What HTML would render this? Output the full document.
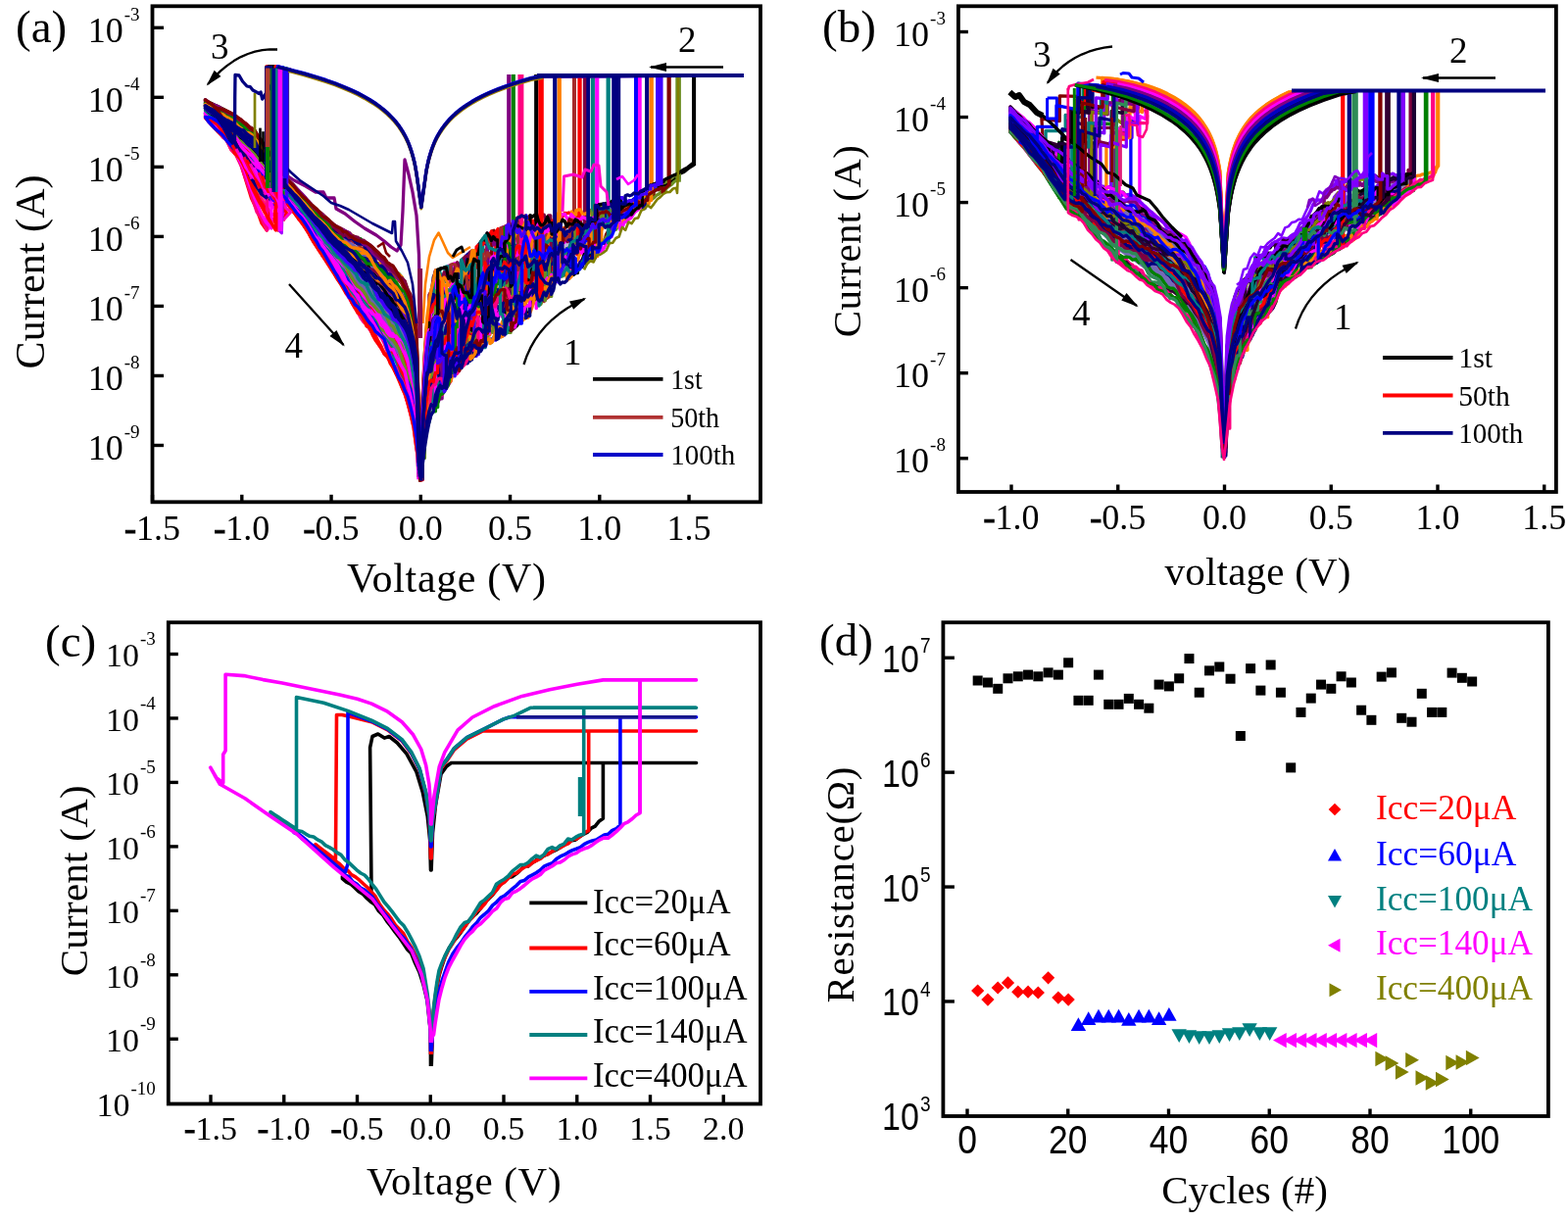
<!DOCTYPE html>
<html><head><meta charset="utf-8"><title>Figure</title>
<style>html,body{margin:0;padding:0;background:#fff}svg{display:block}</style>
</head><body>
<svg width="1600" height="1246" viewBox="0 0 1600 1246">
<defs><filter id="soft" x="0" y="0" width="1600" height="1246" filterUnits="userSpaceOnUse"><feGaussianBlur stdDeviation="0.6"/></filter></defs>
<rect width="1600" height="1246" fill="#fff"/>
<g filter="url(#soft)">
<g id="pa">
<rect x="155.5" y="6.3" width="620.5" height="506" fill="none" stroke="#000" stroke-width="3.8"/>
<line x1="155.55" y1="504.8" x2="155.55" y2="512.3" stroke="#000" stroke-width="3.4"/>
<text x="155.55" y="551" font-size="36" text-anchor="middle" font-family='"Liberation Serif", serif' fill="#000" ><tspan stroke="#000" stroke-width="1.1">-</tspan>1.5</text>
<line x1="246.8" y1="504.8" x2="246.8" y2="512.3" stroke="#000" stroke-width="3.4"/>
<text x="246.8" y="551" font-size="36" text-anchor="middle" font-family='"Liberation Serif", serif' fill="#000" ><tspan stroke="#000" stroke-width="1.1">-</tspan>1.0</text>
<line x1="338.05" y1="504.8" x2="338.05" y2="512.3" stroke="#000" stroke-width="3.4"/>
<text x="338.05" y="551" font-size="36" text-anchor="middle" font-family='"Liberation Serif", serif' fill="#000" ><tspan stroke="#000" stroke-width="1.1">-</tspan>0.5</text>
<line x1="429.3" y1="504.8" x2="429.3" y2="512.3" stroke="#000" stroke-width="3.4"/>
<text x="429.3" y="551" font-size="36" text-anchor="middle" font-family='"Liberation Serif", serif' fill="#000" >0.0</text>
<line x1="520.55" y1="504.8" x2="520.55" y2="512.3" stroke="#000" stroke-width="3.4"/>
<text x="520.55" y="551" font-size="36" text-anchor="middle" font-family='"Liberation Serif", serif' fill="#000" >0.5</text>
<line x1="611.8" y1="504.8" x2="611.8" y2="512.3" stroke="#000" stroke-width="3.4"/>
<text x="611.8" y="551" font-size="36" text-anchor="middle" font-family='"Liberation Serif", serif' fill="#000" >1.0</text>
<line x1="703.05" y1="504.8" x2="703.05" y2="512.3" stroke="#000" stroke-width="3.4"/>
<text x="703.05" y="551" font-size="36" text-anchor="middle" font-family='"Liberation Serif", serif' fill="#000" >1.5</text>
<line x1="155.5" y1="454.48" x2="167" y2="454.48" stroke="#000" stroke-width="3.4"/>
<text x="125.67" y="468.68" font-size="36" text-anchor="end" font-family='"Liberation Serif", serif' fill="#000" >10</text>
<text x="126.67" y="446.68" font-size="19" text-anchor="start" font-family='"Liberation Serif", serif' fill="#000" >-9</text>
<line x1="155.5" y1="383.45" x2="167" y2="383.45" stroke="#000" stroke-width="3.4"/>
<text x="125.67" y="397.65" font-size="36" text-anchor="end" font-family='"Liberation Serif", serif' fill="#000" >10</text>
<text x="126.67" y="375.65" font-size="19" text-anchor="start" font-family='"Liberation Serif", serif' fill="#000" >-8</text>
<line x1="155.5" y1="312.42" x2="167" y2="312.42" stroke="#000" stroke-width="3.4"/>
<text x="125.67" y="326.62" font-size="36" text-anchor="end" font-family='"Liberation Serif", serif' fill="#000" >10</text>
<text x="126.67" y="304.62" font-size="19" text-anchor="start" font-family='"Liberation Serif", serif' fill="#000" >-7</text>
<line x1="155.5" y1="241.39" x2="167" y2="241.39" stroke="#000" stroke-width="3.4"/>
<text x="125.67" y="255.59" font-size="36" text-anchor="end" font-family='"Liberation Serif", serif' fill="#000" >10</text>
<text x="126.67" y="233.59" font-size="19" text-anchor="start" font-family='"Liberation Serif", serif' fill="#000" >-6</text>
<line x1="155.5" y1="170.36" x2="167" y2="170.36" stroke="#000" stroke-width="3.4"/>
<text x="125.67" y="184.56" font-size="36" text-anchor="end" font-family='"Liberation Serif", serif' fill="#000" >10</text>
<text x="126.67" y="162.56" font-size="19" text-anchor="start" font-family='"Liberation Serif", serif' fill="#000" >-5</text>
<line x1="155.5" y1="99.33" x2="167" y2="99.33" stroke="#000" stroke-width="3.4"/>
<text x="125.67" y="113.53" font-size="36" text-anchor="end" font-family='"Liberation Serif", serif' fill="#000" >10</text>
<text x="126.67" y="91.53" font-size="19" text-anchor="start" font-family='"Liberation Serif", serif' fill="#000" >-4</text>
<line x1="155.5" y1="28.3" x2="167" y2="28.3" stroke="#000" stroke-width="3.4"/>
<text x="125.67" y="42.5" font-size="36" text-anchor="end" font-family='"Liberation Serif", serif' fill="#000" >10</text>
<text x="126.67" y="20.5" font-size="19" text-anchor="start" font-family='"Liberation Serif", serif' fill="#000" >-3</text>
<text x="16" y="43" font-size="47" text-anchor="start" font-family='"Liberation Serif", serif' fill="#000" >(a)</text>
<text x="455.5" y="604" font-size="42" text-anchor="middle" font-family='"Liberation Serif", serif' fill="#000" textLength="203" lengthAdjust="spacing">Voltage (V)</text>
<text transform="translate(45 277.4) rotate(-90)" font-size="42" text-anchor="middle" font-family='"Liberation Serif", serif' fill="#000" textLength="198" lengthAdjust="spacing">Current (A)</text>
</g>
<g id="pa-curves" fill="none" stroke-linejoin="miter" stroke-linecap="butt">
<polygon points="210,104.9 214,107.2 218,109.4 222.1,111.7 226.1,114 230.1,116.2 234.1,118.5 238.1,120.8 242.1,123.8 246.2,127 250.2,130.1 254.2,133.3 258.2,136.5 262.2,141.2 266.3,147 270.3,152.9 274.3,158.7 278.3,164.6 282.3,170.4 286.4,176.2 290.4,182.1 294.4,186.6 298.4,190.9 302.4,195.2 306.4,199.5 310.5,203.8 314.5,208.3 318.5,212.8 322.5,217 326.5,221 330.6,225 334.6,229.1 338.6,233.1 342.6,236.8 346.6,239.4 350.6,242 354.7,244.6 358.7,247.2 362.7,249.8 366.7,252.4 370.7,255 374.8,258 378.8,261.9 382.8,265.7 386.8,269.6 390.8,273.4 394.9,277.3 398.9,281.2 402.9,285.7 406.9,291.3 410.9,296.8 414.9,303.8 419,315.4 423,336.2 427,400.2 427,470 423,428.7 419,408.1 414.9,393.4 410.9,383.3 406.9,374.7 402.9,366 398.9,359.7 394.9,353.6 390.8,347.5 386.8,341.5 382.8,335.7 378.8,330 374.8,324.3 370.7,318.7 366.7,312.6 362.7,306.5 358.7,300.4 354.7,294.3 350.6,288.1 346.6,282 342.6,275.9 338.6,269.8 334.6,263.9 330.6,258 326.5,252.1 322.5,246.2 318.5,240.1 314.5,233.7 310.5,227.4 306.4,222 302.4,216.8 298.4,211.6 294.4,206.4 290.4,201.3 286.4,197.1 282.3,192.8 278.3,188.5 274.3,184.3 270.3,180 266.3,175.7 262.2,171.5 258.2,167.2 254.2,163.2 250.2,159.1 246.2,155.1 242.1,151 238.1,147 234.1,143.1 230.1,139.1 226.1,135.1 222.1,131.1 218,127.1 214,123.1 210,119.1" fill="#3c2a9a" fill-opacity="0.75" stroke="none"/>
<polygon points="438,324.8 442.1,312.3 446.1,304.6 450.1,301.8 454.2,299.3 458.2,296.7 462.3,294.4 466.4,292.1 470.4,289.3 474.4,285.5 478.5,281.9 482.6,278.5 486.6,275 490.6,270.5 494.7,265.1 498.8,261.6 502.8,259.8 506.9,258.1 510.9,256.4 515,254.7 519,252.6 523,249.5 527.1,246.3 531.1,243.3 535.2,242.5 539.2,241.6 543.3,240.7 547.4,239.8 551.4,238.9 555.5,237.9 559.5,237 563.5,235.9 567.6,234.8 571.6,233.7 575.7,232.7 579.8,231.6 583.8,229.9 587.9,228.2 591.9,226.5 596,224.8 600,223.1 600,253.7 596,256.7 591.9,259.7 587.9,262.6 583.8,265.6 579.8,268.6 575.7,271.4 571.6,274.2 567.6,277 563.5,279.9 559.5,282.9 555.5,285.8 551.4,288.7 547.4,291.6 543.3,294.5 539.2,297.3 535.2,300 531.1,302.7 527.1,306 523,309.4 519,312.6 515,314.8 510.9,317 506.9,319.2 502.8,321.4 498.8,323.8 494.7,327.1 490.6,331 486.6,334.6 482.6,337.9 478.5,341.2 474.4,345 470.4,349.5 466.4,353.8 462.3,357.8 458.2,362.3 454.2,367.7 450.1,373 446.1,379 442.1,386.9 438,400.7" fill="#4a2c9c" fill-opacity="0.35" stroke="none"/>
<polyline points="429,476.7 431.2,419.4 433.4,380.2 435.6,380.2 435.6,350.1 437.8,350.1 437.8,325.2 440,321.9 442.2,317.3 444.4,317.1 446.6,320.7 448.8,323.8 451,321.9 453.2,320.9 455.4,312.7 457.6,319.8 459.8,309.2 462,309.2 462,325.6 464.2,320.3 466.4,312.9 468.6,306.4 470.8,303.2 473,299.1 475.2,299.1 475.2,293.8 477.4,301.9 479.6,294.3 481.8,293.5 484,282.7 486.2,288.6 488.4,296.1 490.6,290.3 492.8,290.6 495,288.3 497.2,283.9 499.4,280.1 501.6,279.1 503.8,275.2 506,274.2 508.2,268.2 510.4,268.8 512.6,270.1 514.8,271.7 517,271.7 519.2,260.5 521.4,258.7 523.6,263.5" fill="none" stroke="#008000" stroke-width="3.3" stroke-linejoin="round" />
<line x1="523.63" y1="75.9" x2="523.63" y2="264.51" stroke="#008000" stroke-width="3.8"/>
<polyline points="294.2,71.3 288.2,69.9 288.2,192.7 281.6,192.5 275.1,190.5 268.5,183.3 261.9,177.3 255.4,167.8 248.8,159.1 242.3,151 235.7,137.5 229.2,124.3 222.6,114 216.1,106.5 209.5,102 212.5,104.2 215.5,105.4 218.5,106.9 221.5,108.5 224.5,109.8 227.5,111.3 230.5,112.8 233.4,114.6 236.4,116.2 239.4,117.9 242.4,121.6 245.4,124.1 248.4,125.2 251.4,127.8 254.4,129.5 257.4,131.1 260.4,134.2 263.4,140.2 266.4,142.7 269.4,147.5 272.4,152.8 275.3,156.4 278.3,161.7 281.3,165.3 284.3,169.9 287.3,174.5 290.3,179.1 293.3,182.4 296.3,185.9 299.3,188.6 302.3,192.2 305.3,196.7 308.3,200.5 311.3,204.2 314.3,206.8 317.3,209.2 320.2,212.6 323.2,214.1 326.2,217.4 329.2,219.7 332.2,222.9 335.2,226.8 338.2,228.4 341.2,229.7 344.2,232.3 347.2,234.1 350.2,236.7 353.2,238.2 356.2,240.9 359.2,242.2 362.2,241.7 365.1,244.1 368.1,243.7 371.1,247.8 374.1,250.3 377.1,253.4 380.1,256.3 383.1,259.7 386.1,263.2 389.1,264.7 392.1,269 395.1,271 398.1,274.3 401.1,275.9 404.1,278.9 407,279.2 410,282.7 413,288.9 416,295.7 419,304.7 422,320 425,343 427.6,450 427.6,478.3" fill="none" stroke="#008000" stroke-width="3.3" stroke-linejoin="round" />
<polyline points="428.8,488.1 429,476.8 431.2,419.6 433.4,381.2 435.6,354.5 437.8,354.5 437.8,314.2 440,309.3 442.2,318 444.4,318 444.4,276.1 446.6,283.7 448.8,294 451,290.3 453.2,288.2 455.4,285.9 457.6,285.9 457.6,271.2 459.8,276.3 462,269.6 464.2,280.1 466.4,273.3 468.5,275.2 470.7,266.7 472.9,265.8 475.1,269.9 477.3,272.2 479.5,274.2 481.7,270.5 483.9,261.2 486.1,262 488.3,264.5 490.5,270.3 492.7,263.4 494.9,265.4 497.1,262.7 499.3,266.2 501.5,259.1 503.7,255.8 505.9,268.8 508.1,269.4 510.3,270.2 512.5,260.3 514.7,249.1 516.9,243.5 519.1,240.4 521.3,239.8 523.5,241 525.7,241.3 527.9,247.2 530.1,236.7 532.3,237.9 534.5,236 536.7,240.9 538.9,244.1 541.1,247 543.2,247 543.2,269.8 545.4,262.3 547.6,253.4 549.8,248.2 552,246.8 554.2,244 556.4,242.1 558.6,246 560.8,241.6 563,236.3 565.2,234.5 567.4,233 569.6,234.3 571.8,234.3 571.8,264.7 574,258.1 576.2,256.2 578.4,257.2 580.6,258.6 582.8,258.6 582.8,280.1 585,274.3 587.2,274.3 589.4,273 591.6,267.4 593.8,265.1 596,265.1 596,246.9 598.2,245 600.4,245 600.4,233.6 602.6,234 604.8,239.7 607,235.5 609.2,233.5" fill="none" stroke="#ff00ff" stroke-width="3.3" stroke-linejoin="round" />
<line x1="609.16" y1="75.9" x2="609.16" y2="234.51" stroke="#ff00ff" stroke-width="3.8"/>
<polyline points="279.9,68 273.9,68 273.9,233.5 268.6,222.5 263.2,213.2 257.8,199.7 252.5,187.4 247.1,170.4 241.7,159 236.3,153.2 231,141.5 225.6,131.5 220.2,123.9 214.9,118.7 209.5,115.8 212.5,120.2 215.5,123.4 218.5,126 221.5,128.3 224.5,132.4 227.5,135 230.5,138.1 233.4,141.3 236.4,143.9 239.4,147.7 242.4,151.6 245.4,154.2 248.4,156.6 251.4,159.1 254.4,161.4 257.4,164.1 260.4,166.2 263.4,169.4 266.4,172.4 269.4,176.5 272.4,180.2 275.3,182.8 278.3,186.2 281.3,189.6 284.3,193.7 287.3,196.8 290.3,200.8 293.3,203.6 296.3,206.9 299.3,210.9 302.3,214.9 305.3,218 308.3,221.8 311.3,225.4 314.3,229.2 317.3,234.3 320.2,238.3 323.2,242.8 326.2,244.7 329.2,247.9 332.2,251.9 335.2,257.4 338.2,261.2 341.2,264.4 344.2,266.2 347.2,271 350.2,275.5 353.2,278.3 356.2,281.1 359.2,284.9 362.2,288.9 365.1,294 368.1,296.5 371.1,300.6 374.1,303.4 377.1,312.2 380.1,319.6 383.1,326.3 386.1,329.1 389.1,334.7 392.1,341.6 395.1,347.9 398.1,354.8 401.1,358.6 404.1,361.3 407,367.9 410,378 413,382.5 416,390.9 419,399.1 422,414.3 425,435.2 428,478.8 428.5,478.8" fill="none" stroke="#ff00ff" stroke-width="3.3" stroke-linejoin="round" />
<polyline points="429.1,480.5 431.2,463.4 433.4,443.7 435.6,427.7 437.8,418.5 440,412.4 442.2,412.1 444.4,412.1 444.4,415.5 446.6,410.7 448.9,406.8 451.1,406.8 451.1,403.3 453.3,398 455.5,396 457.7,380.7 459.9,375.4 462.1,363.3 464.3,356.5 466.5,359.5 468.7,358.9 470.9,361.3 473.1,362.9 475.3,352.4 477.5,345.9 479.7,351.6 481.9,350.5 484.1,352.4 486.3,342.5 488.6,340.2 490.8,334.4 493,334.4 493,337.9 495.2,329.6 497.4,319.6 499.6,310.1 501.8,302.9 504,302.9 504,332.1 506.2,334.9 508.4,336.4 510.6,337.6 512.8,329.1 515,323.4 517.2,319 519.4,316" fill="none" stroke="#800080" stroke-width="3.3" stroke-linejoin="round" />
<line x1="519.43" y1="75.9" x2="519.43" y2="317" stroke="#800080" stroke-width="3.8"/>
<polyline points="296.6,71.5 290.6,70.1 290.6,201.4 283.9,200.3 277.1,197.4 270.4,188.2 263.6,181.6 256.8,169.1 250.1,158.4 243.3,152.6 236.5,138.3 229.8,124.7 223,114.2 216.3,106.6 209.5,102 212.5,103.9 215.5,106.5 218.5,107.5 221.5,108.3 224.5,109.8 227.5,111.9 230.5,113.5 233.4,114.9 236.4,116.7 239.4,117.9 242.4,120.1 245.4,121.9 248.4,124.2 251.4,126.5 254.4,129.4 257.4,131.6 260.4,135.1 263.4,140.7 266.4,145.5 269.4,148.9 272.4,152.7 275.3,157.8 278.3,162.5 281.3,167.1 284.3,172.4 287.3,177.2 290.3,180.9 293.3,183.1 296.3,187 299.3,190.9 302.3,193.7 305.3,196.4 308.3,199.9 311.3,203.7 314.3,206.9 317.3,211.3 320.2,214.3 323.2,217.2 326.2,219.8 329.2,223.5 332.2,226.2 335.2,228.9 338.2,232.8 341.2,237 344.2,238 347.2,238.3 350.2,241.8 353.2,241.3 356.2,244.9 359.2,245.7 362.2,247.6 365.1,246.2 368.1,246.2 371.1,247.7 374.1,249.8 377.1,249.8 380.1,252.3 383.1,255.2 386.1,259.6 389.1,264.4 392.1,270.2 395.1,273.8 398.1,276.2 401.1,279.9 404.1,283.5 407,284.6 410,284.8 413,291.5 416,297.4 419,306 422,319.4 425,338.4 426.9,448 426.9,479.2" fill="none" stroke="#800080" stroke-width="3.3" stroke-linejoin="round" />
<polyline points="429.3,472.6 431.2,420.5 433.4,378.8 435.6,342.4 437.8,321.4 440,304.6 442.1,302.6 444.3,299.2 446.5,295.6 448.7,302.1 450.9,307.9 453.1,304.8 455.3,304.8 455.3,313.2 457.5,312.8 459.7,303 461.9,303.7 464.1,304.4 466.3,307.6 468.4,301.2 470.6,300.7 472.8,298 475,298.2 477.2,298.2 477.2,314.6 479.4,304.5 481.6,304.5 481.6,285.4 483.8,283.3 486,284.7 488.2,285.9 490.4,283.6 492.5,280.8 494.7,282.2 496.9,277.4 499.1,277.4 499.1,277.7 501.3,276.6 503.5,276.6 505.7,281.9 507.9,280.7 510.1,275 512.3,278.7 514.5,273.3 516.7,273.3 516.7,230.4 518.8,236.2 521,242.8 523.2,236.8 525.4,224.1 527.6,224.1 527.6,222.4 529.8,224 532,220 534.2,221.6 536.4,219.9 538.6,223.5 540.8,220.3 543,228.9 545.1,227.2 547.3,220.5 549.5,219.4 551.7,222.8" fill="none" stroke="#ff0000" stroke-width="3.3" stroke-linejoin="round" />
<line x1="551.72" y1="75.9" x2="551.72" y2="223.8" stroke="#ff0000" stroke-width="3.8"/>
<polyline points="278.2,67.7 272.2,67.7 272.2,235 267,227.9 261.7,212.9 256.5,202.3 251.3,185.6 246.1,168.2 240.8,158.1 235.6,152.1 230.4,141 225.2,131.2 219.9,123.7 214.7,118.6 209.5,115.7 212.5,118.5 215.5,120.9 218.5,123.4 221.5,126.4 224.5,129.5 227.5,131.8 230.5,134.7 233.4,137.3 236.4,139.8 239.4,142.4 242.4,144.9 245.4,147.4 248.4,150.1 251.4,151.9 254.4,156.1 257.4,159.8 260.4,162.2 263.4,166.4 266.4,170.4 269.4,173.1 272.4,176.1 275.3,178.9 278.3,182.3 281.3,185.4 284.3,188.6 287.3,191.8 290.3,195 293.3,199.4 296.3,203.1 299.3,206.3 302.3,210.4 305.3,213.7 308.3,218.1 311.3,222.5 314.3,227.4 317.3,231.9 320.2,235.3 323.2,239.6 326.2,242.5 329.2,245.9 332.2,249.7 335.2,255.8 338.2,259.1 341.2,264.2 344.2,269.6 347.2,274.1 350.2,275.9 353.2,279.2 356.2,282.5 359.2,289 362.2,290.1 365.1,296.9 368.1,300.4 371.1,305.2 374.1,306.6 377.1,312.1 380.1,313.9 383.1,317.5 386.1,323.1 389.1,327.9 392.1,332.4 395.1,336 398.1,340.8 401.1,342.1 404.1,345.3 407,353.1 410,360.1 413,367.8 416,372.7 419,381.6 422,395.9 425,417.3 427.6,474.4" fill="none" stroke="#ff0000" stroke-width="3.3" stroke-linejoin="round" />
<polyline points="429.2,477.9 431.2,467.1 433.4,448 435.7,429.8 437.9,420.7 440.1,396.9 442.3,396.2 444.6,398.5 446.8,386 449,391.3 451.2,403 453.5,395 455.7,395.8 457.9,392.2 460.1,388.8 462.4,373.7 464.6,360.4 466.8,362.2 469,371.4 471.2,368.1 473.5,363.1 475.7,354.2 477.9,345 480.1,344.8 482.4,338.3 484.6,331.9 486.8,331.5 489,339.5 491.3,325.3 493.5,320.8 495.7,325 497.9,328.5 500.2,330.2 502.4,327.5 504.6,324 506.8,319.5 509.1,316.4 511.3,315.6 513.5,310.3 515.7,313.6 517.9,313.6 517.9,261.9 520.2,268.4 522.4,261.5 524.6,253.4 526.8,257.5 529.1,268.6 531.3,266.3" fill="none" stroke="#ff0080" stroke-width="3.3" stroke-linejoin="round" />
<line x1="531.29" y1="75.9" x2="531.29" y2="267.3" stroke="#ff0080" stroke-width="3.8"/>
<polyline points="289.5,69.9 283.5,68.5 283.5,222.3 277.3,218.2 271.1,210.5 265,199.9 258.8,187.6 252.6,172.4 246.5,162.6 240.3,157.3 234.2,145 228,134.7 221.8,127 215.7,122.2 209.5,120 212.5,123.9 215.5,127.2 218.5,129.9 221.5,133 224.5,135.9 227.5,138.4 230.5,142.2 233.4,146.2 236.4,149.4 239.4,152.2 242.4,155.6 245.4,157.7 248.4,159.8 251.4,163 254.4,166.6 257.4,168.9 260.4,171.7 263.4,175.7 266.4,177.7 269.4,181.6 272.4,185.8 275.3,189.3 278.3,192.3 281.3,194.7 284.3,198.3 287.3,201.3 290.3,204.3 293.3,208.1 296.3,212 299.3,216 302.3,219.4 305.3,224 308.3,228 311.3,231.9 314.3,236.8 317.3,241 320.2,246.6 323.2,250.4 326.2,253.8 329.2,258 332.2,260.8 335.2,267.2 338.2,272.3 341.2,278.7 344.2,281.7 347.2,286.3 350.2,293.4 353.2,299.6 356.2,304 359.2,309.5 362.2,314.3 365.1,318.7 368.1,324.5 371.1,328.7 374.1,331.3 377.1,336.1 380.1,340.6 383.1,344.8 386.1,350.9 389.1,355.6 392.1,361.2 395.1,363.7 398.1,369.1 401.1,374.8 404.1,381.3 407,385.6 410,395 413,401.8 416,411.6 419,422.9 422,435 425,458 427.3,472.9" fill="none" stroke="#ff0080" stroke-width="3.3" stroke-linejoin="round" />
<polyline points="429.2,478.9 431.2,478.9 431.2,452.7 433.4,425 435.6,404.4 437.8,404.4 437.8,402.7 439.9,388.8 442.1,385.6 444.3,390.5 446.5,372.6 448.7,369.1 450.9,372.1 453.1,368.8 455.3,375.9 457.4,369.9 459.6,374 461.8,365.4 464,354.1 466.2,358.1 468.4,358.1 468.4,292.3 470.6,292.3 470.6,344.9 472.8,344.9 472.8,330.5 475,334.8 477.1,334.8 477.1,281.4 479.3,286.3 481.5,282.2 483.7,284.9 485.9,287.5 488.1,285.4 490.3,291.8 492.5,297.3 494.7,298.5 496.8,303.6 499,303.7 501.2,307.8 503.4,306.8 505.6,306.8 505.6,315.6 507.8,312.7 510,316.1 512.2,305.6 514.3,303.9 516.5,302.3 518.7,295.2 520.9,293.9 523.1,290.4 525.3,299.6 527.5,294.4 529.7,299.1 531.9,297.9 534,297.2 536.2,290.8 538.4,286.3 540.6,286.3 540.6,248.1 542.8,246.6 545,240.3 547.2,250.9" fill="none" stroke="#000000" stroke-width="3.3" stroke-linejoin="round" />
<line x1="547.17" y1="75.9" x2="547.17" y2="251.92" stroke="#000000" stroke-width="3.8"/>
<polyline points="289.5,70.1 283.5,68.7 283.5,203.3 277.3,202.6 271.2,194.1 265,186 258.8,178.9 252.7,165.6 246.5,155.2 240.3,150 234.2,137 228,125.4 221.8,116.5 215.7,110.3 209.5,106.8 212.5,109.4 215.5,111.5 218.5,113.5 221.5,116.4 224.5,117.9 227.5,120 230.5,122.1 233.4,123.8 236.4,124 239.4,126.3 242.4,128.4 245.4,130.7 248.4,132.3 251.4,135.7 254.4,138 257.4,140.4 260.4,142.9 263.4,147.1 266.4,151.3 269.4,155.9 272.4,158.7 275.3,162.9 278.3,167.8 281.3,172.3 284.3,177.1 287.3,181.3 290.3,186.2 293.3,189 296.3,192 299.3,195.5 302.3,198.4 305.3,201.9 308.3,205.1 311.3,209.6 314.3,213 317.3,216.4 320.2,220.3 323.2,224.2 326.2,228.1 329.2,233.1 332.2,234.6 335.2,238 338.2,241.3 341.2,243.9 344.2,245.5 347.2,248.5 350.2,250.4 353.2,251.6 356.2,254.7 359.2,255.6 362.2,257.7 365.1,261 368.1,263.3 371.1,264.6 374.1,268.4 377.1,274.3 380.1,278.3 383.1,281.7 386.1,285.4 389.1,287.1 392.1,288.9 395.1,292.6 398.1,295.2 401.1,295.3 404.1,300.5 407,303.9 410,311.3 413,318.5 416,325.2 419,335.7 422,351.5 425,373 427.9,459 427.9,469.1" fill="none" stroke="#000000" stroke-width="3.3" stroke-linejoin="round" />
<polyline points="283.5,68.7 297.2,72 310.2,75.4 321.8,78.8 332.4,82.2 341.9,85.6 350.5,88.9 358.2,92.2 365.2,95.6 371.5,98.9 377.2,102.2 382.3,105.4 387,108.7 391.1,112 394.9,115.2 398.3,118.5 401.4,121.7 404.2,125 406.7,128.2 408.9,131.4 411,134.7 412.8,137.9 414.5,141.1 416,144.3 417.3,147.5 418.5,150.7 419.6,153.9 420.6,157.1 421.5,160.3 422.3,163.5 423.1,166.7 423.7,169.9 424.3,173.1 424.8,176.3 425.3,179.5 429.8,211.6 434.3,179.7 434.7,176.6 435.2,173.6 435.8,170.6 436.4,167.6 437.1,164.6 437.8,161.6 438.7,158.5 439.6,155.5 440.6,152.5 441.7,149.5 442.9,146.5 444.2,143.5 445.7,140.5 447.4,137.4 449.2,134.4 451.2,131.4 453.4,128.4 455.8,125.4 458.4,122.4 461.4,119.3 464.6,116.3 468.2,113.3 472.1,110.3 476.5,107.3 481.3,104.3 486.6,101.3 492.4,98.2 498.8,95.2 505.9,92.2 513.7,89.2 522.4,86.2 531.9,83.2 542.3,80.1 553.9,78.1 758.8,76.9" fill="none" stroke="#000000" stroke-width="3.0" stroke-linejoin="round" />
<polyline points="429.1,487.3 429.1,481.5 431.2,481.5 431.2,432.9 433.4,395.2 435.6,358.3 437.8,337.8 440,318.1 442.1,304.2 444.3,295.2 446.5,289.1 448.7,290.6 450.9,289.7 453.1,295.1 455.3,298.9 457.5,298.9 457.5,336.3 459.7,336.3 459.7,272.7 461.9,269.6 464.1,268.8 466.3,275.7 468.4,269.2 470.6,272.2 472.8,268.5 475,270.3 477.2,271.5 479.4,279.2 481.6,264.9 483.8,266.3 486,268.8 488.2,273.6 490.4,273.6 490.4,306.4 492.6,297.4 494.7,297.4 494.7,330.8 496.9,338 499.1,332.9 501.3,325.5 503.5,320.8 505.7,321.6 507.9,321.5 510.1,313.5 512.3,304.1 514.5,300.5 516.7,297.6 518.9,300.2 521,301.8 523.2,295.2 525.4,296.4 527.6,303.3 529.8,307.5 532,307.5 532,327.6 534.2,314.5 536.4,314.5 536.4,287.9 538.6,287 540.8,292.3 543,292.3 543,309.5 545.2,309.7 547.3,309.7 547.3,314.7 549.5,301.6 551.7,292 553.9,292 553.9,277.6 556.1,282 558.3,280.4 560.5,280.4 560.5,251.9 562.7,254.4 564.9,253.6 567.1,251.6 569.3,251.1 571.5,254.4 573.6,246.5 575.8,247.5 578,244.8 580.2,245.6 582.4,245.6 582.4,239.3 584.6,239 586.8,240.2 589,233.5 591.2,236.8 593.4,236.9 595.6,237.8 597.8,239.6 599.9,236.8 602.1,235.4 604.3,237 606.5,236.5 608.7,237.1 610.9,234.8 613.1,234.8 613.1,256.8 615.3,255 617.5,250.5 619.7,246.5 621.9,241.7 624.1,241.7 624.1,228 626.2,225.4 628.4,223.8 630.6,223.1 632.8,219 635,216.3 637.2,215 639.4,214.5 641.6,214.2 643.8,213.1 646,211.5 648.2,211 650.4,209.5 652.5,205.9" fill="none" stroke="#ff00ff" stroke-width="3.3" stroke-linejoin="round" />
<line x1="652.55" y1="75.9" x2="652.55" y2="206.93" stroke="#ff00ff" stroke-width="3.8"/>
<polyline points="296.9,71.8 290.9,70.4 290.9,219.2 284.1,214.5 277.4,208.4 270.6,200.4 263.8,192.1 257,177.8 250.2,167.8 243.4,158.8 236.6,146.1 229.9,133.4 223.1,123.7 216.3,117 209.5,113.3 212.5,116.8 215.5,119.1 218.5,121.3 221.5,123.3 224.5,126.4 227.5,128.5 230.5,130.6 233.4,133.5 236.4,135.7 239.4,138.2 242.4,141 245.4,143 248.4,146.8 251.4,150 254.4,152.3 257.4,155.4 260.4,159.1 263.4,162.4 266.4,166.5 269.4,170 272.4,174 275.3,177.6 278.3,181.4 281.3,185.2 284.3,187.3 287.3,190.7 290.3,195.5 293.3,199.4 296.3,203.5 299.3,206.4 302.3,209.9 305.3,213.4 308.3,217.4 311.3,221.8 314.3,226.1 317.3,230.1 320.2,235.3 323.2,238.9 326.2,242.6 329.2,246.5 332.2,250.5 335.2,254.7 338.2,259.4 341.2,263.7 344.2,268.9 347.2,272.2 350.2,276.3 353.2,281 356.2,285.4 359.2,289.7 362.2,293.9 365.1,294.8 368.1,297.2 371.1,302.7 374.1,305.6 377.1,309.8 380.1,312 383.1,316 386.1,320.6 389.1,326.7 392.1,329.9 395.1,333.7 398.1,339.6 401.1,340.7 404.1,344.3 407,349 410,355.5 413,361.1 416,369.1 419,382.1 422,398.3 425,420.1 428,476.2 428.1,488.1" fill="none" stroke="#ff00ff" stroke-width="3.3" stroke-linejoin="round" />
<polyline points="428.9,472.1 429,472.1 431.2,472.1 431.2,436.1 433.4,436.1 433.4,403.9 435.6,372.5 437.8,358.8 440,352.7 442.2,345.8 444.4,345.8 444.4,415.6 446.6,397.7 448.8,390.1 451,390.1 451,343.6 453.2,342.9 455.5,342.9 455.5,379.5 457.7,364.1 459.9,356.5 462.1,354.7 464.3,343.9 466.5,347.9 468.7,340 470.9,334.3 473.1,338.9 475.3,342.7 477.5,345.6 479.7,336.1 481.9,329.2 484.1,329.2 484.1,266.1 486.3,266.1 486.3,256.1 488.5,259.5 490.7,258.2 492.9,255.3 495.1,255.4 497.3,259.5 499.5,259 501.7,259 501.7,236 504,235.2 506.2,246 508.4,258 510.6,257.9 512.8,258.4 515,257.1 517.2,251.8 519.4,250.4 521.6,263.3 523.8,255.6 526,255.6 526,298.3 528.2,285.5 530.4,287.2 532.6,284.8 534.8,290.7 537,297.4 539.2,289.1 541.4,291.1 543.6,291.1 543.6,309.3 545.8,304.7 548,300.1 550.2,300.1 550.2,244.2 552.5,243.5 554.7,247.7 556.9,251.8 559.1,252.5 561.3,257.2 563.5,257.1 565.7,253.3 567.9,253.3 567.9,234.4 570.1,237.5 572.3,246.1 574.5,244.8 576.7,242.7 578.9,245.1 581.1,242.3 583.3,242.3 583.3,223.6 585.5,221.9 587.7,224.5 589.9,225.5 592.1,225.5 592.1,236.2 594.3,237.1 596.5,239.1 598.7,239.7 601,239.7 601,259.9 603.2,261.5 605.4,261.5 605.4,263.1 607.6,263.1 607.6,245.3 609.8,245 612,244.6 614.2,246.7 616.4,248.2 618.6,239.1 620.8,235.6 623,232.2 625.2,232.5 627.4,229.2 629.6,224.7 631.8,222.1 634,222.1 634,213.2 636.2,211.3 638.4,210.4 640.6,208.3 642.8,207.3 645,205.6 647.2,203.8 649.5,203.9 651.7,202.6 653.9,201 656.1,201 658.3,201.2 660.5,199.6 662.7,199.6 662.7,202.1 664.9,199.6 667.1,199.6 667.1,192.7 669.3,192.1 671.5,190.8 673.7,189.7 675.9,189.3 678.1,188.4 680.3,187.8 682.5,185.9" fill="none" stroke="#800000" stroke-width="3.3" stroke-linejoin="round" />
<line x1="682.52" y1="75.9" x2="682.52" y2="186.87" stroke="#800000" stroke-width="3.8"/>
<polyline points="286.6,70 280.6,69.2 280.6,193.9 274.7,193.7 268.8,188.2 262.8,181.5 256.9,174 251,164 245.1,155.2 239.1,148.7 233.2,135.3 227.3,123.1 221.4,113.4 215.4,106.4 209.5,102 212.5,103.9 215.5,105.6 218.5,106.9 221.5,108.3 224.5,109.8 227.5,111.3 230.5,112.8 233.4,114.4 236.4,116.1 239.4,117.4 242.4,119.8 245.4,121.9 248.4,124.6 251.4,126.5 254.4,129.8 257.4,131 260.4,133.6 263.4,138.8 266.4,143 269.4,148.9 272.4,153.5 275.3,157.9 278.3,162 281.3,166.1 284.3,169.9 287.3,174.7 290.3,179.5 293.3,183.5 296.3,186.4 299.3,189.4 302.3,192.8 305.3,196 308.3,200 311.3,203.3 314.3,205.5 317.3,208.2 320.2,211.1 323.2,214.4 326.2,216.4 329.2,218.6 332.2,221.4 335.2,224.2 338.2,226.9 341.2,229.7 344.2,231.4 347.2,232.9 350.2,234.4 353.2,236.6 356.2,237.5 359.2,240.4 362.2,241.5 365.1,244.5 368.1,246.2 371.1,246.6 374.1,249.5 377.1,254.5 380.1,257.8 383.1,258.8 386.1,258.6 389.1,266 392.1,272.1 395.1,274.7 398.1,276.1 401.1,277.8 404.1,278.6 407,280.2 410,284.6 413,286.8 416,295.3 419,300.9 422,316.6 425,335.2 428,447.9 428.5,474.3" fill="none" stroke="#800000" stroke-width="3.3" stroke-linejoin="round" />
<polyline points="429.4,491 429.4,490.6 431.2,467.4 433.4,467.4 433.4,429.1 435.6,392.3 437.8,371.3 440,351.6 442.2,335.3 444.3,335.3 444.3,297 446.5,303.2 448.7,312.7 450.9,320.4 453.1,326.5 455.3,319 457.5,316.4 459.7,317.9 461.9,318.6 464.1,316.5 466.3,319.8 468.5,323.3 470.7,324.8 472.8,327.3 475,321.7 477.2,330.1 479.4,342.2 481.6,337.3 483.8,345.5 486,338.6 488.2,339.4 490.4,344.2 492.6,338.5 494.8,331.2 497,331.9 499.2,331.9 501.4,332.1 503.5,337.1 505.7,334.2 507.9,333.6 510.1,335.5 512.3,341 514.5,341 514.5,316.5 516.7,320.9 518.9,320.9 518.9,339.4 521.1,339.4 521.1,298.6 523.3,298.6 523.3,312.6 525.5,308.3 527.7,308.3 527.7,255.5 529.9,257.6 532,265.5 534.2,274.8 536.4,282.8 538.6,277.9 540.8,284.5 543,284.1 545.2,284.1 545.2,289 547.4,289 547.4,298.6 549.6,303.7 551.8,303.7 551.8,310.6 554,305.4 556.2,306.5 558.4,299.6 560.5,302.4 562.7,302.4 562.7,264.9 564.9,265.1 567.1,264.9 569.3,266.2 571.5,264.6 573.7,264.6 573.7,282.1 575.9,280.9 578.1,279.6 580.3,277.8 582.5,279.6 584.7,279.6 584.7,280.8 586.9,278.9 589.1,277 591.2,271.7 593.4,267.4 595.6,266.8 597.8,264 600,258.4 602.2,253 604.4,250.2 606.6,247.1 608.8,247 611,250.8 613.2,246.3 615.4,245.7 617.6,243.6 619.7,241.1 621.9,238.6 624.1,235.5 626.3,233.6 628.5,233.6 628.5,234.3 630.7,231 632.9,229.2 635.1,227 637.3,221.5 639.5,221.5 641.7,219.7 643.9,218.2 646.1,215.5 648.2,212.9 650.4,210.1 652.6,208.3 654.8,206.9 657,206.1 659.2,203.6 661.4,204.4 663.6,202.8 665.8,202.9 668,201.1 670.2,199.1 672.4,198 674.6,195.9 676.7,195 678.9,195 678.9,186.7 681.1,184.4 683.3,183.2 685.5,183.5 687.7,182.5 689.9,180.7 692.1,179.9" fill="none" stroke="#6b8e23" stroke-width="3.3" stroke-linejoin="round" />
<line x1="692.1" y1="75.9" x2="692.1" y2="180.93" stroke="#6b8e23" stroke-width="3.8"/>
<polyline points="296.8,71.4 290.8,70 290.8,196.2 284,197.6 277.3,193.1 270.5,186.4 263.7,178.4 256.9,168.7 250.2,160 243.4,153 236.6,140.6 229.8,129.9 223.1,122.3 216.3,117.6 209.5,115.9 212.5,119.9 215.5,123 218.5,125.5 221.5,128.9 224.5,130.4 227.5,134.4 230.5,138.2 233.4,140.8 236.4,144.6 239.4,146.6 242.4,149.3 245.4,151.5 248.4,154.1 251.4,157.3 254.4,161.1 257.4,164.9 260.4,167.5 263.4,170.3 266.4,173.1 269.4,175.4 272.4,178.4 275.3,182.4 278.3,185.3 281.3,188.9 284.3,192.7 287.3,195.3 290.3,198.3 293.3,201.6 296.3,205.7 299.3,209.7 302.3,213.6 305.3,218.1 308.3,222.9 311.3,228 314.3,231.4 317.3,235 320.2,239.4 323.2,243.2 326.2,246.8 329.2,250.5 332.2,255.1 335.2,260 338.2,264.9 341.2,269.8 344.2,272.3 347.2,277 350.2,281.8 353.2,289 356.2,291.4 359.2,296.4 362.2,300.3 365.1,305.3 368.1,309 371.1,313.5 374.1,317.8 377.1,323.8 380.1,325.7 383.1,327.3 386.1,333.5 389.1,336.2 392.1,337.7 395.1,341.5 398.1,345 401.1,347.4 404.1,351.6 407,356.3 410,364.8 413,374.6 416,384.8 419,394.9 422,411.4 425,428.7 426.8,475.9" fill="none" stroke="#6b8e23" stroke-width="3.3" stroke-linejoin="round" />
<polyline points="429,487.9 429,484.8 431.2,446.9 433.4,421.2 435.6,398.7 437.8,389.4 440,378.2 442.2,378.2 442.2,346.2 444.4,346.2 444.4,404 446.6,404 446.6,411.2 448.8,393.3 451,380.9 453.2,380.4 455.4,367 457.6,358.5 459.8,356.6 462,358.1 464.2,335.3 466.4,330.6 468.6,338.3 470.8,338.3 470.8,342.7 473,344 475.2,339.1 477.4,335.3 479.6,335.7 481.8,337.2 484,328.3 486.2,329.3 488.4,321.1 490.6,319.2 492.8,319.2 492.8,342.6 495,329.9 497.2,319.1 499.4,321.3 501.6,320.3 503.8,312.2 506,309.7 508.1,308.3 510.3,305.1 512.5,299.6 514.7,299.6 514.7,341.8 516.9,334.1 519.1,336.2 521.3,336.2 521.3,337.6 523.5,335.7 525.7,333.9 527.9,332 530.1,322.1 532.3,316 534.5,310.3 536.7,310.3 536.7,324.4 538.9,322.4 541.1,314.6 543.3,306.5 545.5,306 547.7,299.8 549.9,288.3 552.1,274.7 554.3,264.4 556.5,265 558.7,261.6 560.9,264.9 563.1,260.9 565.3,251.1 567.5,251.1 567.5,222.1 569.7,226.5 571.9,226.5 571.9,268.1 574.1,261.6 576.3,259.4 578.5,259.4 578.5,284.1 580.7,284.3 582.9,280.6 585.1,280.4 587.3,278.5 589.5,278.5 589.5,276.6 591.7,270.5 593.9,266 596.1,259.4 598.3,263.1 600.5,260.7 602.7,256.4 604.9,250.9 607.1,246 609.3,246 609.3,238.2 611.5,238.2 611.5,209.6 613.7,212.1 615.9,210.1 618.1,207.5 620.3,209.6 622.5,208.4 624.7,206.4 626.9,209.8 629.1,210.7 631.3,210.9 633.5,210 635.7,210.8 637.9,209.6 640.1,207.7 642.3,207.1 644.5,207.1 646.7,207.1 646.7,203 648.9,202.2 651.1,202.3 653.3,201.4 655.5,201.3 657.7,199.1 659.9,199.4 662.1,198.1 664.3,196.3 666.4,194.5 668.6,194.5 668.6,192.2 670.8,191.8 673,191.3 675.2,190.6 677.4,190 679.6,189.4 681.8,188.3 684,186.4 686.2,185.3 688.4,183.4 690.6,181.9 692.8,181.9 692.8,177.5 695,176.7 697.2,175.8 699.4,174.3 701.6,172.5 703.8,170.9 706,169.6 708.2,168.2" fill="none" stroke="#000000" stroke-width="3.3" stroke-linejoin="round" />
<line x1="708.22" y1="75.9" x2="708.22" y2="169.18" stroke="#000000" stroke-width="3.8"/>
<polyline points="282.8,69 276.8,69 276.8,204.5 271.2,198.8 265.6,195.6 260,184.1 254.4,176.1 248.8,161.9 243.1,152.1 237.5,146.7 231.9,135.2 226.3,124.7 220.7,116.6 215.1,111.1 209.5,108 212.5,110.5 215.5,112.2 218.5,114.2 221.5,116.2 224.5,118.5 227.5,120.6 230.5,123.5 233.4,124.3 236.4,126 239.4,128.4 242.4,131.3 245.4,133.9 248.4,136.4 251.4,137.5 254.4,140.3 257.4,142.1 260.4,145 263.4,148.8 266.4,153.9 269.4,158.3 272.4,162.1 275.3,165.3 278.3,169.4 281.3,173.9 284.3,178.3 287.3,182.2 290.3,185.3 293.3,188.2 296.3,191.8 299.3,196.4 302.3,199.2 305.3,203.1 308.3,205.6 311.3,209.9 314.3,212.6 317.3,216.5 320.2,220.2 323.2,223.7 326.2,227.3 329.2,230 332.2,232.9 335.2,235 338.2,240.4 341.2,241.8 344.2,245 347.2,248.6 350.2,252.8 353.2,257.6 356.2,261.5 359.2,264.1 362.2,264.9 365.1,267.7 368.1,273.1 371.1,276.3 374.1,277.7 377.1,281.8 380.1,284.4 383.1,292.2 386.1,296.9 389.1,297.8 392.1,299.5 395.1,302.1 398.1,304 401.1,306.4 404.1,309 407,311.9 410,316.2 413,320.4 416,328.5 419,341.4 422,354.1 425,372.5 428,459.8 428,483.9" fill="none" stroke="#000000" stroke-width="3.3" stroke-linejoin="round" />
<polyline points="428.9,491.2 429,476.9 431.2,419.9 433.4,377.1 435.6,343.8 437.8,321.8 440,305.7 442.2,288 444.4,276.6 446.6,275.2 448.8,279.4 451,280.2 453.2,287.4 455.4,287.4 455.4,272 457.6,271.8 459.8,279.6 462,287.1 464.2,288.1 466.4,284.2 468.6,278.2 470.8,283.8 473,283.8 473,272.9 475.2,282.6 477.4,282.2 479.6,275.5 481.8,268 484,275.1 486.2,272.7 488.4,272.7 488.4,250 490.6,246.8 492.8,246.8 492.8,284 495,284.9 497.2,274 499.4,276.6 501.6,281.3 503.8,282.1 506,289.5 508.2,288.9 510.4,287.7 512.6,294.3 514.8,291.6 517,275.9 519.2,271.2 521.4,272.7 523.6,258.9 525.8,263.5 528,259.5 530.2,248.8 532.4,248.7 534.6,240.6 536.8,240.6 536.8,264 539,265.4 541.2,270 543.4,269.5 545.6,263.4 547.8,257.4 550,257.4 550,312.2 552.2,306.4 554.4,306.4 554.4,306.1 556.6,299.9 558.8,292.8 561,293 563.2,285.3 565.4,280.2 567.6,278.7 569.8,267.7 572,267.7 574.2,267.7 574.2,260.7 576.4,260.8 578.6,258 580.8,253.2 583,252.6 585.2,251.1 587.4,251.1 587.4,255.6 589.6,255 591.8,253.4 594,250.8 596.2,250.8 596.2,230.7 598.4,230.6 600.6,228.6 602.8,225.4 605,220.5" fill="none" stroke="#008080" stroke-width="3.3" stroke-linejoin="round" />
<line x1="604.98" y1="75.9" x2="604.98" y2="221.51" stroke="#008080" stroke-width="3.8"/>
<polyline points="286.6,69.4 280.6,68.5 280.6,187.7 274.7,186.5 268.8,182.8 262.8,178.6 256.9,172.2 251,161.8 245.1,153.4 239.1,147.8 233.2,136.7 227.3,126.2 221.4,118.3 215.4,113 209.5,110.3 212.5,113.8 215.5,115.6 218.5,118 221.5,120.7 224.5,123.2 227.5,125.2 230.5,126.8 233.4,130.1 236.4,131.6 239.4,133.2 242.4,136.8 245.4,138.8 248.4,141.2 251.4,143.1 254.4,146.7 257.4,149.8 260.4,152.7 263.4,155.8 266.4,160.6 269.4,165 272.4,168.7 275.3,173.5 278.3,176.6 281.3,181.3 284.3,185.1 287.3,189 290.3,192.6 293.3,196.3 296.3,200 299.3,203.3 302.3,206.7 305.3,210.4 308.3,213.8 311.3,217.8 314.3,222.3 317.3,226 320.2,230.1 323.2,234.6 326.2,237.3 329.2,240.3 332.2,244.5 335.2,248.3 338.2,250.3 341.2,255.4 344.2,259 347.2,262.3 350.2,265.1 353.2,268 356.2,270.5 359.2,275.4 362.2,278.7 365.1,278.9 368.1,279.8 371.1,284.1 374.1,288.4 377.1,290.1 380.1,292.1 383.1,300.9 386.1,302.9 389.1,306.3 392.1,304.1 395.1,309.3 398.1,311.3 401.1,313.9 404.1,315.8 407,321.8 410,326.5 413,334 416,339.5 419,351.6 422,365.5 425,387.6 426.9,465 426.9,473.9" fill="none" stroke="#008080" stroke-width="3.3" stroke-linejoin="round" />
<polyline points="430.2,472.9 431.2,408.7 433.4,363.1 435.6,334.8 437.8,334.8 437.8,340.5 440,335.8 442.3,344 444.5,334.1 446.7,333 448.9,333 448.9,384.2 451.1,372.4 453.3,367 455.5,361.1 457.7,364.1 459.9,364.1 459.9,326.8 462.1,328.1 464.4,318.2 466.6,313.1 468.8,313.1 468.8,329.8 471,324.7 473.2,324.7 473.2,265.5 475.4,265.5 475.4,261.3 477.6,259.4 479.8,257.5 482,255.5 484.2,264.2 486.5,269.5 488.7,273.5 490.9,270.6 493.1,259.4 495.3,259.2 497.5,249 499.7,245.5 501.9,245.3 504.1,246.9 506.3,250.6 508.6,250.2 510.8,246 513,248.1 515.2,254.2 517.4,254.8 519.6,260.2 521.8,245.2 524,240.9 526.2,237.8 528.4,246.4 530.7,234.4 532.9,231.6 535.1,240.1 537.3,229.3 539.5,236.8 541.7,238.1 543.9,234.8 546.1,234.8 546.1,259.4 548.3,247.3 550.5,247.3 550.5,275.6 552.8,278.9 555,278.9 555,307.6 557.2,305 559.4,303.5 561.6,298 563.8,297.4 566,288.6 568.2,284.8 570.4,275.4 572.6,269.3 574.9,264.7 577.1,262 579.3,262 579.3,257.1 581.5,251 583.7,252.2 585.9,245" fill="none" stroke="#a52a2a" stroke-width="3.3" stroke-linejoin="round" />
<line x1="585.9" y1="75.9" x2="585.9" y2="245.97" stroke="#a52a2a" stroke-width="3.8"/>
<polyline points="289.9,69.7 283.9,68.3 283.9,194.5 277.7,191.6 271.5,187.7 265.3,184.4 259.1,174.1 252.9,165.7 246.7,157.2 240.5,149.2 234.3,136.4 228.1,123.9 221.9,114 215.7,107 209.5,102.7 212.5,104.6 215.5,106.6 218.5,107.5 221.5,108.9 224.5,110.7 227.5,112 230.5,112.8 233.4,114.3 236.4,115.8 239.4,118 242.4,120.8 245.4,122.4 248.4,124.2 251.4,126.5 254.4,129.5 257.4,131.9 260.4,135.2 263.4,140.1 266.4,144.4 269.4,148.7 272.4,152.5 275.3,156.9 278.3,161.7 281.3,166.4 284.3,170.5 287.3,175.8 290.3,179.2 293.3,182.6 296.3,185.5 299.3,188.6 302.3,192.7 305.3,197.4 308.3,201.6 311.3,205 314.3,208.9 317.3,213.3 320.2,216.2 323.2,219.4 326.2,221.3 329.2,224 332.2,225.5 335.2,227.9 338.2,230.8 341.2,232.9 344.2,235.8 347.2,236.9 350.2,238.6 353.2,240 356.2,240.4 359.2,245.4 362.2,247.2 365.1,248.8 368.1,252.5 371.1,254.1 374.1,256.4 377.1,258.6 380.1,261 383.1,263.9 386.1,263.9 389.1,266.2 392.1,267.3 395.1,272.8 398.1,273.6 401.1,278.5 404.1,281.8 407,286.4 410,289.4 413,297.7 416,305.1 419,309.9 422,328 425,341.7 428,448.5 428.6,471.5" fill="none" stroke="#a52a2a" stroke-width="3.3" stroke-linejoin="round" />
<polyline points="429.6,491.4 429.6,489.7 431.2,489.7 431.2,459.2 433.4,423 435.6,387.7 437.8,360.5 440,336.9 442.2,333 444.4,332.4 446.6,339.7 448.8,348.1 451,344 453.1,347.2 455.3,347.2 455.3,333.8 457.5,324.9 459.7,319.6 461.9,320.5 464.1,321.9 466.3,328.7 468.5,328.7 468.5,374.2 470.7,367.2 472.9,359.1 475.1,357.3 477.3,344 479.5,341.5 481.7,341.2 483.9,340.1 486.1,334.6 488.3,338.6 490.5,343.2 492.7,337.4 494.9,337.4 494.9,326.2 497,312.8 499.2,300.1 501.4,297.5 503.6,298 505.8,298 505.8,250.7 508,250.7 508,238.7 510.2,249.6 512.4,237.4 514.6,249.3 516.8,249.3 516.8,230.3 519,231.1 521.2,231.1 523.4,228.8 525.6,232.1 527.8,239.1 530,242.9 532.2,249 534.4,251.3 536.6,243.3 538.8,250.4 541,262 543.1,261.9 545.3,258.4 547.5,261.6 549.7,265.5 551.9,265.4 554.1,264.1 556.3,271.6 558.5,276.6 560.7,276.6 560.7,277.8 562.9,274.8 565.1,271.4 567.3,267.1 569.5,270.6 571.7,270.6 571.7,261.7 573.9,262.5 576.1,263.2 578.3,262.2 580.5,260.3 582.7,260.4 584.9,257 587,257.8 589.2,259.9 591.4,260" fill="none" stroke="#ff0000" stroke-width="3.3" stroke-linejoin="round" />
<line x1="591.44" y1="75.9" x2="591.44" y2="261" stroke="#ff0000" stroke-width="3.8"/>
<polyline points="286.7,68.8 280.7,67.8 280.7,226.7 274.8,219.8 268.9,210.1 262.9,201.5 257,187.8 251.1,173.8 245.1,162.3 239.2,154.8 233.2,144.2 227.3,134.2 221.4,126.8 215.4,122.1 209.5,120 212.5,123.5 215.5,126.4 218.5,129.8 221.5,133.5 224.5,136.6 227.5,139.9 230.5,142 233.4,145.5 236.4,149.4 239.4,152.5 242.4,155.6 245.4,158.6 248.4,161.3 251.4,163.7 254.4,165.6 257.4,168.9 260.4,173.2 263.4,176.4 266.4,179.9 269.4,183.4 272.4,186.4 275.3,189.3 278.3,191.4 281.3,195.3 284.3,198.3 287.3,201.3 290.3,204.3 293.3,208.1 296.3,212 299.3,215.8 302.3,219.8 305.3,224 308.3,227.7 311.3,232 314.3,236.6 317.3,242.4 320.2,247.3 323.2,251.9 326.2,256.6 329.2,260.5 332.2,264.9 335.2,270.4 338.2,275 341.2,279.7 344.2,284.7 347.2,289.3 350.2,294.5 353.2,299.4 356.2,301.8 359.2,309.2 362.2,314.3 365.1,319.5 368.1,320.9 371.1,324 374.1,332.9 377.1,334.2 380.1,337.8 383.1,342.1 386.1,348.4 389.1,353.6 392.1,361.2 395.1,364.2 398.1,368.2 401.1,372.8 404.1,381.3 407,384.7 410,390.7 413,395.9 416,402 419,411.2 422,427.6 425,446.3 426.8,482.5" fill="none" stroke="#ff0000" stroke-width="3.3" stroke-linejoin="round" />
<polyline points="428.9,487.1 429,479.6 431.2,428.9 433.4,428.9 433.4,377.7 435.6,377.7 435.6,338.1 437.8,320 440,301.2 442.2,301.2 442.2,282.5 444.4,278.7 446.6,278.7 446.6,286.2 448.8,286.2 448.8,274.4 451,273.6 453.2,273.6 453.2,272.8 455.4,278.2 457.6,273.9 459.8,273.9 459.8,270.3 462,285.6 464.2,277.1 466.4,270.8 468.6,271.9 470.8,265.3 473,263.4 475.2,270.9 477.4,285.3 479.6,286.2 481.8,286.5 484,286.5 484,311.1 486.2,320.4 488.4,320.4 488.4,302.8 490.7,290.2 492.9,280.3 495.1,276.4 497.3,274.5 499.5,274.5 499.5,297.2 501.7,298.5 503.9,308.7 506.1,303.3 508.3,302.9 510.5,298.2 512.7,295.1 514.9,294.6 517.1,290.5 519.3,282.6 521.5,279.4 523.7,274.7 525.9,266.7 528.1,266.2 530.3,267.7 532.5,271.4 534.7,263 536.9,262.5 539.1,273.9 541.3,279.9 543.5,268.9 545.7,256.2 547.9,256.2 547.9,244.7 550.1,246.1 552.3,246.7 554.5,245.3 556.7,245 558.9,248.6 561.1,252.2 563.3,245.5 565.5,243.2 567.7,243.2 567.7,271.7 569.9,265 572.1,260.9 574.3,260.8 576.5,258.8 578.7,255.4 580.9,256.6 583.1,255.1 585.3,251.6 587.5,247.6 589.7,243.9 591.9,240.1 594.1,239.3 596.3,236.8 598.5,237.1 600.7,237 602.9,237 602.9,235.6 605.1,233.6 607.3,234.9 609.5,233.3 611.8,231.6 614,229.7 616.2,227.4 618.4,227.4 618.4,212.2 620.6,214.5" fill="none" stroke="#008080" stroke-width="3.3" stroke-linejoin="round" />
<line x1="620.56" y1="75.9" x2="620.56" y2="215.46" stroke="#008080" stroke-width="3.8"/>
<polyline points="299.5,72.6 293.5,71.1 293.5,202.9 286.5,203.8 279.5,198 272.5,191.2 265.5,181.4 258.5,171.9 251.5,160 244.5,154.1 237.5,141.5 230.5,130.6 223.5,122.7 216.5,118 209.5,116.4 212.5,120.9 215.5,123.1 218.5,126.5 221.5,129.4 224.5,132.5 227.5,135.9 230.5,138.6 233.4,142.3 236.4,144.5 239.4,148.2 242.4,150.7 245.4,152 248.4,155.1 251.4,157.9 254.4,161 257.4,163.4 260.4,166.8 263.4,171.9 266.4,174 269.4,176.5 272.4,179.8 275.3,182.9 278.3,185.6 281.3,188.4 284.3,191.1 287.3,195.5 290.3,199.7 293.3,203.4 296.3,207.1 299.3,210.3 302.3,215.1 305.3,218.8 308.3,223.5 311.3,228.3 314.3,232.7 317.3,237.1 320.2,241.4 323.2,244.4 326.2,248.3 329.2,249.6 332.2,253.1 335.2,256.1 338.2,260.5 341.2,265.5 344.2,269.2 347.2,272.6 350.2,275.4 353.2,281.2 356.2,287.3 359.2,292.7 362.2,298.1 365.1,301.2 368.1,304 371.1,308.4 374.1,311.7 377.1,316 380.1,323.5 383.1,328.8 386.1,336 389.1,341.6 392.1,344.5 395.1,348.2 398.1,352.8 401.1,356.8 404.1,362.6 407,373.9 410,380.9 413,387.8 416,395.4 419,405.3 422,420.1 425,440.5 427.7,484.3 427.7,484.4" fill="none" stroke="#008080" stroke-width="3.3" stroke-linejoin="round" />
<polyline points="429.3,487.1 429.3,486.7 431.2,452.6 433.4,421.3 435.6,392.1 437.8,373.8 440.1,354.5 442.3,347.2 444.5,343 446.7,343 448.9,343.5 451.1,348.5 453.3,353.2 455.5,356.1 457.7,353 459.9,356.3 462.2,357.3 464.4,358 466.6,359.1 468.8,355 471,363.1 473.2,359.1 475.4,356.8 477.6,356.8 477.6,368.4 479.8,364.1 482,354.5 484.3,354.5 484.3,316.8 486.5,316.8 486.5,284.5 488.7,289.6 490.9,292.7 493.1,294.7 495.3,294.7 495.3,344.7 497.5,340.6 499.7,341.9 501.9,335.6 504.1,339.9 506.4,339.1 508.6,338.1 510.8,333.1 513,327.7 515.2,325 517.4,322.6 519.6,325.6 521.8,319.1 524,319.1 524,297.6 526.2,299.4 528.5,290.8 530.7,291.6 532.9,291.1 535.1,287.4 537.3,284.7 539.5,284.7 539.5,267.1 541.7,271.2 543.9,264.6 546.1,279.9 548.3,285.1 550.6,288.3 552.8,283.5 555,276.7 557.2,267.9 559.4,265.9 561.6,263.4 563.8,263.4 563.8,249.2 566,249.2 566,248.7 568.2,242.1 570.4,243.5" fill="none" stroke="#ff8000" stroke-width="3.3" stroke-linejoin="round" />
<line x1="570.44" y1="75.9" x2="570.44" y2="244.47" stroke="#ff8000" stroke-width="3.8"/>
<polyline points="277.6,68 271.6,68 271.6,204.7 266.4,197.7 261.3,192.3 256.1,184.5 250.9,172.9 245.7,158.6 240.6,149.8 235.4,143.5 230.2,133.1 225,122.6 219.9,114.4 214.7,108.4 209.5,104.8 212.5,107 215.5,108.9 218.5,111.4 221.5,112.2 224.5,114.2 227.5,115.6 230.5,116.7 233.4,118.3 236.4,119.9 239.4,120.9 242.4,122.2 245.4,124.2 248.4,126.9 251.4,129.2 254.4,130.9 257.4,134.4 260.4,138.8 263.4,144.8 266.4,148.9 269.4,154.4 272.4,159.6 275.3,163.6 278.3,166.9 281.3,171.8 284.3,177.2 287.3,181.7 290.3,185.7 293.3,188.8 296.3,192.6 299.3,196.8 302.3,200.6 305.3,203.7 308.3,206.7 311.3,210.2 314.3,214.5 317.3,217.9 320.2,219.7 323.2,223.4 326.2,226 329.2,229.6 332.2,233 335.2,236.5 338.2,239.5 341.2,244.4 344.2,247.6 347.2,249.4 350.2,253.5 353.2,256.8 356.2,258.8 359.2,261 362.2,261 365.1,259.4 368.1,258.4 371.1,258.1 374.1,258.4 377.1,264.1 380.1,266.1 383.1,268.5 386.1,268.6 389.1,269.4 392.1,270.4 395.1,271.4 398.1,272.6 401.1,273.9 404.1,278.2 407,280 410,282.7 413,290.7 416,300.3 419,314.2 422,324.7 425,339.8 426.9,449.6 426.9,486.9" fill="none" stroke="#ff8000" stroke-width="3.3" stroke-linejoin="round" />
<polyline points="428.9,488.4 429,484.4 431.2,445.8 433.4,416.2 435.6,392.4 437.8,376 440,357.3 442.2,341.9 444.5,326.1 446.7,337.4 448.9,330.4 451.1,332.7 453.3,326.5 455.5,323.7 457.7,314.1 459.9,309.6 462.1,311.9 464.3,313.7 466.5,313.7 466.5,323.2 468.7,323.9 470.9,323.1 473.2,328.6 475.4,320.6 477.6,320.6 477.6,342.6 479.8,342.2 482,343.9 484.2,341.4 486.4,337.9 488.6,341.7 490.8,337.7 493,339.9 495.2,340.4 497.4,329.6 499.6,328.9 501.8,326.3 504.1,323.5 506.3,318.5 508.5,319.7 510.7,317.1 512.9,314.7 515.1,312.1 517.3,306.5 519.5,305.6 521.7,301.2 523.9,301.2 523.9,251 526.1,253.9 528.3,260.3 530.5,266.7 532.8,265 535,263.6 537.2,271.3 539.4,268 541.6,269.2 543.8,273.4 546,273.7 548.2,272 550.4,267.9 552.6,267.3 554.8,265.9 557,261.6 559.2,261.3 561.5,261.3 561.5,245 563.7,244.6 565.9,235.5 568.1,234 570.3,234.7 572.5,236.4 574.7,238 576.9,244.4 579.1,246.6 581.3,243.9 583.5,244 585.7,247.2 587.9,243.3 590.2,235.2 592.4,231.2 594.6,232.5 596.8,234.3" fill="none" stroke="#800040" stroke-width="3.3" stroke-linejoin="round" />
<line x1="596.77" y1="75.9" x2="596.77" y2="235.33" stroke="#800040" stroke-width="3.8"/>
<polyline points="294.1,71 288.1,69.6 288.1,195.6 281.6,194.8 275,193 268.5,185.6 261.9,178.1 255.4,166.8 248.8,158.5 242.3,152.1 235.7,138.5 229.2,126.4 222.6,117.2 216.1,111 209.5,107.6 212.5,109.5 215.5,112.2 218.5,114.3 221.5,116.4 224.5,118.8 227.5,120.6 230.5,122.2 233.4,124 236.4,126.2 239.4,127.8 242.4,129.7 245.4,133.1 248.4,135.6 251.4,136.9 254.4,138.2 257.4,141.3 260.4,143.5 263.4,147.7 266.4,152.1 269.4,155.5 272.4,159.4 275.3,163.8 278.3,169.2 281.3,173.5 284.3,178.1 287.3,182.7 290.3,187 293.3,191.3 296.3,194.6 299.3,198.3 302.3,201.4 305.3,204.7 308.3,208.5 311.3,212.5 314.3,215.8 317.3,219.7 320.2,224 323.2,227 326.2,232.7 329.2,234.4 332.2,237.1 335.2,241.3 338.2,245.3 341.2,247.1 344.2,249.5 347.2,251.1 350.2,254.2 353.2,258 356.2,260.6 359.2,260.8 362.2,263.1 365.1,263.7 368.1,267 371.1,270.7 374.1,273.1 377.1,274.8 380.1,275.1 383.1,277 386.1,279.6 389.1,286.6 392.1,285.1 395.1,287 398.1,290.7 401.1,299.3 404.1,302.8 407,310.6 410,317.3 413,323.1 416,328.8 419,337.3 422,352.3 425,378 427.1,462.3 427.1,472.1" fill="none" stroke="#800040" stroke-width="3.3" stroke-linejoin="round" />
<polyline points="429.7,472.1 431.2,461.3 433.4,439.5 435.6,416.8 437.8,407.7 440,400.9 442.2,400.7 444.4,399.9 446.6,402.6 448.8,397.5 451,388.6 453.2,384 455.4,373.8 457.6,373.8 457.6,377.8 459.8,377.8 459.8,389.2 462,381.8 464.2,381.6 466.4,380 468.6,365 470.8,365 470.8,375.9 473,359.3 475.2,355.6 477.4,354.1 479.6,348.8 481.8,345 484,346.4 486.2,343.4 488.4,345.1 490.6,337 492.8,335.8 495,334.8 497.2,341.8 499.4,341.8 499.4,290 501.6,284.3 503.8,289.6 506,291.1 508.2,299.5 510.4,298.2 512.6,293.4 514.8,305.2 517,299 519.2,297.5 521.4,297.5 521.4,309.6 523.6,306.9 525.8,302.4 528,305.6 530.2,299 532.4,299 532.4,328.1 534.6,325.5 536.8,324.3 539,324.3 539,322.4 541.2,318.5 543.4,312.1 545.6,303.8 547.8,302.1 550,300.1 552.2,295.1 554.4,296.3 556.6,305.1 558.8,298.4 561,289.9 563.2,289.4 565.4,281.8 567.6,283.5 569.8,283.5 569.8,263.3 572,263.2 574.2,269.5 576.4,269.5 576.4,264 578.6,264 578.6,286.1 580.8,284.2 583,282.3 585.2,270.5 587.4,267 589.6,265.1 591.8,258.8 594,254.6 596.2,251.3 598.4,251 600.6,248.4 602.8,248.9 605,249.3 607.2,249.3 607.2,261.6 609.4,261.6 609.4,242.8 611.6,244.6 613.8,244.6 613.8,225.6 616,223.7 618.2,224.6 620.4,228.5 622.6,227.7 624.8,228.1 627,228.1 627,226.9 629.2,226.9 629.2,231.4 631.4,227.5 633.6,226.9 635.8,225.9 638,223.3 640.2,220.1 642.4,219.4 644.6,216.5 646.8,214.8 649,212.3 651.2,209.7 653.4,209.1 655.6,208.1 657.8,207.3 660,207.9 662.2,207.9 662.2,204.7 664.4,204.7 664.4,203.9" fill="none" stroke="#ff8000" stroke-width="3.3" stroke-linejoin="round" />
<line x1="664.41" y1="75.9" x2="664.41" y2="204.92" stroke="#ff8000" stroke-width="3.8"/>
<polyline points="298.9,72.2 292.9,70.7 292.9,189.5 286,190.9 279,191.1 272.1,184.1 265.1,179.3 258.2,168.8 251.2,160.9 244.3,154.5 237.3,140 230.4,127.5 223.4,118.1 216.5,111.8 209.5,108.5 212.5,112.2 215.5,114.6 218.5,116.7 221.5,118.9 224.5,120.5 227.5,122.6 230.5,125.2 233.4,128.7 236.4,130.4 239.4,132.6 242.4,133.9 245.4,137 248.4,139.1 251.4,141.7 254.4,144.8 257.4,147.7 260.4,149.2 263.4,151.7 266.4,156.2 269.4,161.8 272.4,167.7 275.3,172.8 278.3,176 281.3,179.8 284.3,184 287.3,187.4 290.3,191.5 293.3,195 296.3,198.2 299.3,201.7 302.3,204.1 305.3,207.5 308.3,211 311.3,214.7 314.3,217.6 317.3,222.3 320.2,226.5 323.2,229.4 326.2,232.7 329.2,235.6 332.2,239 335.2,243 338.2,247.3 341.2,250.9 344.2,253.9 347.2,257.5 350.2,260.9 353.2,263 356.2,267.3 359.2,270.2 362.2,273.3 365.1,274.3 368.1,277.8 371.1,282.2 374.1,283.4 377.1,286 380.1,289.3 383.1,293.3 386.1,295.7 389.1,297.9 392.1,303.1 395.1,310.2 398.1,311.8 401.1,314.7 404.1,319 407,319.7 410,325 413,326.2 416,331.4 419,337.7 422,352.5 425,375.8 428,460.8 428.4,486.8" fill="none" stroke="#ff8000" stroke-width="3.3" stroke-linejoin="round" />
<polyline points="429.4,472.4 431.2,441.6 433.4,441.6 433.4,409.7 435.6,388.2 437.8,379.2 440,361.3 442.2,361.3 442.2,417.6 444.4,402.7 446.6,402.3 448.8,398.3 451,388.4 453.2,378.1 455.4,370.8 457.6,361.9 459.8,349.5 462,344.1 464.2,342.7 466.4,335.6 468.6,339.9 470.8,340.9 473,332.9 475.2,338.4 477.4,331.4 479.6,328 481.8,321.4 484,321.4 484,363.3 486.2,363.3 486.2,361.5 488.4,361.5 488.4,359.8 490.6,351.2 492.8,353.5 495,353.5 495,354.6 497.2,348.7 499.4,346.3 501.6,346 503.8,346.8 506,347 508.2,330.5 510.4,333.3 512.6,333.3 512.6,343.1 514.8,341.8 517,338.6 519.2,331.3 521.4,326.9 523.6,331.5 525.8,332.2 528,326.8 530.2,319.2 532.4,312.5 534.6,311 536.8,306 539,304.2 541.2,302.8 543.4,299.9 545.6,296.6 547.8,288.6 550,288.6 550,243.9 552.2,254.6 554.4,262.2 556.6,257.6 558.8,262 561,261.2 563.2,264.7 565.4,263.1 567.6,259.7 569.8,260.2 572,252.2 574.2,254.6 576.4,259.2 578.6,254.8 580.8,254.9 583,250.8 585.2,248.3 587.4,245.2 589.6,243 591.8,244.5 594,242.1 596.2,244.2 598.4,245 600.6,245 600.6,230.6 602.8,229.5 605,229.5 605,210 607.2,211.7 609.4,211.8 611.6,213.5 613.8,214.1 616,213.1 618.2,214.2 620.4,216.5 622.6,214.5 624.8,214.5 624.8,234.1 627,231.7 629.2,225.1 631.4,223.5 633.6,221.6 635.8,218.2 638,217.9 640.2,215.4 642.4,213.7 644.6,211.2 646.8,210.4 649,208.1 651.2,206 653.4,204.3 655.6,201.3 657.8,200.3 660,198.6 662.2,197.3 664.4,196.7 666.6,194.2 668.8,194.2 668.8,188 671,188 673.2,187.9" fill="none" stroke="#4000ff" stroke-width="3.3" stroke-linejoin="round" />
<line x1="673.18" y1="75.9" x2="673.18" y2="188.86" stroke="#4000ff" stroke-width="3.8"/>
<polyline points="291.9,70.9 285.9,69.4 285.9,211.7 279.6,210.1 273.2,205.5 266.8,195.4 260.5,185.9 254.1,173.7 247.7,164.1 241.4,156.8 235,143.8 228.6,130.8 222.2,120.6 215.9,113.2 209.5,108.6 212.5,111.1 215.5,112.6 218.5,114.6 221.5,116.8 224.5,118.9 227.5,121.7 230.5,123.7 233.4,125.3 236.4,127.8 239.4,129.6 242.4,132.8 245.4,135.6 248.4,138.9 251.4,140.6 254.4,143.7 257.4,145.9 260.4,150.2 263.4,153.7 266.4,157.9 269.4,160.9 272.4,165.3 275.3,168.7 278.3,172.3 281.3,176.2 284.3,180.2 287.3,184.5 290.3,188.4 293.3,191.6 296.3,195.4 299.3,199.1 302.3,202 305.3,204.8 308.3,209.6 311.3,213.3 314.3,217.3 317.3,221.2 320.2,224.6 323.2,228.7 326.2,232.2 329.2,236 332.2,240.4 335.2,242.1 338.2,244.3 341.2,249.1 344.2,254.7 347.2,256 350.2,257.6 353.2,259.4 356.2,260.6 359.2,265.6 362.2,270 365.1,268.6 368.1,269.5 371.1,273.1 374.1,274.5 377.1,275.6 380.1,279.7 383.1,285.7 386.1,287.1 389.1,290.9 392.1,297 395.1,299.5 398.1,300.2 401.1,299.4 404.1,303.5 407,309.2 410,313.6 413,320.7 416,327.1 419,337 422,352.6 425,372.6 427.4,460.3 427.4,484.2" fill="none" stroke="#4000ff" stroke-width="3.3" stroke-linejoin="round" />
<polyline points="285.9,69.4 297.2,72.1 310.2,75.6 321.8,79 332.4,82.4 341.9,85.7 350.5,89.1 358.2,92.4 365.2,95.7 371.5,99 377.2,102.3 382.3,105.6 387,108.9 391.1,112.2 394.9,115.4 398.3,118.7 401.4,121.9 404.2,125.2 406.7,128.4 408.9,131.6 411,134.8 412.8,138.1 414.5,141.3 416,144.5 417.3,147.7 418.5,150.9 419.6,154.1 420.6,157.3 421.5,160.5 422.3,163.7 423.1,166.9 423.7,170.1 424.3,173.3 424.8,176.4 425.3,179.6 429.8,211.8 434.3,179.8 434.7,176.8 435.2,173.8 435.8,170.8 436.4,167.8 437.1,164.7 437.8,161.7 438.7,158.7 439.6,155.7 440.6,152.7 441.7,149.7 442.9,146.7 444.2,143.6 445.7,140.6 447.4,137.6 449.2,134.6 451.2,131.6 453.4,128.6 455.8,125.5 458.4,122.5 461.4,119.5 464.6,116.5 468.2,113.5 472.1,110.5 476.5,107.5 481.3,104.4 486.6,101.4 492.4,98.4 498.8,95.4 505.9,92.4 513.7,89.4 522.4,86.4 531.9,83.3 542.3,80.3 553.9,78.2 758.8,76.9" fill="none" stroke="#4000ff" stroke-width="3.0" stroke-linejoin="round" />
<polyline points="429.6,472.6 431.2,415 433.4,415 433.4,377 435.6,350 437.8,350 437.8,353.1 440,342.8 442.2,344.5 444.4,344.5 444.4,371.1 446.6,369.8 448.8,366.2 451,366 453.2,372.6 455.4,369.2 457.6,353.9 459.8,346.5 462,340.1 464.2,330.2 466.4,323.1 468.6,317.7 470.8,317.7 470.8,297.5 473,305.8 475.2,305.8 475.2,261.5 477.4,259.6 479.6,257.6 481.8,261.6 484,260.9 486.2,263.1 488.5,268 490.7,274.4 492.9,274.4 492.9,324.7 495.1,323.4 497.3,323.4 497.3,308.2 499.5,299.3 501.7,298.6 503.9,292 506.1,281.5 508.3,284.5 510.5,282.8 512.7,286.2 514.9,278.5 517.1,269.8 519.3,266.8 521.5,263.4 523.7,255.1 525.9,250.2 528.1,253.3 530.3,247.9 532.5,247.7 534.7,250.8 536.9,250.8 536.9,219.8 539.1,229 541.3,227.1 543.5,227.5 545.7,227.5 545.7,242.9 547.9,245.5 550.1,245.4 552.3,245.4 552.3,271.4 554.5,266.6 556.7,264.6 558.9,257.2 561.1,246.5 563.3,245.1 565.5,245.8 567.7,240 569.9,240.4 572.1,240.4 572.1,271.7 574.3,263 576.5,259.6 578.7,259.4 580.9,261.4 583.1,255.3 585.3,257.8 587.5,257.7 589.7,255 591.9,252.8 594.1,248.5 596.3,247.6 598.5,244.7 600.7,239.8 603,239.4 605.2,235 607.4,235 607.4,231.3 609.6,231.4 611.8,225.9 614,223.4 616.2,226.3 618.4,227.3 620.6,226.6 622.8,225.4 625,222.7 627.2,217.6 629.4,214.2 631.6,212.6 633.8,211.6 636,206.3 638.2,205.2 640.4,206.9 642.6,204.8 644.8,204.4 647,203.3 649.2,201.3" fill="none" stroke="#0000ff" stroke-width="3.3" stroke-linejoin="round" />
<line x1="649.19" y1="75.9" x2="649.19" y2="202.32" stroke="#0000ff" stroke-width="3.8"/>
<polyline points="285.4,68.8 279.4,68.2 279.4,204.6 273.6,199.9 267.8,195.2 262,186.4 256.1,175.7 250.3,164.4 244.5,152.8 238.6,147.7 232.8,137.2 227,128 221.2,121.3 215.3,117.2 209.5,115.7 212.5,117.8 215.5,120.8 218.5,123.7 221.5,125.9 224.5,128.1 227.5,130.7 230.5,133.9 233.4,136.8 236.4,140.1 239.4,143.9 242.4,147.1 245.4,151.3 248.4,154 251.4,157.2 254.4,160.4 257.4,164.3 260.4,168.3 263.4,171.6 266.4,173.5 269.4,176.7 272.4,178.9 275.3,182 278.3,185.3 281.3,189.4 284.3,192 287.3,194.6 290.3,198.7 293.3,202.2 296.3,206.1 299.3,209.7 302.3,213.4 305.3,216.3 308.3,219.4 311.3,224.1 314.3,228.5 317.3,232.9 320.2,237.1 323.2,242.4 326.2,246.5 329.2,250.8 332.2,254.7 335.2,259 338.2,263.9 341.2,268.7 344.2,275.2 347.2,277.9 350.2,280.9 353.2,283.6 356.2,288.8 359.2,294.7 362.2,297.5 365.1,301.8 368.1,307.3 371.1,313.8 374.1,319.3 377.1,321 380.1,326.7 383.1,330.3 386.1,336.7 389.1,341.3 392.1,349.3 395.1,353.5 398.1,356.1 401.1,357.5 404.1,366.1 407,372.9 410,380.7 413,383.5 416,390.2 419,397.8 422,410.8 425,432.1 428,481 428.4,484" fill="none" stroke="#0000ff" stroke-width="3.3" stroke-linejoin="round" />
<polyline points="429.8,484.3 429.8,480.4 431.2,431.4 433.4,389.5 435.6,354.8 437.8,344.7 440,344.9 442.2,353.3 444.3,348.5 446.5,339.3 448.7,340 450.9,345.7 453.1,345.8 455.3,333.2 457.5,328.8 459.7,323.3 461.9,310.7 464.1,312.4 466.3,310.2 468.5,313 470.7,313 470.7,350.3 472.8,350.3 472.8,352.3 475,352.3 475,370.8 477.2,370.8 477.2,368.7 479.4,368.7 479.4,366.9 481.6,361.8 483.8,356.5 486,356.2 488.2,349.8 490.4,341.1 492.6,334.7 494.8,331.6 497,320.9 499.2,309.6 501.4,305.7 503.5,305.7 503.5,339.2 505.7,326.3 507.9,326.9 510.1,316.7 512.3,313.3 514.5,303 516.7,298.1 518.9,285.7 521.1,292.9 523.3,279.4 525.5,279.4 525.5,284.2 527.7,277.9 529.9,283.6 532,286.2 534.2,286.2 534.2,307.3 536.4,301 538.6,300.4 540.8,297.2 543,300.6 545.2,297.7 547.4,289.6 549.6,284.8 551.8,284.8 551.8,283.8 554,279.7 556.2,281 558.4,274.3 560.5,273.2 562.7,267.5 564.9,267.5 564.9,233 567.1,234.5 569.3,238.9 571.5,244 573.7,241.3 575.9,239.1 578.1,239.5 580.3,244.5 582.5,238.9 584.7,240.1 586.9,238.9 589,235.6 591.2,233.5 593.4,231.2 595.6,231.2 595.6,231.7 597.8,230.9 600,227.4 602.2,227.8 604.4,225.3 606.6,223.5 608.8,223 611,223.3 613.2,224.4 615.4,221.1 617.6,220.5 619.7,218.3 621.9,218.3 621.9,220.9 624.1,220.4 626.3,219.9 628.5,218.4" fill="none" stroke="#000080" stroke-width="3.3" stroke-linejoin="round" />
<line x1="628.51" y1="75.9" x2="628.51" y2="219.37" stroke="#000080" stroke-width="3.8"/>
<polyline points="294.4,70.8 288.4,69.4 288.4,202.2 281.8,198.5 275.3,196.9 268.7,189.3 262.1,181.4 255.5,167.2 249,157.5 242.4,152.1 235.8,138.2 229.2,125.7 222.7,116.2 216.1,109.5 209.5,105.7 212.5,108.3 215.5,110 218.5,111.7 221.5,113.7 224.5,114.9 227.5,116.2 230.5,118 233.4,120.2 236.4,121.5 239.4,122.6 242.4,125.1 245.4,127.5 248.4,129.5 251.4,132 254.4,134 257.4,135.2 260.4,138.4 263.4,142.9 266.4,147.8 269.4,152.6 272.4,157.2 275.3,162.1 278.3,166.1 281.3,170 284.3,173.9 287.3,178.2 290.3,182.4 293.3,185.3 296.3,189 299.3,192.4 302.3,195.4 305.3,198.6 308.3,201.9 311.3,205.9 314.3,209.3 317.3,212.9 320.2,217.2 323.2,219.6 326.2,221.8 329.2,225 332.2,227.4 335.2,229.5 338.2,231.3 341.2,234.6 344.2,236.3 347.2,237.8 350.2,240 353.2,242.3 356.2,243.9 359.2,243.3 362.2,246.4 365.1,248.9 368.1,249 371.1,249.8 374.1,255.8 377.1,256.3 380.1,259.1 383.1,266.1 386.1,270.9 389.1,274 392.1,276.3 395.1,278.6 398.1,281.7 401.1,287.8 404.1,293.4 407,300.5 410,302.4 413,311.4 416,320.9 419,333.6 422,352.8 425,376.3 428,460.5 428.6,479.7" fill="none" stroke="#000080" stroke-width="3.3" stroke-linejoin="round" />
<polyline points="429,488.9 431.2,488.9 431.2,466.1 433.4,443.3 435.6,420.6 437.8,411.5 440,403 442.2,409.5 444.4,393.5 446.6,393.5 446.6,352.4 448.8,352.4 448.8,295.7 451,293.7 453.2,302.6 455.4,303.9 457.6,303.9 457.6,333.7 459.8,333.7 459.8,313.7 462,303.5 464.2,303.5 464.2,273.5 466.4,269.2 468.6,283.5 470.9,280.1 473.1,281.6 475.3,278.9 477.5,285.6 479.7,297.6 481.9,298.2 484.1,300.2 486.3,296.4 488.5,297 490.7,307.9 492.9,309.7 495.1,308.5 497.3,315.4 499.5,312.8 501.7,303.7 503.9,306.1 506.1,298.9 508.3,298.9 508.3,295.6 510.5,294.7 512.7,287.1 514.9,284.8 517.1,285 519.3,284 521.5,286.4 523.7,284.5 525.9,284.5 525.9,261.1 528.1,263.9 530.3,272.4 532.5,272.4 532.5,239.9 534.7,239 536.9,244 539.1,245.5 541.3,254.4 543.5,261.7 545.7,266.4 547.9,267.3 550.1,273.7 552.4,266.6 554.6,267.7 556.8,269.2 559,277.4 561.2,277.4 561.2,268 563.4,269.2 565.6,265 567.8,262.1 570,263.4 572.2,261.4 574.4,261.4 574.4,258.3 576.6,256.4 578.8,257.4 581,258.8 583.2,261.8 585.4,261.8 585.4,273.3 587.6,277.1 589.8,272.4 592,267.3 594.2,267.3 594.2,272.5 596.4,265.9 598.6,265.7 600.8,256 603,249.6 605.2,249.6 605.2,224.7 607.4,222.8 609.6,227.5 611.8,230.4 614,228 616.2,228.2 618.4,228 620.6,222.7 622.8,220.8 625,219.9 627.2,220.3 629.4,221.1 631.6,218.6 633.9,219.3 636.1,219.9 638.3,222 640.5,221.2 642.7,218.6 644.9,217.2 647.1,215 649.3,214.5 651.5,209.7 653.7,207.5 655.9,207.5 655.9,212.5 658.1,212.5 658.1,203.8 660.3,203.7" fill="none" stroke="#000080" stroke-width="3.3" stroke-linejoin="round" />
<line x1="660.28" y1="75.9" x2="660.28" y2="204.75" stroke="#000080" stroke-width="3.8"/>
<polyline points="286.8,69.4 280.8,68.4 280.8,202.4 274.9,198.5 268.9,195.3 263,184.8 257,177.7 251.1,162.7 245.2,154.2 239.2,148.9 233.3,135.9 227.3,124.2 221.4,115.2 215.4,108.8 209.5,105 212.5,107.1 215.5,108.9 218.5,110.4 221.5,112 224.5,114.3 227.5,116.4 230.5,118.1 233.4,120.5 236.4,123.4 239.4,125.3 242.4,127.9 245.4,130.5 248.4,131.8 251.4,135.6 254.4,138 257.4,141 260.4,142.5 263.4,148.4 266.4,151.1 269.4,156.7 272.4,161.6 275.3,165.2 278.3,168.6 281.3,172.6 284.3,177.2 287.3,181.4 290.3,186 293.3,189.7 296.3,193.3 299.3,196 302.3,198.6 305.3,202 308.3,205.1 311.3,208.6 314.3,210.8 317.3,214.2 320.2,216.9 323.2,220 326.2,223.8 329.2,226.2 332.2,229.2 335.2,232.2 338.2,234.8 341.2,239.6 344.2,242.1 347.2,246.3 350.2,249 353.2,250.8 356.2,252.9 359.2,255.4 362.2,258.3 365.1,259.2 368.1,262.9 371.1,263.3 374.1,264.1 377.1,267.8 380.1,267.4 383.1,267.5 386.1,271.8 389.1,271 392.1,273.4 395.1,279.9 398.1,279.7 401.1,284.4 404.1,292.3 407,294.9 410,301.3 413,306.7 416,314.5 419,329.6 422,343.7 425,365.1 427.2,457.1 427.2,486.5" fill="none" stroke="#000080" stroke-width="3.3" stroke-linejoin="round" />
<polyline points="429.4,476.2 431.2,456.1 433.4,456.1 433.4,440.3 435.6,423.9 437.8,408.1 440,408.1 440,393.6 442.1,386.6 444.3,372 446.5,374.4 448.7,382.2 450.9,385.7 453.1,381.8 455.3,373.3 457.5,374.7 459.7,367.5 461.9,359.4 464.1,359.4 464.1,361.9 466.2,361.9 466.2,376.3 468.4,369.7 470.6,369.7 470.6,344.1 472.8,350.3 475,350.3 475,349.2 477.2,354.6 479.4,354.6 479.4,367 481.6,367 481.6,365.2 483.8,363.5 486,361.7 488.2,358.5 490.3,358.5 490.3,330.4 492.5,333.2 494.7,335.7 496.9,326.5 499.1,323.7 501.3,319.5 503.5,326.2 505.7,314.4 507.9,313.2 510.1,315.9 512.3,320.6 514.4,316 516.6,314.3 518.8,307.9 521,311.2 523.2,315.2 525.4,310.8 527.6,306.7 529.8,307.4 532,305.5 534.2,298.1 536.4,298.1 536.4,324.7 538.5,322.3 540.7,322.3 540.7,296.1 542.9,298.8 545.1,298.7 547.3,295.9 549.5,289.4 551.7,284.2 553.9,284.2 553.9,306 556.1,293.4 558.3,298.8 560.5,294.9 562.6,294.9 562.6,300.4 564.8,295.9 567,284 569.2,276.5 571.4,278.6 573.6,272.8 575.8,270.5 578,267.7 580.2,272.8 582.4,272.8 582.4,232.4 584.6,240.4 586.7,241.7 588.9,246.8 591.1,242.8 593.3,239.4 595.5,237.7 597.7,236.7 599.9,234.5" fill="none" stroke="#000080" stroke-width="3.3" stroke-linejoin="round" />
<line x1="599.89" y1="75.9" x2="599.89" y2="235.47" stroke="#000080" stroke-width="3.8"/>
<polyline points="287.4,69.6 281.4,68.5 281.4,196.7 275.4,195 269.4,188.5 263.4,184.4 257.4,174.1 251.5,164.4 245.5,154 239.5,148.2 233.5,136.6 227.5,125.6 221.5,117.2 215.5,111.4 209.5,108.3 212.5,110.6 215.5,113 218.5,114.5 221.5,116.5 224.5,118.5 227.5,121.3 230.5,123.7 233.4,125.7 236.4,128.2 239.4,129 242.4,132.7 245.4,134.7 248.4,136.7 251.4,139.2 254.4,141.5 257.4,144.8 260.4,147.9 263.4,152.3 266.4,156.1 269.4,159.4 272.4,163 275.3,167.4 278.3,171 281.3,175.7 284.3,178 287.3,183.2 290.3,187.4 293.3,191.3 296.3,195.1 299.3,198.7 302.3,203 305.3,207 308.3,212.1 311.3,215.9 314.3,218.7 317.3,222.4 320.2,224.4 323.2,228.7 326.2,232.5 329.2,236.1 332.2,240.3 335.2,243 338.2,247.6 341.2,251.2 344.2,253.1 347.2,256.3 350.2,260.1 353.2,264.7 356.2,268.1 359.2,271.1 362.2,273.5 365.1,276.7 368.1,278.8 371.1,278.8 374.1,282.2 377.1,286.4 380.1,289.7 383.1,293.4 386.1,300.7 389.1,304.1 392.1,307 395.1,312.8 398.1,314.6 401.1,320.5 404.1,323.8 407,325.2 410,327 413,332.3 416,337.8 419,347.6 422,362.8 425,379.9 428,463.7 428.4,488.7" fill="none" stroke="#000080" stroke-width="3.3" stroke-linejoin="round" />
<polyline points="429.9,484.7 429.9,475.8 431.2,414.7 433.4,367.2 435.6,335.1 437.9,320.1 440.1,311.8 442.3,300.3 444.5,302.5 446.7,313.7 448.9,302.5 451.1,311.5 453.4,304.1 455.6,304.1 455.6,315.9 457.8,315.2 460,314.6 462.2,317.6 464.4,315.9 466.7,314.4 468.9,314.1 471.1,314.4 473.3,314.6 475.5,309.5 477.7,309.5 477.7,259.3 479.9,262.5 482.2,255.8 484.4,259.5 486.6,253.7 488.8,249.4 491,248.5 493.2,245.3 495.4,249 497.7,249 497.7,292 499.9,281.9 502.1,290.1 504.3,282.5 506.5,271.6 508.7,271.9 510.9,267 513.2,266.2 515.4,271.2 517.6,271.2 517.6,254.3 519.8,251.6 522,251.6 522,299.3 524.2,293.8 526.4,277.7 528.7,273.8 530.9,268.6 533.1,260.8 535.3,263.1 537.5,259.8 539.7,260.6 542,256.7 544.2,256.7 544.2,277.3 546.4,275.8 548.6,277.2 550.8,265.5 553,265.3 555.2,259.9 557.5,251.5 559.7,254.2 561.9,246.2 564.1,246.2 564.1,235.4 566.3,235.6" fill="none" stroke="#000080" stroke-width="3.3" stroke-linejoin="round" />
<line x1="566.31" y1="75.9" x2="566.31" y2="236.63" stroke="#000080" stroke-width="3.8"/>
<polyline points="298.9,72 292.9,70.5 292.9,188.7 285.9,188 279,190.7 272,185.9 265.1,178 258.1,169 251.2,161.3 244.2,153.3 237.3,140.3 230.3,128.2 223.4,119.2 216.4,113.3 209.5,110.4 212.5,113.3 215.5,115.5 218.5,117.7 221.5,120.3 224.5,123.2 227.5,124.3 230.5,126.8 233.4,128.4 236.4,130.8 239.4,132.8 242.4,136.1 245.4,139.1 248.4,141.1 251.4,143.4 254.4,147.6 257.4,150.1 260.4,151.7 263.4,154.9 266.4,158.4 269.4,162.9 272.4,166.3 275.3,170.1 278.3,174.3 281.3,178.9 284.3,182.6 287.3,186.2 290.3,190.3 293.3,193.8 296.3,197.2 299.3,200.4 302.3,203.5 305.3,207.3 308.3,211.1 311.3,214.7 314.3,218.5 317.3,222.5 320.2,227.9 323.2,232.3 326.2,234.9 329.2,238 332.2,240.4 335.2,246.1 338.2,248.8 341.2,251.8 344.2,254.9 347.2,258.2 350.2,260.2 353.2,264.9 356.2,267.2 359.2,270.4 362.2,271.6 365.1,274.7 368.1,276.7 371.1,279.6 374.1,282.1 377.1,287 380.1,286.9 383.1,291.8 386.1,295.4 389.1,299.4 392.1,300.3 395.1,304.3 398.1,309.3 401.1,314 404.1,319.7 407,322.6 410,330.1 413,333.3 416,338.1 419,348.4 422,363 425,383.9 428,464.7 428.6,470.5" fill="none" stroke="#000080" stroke-width="3.3" stroke-linejoin="round" />
<polyline points="429.1,468.4 431.2,430.9 433.4,391.7 435.6,360.2 437.8,349.8 440,338 442.2,338 442.2,366.7 444.4,345.8 446.6,336.4 448.8,340.4 451,340.4 451,386.9 453.2,386.7 455.4,384.3 457.6,380.3 459.8,370.4 462,371.6 464.2,371.6 464.2,380.7 466.4,369.5 468.6,358.8 470.8,347.9 473,341.9 475.2,329.6 477.4,330.2 479.6,322.3 481.8,323 484,315 486.2,307.7 488.4,307.3 490.6,310.3 492.8,300.6 495,300.6 495,284.2 497.2,284.2 497.2,237.8 499.4,241.5 501.6,245.8 503.8,245.8 503.8,250 506,248.6 508.2,248.6 508.2,262.5 510.4,260.2 512.6,260.2 512.6,231.9 514.8,231.9 514.8,255.7 517,261.3 519.2,266.6" fill="none" stroke="#800080" stroke-width="3.3" stroke-linejoin="round" />
<line x1="519.2" y1="75.9" x2="519.2" y2="267.56" stroke="#800080" stroke-width="3.8"/>
<polyline points="294.2,71 288.2,69.5 288.2,194 281.7,192.9 275.1,191 268.6,186.1 262,178.2 255.4,167.6 248.9,157.5 242.3,150.9 235.7,137.6 229.2,124.3 222.6,114 216.1,106.5 209.5,102 212.5,104.5 215.5,105.8 218.5,106.9 221.5,108.3 224.5,109.8 227.5,111.6 230.5,114.4 233.4,116.2 236.4,117.6 239.4,119.1 242.4,120.8 245.4,122.8 248.4,125.6 251.4,128 254.4,130.4 257.4,132.8 260.4,135.2 263.4,141.2 266.4,145.2 269.4,149.2 272.4,153.4 275.3,158.3 278.3,162.7 281.3,167.9 284.3,172.7 287.3,176.5 290.3,180.3 293.3,183.4 296.3,186 299.3,188.6 302.3,191.7 305.3,194.8 308.3,197.9 311.3,201.1 314.3,204.7 317.3,207.9 320.2,211.9 323.2,214.1 326.2,217 329.2,219.2 332.2,222.9 335.2,225.5 338.2,226.9 341.2,229.7 344.2,231.4 347.2,232.9 350.2,234.5 353.2,236 356.2,237.5 359.2,241.4 362.2,243.5 365.1,244.5 368.1,245.4 371.1,249.4 374.1,250.4 377.1,254 380.1,258 383.1,260.9 386.1,262.9 389.1,266.4 392.1,269.4 395.1,272.7 398.1,276.9 401.1,277 404.1,279.3 407,284.3 410,286.5 413,293.2 416,299.6 419,309.1 422,324.7 425,348.4 428,451.1 428.3,481.5" fill="none" stroke="#800080" stroke-width="3.3" stroke-linejoin="round" />
<polyline points="429.2,475.7 431.2,465.2 433.4,445.6 435.6,427.3 437.8,419.7 440,416 442.2,397.9 444.4,383.2 446.6,388.6 448.8,401.2 451,397.8 453.2,397.8 453.2,399.9 455.4,389.1 457.6,376 459.7,362.3 461.9,365.3 464.1,364.1 466.3,364.5 468.5,363.5 470.7,371.1 472.9,362.7 475.1,359.9 477.3,353.8 479.5,349 481.7,353.8 483.9,347.2 486.1,344.1 488.3,338.9 490.5,336.9 492.7,329.5 494.9,329.5 494.9,354.7 497.1,345.3 499.3,347.3 501.5,349.6 503.7,344 505.9,340.3 508.1,340.3 508.1,345.7 510.3,341.6 512.5,337.2 514.7,337.3 516.9,340.2 519,332.3 521.2,332.3 523.4,330.2 525.6,319.3 527.8,315.4 530,304.2 532.2,305.5 534.4,296.6 536.6,299.2 538.8,300.8 541,300.8 541,268.9 543.2,264.1 545.4,254.7 547.6,267.5 549.8,273.4 552,277.6 554.2,277.6 554.2,284.2 556.4,277.1 558.6,280.4 560.8,279.6 563,284 565.2,277.9 567.4,280.8 569.6,283.8 571.8,282.5 574,280.9 576.1,276.9 578.3,273 580.5,276.8 582.7,278.1 584.9,276.8 587.1,276.6 589.3,276 591.5,274.8 593.7,268.9 595.9,263.9 598.1,259.2 600.3,257.4 602.5,257 604.7,258.4" fill="none" stroke="#008080" stroke-width="3.3" stroke-linejoin="round" />
<line x1="604.7" y1="75.9" x2="604.7" y2="259.42" stroke="#008080" stroke-width="3.8"/>
<polyline points="285.1,68.2 279.1,67.6 279.1,202.9 273.3,201.5 267.5,192 261.7,186.4 255.9,175.5 250.1,163.9 244.3,153.7 238.5,148.6 232.7,137.5 226.9,128.7 221.1,122.4 215.3,118.8 209.5,117.7 212.5,121 215.5,123.4 218.5,126.2 221.5,129.9 224.5,133.4 227.5,135.9 230.5,138.9 233.4,141.8 236.4,143.5 239.4,146.1 242.4,148.7 245.4,151.7 248.4,155.4 251.4,159 254.4,162 257.4,164.7 260.4,167.3 263.4,170.1 266.4,173 269.4,175.9 272.4,178.5 275.3,182.3 278.3,185.6 281.3,188.9 284.3,192.6 287.3,196.8 290.3,200.4 293.3,204.5 296.3,208.8 299.3,212.7 302.3,217 305.3,222.2 308.3,226.3 311.3,230.3 314.3,234.8 317.3,239.3 320.2,244.4 323.2,247.2 326.2,252.3 329.2,257.8 332.2,262.9 335.2,267 338.2,270.3 341.2,271.6 344.2,276.2 347.2,281.2 350.2,285.3 353.2,289.7 356.2,292.8 359.2,299.1 362.2,301.6 365.1,309.7 368.1,311.7 371.1,316.1 374.1,320.3 377.1,324 380.1,331 383.1,334 386.1,337.7 389.1,342 392.1,347.3 395.1,354 398.1,360.6 401.1,364.7 404.1,368.5 407,375.3 410,384.8 413,391.8 416,402.6 419,412.4 422,425.3 425,443.3 427.4,477.5" fill="none" stroke="#008080" stroke-width="3.3" stroke-linejoin="round" />
<polyline points="430.4,489.6 430.4,472.8 431.2,405.8 433.4,360.1 435.6,331.7 437.9,331.7 437.9,300.8 440.1,297.1 442.3,283.7 444.5,276 446.7,276 446.7,283.6 448.9,286.5 451.1,286 453.3,277.8 455.6,285.1 457.8,282.8 460,276.6 462.2,282.9 464.4,273.1 466.6,267.8 468.8,274.6 471.1,282.2 473.3,282.2 473.3,263.2 475.5,261.3 477.7,262.2 479.9,257.4 482.1,261.1 484.3,259.7 486.5,267.2 488.8,267.2 488.8,307.2 491,306.8 493.2,297.8 495.4,292.6 497.6,285.4 499.8,275.3 502,275.3 504.2,271.2 506.5,268.6 508.7,268.6 508.7,265.5 510.9,261.3 513.1,263 515.3,250 517.5,250 517.5,301.1 519.7,297.2 522,291.4 524.2,291.4 524.2,335.2 526.4,325 528.6,320.3 530.8,320.3 530.8,329.5 533,317.6 535.2,317.6 535.2,252.9 537.4,252.9 537.4,226.2 539.7,226.2 539.7,229.4 541.9,231.2 544.1,233.7 546.3,231.8 548.5,227.8 550.7,220.7 552.9,219.2 555.2,219.2 557.4,227.9 559.6,219.9 561.8,219.9 561.8,266.6 564,260.8 566.2,262.2 568.4,257.1 570.6,255.3 572.9,255.3 572.9,233.1 575.1,235.2 577.3,237 579.5,237.5 581.7,236.3 583.9,234 586.1,232 588.3,225.5 590.6,220.5 592.8,221.9 595,222.6 597.2,225.8" fill="none" stroke="#800040" stroke-width="3.3" stroke-linejoin="round" />
<line x1="597.2" y1="75.9" x2="597.2" y2="226.8" stroke="#800040" stroke-width="3.8"/>
<polyline points="298.6,71.8 292.6,70.3 292.6,198.1 285.7,199.9 278.8,194.8 271.8,188.2 264.9,181.5 258,169.1 251.1,160.6 244.1,153.7 237.2,139.1 230.3,125.6 223.4,115.1 216.4,107.7 209.5,103.4 212.5,105.1 215.5,106.9 218.5,108.6 221.5,110.9 224.5,112.9 227.5,114.2 230.5,115.6 233.4,117.3 236.4,118 239.4,119.8 242.4,121.6 245.4,123 248.4,126.3 251.4,128.9 254.4,130.8 257.4,133.5 260.4,138 263.4,142.9 266.4,147.7 269.4,153.1 272.4,157.9 275.3,161.4 278.3,165.1 281.3,169 284.3,174.5 287.3,178.2 290.3,182.4 293.3,185.7 296.3,189.4 299.3,192.9 302.3,195.9 305.3,198.4 308.3,202.4 311.3,205 314.3,208.3 317.3,211.4 320.2,212.6 323.2,214.8 326.2,218 329.2,221.1 332.2,225.4 335.2,229.4 338.2,230.9 341.2,232.2 344.2,234.9 347.2,237.8 350.2,240.7 353.2,239.5 356.2,242.7 359.2,241.6 362.2,241.8 365.1,242.1 368.1,245.3 371.1,245.2 374.1,247.5 377.1,249.7 380.1,252.3 383.1,257.9 386.1,260.8 389.1,263.5 392.1,265.4 395.1,270.5 398.1,272.8 401.1,276.8 404.1,279.4 407,282.6 410,283.5 413,286.9 416,297.3 419,303.5 422,321.1 425,345.1 427.4,450.3 427.4,470.2" fill="none" stroke="#800040" stroke-width="3.3" stroke-linejoin="round" />
<polyline points="429.4,482.6 431.2,452 433.4,424.1 435.6,403.9 437.8,388.7 440,383.6 442.2,377.1 444.3,370.7 446.5,366.1 448.7,353.9 450.9,348.5 453.1,343.4 455.3,343.4 455.3,360.6 457.5,357.4 459.7,355.4 461.9,361.1 464.1,358.5 466.3,361.5 468.5,358.1 470.7,354 472.9,349.2 475,349.8 477.2,345.1 479.4,345.9 481.6,347.6 483.8,347.6 483.8,346.6 486,341.7 488.2,341.7 488.2,345.7 490.4,347 492.6,347.2 494.8,348 497,346.1 499.2,337 501.4,338.9 503.5,338.9 503.5,295.5 505.7,302.9 507.9,305.6 510.1,300.9 512.3,294.7 514.5,298 516.7,291.9 518.9,291.2 521.1,285.5 523.3,285.5 523.3,328.7 525.5,323.9 527.7,323.9 527.7,303.8 529.9,302.8 532,298.3 534.2,291.8 536.4,288.1 538.6,284.6 540.8,284 543,282.1 545.2,283.1 547.4,282.5 549.6,284.7 551.8,277.7 554,277 556.2,277 556.2,306.5 558.4,292.1 560.5,292.1 560.5,259.9 562.7,257.7 564.9,259.1 567.1,257.1 569.3,254.1 571.5,256.7 573.7,261.7 575.9,263.3 578.1,253.6 580.3,255 582.5,256 584.7,255.9 586.9,255.9 586.9,235.1 589.1,239.1 591.2,237.3 593.4,233.5 595.6,232.6 597.8,235.5 600,235.5 600,216.6 602.2,214.6 604.4,219.5 606.6,219.5 606.6,209.7 608.8,209.2 611,208.8 613.2,208.8 613.2,221.9 615.4,221.9 615.4,211.5 617.6,214.2 619.7,213.1 621.9,214 624.1,215.4 626.3,216 628.5,215.3 630.7,214.3 632.9,209.2 635.1,210.4 637.3,210.4 637.3,208.5 639.5,209.2 641.7,208.1 643.9,209.4 646.1,207.1 648.2,206.5 650.4,206 652.6,204.8 654.8,204.1 657,200.9 659.2,199.5 661.4,198 663.6,197.8 665.8,196.9 668,194.6 670.2,193.3 672.4,193.5 674.6,192.9 676.8,192.2 678.9,192.2 678.9,193.4 681.1,191.3 683.3,189.6 685.5,188.2 687.7,185.7 689.9,184.4 692.1,184.4 692.1,184.7" fill="none" stroke="#6b8e23" stroke-width="3.3" stroke-linejoin="round" />
<line x1="692.1" y1="75.9" x2="692.1" y2="185.68" stroke="#6b8e23" stroke-width="5.6"/>
<polyline points="280.4,68.9 274.4,68.9 274.4,196.8 269,195.4 263.6,188.2 258.2,179.7 252.8,170.5 247.4,159.8 242,150.3 236.6,145.3 231.1,135 225.7,125.5 220.3,118.3 214.9,113.6 209.5,111.2 212.5,114.6 215.5,116.6 218.5,119.4 221.5,121.9 224.5,123.7 227.5,125.5 230.5,128.8 233.4,131.7 236.4,133.2 239.4,135.4 242.4,137.8 245.4,141.6 248.4,145.2 251.4,147.4 254.4,150 257.4,153.5 260.4,156.7 263.4,160.7 266.4,164.7 269.4,168 272.4,171.9 275.3,176.5 278.3,179.5 281.3,182.9 284.3,185.6 287.3,189.2 290.3,192.4 293.3,195.9 296.3,199.6 299.3,202.4 302.3,205.7 305.3,209.1 308.3,212.4 311.3,217 314.3,222 317.3,226.3 320.2,230.8 323.2,234.4 326.2,237.7 329.2,241.3 332.2,245.6 335.2,250 338.2,254.1 341.2,258.7 344.2,262.4 347.2,264.6 350.2,268 353.2,271.6 356.2,278.5 359.2,283.6 362.2,288.6 365.1,292.4 368.1,294.2 371.1,297.6 374.1,302.4 377.1,308.7 380.1,310.6 383.1,314.3 386.1,317.8 389.1,318.6 392.1,318.6 395.1,324.6 398.1,331.3 401.1,333.1 404.1,339.4 407,344.2 410,348.2 413,355.3 416,358.6 419,366.6 422,382.1 425,404.8 428,470.5 428.2,472.2" fill="none" stroke="#6b8e23" stroke-width="3.3" stroke-linejoin="round" />
<polyline points="429.7,479.6 429.7,475.2 431.2,413.4 433.4,369.4 435.6,335.9 437.8,320.1 440,318.1 442.2,310.7 444.4,309.2 446.6,300.3 448.8,285.6 451,300.7 453.2,305.1 455.4,304.8 457.6,304.8 457.6,339.1 459.8,324.2 462,329.8 464.2,318.6 466.4,309.8 468.6,302.6 470.7,302.1 472.9,302.1 472.9,284.2 475.1,281.9 477.3,281.6 479.5,283.9 481.7,275.6 483.9,272.7 486.1,272.7 486.1,252 488.3,250.1 490.5,249.3 492.7,249.7 494.9,244.5 497.1,248.1 499.3,239.9 501.5,236.1 503.7,241.2 505.9,237 508.1,233.6 510.3,242.2 512.5,234.6 514.7,240.5 516.9,240.5 516.9,230.3 519.1,234.9 521.3,237.1 523.5,230.1 525.7,228.9 527.9,227.4 530.1,225 532.3,230.8 534.5,231.6 536.7,224.7 538.9,228.7 541.1,230 543.3,225.3 545.5,232 547.7,238.8 549.9,238.8 549.9,229.4 552,228.9 554.2,233.6 556.4,233.6 558.6,230.2 560.8,227.6 563,226.7 565.2,223.9 567.4,224.1 569.6,219.1 571.8,221.8 574,221.2 576.2,217.4 578.4,217.6 580.6,217 582.8,218.9 585,218.6 587.2,217.9 589.4,217.9 589.4,249.5 591.6,246.7" fill="none" stroke="#ff0000" stroke-width="3.3" stroke-linejoin="round" />
<line x1="591.6" y1="75.9" x2="591.6" y2="247.68" stroke="#ff0000" stroke-width="3.8"/>
<polyline points="289.6,70.8 283.6,69.3 283.6,235 277.4,229.4 271.2,216.5 265.1,206.1 258.9,191.1 252.7,175 246.5,162 240.4,157.5 234.2,144.7 228,134 221.8,126 215.7,120.8 209.5,118.2 212.5,121.4 215.5,124.2 218.5,127.6 221.5,130.8 224.5,133.3 227.5,135.8 230.5,139.8 233.4,143.7 236.4,146.5 239.4,149.2 242.4,152.7 245.4,155.5 248.4,158.2 251.4,160.7 254.4,163.5 257.4,166 260.4,169.3 263.4,171.4 266.4,174.7 269.4,178.1 272.4,180.9 275.3,184.1 278.3,187.4 281.3,190.9 284.3,194.8 287.3,198.2 290.3,201.6 293.3,204.9 296.3,208.3 299.3,211.5 302.3,215.3 305.3,220.4 308.3,224.1 311.3,228.3 314.3,235.5 317.3,240.7 320.2,245.4 323.2,249 326.2,255.3 329.2,261.2 332.2,265 335.2,267.3 338.2,269.4 341.2,273.7 344.2,278.1 347.2,283.1 350.2,287.8 353.2,293 356.2,300.5 359.2,308.9 362.2,312.9 365.1,316.6 368.1,319.4 371.1,323.1 374.1,328.8 377.1,332.8 380.1,333 383.1,334.1 386.1,338.7 389.1,342.9 392.1,347.8 395.1,352.8 398.1,355.3 401.1,359.8 404.1,362.4 407,371.5 410,380 413,385.6 416,397.4 419,406.1 422,416.8 425,438.3 428,480.7 428.2,480.7" fill="none" stroke="#ff0000" stroke-width="3.3" stroke-linejoin="round" />
<polyline points="429.4,479.4 429.4,476.1 431.2,416.7 433.4,373.3 435.6,343.5 437.8,329.3 440,333.1 442.2,333.7 444.3,322.5 446.5,322.5 448.7,316.7 450.9,316.9 453.1,319.8 455.3,320.8 457.5,320.5 459.7,305.4 461.9,298.3 464.1,304.1 466.3,303.4 468.5,298.9 470.7,292.7 472.9,289.5 475,280.5 477.2,264.8 479.4,268.1 481.6,264.6 483.8,262.6 486,259.1 488.2,259.3 490.4,247.1 492.6,243.9 494.8,245 497,237.9 499.2,240.6 501.4,245.5 503.5,241.6 505.7,244.8 507.9,244.8 507.9,269.1 510.1,270.6 512.3,262 514.5,259.8 516.7,249.9 518.9,254.1 521.1,254.1 521.1,292.3 523.3,289.9 525.5,281.2 527.7,280.6 529.9,272.1 532.1,272.1 532.1,317.9 534.2,307 536.4,296.5 538.6,291.3 540.8,277.5 543,274.7 545.2,274.7 547.4,270.4" fill="none" stroke="#000000" stroke-width="3.3" stroke-linejoin="round" />
<line x1="547.4" y1="75.9" x2="547.4" y2="271.36" stroke="#000000" stroke-width="3.8"/>
<polyline points="282.3,67.7 276.3,67.7 276.3,192 270.8,189.1 265.2,187.8 259.6,179 254.1,170.5 248.5,160.4 242.9,152.3 237.3,146 231.8,135 226.2,124.5 220.6,116.4 215.1,110.8 209.5,107.6 212.5,110.7 215.5,112.5 218.5,114.8 221.5,117.5 224.5,118.7 227.5,119.5 230.5,121.2 233.4,124 236.4,126.1 239.4,127.8 242.4,129 245.4,132 248.4,134.4 251.4,136.2 254.4,140.1 257.4,142.7 260.4,143.6 263.4,148.5 266.4,151.7 269.4,155.2 272.4,159.4 275.3,164.8 278.3,168.3 281.3,173.2 284.3,177.8 287.3,182.7 290.3,186.2 293.3,189.9 296.3,193.9 299.3,197.6 302.3,200 305.3,203.8 308.3,207.2 311.3,210.2 314.3,214.5 317.3,219 320.2,222.6 323.2,224.5 326.2,228.1 329.2,232.7 332.2,236.4 335.2,239.7 338.2,242.7 341.2,245.7 344.2,248.2 347.2,250.6 350.2,252.4 353.2,254.7 356.2,260.1 359.2,262.9 362.2,268 365.1,272.5 368.1,274 371.1,276.8 374.1,277.5 377.1,282.7 380.1,284.3 383.1,290.4 386.1,288 389.1,292.3 392.1,295.8 395.1,301.3 398.1,304 401.1,308.3 404.1,314.9 407,317.7 410,322.8 413,327.3 416,332.3 419,345.1 422,364 425,381.8 427.2,462.2 427.2,486.6" fill="none" stroke="#000000" stroke-width="3.3" stroke-linejoin="round" />
<polyline points="429.5,478.2 431.2,465.7 433.4,446.7 435.6,427.6 437.8,418.1 440,415.8 442.2,413 444.3,413 444.3,373.1 446.5,370.4 448.7,362.1 450.9,364.3 453.1,357.2 455.3,345.6 457.5,342.7 459.7,342.7 459.7,355.7 461.9,355.7 461.9,335 464.1,343.9 466.3,339.3 468.5,323.2 470.7,317.6 472.8,324.2 475,322.9 477.2,329.7 479.4,320.1 481.6,320.1 481.6,316.3 483.8,314.5 486,323.8 488.2,328.2 490.4,328.2 490.4,350.3 492.6,349.3 494.8,340.9 497,340.6 499.1,340.6 499.1,318.1 501.3,315.7 503.5,308.9 505.7,308.9 505.7,323.5 507.9,322.1 510.1,318.4 512.3,323.1 514.5,321.6 516.7,327.9 518.9,330.2 521.1,331.8 523.3,324.8 525.5,333.8 527.6,324.5 529.8,324.5 529.8,312.8 532,316.3 534.2,318.3 536.4,312 538.6,312 540.8,312 540.8,294.7 543,288.6 545.2,280.5 547.4,276 549.6,282.3 551.8,283.4 554,287.6 556.1,287.8 558.3,284.2 560.5,284.9 562.7,280.4 564.9,281.9 567.1,278 569.3,265 571.5,258.3 573.7,264.2 575.9,260.8 578.1,264.3 580.3,263 582.5,259.7 584.6,258.5 586.8,251.3 589,253.4 591.2,252.2 593.4,258.1 595.6,253.5 597.8,254.3 600,251.9 602.2,252.9 604.4,247 606.6,249.5 608.8,249.5 608.8,224.6 610.9,229.6 613.1,233.8 615.3,231.5 617.5,230.2 619.7,226.4 621.9,228.7 624.1,226.3 626.3,224.5 628.5,225.5 630.7,222.1 632.9,222.1 632.9,234.6 635.1,231.6 637.3,226.5 639.4,226.1 641.6,223.8 643.8,222.6 646,219.1 648.2,216.1 650.4,214.4 652.6,212.5" fill="none" stroke="#ff00ff" stroke-width="3.3" stroke-linejoin="round" />
<line x1="652.6" y1="75.9" x2="652.6" y2="213.45" stroke="#ff00ff" stroke-width="3.8"/>
<polyline points="297.1,71.7 291.1,70.3 291.1,220.9 284.3,215.2 277.5,210.9 270.7,202.9 263.9,192 257.1,178.1 250.3,167.9 243.5,159.9 236.7,146.4 229.9,134 223.1,124.6 216.3,118.2 209.5,114.8 212.5,117.7 215.5,120.3 218.5,123.5 221.5,127.1 224.5,130.3 227.5,132.4 230.5,134.6 233.4,136.7 236.4,139.4 239.4,143 242.4,145.2 245.4,148.4 248.4,152.1 251.4,155.2 254.4,157.5 257.4,159.4 260.4,163.2 263.4,167.7 266.4,172.8 269.4,176.2 272.4,178.3 275.3,181.8 278.3,186.3 281.3,189.6 284.3,193 287.3,196.2 290.3,199.5 293.3,202.5 296.3,206.5 299.3,209.9 302.3,214.2 305.3,218.2 308.3,221 311.3,224.8 314.3,229.4 317.3,234.3 320.2,239.7 323.2,243 326.2,247 329.2,250.5 332.2,254.9 335.2,258.8 338.2,262.3 341.2,266.3 344.2,269.7 347.2,275.5 350.2,280.2 353.2,287.2 356.2,290.2 359.2,293.3 362.2,299.3 365.1,301.4 368.1,308.2 371.1,312.3 374.1,315.7 377.1,317 380.1,320.6 383.1,321.4 386.1,325.8 389.1,328.4 392.1,332.9 395.1,339.2 398.1,342.7 401.1,343.3 404.1,342.9 407,346.8 410,346.3 413,351.5 416,361 419,376.9 422,391.5 425,414.6 427.2,471.9" fill="none" stroke="#ff00ff" stroke-width="3.3" stroke-linejoin="round" />
<polyline points="291.1,70.3 297.2,71.8 310.2,75.2 321.8,78.6 332.4,82 341.9,85.4 350.5,88.7 358.2,92 365.2,95.4 371.5,98.7 377.2,102 382.3,105.2 387,108.5 391.1,111.8 394.9,115 398.3,118.3 401.4,121.5 404.2,124.8 406.7,128 408.9,131.2 411,134.5 412.8,137.7 414.5,140.9 416,144.1 417.3,147.3 418.5,150.5 419.6,153.7 420.6,156.9 421.5,160.1 422.3,163.3 423.1,166.5 423.7,169.7 424.3,172.9 424.8,176.1 425.3,179.3 429.8,211.4 434.3,179.5 434.7,176.4 435.2,173.4 435.8,170.4 436.4,167.4 437.1,164.4 437.8,161.4 438.7,158.3 439.6,155.3 440.6,152.3 441.7,149.3 442.9,146.3 444.2,143.3 445.7,140.3 447.4,137.2 449.2,134.2 451.2,131.2 453.4,128.2 455.8,125.2 458.4,122.2 461.4,119.1 464.6,116.1 468.2,113.1 472.1,110.1 476.5,107.1 481.3,104.1 486.6,101.1 492.4,98 498.8,95 505.9,92 513.7,89 522.4,86 531.9,83 542.3,79.9 553.9,77.9 758.8,76.9" fill="none" stroke="#ff00ff" stroke-width="3.0" stroke-linejoin="round" />
<polyline points="429.4,488.1 431.2,467.5 433.4,449.9 435.5,429.6 437.7,419.4 439.9,396.8 442.1,393.3 444.3,392.1 446.4,387.5 448.6,386.1 450.8,386.7 453,392.1 455.1,395.2 457.3,390.5 459.5,375.9 461.7,375.9 461.7,337.4 463.9,337.6 466,337.6 466,381.6 468.2,379 470.4,373.6 472.6,373.6 472.6,373.8 474.8,371.1 476.9,367.1 479.1,361.7 481.3,357.1 483.5,356.8 485.6,358.5 487.8,358.5 487.8,299.1 490,296.3 492.2,296.8 494.4,294 496.5,294.8 498.7,302.3 500.9,302.4 503.1,308.3 505.3,313.1 507.4,304.3 509.6,304.3 509.6,308.7 511.8,306.4 514,302.6 516.1,294 518.3,297.6 520.5,304.5 522.7,305.5 524.9,302 527,302 527,277.1 529.2,280.5 531.4,296" fill="none" stroke="#ff0080" stroke-width="3.3" stroke-linejoin="round" />
<line x1="531.4" y1="75.9" x2="531.4" y2="297" stroke="#ff0080" stroke-width="6.0"/>
<polyline points="278.4,67.8 272.4,67.8 272.4,235 267.2,223.4 262,216.2 256.7,199.6 251.5,184.6 246.2,169.7 241,157.8 235.7,151.8 230.5,141.5 225.2,132.3 220,125.3 214.7,120.7 209.5,118.5 212.5,122.3 215.5,125.6 218.5,128.9 221.5,132.5 224.5,136.1 227.5,139.9 230.5,142.6 233.4,146.2 236.4,149.2 239.4,152.1 242.4,155.6 245.4,158.8 248.4,161.9 251.4,163.6 254.4,165.7 257.4,168.8 260.4,173 263.4,176.4 266.4,178.7 269.4,181.7 272.4,185.1 275.3,188.5 278.3,191.2 281.3,193.6 284.3,196.7 287.3,199.9 290.3,203.3 293.3,206.6 296.3,210 299.3,213.4 302.3,217.6 305.3,221 308.3,224.1 311.3,229.2 314.3,232.7 317.3,239.1 320.2,243.8 323.2,248.5 326.2,252.6 329.2,257.1 332.2,260.5 335.2,263.8 338.2,269.3 341.2,273.6 344.2,278.4 347.2,283.3 350.2,289.4 353.2,295.4 356.2,299.3 359.2,303.1 362.2,306.6 365.1,312.9 368.1,318.1 371.1,318.2 374.1,321.7 377.1,325.6 380.1,329.2 383.1,336.5 386.1,341 389.1,344.6 392.1,350.3 395.1,358.8 398.1,362.2 401.1,372.7 404.1,374.8 407,383.2 410,388.4 413,394.5 416,405.2 419,411.6 422,422.3 425,443.8 427.8,475.2" fill="none" stroke="#ff0080" stroke-width="3.3" stroke-linejoin="round" />
<polyline points="429.9,489.8 429.9,478.5 431.2,426.2 433.4,389.1 435.6,363.9 437.8,352.8 440,349.4 442.3,350.5 444.5,337.5 446.7,327.7 448.9,323.3 451.1,320.6 453.3,318.2 455.5,323.7 457.7,323.5 459.9,323.5 459.9,270.3 462.1,269.5 464.4,270 466.6,275 468.8,274 471,274 471,271.2 473.2,271.6 475.4,279 477.6,294.9 479.8,287.6 482,282.8 484.2,270.5 486.5,265.4 488.7,274 490.9,271.6 493.1,268.2 495.3,264.5 497.5,257.7 499.7,261.5 501.9,264.7 504.1,268 506.3,266.2 508.6,261.4 510.8,261.4 510.8,232.6 513,232.8 515.2,231 517.4,236.7 519.6,232 521.8,228.6 524,227.9 526.2,225.7 528.4,225.7 528.4,275.4 530.7,270.8 532.9,269.8 535.1,270.7 537.3,270.3 539.5,266 541.7,266.9 543.9,270 546.1,263.7 548.3,263.7 548.3,260.1 550.5,261.8 552.8,264 555,265 557.2,265 557.2,227.6 559.4,230.4 561.6,236 563.8,241 566,235.9 568.2,237.4 570.4,238.2 572.6,240 574.9,244.5 577.1,243.6 579.3,241.6 581.5,241.6 581.5,225.3 583.7,227.7 585.9,220.1" fill="none" stroke="#a52a2a" stroke-width="3.3" stroke-linejoin="round" />
<line x1="585.9" y1="75.9" x2="585.9" y2="221.13" stroke="#a52a2a" stroke-width="3.8"/>
<polyline points="286.9,68.7 280.9,67.7 280.9,195 274.9,191.2 269,189.9 263,183.9 257.1,173.7 251.1,163 245.2,153.7 239.2,149.3 233.3,136.2 227.3,125 221.4,116.4 215.4,110.4 209.5,107 212.5,108.4 215.5,110.6 218.5,112.2 221.5,114.5 224.5,116.4 227.5,118.8 230.5,120.2 233.4,122.1 236.4,123.8 239.4,125.8 242.4,127.7 245.4,130.9 248.4,133.2 251.4,136.6 254.4,139.5 257.4,142.7 260.4,146.8 263.4,151 266.4,154.7 269.4,160.4 272.4,164.5 275.3,169.6 278.3,174.1 281.3,177.6 284.3,182 287.3,185.8 290.3,189.5 293.3,192.6 296.3,194.9 299.3,197.6 302.3,201.3 305.3,205.8 308.3,209.6 311.3,212.9 314.3,217.2 317.3,220.8 320.2,223.6 323.2,227.2 326.2,230.9 329.2,232.6 332.2,236.5 335.2,240.2 338.2,243.8 341.2,247 344.2,249.9 347.2,253.1 350.2,255.5 353.2,258 356.2,261.6 359.2,263.7 362.2,266.4 365.1,269.7 368.1,270 371.1,271.1 374.1,276.2 377.1,275.9 380.1,280.1 383.1,283.8 386.1,287.1 389.1,288.9 392.1,291.3 395.1,294.7 398.1,297.8 401.1,300.7 404.1,307.5 407,310.3 410,312.4 413,315.4 416,324.7 419,336.2 422,348.8 425,372.1 427.4,460.1 427.4,485.6" fill="none" stroke="#a52a2a" stroke-width="3.3" stroke-linejoin="round" />
<polyline points="429.6,487.2 429.6,473.5 431.2,473.5 431.2,406 433.4,360.3 435.6,325.4 437.8,308.1 440,295.6 442.2,287.1 444.4,276 446.6,276 446.6,275.2 448.8,282.8 451,285.3 453.2,283.1 455.4,285.5 457.6,291.4 459.9,291.5 462.1,287.2 464.3,280.3 466.5,274.3 468.7,276.6 470.9,276.6 470.9,289.1 473.1,278 475.3,279.1 477.5,273.4 479.7,268.2 481.9,255.7 484.1,255.7 484.1,304 486.3,299 488.5,299 488.5,320.5 490.7,310.8 492.9,300.8 495.1,293.7 497.3,294.1 499.5,284.8 501.7,281.4 503.9,279.3 506.1,263.3 508.3,255 510.5,258.7 512.7,258.3 514.9,256 517.1,259.3 519.4,248.1 521.6,238.9 523.8,244.4 526,239 528.2,236.8 530.4,235.3 532.6,233.4 534.8,229.4 537,225.6 539.2,225.6 539.2,266.7 541.4,256.4 543.6,241.5 545.8,240.7 548,234.1 550.2,231.1 552.4,231.1 552.4,264.2 554.6,266 556.8,266.4 559,266.4 559,242.3 561.2,238.1 563.4,240.2 565.6,239.1 567.8,239.1 567.8,218.2 570,218.2 570,234.3 572.2,233.9 574.4,232.9 576.7,232.1 578.9,230.6 581.1,222.8 583.3,222.8 583.3,216 585.5,219.1 587.7,219.1 587.7,214.7 589.9,214 592.1,213.8 594.3,218 596.5,218.4 598.7,217.5 600.9,217.5 600.9,231.9 603.1,231.9 603.1,256.3 605.3,256.4 607.5,256.4 607.5,261.4 609.7,261.4 609.7,241 611.9,234.1 614.1,234.2 616.3,230.2 618.5,229.4 620.7,226.3 622.9,225.3 625.1,221.3 627.3,220.1 629.5,216 631.7,214 633.9,214 633.9,216.6 636.2,214.6 638.4,213.4 640.6,211.4 642.8,209 645,206.6 647.2,205.2 649.4,206.7 651.6,204.7 653.8,202.6 656,201.1 658.2,198.5 660.4,198 662.6,197 664.8,195.5" fill="none" stroke="#ff8000" stroke-width="3.3" stroke-linejoin="round" />
<line x1="664.8" y1="75.9" x2="664.8" y2="196.54" stroke="#ff8000" stroke-width="4.0"/>
<polyline points="289.6,69.9 283.6,68.5 283.6,197.1 277.4,193.8 271.2,193 265.1,184.5 258.9,177.4 252.7,166.5 246.5,155.4 240.4,149.9 234.2,137 228,125.5 221.8,116.6 215.7,110.5 209.5,107.1 212.5,109.6 215.5,111.4 218.5,113.1 221.5,115 224.5,116.8 227.5,118.7 230.5,120.2 233.4,121.3 236.4,123.5 239.4,126.7 242.4,129 245.4,130.5 248.4,132.4 251.4,134.3 254.4,136.6 257.4,139.2 260.4,141.7 263.4,147.1 266.4,151 269.4,155.3 272.4,158.9 275.3,162.8 278.3,167.2 281.3,171.7 284.3,175.8 287.3,180.7 290.3,184.7 293.3,189.3 296.3,192.2 299.3,195.3 302.3,199 305.3,203 308.3,206.7 311.3,210 314.3,213.6 317.3,217.5 320.2,221.7 323.2,224.7 326.2,228.8 329.2,232.2 332.2,234.3 335.2,237 338.2,240.1 341.2,242.7 344.2,247.7 347.2,250.5 350.2,251.7 353.2,254.9 356.2,257.7 359.2,260 362.2,262.8 365.1,265.3 368.1,267.8 371.1,275.5 374.1,274.4 377.1,278.5 380.1,281.2 383.1,284.2 386.1,286.1 389.1,286 392.1,286.3 395.1,290.6 398.1,292.3 401.1,294.5 404.1,299.9 407,309.8 410,315.1 413,318.8 416,320 419,330.9 422,345.1 425,366.7 428,457.5 428,487.8" fill="none" stroke="#ff8000" stroke-width="3.3" stroke-linejoin="round" />
<polyline points="430.2,471.8 431.2,412.7 433.4,369 435.6,344.1 437.8,336.6 440,336.6 440,336 442.2,338.4 444.4,342.4 446.6,340.2 448.8,333.1 451,333.1 451,319.9 453.2,310.6 455.4,301.7 457.6,299.2 459.8,294.8 462,289.1 464.2,290.1 466.4,296.2 468.6,287.8 470.8,287.8 470.8,324.6 473,318 475.2,319 477.4,316.4 479.6,311.7 481.8,304.8 484,304.9 486.2,302.1 488.4,290.2 490.6,275.7 492.8,274.6 495,271 497.2,273.5 499.4,277.3 501.6,277.3 501.6,263.1 503.8,262.1 506,261.6 508.2,262.3 510.4,265.7 512.6,255.8 514.8,246 517,246 517,246.6 519.2,252.5 521.4,252.8 523.6,259.1 525.8,261 528,259.9 530.2,250.4 532.4,250.3 534.6,252.6 536.8,246.9 539,249.8 541.2,242.8 543.4,237.6 545.6,235 547.8,232 550,227.2 552.2,229.5 554.4,238.7 556.6,236 558.8,236 561,231.8 563.2,234.6 565.4,232.1 567.6,239.2 569.8,235.2 572,235.2 572,217.9 574.2,218.8 576.4,218.4 578.6,222.7 580.8,224.9 583,218.7 585.2,221.3 587.4,223.9 589.6,223.5 591.8,224.9 594,221.7 596.2,222.2 598.4,223.3 600.6,223.3 602.8,225.8 605,222.6 607.2,221 609.4,222.5" fill="none" stroke="#ff00ff" stroke-width="3.3" stroke-linejoin="round" />
<line x1="609.4" y1="75.9" x2="609.4" y2="223.5" stroke="#ff00ff" stroke-width="3.8"/>
<polyline points="283,68.4 277,68.4 277,233 271.4,226.6 265.7,216.5 260.1,202.6 254.5,187.8 248.9,172 243.2,160.7 237.6,152.8 232,142.4 226.4,132.1 220.7,124.3 215.1,118.9 209.5,116 212.5,120.6 215.5,122.7 218.5,126.6 221.5,129.2 224.5,132 227.5,135.1 230.5,138.1 233.4,141.7 236.4,144.7 239.4,147.8 242.4,150.1 245.4,152.6 248.4,156.9 251.4,159.5 254.4,162.5 257.4,166 260.4,167.6 263.4,172.5 266.4,174.6 269.4,177.8 272.4,181.5 275.3,183.8 278.3,186.2 281.3,189.6 284.3,193.6 287.3,196.1 290.3,199.2 293.3,203.3 296.3,207.1 299.3,210.2 302.3,214.3 305.3,217.9 308.3,220.8 311.3,226 314.3,230.4 317.3,235.2 320.2,239.9 323.2,244.3 326.2,246.7 329.2,251.5 332.2,255.2 335.2,259.6 338.2,263.2 341.2,269.2 344.2,276 347.2,279.5 350.2,284.3 353.2,288.2 356.2,291.1 359.2,295.6 362.2,298.9 365.1,303.9 368.1,307.9 371.1,317 374.1,318.7 377.1,322.8 380.1,327.7 383.1,333 386.1,338.5 389.1,344 392.1,346.7 395.1,352.2 398.1,356.8 401.1,356.5 404.1,363.7 407,368.9 410,374.1 413,379.4 416,392.7 419,404.4 422,420.4 425,440.4 426.9,483.9 426.9,489.2" fill="none" stroke="#ff00ff" stroke-width="3.3" stroke-linejoin="round" />
<polyline points="429.4,474.5 431.2,470.6 433.4,452.1 435.6,436.8 437.8,431.2 440,422.4 442.2,419.8 444.4,419.8 444.4,415.5 446.7,415.5 446.7,411 448.9,403.1 451.1,402.3 453.3,399.7 455.5,396.1 457.7,392.6 459.9,377.9 462.1,380.3 464.3,380.3 464.3,333.8 466.5,333.8 466.5,288 468.7,291.3 470.9,291 473.1,297.7 475.3,300.2 477.6,304.4 479.8,308.7 482,305.7 484.2,303.5 486.4,311.5 488.6,312.9 490.8,311.7 493,310.7 495.2,321.1 497.4,310.4 499.6,307.5 501.8,300.6 504,300.3 506.2,289.8 508.5,289.7 510.7,282.6 512.9,272.7 515.1,272.7 515.1,232.1 517.3,247.3 519.5,248.7 521.7,260.2 523.9,267.3" fill="none" stroke="#008000" stroke-width="3.3" stroke-linejoin="round" />
<line x1="523.9" y1="75.9" x2="523.9" y2="268.34" stroke="#008000" stroke-width="3.8"/>
<polyline points="295,70.5 289,69.1 289,204 282.3,200.9 275.7,197.4 269.1,189.9 262.5,179.9 255.9,168.7 249.2,158.4 242.6,152.1 236,138.3 229.4,125.7 222.7,116 216.1,109.2 209.5,105.3 212.5,107.8 215.5,109.8 218.5,111.3 221.5,113.3 224.5,114.6 227.5,116.3 230.5,118 233.4,119.4 236.4,120.1 239.4,122.7 242.4,125.2 245.4,126.7 248.4,128.7 251.4,131.8 254.4,135.3 257.4,136.2 260.4,138.4 263.4,143.1 266.4,148.7 269.4,152.7 272.4,157.8 275.3,161.5 278.3,166.6 281.3,170.4 284.3,175.3 287.3,180 290.3,184.8 293.3,188.1 296.3,190.4 299.3,193.2 302.3,197 305.3,200 308.3,203 311.3,206.8 314.3,210.4 317.3,214.5 320.2,216.6 323.2,219.3 326.2,222.6 329.2,225.3 332.2,227.4 335.2,229.7 338.2,235.3 341.2,239 344.2,240.6 347.2,241.8 350.2,246.7 353.2,250.5 356.2,254.5 359.2,256.6 362.2,256.2 365.1,258.6 368.1,262.3 371.1,264.2 374.1,269 377.1,269.1 380.1,270.1 383.1,269.9 386.1,274 389.1,275.3 392.1,278.7 395.1,283.3 398.1,282.9 401.1,284.9 404.1,287.9 407,292.6 410,296.5 413,297.4 416,305.8 419,317.8 422,331.7 425,352.9 427.8,452.4 427.8,473.5" fill="none" stroke="#008000" stroke-width="3.3" stroke-linejoin="round" />
<polyline points="428.9,486.1 429,480.3 431.2,431.5 433.4,396.2 435.6,369.7 437.8,351.3 440,350.1 442.2,352.2 444.4,349.8 446.6,349.8 446.6,350.5 448.8,339.2 451,339.2 451,303.6 453.2,302.8 455.4,301 457.6,295.7 459.8,296.7 462.1,292.8 464.3,291.1 466.5,286 468.7,288.6 470.9,288.6 470.9,265.3 473.1,272.1 475.3,276.1 477.5,274.6 479.7,270.4 481.9,269.2 484.1,269.2 484.1,301.1 486.3,296 488.5,284.7 490.7,284.7 490.7,246.6 492.9,243.4 495.1,240.2 497.3,248.4 499.5,253.3 501.7,253.7 503.9,254.9 506.1,255.6 508.3,254.6 510.5,254.6 510.5,320.4 512.7,320.8 514.9,332.3 517.1,331.9 519.3,324.2 521.5,318.1 523.7,316.3 526,308.5 528.2,291.5 530.4,283.4 532.6,274.4 534.8,271.5 537,269.5 539.2,269.5 539.2,282.2 541.4,283.3 543.6,279.5 545.8,267 548,262.8 550.2,262.8 550.2,240.4 552.4,236.6 554.6,242.1 556.8,250.3 559,246.7 561.2,244.9 563.4,245.4 565.6,245.4 565.6,281.2 567.8,274.7 570,270.7 572.2,263.9 574.4,260 576.6,258 578.8,255.1 581,252.5 583.2,247.6 585.4,246.1 587.6,245.3 589.9,241.7 592.1,244.5 594.3,242.5 596.5,240.7 598.7,236.1 600.9,233.5 603.1,234.5 605.3,229.3 607.5,230.6 609.7,226.7 611.9,226.5 614.1,228.2 616.3,230.8 618.5,229.3 620.7,229.3 620.7,247.9" fill="none" stroke="#008080" stroke-width="3.3" stroke-linejoin="round" />
<line x1="620.7" y1="75.9" x2="620.7" y2="248.93" stroke="#008080" stroke-width="3.8"/>
<polyline points="292.5,70.1 286.5,68.7 286.5,204.6 280.1,202 273.6,195.7 267.2,191.1 260.8,181.3 254.4,167.7 248,157.1 241.6,151.3 235.2,138.8 228.7,128 222.3,120.1 215.9,115 209.5,112.7 212.5,115.6 215.5,117.8 218.5,119.4 221.5,121.7 224.5,122.9 227.5,125.1 230.5,127.1 233.4,129.3 236.4,131.1 239.4,132.5 242.4,134.5 245.4,138 248.4,141.6 251.4,143.6 254.4,146.4 257.4,149.3 260.4,151.8 263.4,156.5 266.4,161.5 269.4,164.6 272.4,169 275.3,172.8 278.3,177 281.3,182 284.3,186.5 287.3,190.5 290.3,193.4 293.3,195.9 296.3,199.5 299.3,203.5 302.3,207 305.3,210.1 308.3,214.8 311.3,218.6 314.3,222.2 317.3,226.7 320.2,231.6 323.2,235.6 326.2,239.6 329.2,242.7 332.2,247.3 335.2,250 338.2,253.4 341.2,258.6 344.2,262.4 347.2,262.8 350.2,267 353.2,270 356.2,273.2 359.2,275.4 362.2,277.6 365.1,283.7 368.1,287.6 371.1,288.7 374.1,291.5 377.1,298.2 380.1,303.2 383.1,306.4 386.1,310.4 389.1,314 392.1,320.4 395.1,322.5 398.1,324.5 401.1,326.4 404.1,329.7 407,337.8 410,343.7 413,349.2 416,357.6 419,366.3 422,384 425,402.5 428,470.6 428.2,483.7" fill="none" stroke="#008080" stroke-width="3.3" stroke-linejoin="round" />
<polyline points="430.2,470.7 431.2,457 433.4,434.9 435.7,434.9 435.7,401.1 437.9,381.1 440.1,361.3 442.3,353.9 444.5,350.7 446.7,350.7 446.7,320.5 449,326.4 451.2,326.4 451.2,284.5 453.4,291.2 455.6,291.2 455.6,296.9 457.8,306.1 460,314 462.3,321.1 464.5,327.8 466.7,319.1 468.9,320.8 471.1,331.7 473.3,334.2 475.6,334.3 477.8,343.5 480,343.5 480,366.5 482.2,364.7 484.4,361.4 486.6,355.3 488.9,351.2 491.1,351.8 493.3,346.8 495.5,348 497.7,345.9 499.9,345.9 499.9,350.6 502.2,349.2 504.4,342.8 506.6,335.1 508.8,333.9 511,333.9 511,344 513.3,342.7 515.5,333.6 517.7,325.8 519.9,314.5 522.1,312.1 524.3,316.4 526.6,315.7 528.8,315.7 528.8,306.6 531,307.5 533.2,308.6 535.4,310.7 537.6,307.6 539.9,303.6 542.1,305.2 544.3,304.7 546.5,301.1 548.7,304.8 550.9,298.7 553.2,296.1 555.4,293.7 557.6,294.7 559.8,285.3 562,282.9 564.2,282.9 566.5,279.1 568.7,276.6 570.9,271.9" fill="none" stroke="#ff8000" stroke-width="3.3" stroke-linejoin="round" />
<line x1="570.9" y1="75.9" x2="570.9" y2="272.93" stroke="#ff8000" stroke-width="3.8"/>
<polyline points="282.3,68.4 276.3,68.4 276.3,186 270.8,187.1 265.2,180.7 259.6,178.7 254.1,169.6 248.5,159.7 242.9,151.5 237.3,146.6 231.8,134.8 226.2,124 220.6,115.7 215.1,109.9 209.5,106.5 212.5,109.6 215.5,111.7 218.5,113.2 221.5,114.4 224.5,115.9 227.5,116.9 230.5,119.3 233.4,120.6 236.4,122.4 239.4,124.8 242.4,128 245.4,130.9 248.4,133.7 251.4,135 254.4,135.8 257.4,137.9 260.4,141.6 263.4,145.5 266.4,150.8 269.4,154.7 272.4,159.1 275.3,162.7 278.3,167.8 281.3,172.6 284.3,176.6 287.3,180.6 290.3,184.4 293.3,187.2 296.3,191.4 299.3,194.1 302.3,196.9 305.3,201.7 308.3,205.2 311.3,208.2 314.3,211.9 317.3,215 320.2,219 323.2,222.7 326.2,224.6 329.2,227.2 332.2,230.4 335.2,233.8 338.2,237.3 341.2,240.1 344.2,243 347.2,245.7 350.2,246.7 353.2,247.6 356.2,250.4 359.2,253 362.2,252.9 365.1,253.7 368.1,254.6 371.1,255.9 374.1,257.7 377.1,262.3 380.1,267.5 383.1,273.3 386.1,277.1 389.1,281.3 392.1,283.7 395.1,288.7 398.1,286.2 401.1,290.4 404.1,293.1 407,296.9 410,301.6 413,307.9 416,317.6 419,328.2 422,341.7 425,361.3 427,456.7 427,472.5" fill="none" stroke="#ff8000" stroke-width="3.3" stroke-linejoin="round" />
<polyline points="429,483.8 431.2,451.8 433.4,427.7 435.6,404.6 437.8,390.3 440,387.9 442.2,389.8 444.4,380.5 446.6,380.5 446.6,357 448.8,361 451,351.1 453.2,350.7 455.4,343.8 457.6,343.8 457.6,372.2 459.8,361.1 462,359.9 464.2,363.9 466.4,364.4 468.6,355.4 470.8,358.7 473,352.5 475.2,346.4 477.4,340 479.6,327.6 481.8,332.3 484,324.6 486.2,319 488.4,318.4 490.6,318.9 492.7,319.6 494.9,319.6 494.9,267.8 497.1,276.1 499.3,271.6 501.5,278.6 503.7,271.9 505.9,277.5 508.1,273.6 510.3,275.3 512.5,276.4 514.7,267.3 516.9,271.3 519.1,271.3 519.1,277.3 521.3,269.4 523.5,264.3 525.7,256.2 527.9,250.8 530.1,250.8 530.1,258.1 532.3,258.1 534.5,258.1 534.5,246.7 536.7,246.7 536.7,288.7 538.9,289.3 541.1,288.4 543.3,286.4 545.5,281 547.7,279.9 549.9,279.9 549.9,305.9 552.1,297.4" fill="none" stroke="#ff0000" stroke-width="3.3" stroke-linejoin="round" />
<line x1="552.1" y1="75.9" x2="552.1" y2="298.42" stroke="#ff0000" stroke-width="5.4"/>
<polyline points="287.3,68.9 281.3,67.8 281.3,235 275.4,225.2 269.4,215.6 263.4,204.1 257.4,191.8 251.4,174.6 245.4,162.3 239.4,156.3 233.4,144.4 227.5,134.3 221.5,126.9 215.5,122.1 209.5,120 212.5,123.5 215.5,126.9 218.5,130.4 221.5,133.2 224.5,135.9 227.5,138.6 230.5,142 233.4,145.9 236.4,148.6 239.4,151.7 242.4,154.7 245.4,158.6 248.4,161.9 251.4,165 254.4,167.3 257.4,170.5 260.4,173.3 263.4,177.4 266.4,180.3 269.4,183.4 272.4,186.4 275.3,188.8 278.3,191.4 281.3,194.8 284.3,197.6 287.3,201.2 290.3,204.2 293.3,208.1 296.3,212 299.3,216 302.3,220 305.3,224 308.3,227.7 311.3,232.4 314.3,237 317.3,242.4 320.2,247.1 323.2,251.9 326.2,256.6 329.2,261.2 332.2,265.8 335.2,270.2 338.2,275 341.2,279.7 344.2,284.7 347.2,288.6 350.2,292.7 353.2,298.1 356.2,300.6 359.2,306.4 362.2,309.1 365.1,313.3 368.1,319.5 371.1,326 374.1,332.3 377.1,333.9 380.1,341.7 383.1,347.2 386.1,351.2 389.1,355.5 392.1,360 395.1,362.1 398.1,370.7 401.1,375.5 404.1,381.3 407,388.1 410,395 413,401.8 416,411.6 419,422.9 422,436.1 425,457.9 428,474.9 428.5,474.9" fill="none" stroke="#ff0000" stroke-width="3.3" stroke-linejoin="round" />
<polyline points="429.4,475.1 431.2,427.7 433.4,387.9 435.6,360.5 437.8,341.5 440,335.1 442.2,324.9 444.4,329.4 446.6,318.9 448.9,317.5 451.1,317.5 453.3,325 455.5,319.9 457.7,319.9 457.7,382.5 459.9,374.6 462.1,366.4 464.3,360.6 466.5,354.9 468.7,354.9 468.7,378.4 470.9,368.8 473.1,366 475.3,364.3 477.5,356.9 479.7,350 481.9,355.6 484.2,350.5 486.4,347.3 488.6,356.2 490.8,347.6 493,348.6 495.2,340.3 497.4,340.3 497.4,301.2 499.6,309.4 501.8,309.3 504,306.4 506.2,301.1 508.4,300.1 510.6,296.2 512.8,295.7 515,295.7 515,306.5 517.2,306.5 517.2,315.5 519.4,317 521.7,317 521.7,337.3 523.9,330 526.1,328.8 528.3,318 530.5,314 532.7,301.8 534.9,299.8 537.1,294.2 539.3,292.6 541.5,290.1 543.7,278 545.9,280.6 548.1,273.2 550.3,267.7 552.5,264.8 554.7,259 557,250 559.2,252 561.4,260.3 563.6,256.1 565.8,253.4 568,257.2 570.2,257.2 570.2,251.5 572.4,247.6 574.6,247.6 574.6,235.2 576.8,232.5 579,230 581.2,223.8 583.4,224.9 585.6,226.4 587.8,225.5 590,226.6 592.3,226.6 592.3,254.1 594.5,247.8 596.7,241.8 598.9,243.5 601.1,243.5 601.1,254.2 603.3,251.6 605.5,247.2 607.7,247.2 607.7,221.6 609.9,219.8 612.1,217.4 614.3,216.7 616.5,216.8 618.7,215.4 620.9,217.3 623.1,221.3 625.3,219.5 627.5,218.1 629.8,218.1 629.8,221 632,217.4 634.2,216.2 636.4,214.6 638.6,213.8 640.8,212.7 643,210.7 645.2,209.2 647.4,208.6 649.6,205.9 651.8,205.9 651.8,212.5 654,209.8 656.2,207.4 658.4,204.4 660.6,204.4 660.6,199.1 662.8,198 665.1,196.4 667.3,195.3 669.5,193.6 671.7,193.7 673.9,191.9 676.1,191.9 676.1,196.3 678.3,192.8 680.5,190.6 682.7,188.8" fill="none" stroke="#800000" stroke-width="3.3" stroke-linejoin="round" />
<line x1="682.7" y1="75.9" x2="682.7" y2="189.83" stroke="#800000" stroke-width="3.8"/>
<polyline points="297,71.6 291,70.2 291,191 284.2,192.4 277.4,188.8 270.6,183.8 263.8,177.1 257,169.4 250.2,159 243.4,151.9 236.7,138.4 229.9,124.8 223.1,114.2 216.3,106.6 209.5,102 212.5,104.6 215.5,105.8 218.5,108.5 221.5,110.5 224.5,110.9 227.5,111.8 230.5,113.1 233.4,114.3 236.4,115.8 239.4,117.6 242.4,119.9 245.4,121.9 248.4,124.9 251.4,127.2 254.4,130.4 257.4,132.1 260.4,134.5 263.4,140.1 266.4,143.8 269.4,147.5 272.4,151.7 275.3,156.5 278.3,161.2 281.3,166.3 284.3,170.1 287.3,174.6 290.3,179.2 293.3,183.2 296.3,186.5 299.3,189.2 302.3,193.3 305.3,196.7 308.3,199.9 311.3,202.4 314.3,205.2 317.3,208.6 320.2,210.7 323.2,213.2 326.2,216.9 329.2,221 332.2,222.1 335.2,224.2 338.2,227.4 341.2,229.8 344.2,231.6 347.2,232.9 350.2,236.4 353.2,236.7 356.2,239.7 359.2,242 362.2,244.1 365.1,245.5 368.1,246.4 371.1,247.5 374.1,248 377.1,249.9 380.1,252.3 383.1,254.9 386.1,257.6 389.1,260.8 392.1,262.8 395.1,267.5 398.1,269.7 401.1,271.3 404.1,276 407,280.8 410,286.9 413,293.2 416,299 419,306.2 422,321.9 425,341.4 428,447.8 428.6,491.8" fill="none" stroke="#800000" stroke-width="3.3" stroke-linejoin="round" />
<polyline points="429.8,474.8 431.2,474.8 431.2,417.1 433.4,382.6 435.6,356.9 437.8,348.8 440,336.8 442.2,326.7 444.4,327.5 446.6,327.5 446.6,275.2 448.8,275.2 448.8,274.4 451,273.6 453.2,273.6 453.2,272.8 455.4,273 457.6,284.3 459.8,282.1 462,287 464.1,279.7 466.3,279.7 466.3,297.5 468.5,290.3 470.7,292.5 472.9,298.4 475.1,298.4 475.1,298.6 477.3,298.9 479.5,303.5 481.7,303.5 481.7,272.7 483.9,264.3 486.1,266.4 488.3,266.4 488.3,308.6 490.5,302 492.7,302 492.7,328.4 494.9,330.1 497.1,324 499.3,324 499.3,277.3 501.5,276.4 503.7,271.9 505.9,272.9 508.1,266.5 510.3,261.9 512.5,261.4 514.7,261.4 514.7,248 516.9,245.4 519.1,242.9 521.3,234.8 523.5,227.9 525.7,230.5 527.9,230 530.1,231.6 532.3,232.6 534.4,233.3 536.6,234.3 538.8,230.5 541,230.5 541,219.6 543.2,221.3 545.4,219.5 547.6,219.5 547.6,219.4 549.8,226.4 552,229.9 554.2,229.8 556.4,226.8 558.6,221.2 560.8,227.3 563,227.3 563,239 565.2,238.8 567.4,237 569.6,234 571.8,229.4 574,224.1 576.2,225.6 578.4,231.4 580.6,228.2 582.8,228.9 585,228.9 585,229.2 587.2,223.9 589.4,225.1 591.6,228.4 593.8,228.8 596,231.5 598.2,232.3 600.4,229.8 602.6,226.3 604.7,225.3 606.9,225.3 606.9,223.8 609.1,223.8 609.1,209.7 611.3,209.7 611.3,208.7 613.5,208.3 615.7,207.9 617.9,209.4 620.1,209 622.3,209 622.3,208.3 624.5,205.2 626.7,204.3 628.9,204.9 631.1,203.1 633.3,203.1 633.3,213.7 635.5,211.1 637.7,209.9 639.9,209 642.1,207.6 644.3,207.6 644.3,219.2 646.5,215.8 648.7,213.4 650.9,212.2 653.1,209.7 655.3,209.7 655.3,195.9 657.5,194.3 659.7,191.9 661.9,189.9 664.1,188.8 666.3,188.8 666.3,188.1 668.5,187.4 670.7,186.5 672.9,186.5 672.9,185.8 675,185.3 677.2,185.3 677.2,183.9 679.4,182.8 681.6,181.7 683.8,180.7 686,179.5 688.2,178.6 690.4,177.7 692.6,176.5 694.8,174.8 697,173.5 699.2,172.3 701.4,171.1 703.6,169.2 705.8,167.5 708,166.2" fill="none" stroke="#000000" stroke-width="3.3" stroke-linejoin="round" />
<line x1="708" y1="75.9" x2="708" y2="167.2" stroke="#000000" stroke-width="3.8"/>
<polyline points="279.6,68 273.6,68 273.6,191 268.3,188 262.9,185.9 257.6,178.1 252.2,170.5 246.9,160.4 241.6,150.4 236.2,146.1 230.9,134.7 225.5,125.2 220.2,118 214.8,113.2 209.5,110.8 212.5,113.4 215.5,115.9 218.5,118 221.5,119.9 224.5,121.8 227.5,124.1 230.5,126.2 233.4,128.3 236.4,130.9 239.4,133 242.4,135.7 245.4,140.2 248.4,142.1 251.4,144.6 254.4,147.9 257.4,150.6 260.4,153.6 263.4,157 266.4,161.3 269.4,165.1 272.4,168.7 275.3,173.1 278.3,176 281.3,179.9 284.3,183.6 287.3,186.5 290.3,189.8 293.3,193.4 296.3,196.3 299.3,199.7 302.3,203.5 305.3,206.1 308.3,210.3 311.3,214.5 314.3,218.5 317.3,221.7 320.2,226.7 323.2,230.7 326.2,234.6 329.2,237.6 332.2,238.9 335.2,241.8 338.2,244.8 341.2,250.3 344.2,252.1 347.2,253.6 350.2,256 353.2,259.6 356.2,262.5 359.2,264.4 362.2,266.6 365.1,271.5 368.1,275.7 371.1,277.6 374.1,280.4 377.1,285.6 380.1,289.5 383.1,291.7 386.1,298.1 389.1,302.1 392.1,304.2 395.1,306.5 398.1,312.2 401.1,316.3 404.1,319.5 407,322.8 410,324.8 413,327.8 416,334.3 419,344 422,362.2 425,383.9 428,465 428.2,478.7" fill="none" stroke="#000000" stroke-width="3.3" stroke-linejoin="round" />
<polyline points="429.3,488.6 429.3,478.2 431.2,424.2 433.4,386.2 435.6,357.9 437.8,339.3 440,341.4 442.2,326.8 444.4,323.1 446.6,323.1 446.6,370.7 448.8,369.4 451,364.2 453.2,364.2 453.2,399.9 455.4,396.3 457.6,382.9 459.7,365.9 461.9,364.8 464.1,364.8 464.1,383.9 466.3,370.6 468.5,370.6 468.5,342.2 470.7,334.5 472.9,321.9 475.1,322.1 477.3,319.2 479.5,319.5 481.7,321.1 483.9,321.1 483.9,312.8 486.1,304.7 488.3,299.6 490.5,298.5 492.7,297.6 494.9,297.6 494.9,311.8 497.1,310.6 499.3,303.6 501.5,300 503.7,287.8 505.9,287.8 505.9,273.7 508.1,258.3 510.3,255.1 512.5,241.6 514.7,243.1 516.9,243.1 516.9,230.3 519.1,229 521.2,238.5 523.4,238.5 523.4,225.6 525.6,232.4 527.8,237.6 530,233.9 532.2,241.2 534.4,239.1 536.6,231.3 538.8,226.6 541,232.5 543.2,238.5 545.4,243.1 547.6,242.9 549.8,242.4 552,240.6 554.2,240.6 554.2,267.9 556.4,263.2 558.6,260.4 560.8,261.1 563,258.6 565.2,257.6 567.4,252.8 569.6,252.8 569.6,288.1 571.8,277.9 574,273.9 576.2,268.6 578.4,268.6 578.4,267.2 580.6,261.4 582.7,253.8 584.9,257.6 587.1,253.9 589.3,251.2 591.5,245.9 593.7,248.7 595.9,244 598.1,240.9 600.3,238.3 602.5,234.9 604.7,228.6 606.9,232.8 609.1,231.2 611.3,226.1 613.5,224.4 615.7,223.5 617.9,225.8 620.1,225.3 622.3,223.7 624.5,220.4 626.7,220.4 626.7,218.7 628.9,216.9 631.1,216.9 631.1,202.6 633.3,201.7 635.5,201.7 635.5,202.8 637.7,203.7 639.9,205.9 642.1,204.6 644.2,205.6 646.4,204.4 648.6,203.7 650.8,202.2 653,202.2 653,199.7 655.2,198.6 657.4,197.9 659.6,197.9 659.6,192.6 661.8,193.2 664,193.2 664,189.2 666.2,189.2 668.4,188.3 670.6,188.7 672.8,187.9" fill="none" stroke="#4000ff" stroke-width="3.3" stroke-linejoin="round" />
<line x1="672.8" y1="75.9" x2="672.8" y2="188.92" stroke="#4000ff" stroke-width="7.5"/>
<polyline points="298.7,72.3 292.7,70.8 292.7,205.9 285.8,207.5 278.8,204.3 271.9,197 265,188 258,177.9 251.1,166.9 244.2,159.5 237.2,146.1 230.3,132.5 223.4,122 216.4,114.6 209.5,110.2 212.5,113 215.5,115.3 218.5,116.6 221.5,117.9 224.5,119.9 227.5,122.8 230.5,125.3 233.4,127.1 236.4,130.2 239.4,133.3 242.4,135.8 245.4,138.8 248.4,141.1 251.4,142.3 254.4,144.1 257.4,146.8 260.4,149.2 263.4,154 266.4,157.1 269.4,159.9 272.4,163 275.3,166 278.3,170 281.3,174.8 284.3,179.5 287.3,183.9 290.3,188.2 293.3,192.5 296.3,196 299.3,200.2 302.3,203.2 305.3,206.9 308.3,210.1 311.3,214.2 314.3,218.8 317.3,222.9 320.2,227 323.2,231 326.2,235.2 329.2,238.5 332.2,242.4 335.2,246.8 338.2,249 341.2,254 344.2,257.7 347.2,260.6 350.2,263.4 353.2,266.9 356.2,269.4 359.2,272.3 362.2,275.9 365.1,275.9 368.1,281 371.1,284.4 374.1,285.3 377.1,287 380.1,291.8 383.1,297.5 386.1,305.2 389.1,306.9 392.1,311.9 395.1,315.9 398.1,318.8 401.1,325.7 404.1,327.1 407,329.6 410,333.3 413,339.6 416,346.9 419,355.6 422,369.8 425,389.5 426.9,464.2 426.9,476.3" fill="none" stroke="#4000ff" stroke-width="3.3" stroke-linejoin="round" />
<polyline points="429.1,486.5 429.1,482.2 431.2,438.1 433.4,406.1 435.6,382.8 437.8,371.5 440,355 442.2,353.9 444.4,331.2 446.6,325 448.8,325 448.8,363.4 451,360.3 453.2,359.6 455.4,357.4 457.6,350.1 459.8,356 462,356 462,296.4 464.2,292.3 466.4,301.8 468.6,301.8 468.6,311.5 470.8,308.7 473,308.1 475.2,308.1 475.2,317.9 477.4,319 479.6,317 481.8,314.9 484,303.3 486.2,302.1 488.4,296 490.6,284.5 492.8,278.7 495,288 497.2,289 499.4,289.2 501.6,293.7 503.8,288.3 506,280.5 508.2,273.9 510.4,283.5 512.6,280.7 514.8,284.9 517,283.4 519.2,277.5 521.4,274.1 523.6,271.9 525.8,271.9 525.8,307.8 528,306.2 530.2,306.2 530.2,330.1 532.4,330.1 532.4,260 534.6,246.7 536.8,241.2 539,249 541.1,261.7 543.3,260.9 545.5,255.8 547.7,262.6 549.9,257.4 552.1,259.4 554.3,263.6 556.5,258.8 558.7,258 560.9,252.7 563.1,257.8 565.3,255.9 567.5,253.4 569.7,253.3 571.9,253.8 574.1,254.3 576.3,256.5 578.5,254.1 580.7,256.7 582.9,256.7 582.9,271.4 585.1,271.4 585.1,263.7 587.3,263.7 587.3,278.5 589.5,274.8 591.7,274.6 593.9,268.9 596.1,268.9 596.1,262.4 598.3,260.1 600.5,256.7 602.7,253.3 604.9,251.8 607.1,254 609.3,254 609.3,259.9 611.5,254.9 613.7,249 615.9,248 618.1,245.2 620.3,243.2 622.5,242.4 624.7,239.5 626.9,234.2 629.1,227.5 631.3,223.1 633.5,222.1 635.7,221.8 637.9,219.7 640.1,217.8 642.3,214.9 644.5,211.9 646.7,210.2 648.9,209.5" fill="none" stroke="#0000ff" stroke-width="3.3" stroke-linejoin="round" />
<line x1="648.9" y1="75.9" x2="648.9" y2="210.53" stroke="#0000ff" stroke-width="3.8"/>
<polyline points="289.3,69.2 283.3,67.8 283.3,187.8 277.1,188.3 271,185.4 264.8,181.6 258.7,172.9 252.5,164.4 246.4,156.5 240.2,150 234.1,139 227.9,130 221.8,123.7 215.6,120.1 209.5,119.3 212.5,123.8 215.5,127 218.5,130.2 221.5,133.1 224.5,135.6 227.5,138.2 230.5,142.5 233.4,145.9 236.4,149.3 239.4,152.5 242.4,155.6 245.4,158.8 248.4,161.9 251.4,165 254.4,168.1 257.4,169.7 260.4,173.6 263.4,174.5 266.4,178.2 269.4,181.9 272.4,185.4 275.3,188 278.3,190.8 281.3,194 284.3,196.1 287.3,198.7 290.3,201.2 293.3,204.8 296.3,208.8 299.3,212.6 302.3,216.7 305.3,220.2 308.3,223.4 311.3,227.7 314.3,232.4 317.3,237.3 320.2,242.4 323.2,246.8 326.2,252.6 329.2,256 332.2,261.2 335.2,266.7 338.2,271.7 341.2,276.8 344.2,281.7 347.2,287.5 350.2,291.6 353.2,297.1 356.2,303.5 359.2,305.5 362.2,310.9 365.1,313 368.1,317 371.1,320.7 374.1,325.5 377.1,329.5 380.1,332.7 383.1,338.2 386.1,340.6 389.1,343.4 392.1,346.1 395.1,356 398.1,363.6 401.1,370.2 404.1,378.5 407,385.5 410,390 413,398.2 416,404.4 419,415.3 422,428.3 425,446.7 428,479.7 428.2,479.7" fill="none" stroke="#0000ff" stroke-width="3.3" stroke-linejoin="round" />
<polyline points="283.3,67.8 297.2,71.1 310.2,74.5 321.8,78 332.4,81.3 341.9,84.7 350.5,88.1 358.2,91.4 365.2,94.7 371.5,98 377.2,101.3 382.3,104.6 387,107.9 391.1,111.1 394.9,114.4 398.3,117.7 401.4,120.9 404.2,124.1 406.7,127.4 408.9,130.6 411,133.8 412.8,137 414.5,140.3 416,143.5 417.3,146.7 418.5,149.9 419.6,153.1 420.6,156.3 421.5,159.5 422.3,162.7 423.1,165.9 423.7,169 424.3,172.2 424.8,175.4 425.3,178.6 429.8,210.8 434.3,178.8 434.7,175.8 435.2,172.8 435.8,169.8 436.4,166.7 437.1,163.7 437.8,160.7 438.7,157.7 439.6,154.7 440.6,151.7 441.7,148.7 442.9,145.6 444.2,142.6 445.7,139.6 447.4,136.6 449.2,133.6 451.2,130.6 453.4,127.5 455.8,124.5 458.4,121.5 461.4,118.5 464.6,115.5 468.2,112.5 472.1,109.5 476.5,106.4 481.3,103.4 486.6,100.4 492.4,97.4 498.8,94.4 505.9,91.4 513.7,88.3 522.4,85.3 531.9,82.3 542.3,79.3 553.9,77.2 758.8,76.9" fill="none" stroke="#0000ff" stroke-width="3.0" stroke-linejoin="round" />
<polyline points="429.9,473.8 431.2,440 433.4,405.2 435.6,380.5 437.8,379.6 440,378.7 442.2,363.4 444.4,354.5 446.6,352.7 448.8,341.7 450.9,330.2 453.1,327.7 455.3,318.2 457.5,314.8 459.7,301.5 461.9,307.2 464.1,313.6 466.3,325.1 468.5,315.5 470.7,326.8 472.9,323 475.1,318.5 477.3,322.1 479.5,318.6 481.7,317.9 483.9,314.4 486.1,309.8 488.3,310.2 490.5,309.5 492.7,320.3 494.8,320.3 494.8,326.9 497,331.2 499.2,329 501.4,329 501.4,267.1 503.6,263.6 505.8,269.7 508,269.7 508,257.4 510.2,253.6 512.4,254.9 514.6,260.8 516.8,259.6 519,264.1 521.2,266 523.4,265.5 525.6,265.6 527.8,267.3 530,270.4 532.2,265.9 534.4,265.2 536.5,261.1 538.7,272.3 540.9,271.1 543.1,268.7 545.3,265.3 547.5,269.4 549.7,269.4 551.9,267.9 554.1,266.4 556.3,275.3 558.5,269.8 560.7,260.9 562.9,258.6 565.1,261.5 567.3,257.6 569.5,259.2 571.7,248.1 573.9,248.1 573.9,268 576.1,265.1 578.3,269.4 580.4,265.7 582.6,259.6 584.8,259.2 587,257.9 589.2,257.9 589.2,245.2 591.4,244.5 593.6,237.9 595.8,233.1 598,229.4 600.2,231.5" fill="none" stroke="#000080" stroke-width="3.3" stroke-linejoin="round" />
<line x1="600.2" y1="75.9" x2="600.2" y2="232.47" stroke="#000080" stroke-width="3.8"/>
<polyline points="278,68.7 272,68.7 272,201.8 266.8,198.2 261.6,190.1 256.4,181.8 251.2,171 245.9,159.9 240.7,149.6 235.5,143.5 230.3,133.7 225.1,123.8 219.9,116.1 214.7,110.8 209.5,107.7 212.5,109.7 215.5,111.2 218.5,113.2 221.5,116.2 224.5,118.3 227.5,120.5 230.5,122.6 233.4,123.3 236.4,126.4 239.4,129.2 242.4,132.6 245.4,134.1 248.4,137.3 251.4,140.2 254.4,140.7 257.4,143.3 260.4,147.3 263.4,150.7 266.4,154.3 269.4,158.2 272.4,162.6 275.3,167.1 278.3,171.5 281.3,175.8 284.3,179.9 287.3,183.7 290.3,187.6 293.3,191.1 296.3,193.8 299.3,197.4 302.3,200 305.3,203.4 308.3,207.1 311.3,211 314.3,214.4 317.3,217.2 320.2,220.7 323.2,223.4 326.2,226.2 329.2,229.2 332.2,232 335.2,235.9 338.2,240 341.2,242.9 344.2,246.1 347.2,247.7 350.2,251.5 353.2,252.9 356.2,254.8 359.2,256.1 362.2,259.3 365.1,263.7 368.1,268.1 371.1,273.1 374.1,273.3 377.1,276.1 380.1,279.7 383.1,283.8 386.1,283.8 389.1,286.3 392.1,290.4 395.1,293.9 398.1,296.8 401.1,299.3 404.1,305.8 407,306.8 410,310.2 413,313.4 416,320.6 419,333.8 422,346.9 425,365.8 428,456.4 428.2,486.4" fill="none" stroke="#000080" stroke-width="3.3" stroke-linejoin="round" />
<polyline points="430.2,487.9 431.2,472.4 433.4,449.8 435.6,430.2 437.9,419.3 440.1,412.8 442.3,414.2 444.5,413.6 446.7,401.9 448.9,393.2 451.1,396.5 453.3,393.2 455.6,380.6 457.8,380.6 457.8,378.3 460,370.9 462.2,373.6 464.4,379.9 466.6,374.3 468.8,372 471,375.6 473.3,366.8 475.5,364.5 477.7,361.1 479.9,360 482.1,352 484.3,352.6 486.5,355.5 488.7,355.5 488.7,359.5 491,357.7 493.2,353 495.4,353 495.4,303.1 497.6,309.7 499.8,303.6 502,315.1 504.2,324.8 506.5,324.8 506.5,346.7 508.7,345.4 510.9,335.9 513.1,341 515.3,341 515.3,326.7 517.5,324.5 519.7,320.7 521.9,323 524.2,318.5 526.4,316 528.6,302.2 530.8,302.8 533,305.8 535.2,305.2 537.4,297.3 539.6,292.1 541.9,293.1 544.1,289.7 546.3,293.6 548.5,305.2 550.7,307.2 552.9,304.5 555.1,298.3 557.3,301.9 559.6,295.9 561.8,292.2 564,291.4 566.2,287.7" fill="none" stroke="#000080" stroke-width="3.3" stroke-linejoin="round" />
<line x1="566.2" y1="75.9" x2="566.2" y2="288.72" stroke="#000080" stroke-width="3.8"/>
<polyline points="292.4,71 286.4,69.6 286.4,191.4 280,192 273.6,188.9 267.2,184.5 260.8,175.4 254.4,166.5 248,157.4 241.6,150.4 235.1,138.3 228.7,126.9 222.3,118.4 215.9,112.7 209.5,109.8 212.5,112.2 215.5,113.9 218.5,116.3 221.5,118.6 224.5,120.6 227.5,123.2 230.5,125.5 233.4,127.1 236.4,129.8 239.4,132.1 242.4,135.1 245.4,137.6 248.4,140.2 251.4,143 254.4,144.4 257.4,146.2 260.4,150.2 263.4,152.7 266.4,157.6 269.4,160.4 272.4,163.9 275.3,167.2 278.3,171.8 281.3,176 284.3,180.6 287.3,184.7 290.3,188.1 293.3,191 296.3,195.2 299.3,198.9 302.3,203.2 305.3,206.5 308.3,209.9 311.3,214.5 314.3,218.2 317.3,221.8 320.2,225 323.2,228.6 326.2,231.7 329.2,235.9 332.2,239.7 335.2,244.1 338.2,247.1 341.2,250.5 344.2,253 347.2,255.4 350.2,258.5 353.2,260.4 356.2,265.3 359.2,267.4 362.2,270.3 365.1,275.3 368.1,278.5 371.1,283.6 374.1,286.3 377.1,284.8 380.1,288.3 383.1,292.1 386.1,294.8 389.1,301.1 392.1,301.9 395.1,308.1 398.1,309.5 401.1,312.8 404.1,314.8 407,324.3 410,328.4 413,333.8 416,340.3 419,350.5 422,365 425,384.4 428,463.8 428.4,483.3" fill="none" stroke="#000080" stroke-width="3.3" stroke-linejoin="round" />
<polyline points="429.8,490.4 429.8,482 431.2,436.9 433.4,406.3 435.6,383.9 437.8,376.1 440,362.5 442.2,358 444.4,348.5 446.6,345.9 448.8,338.9 451,338.9 451,360.4 453.2,362.4 455.4,362.4 455.4,396 457.6,384.6 459.8,384.6 459.8,368.5 462,368.5 462,365.6 464.2,359.8 466.4,360.6 468.6,359.7 470.8,359.7 470.8,326.4 473,326.4 473,351.8 475.2,337.2 477.4,329.8 479.6,320.2 481.8,318.1 484,314.8 486.2,308.2 488.4,303.7 490.6,296.8 492.8,296.2 495,286.5 497.2,276.4 499.4,273.1 501.6,275 503.8,270.5 506,268.7 508.2,274.1 510.4,273.8 512.6,274.7 514.8,272 517,273.6 519.2,275.3 521.4,288.6 523.6,288.6 523.6,235.4 525.8,229.6 528,222.1 530.2,221.6 532.4,219.9 534.6,221.1 536.8,221.1 536.8,234 539,232.5 541.2,233.7 543.4,230.6 545.7,235 547.9,232.2 550.1,233.8 552.3,237.1 554.5,233.2 556.7,232.2 558.9,230.7 561.1,229.4 563.3,235.9 565.5,232.5 567.7,233.9 569.9,228.7 572.1,228.7 572.1,234.1 574.3,234.3 576.5,240.6 578.7,236 580.9,236.2 583.1,233.1 585.3,234.1 587.5,229.5 589.7,229.5 589.7,229.7 591.9,232.2 594.1,235.7 596.3,232.8 598.5,232.5 600.7,228.2 602.9,222.5 605.1,224.6 607.3,224.6 607.3,209.5 609.5,209.8 611.7,213.2 613.9,213 616.1,213 616.1,207.8 618.3,212 620.5,212 620.5,206.8 622.7,208.2 624.9,211.9 627.1,212 629.3,209.8 631.5,208.1 633.7,207.7 635.9,208.1 638.1,208.1 638.1,199.8 640.3,198.9 642.5,199.8 644.7,199 646.9,197 649.1,197.5 651.3,198 653.5,195.3 655.7,194.2 657.9,192.9 660.1,193" fill="none" stroke="#000080" stroke-width="3.3" stroke-linejoin="round" />
<line x1="660.1" y1="75.9" x2="660.1" y2="194.01" stroke="#000080" stroke-width="3.8"/>
<polyline points="296.8,72.5 290.8,71.1 290.8,189.3 284,191.8 277.3,186.8 270.5,184.6 263.7,177.6 256.9,169.2 250.2,160.2 243.4,151.6 236.6,139.4 229.8,127.2 223.1,118 216.3,111.8 209.5,108.6 212.5,110.7 215.5,113 218.5,114.8 221.5,116.6 224.5,118.9 227.5,120.3 230.5,122.1 233.4,123.7 236.4,125 239.4,128.2 242.4,130.2 245.4,132 248.4,132.9 251.4,135.9 254.4,138.5 257.4,140.1 260.4,144.3 263.4,150.9 266.4,155.4 269.4,158.3 272.4,162.2 275.3,166.2 278.3,169.7 281.3,174.9 284.3,179 287.3,182.9 290.3,187.3 293.3,191.7 296.3,195.2 299.3,197.8 302.3,201.4 305.3,205.5 308.3,208.3 311.3,211.7 314.3,215.2 317.3,219.4 320.2,223.8 323.2,225.7 326.2,228.5 329.2,231 332.2,234.7 335.2,237.6 338.2,242.8 341.2,246.4 344.2,249 347.2,250.4 350.2,254.2 353.2,257.2 356.2,260.6 359.2,264.7 362.2,267.8 365.1,268.4 368.1,270.2 371.1,270.6 374.1,276.2 377.1,281.8 380.1,286.8 383.1,292.2 386.1,295.6 389.1,300 392.1,302.5 395.1,308.6 398.1,312.7 401.1,314.1 404.1,322.2 407,324.8 410,330.2 413,334.4 416,337.7 419,346.4 422,360.4 425,382.1 427,463.3 427,472.2" fill="none" stroke="#000080" stroke-width="3.3" stroke-linejoin="round" />
<polyline points="429.8,477.8 431.2,474.2 433.4,456.3 435.6,442.9 437.8,431.5 440,423.2 442.2,420 444.4,403.3 446.6,397.1 448.8,394.3 450.9,394.7 453.1,394.8 455.3,395.9 457.5,379.5 459.7,371.9 461.9,372.5 464.1,368.2 466.3,365.6 468.5,369.1 470.7,362.6 472.9,367.2 475.1,355.7 477.3,356.2 479.5,350.3 481.7,348.2 483.9,340.5 486.1,336.5 488.3,335.2 490.4,336 492.6,338.9 494.8,336.4 497,337.9 499.2,337.9 499.2,326 501.4,325.3 503.6,330.8 505.8,330.4 508,343.5 510.2,335.5 512.4,336.9 514.6,338.7 516.8,329 519,326.3 521.2,326.3 521.2,306.6 523.4,307.4 525.6,302.6 527.8,302.5 529.9,305.8 532.1,307.5 534.3,304.6 536.5,299.6 538.7,303.1 540.9,299.8 543.1,296.7 545.3,296.7 547.5,296.7 547.5,267 549.7,277.7 551.9,283.1 554.1,285.5 556.3,288.5 558.5,289.4 560.7,290.2 562.9,284.1 565.1,285.5 567.3,286.3 569.4,283.7 571.6,290 573.8,287.8 576,288.4 578.2,286.5 580.4,282.3 582.6,279.4 584.8,279.4 584.8,249.6 587,255.4 589.2,252.1 591.4,249.1 593.6,250 595.8,251.3 598,251.3 598,269.2 600.2,264.5 602.4,264 604.6,264 604.6,251.5 606.8,253.1 608.9,252.9 611.1,252.9 611.1,229 613.3,228.6 615.5,229.1 617.7,232.2 619.9,230.5 622.1,231.4 624.3,228.5 626.5,226.7 628.7,225" fill="none" stroke="#000080" stroke-width="3.3" stroke-linejoin="round" />
<line x1="628.7" y1="75.9" x2="628.7" y2="226.03" stroke="#000080" stroke-width="9.0"/>
<polyline points="277.6,68.6 271.6,68.6 271.6,196.4 266.5,194.5 261.3,186.9 256.1,179.5 250.9,169.2 245.8,157.7 240.6,148.9 235.4,143.7 230.2,133.8 225,124.2 219.9,116.8 214.7,111.8 209.5,109 212.5,111.8 215.5,114.5 218.5,116.9 221.5,119.8 224.5,122.2 227.5,124.5 230.5,127.1 233.4,129.5 236.4,133 239.4,134.6 242.4,136 245.4,138.2 248.4,141.9 251.4,145.5 254.4,148.6 257.4,150.1 260.4,152.5 263.4,156.2 266.4,159.6 269.4,163.4 272.4,167.6 275.3,171.2 278.3,174.7 281.3,177.6 284.3,181.1 287.3,185.3 290.3,189.3 293.3,192.2 296.3,195.5 299.3,199 302.3,201.2 305.3,204 308.3,208 311.3,210.7 314.3,214.9 317.3,219.4 320.2,224.2 323.2,227.5 326.2,230.5 329.2,232.9 332.2,236.6 335.2,240.3 338.2,244.8 341.2,248.6 344.2,250.7 347.2,252.5 350.2,256 353.2,259 356.2,261.9 359.2,265.6 362.2,268.1 365.1,271.5 368.1,274.3 371.1,278.9 374.1,281.5 377.1,286.3 380.1,292.2 383.1,295 386.1,297.4 389.1,302.2 392.1,304.8 395.1,304.2 398.1,310.1 401.1,311.9 404.1,316.9 407,326.1 410,327.9 413,327.3 416,333.9 419,343.7 422,357.2 425,382.9 427.4,462.9 427.4,480" fill="none" stroke="#000080" stroke-width="3.3" stroke-linejoin="round" />
<polyline points="596,275.3 599.2,269.2 602.5,266 605.7,267.5 609,260 612.2,260 615.4,258 618.7,255.4 621.9,248.3 625.2,247.8 628.4,243 631.7,241.5 634.9,231.9 638.1,234.9 641.4,226.5 644.6,228.1 647.9,223 651.1,222.4 654.3,214.9 657.6,213.4 660.8,209.5 664.1,212.1 667.3,208.1 670.6,203.5 673.8,201.1 677,197.8 680.3,196.1 683.5,196 686.8,192.5 690,191.8 691,197 692.1,172 692.1,76.9" fill="none" stroke="#808000" stroke-width="2.6" stroke-linejoin="round" />
<polyline points="574,216 575.5,180 585,178 594,181 597,173 603,175 606,168 611,169 613,190 619,196 621,210" fill="none" stroke="#ff00c8" stroke-width="3.0" stroke-linejoin="round" />
<polyline points="629,183 635,180 641,188 647,184 651,178" fill="none" stroke="#ff00ff" stroke-width="2.6" stroke-linejoin="round" />
<polyline points="431.5,330 434,290 438,262 443,245 447.6,237.5 452,247 457,258 462,263 470,258 480,252" fill="none" stroke="#ff8000" stroke-width="2.6" stroke-linejoin="round" />
<polyline points="462,262 466,255 471,252 473,258" fill="none" stroke="#000000" stroke-width="3.0" stroke-linejoin="round" />
<polyline points="291,178 300,184 312,190 322,196 330,196 333,202 341,202 343,213 352,218 362,226 372,233 384,240 392,246 399,252 405,256 409,250 411,215 413,163 417,178 421,196 425,220 427.5,260 428.5,330" fill="none" stroke="#800080" stroke-width="3.3" stroke-linejoin="round" />
<line x1="428.6" y1="274" x2="428.6" y2="345" stroke="#8b0a50" stroke-width="5.0"/>
<polyline points="293,172 297,176 306,184 318,192 330,200 338,207 347,210 356,214 368,221 380,228 392,234 400,238 401,226 403,226 404,246 410,256 416,268 421,290 425,330" fill="none" stroke="#000080" stroke-width="2.6" stroke-linejoin="round" />
<polyline points="385,252 391,248 394,258 398,262" fill="none" stroke="#800000" stroke-width="2.6" stroke-linejoin="round" />
<polyline points="283,69 279,84 275.6,89 271,96 267.7,101 266,94 264.4,95.5 258,92 255.4,88.7 252,88 247.5,83 244,77 240,76.4 239.7,100 239.5,148" fill="none" stroke="#000080" stroke-width="3.3" stroke-linejoin="round" />
<polyline points="260,95 260,151" fill="none" stroke="#808000" stroke-width="2.7" stroke-linejoin="round" />
<polyline points="265.5,130.6 265.5,165" fill="none" stroke="#000000" stroke-width="2.6" stroke-linejoin="round" />
<polyline points="268.5,134.2 268.5,165" fill="none" stroke="#000000" stroke-width="2.6" stroke-linejoin="round" />
<polyline points="272,138.4 272,165" fill="none" stroke="#000000" stroke-width="2.6" stroke-linejoin="round" />
<polyline points="237,148 243,158.7 248,167.2 253,178.1" fill="none" stroke="#ff0000" stroke-width="3.2" stroke-linejoin="round" />
<polyline points="240.9,152 246.9,162.7 251.9,169.9 256.9,182.6" fill="none" stroke="#ff00c0" stroke-width="3.2" stroke-linejoin="round" />
<polyline points="244.5,155.8 250.5,170.2 255.5,177.1 260.5,182.6" fill="none" stroke="#ff00ff" stroke-width="3.2" stroke-linejoin="round" />
<polyline points="248.9,160.3 254.9,173 259.9,179.6 264.9,192.3" fill="none" stroke="#ff0040" stroke-width="3.2" stroke-linejoin="round" />
<polyline points="251.6,163.2 257.6,173.3 262.6,186.7 267.6,191.6" fill="none" stroke="#ff0000" stroke-width="3.2" stroke-linejoin="round" />
<polyline points="255.4,167.1 261.4,179.1 266.4,186.1 271.4,198.9" fill="none" stroke="#ff00c0" stroke-width="3.2" stroke-linejoin="round" />
<polyline points="259,170.9 265,182.2 270,191.6 275,200.2" fill="none" stroke="#ff00ff" stroke-width="3.2" stroke-linejoin="round" />
<polyline points="264.1,176.1 270.1,191.1 275.1,195 280.1,203.3" fill="none" stroke="#ff0040" stroke-width="3.2" stroke-linejoin="round" />
<polyline points="267.5,179.5 273.5,195.4 278.5,195.7 283.5,209.9" fill="none" stroke="#ff0000" stroke-width="3.2" stroke-linejoin="round" />
<polyline points="271.1,183.1 277.1,197 282.1,200.9 287.1,213.9" fill="none" stroke="#ff00c0" stroke-width="3.2" stroke-linejoin="round" />
<polyline points="274.5,186.5 280.5,197.6 285.5,207.6 289,213.8" fill="none" stroke="#ff00ff" stroke-width="3.2" stroke-linejoin="round" />
<polyline points="276.7,188.7 282.7,200.7 287.7,207.4 289,217.1" fill="none" stroke="#ff0040" stroke-width="3.2" stroke-linejoin="round" />
<polyline points="281.5,193.5 287.5,208.5 292.5,217.2 289,225.4" fill="none" stroke="#ff0000" stroke-width="3.2" stroke-linejoin="round" />
<polyline points="285.8,197.8 291.8,212.5 296.8,216.2 289,224.8" fill="none" stroke="#ff00c0" stroke-width="3.2" stroke-linejoin="round" />
<polyline points="285.5,190 285.5,236 287.5,238 288.5,205" fill="none" stroke="#a000ff" stroke-width="2.8" stroke-linejoin="round" />
<polyline points="282.9,70 297.2,73.5 310.2,76.9 321.8,80.3 332.4,83.7 341.9,87 350.5,90.4 358.2,93.7 365.2,97 371.5,100.4 377.2,103.7 382.3,106.9 387,110.2 391.1,113.5 394.9,116.7 398.3,120 401.4,123.2 404.2,126.5 406.7,129.7 408.9,132.9 411,136.2 412.8,139.4 414.5,142.6 416,145.8 417.3,149 418.5,152.2 419.6,155.4 420.6,158.6 421.5,161.8 422.3,165 423.1,168.2 423.7,171.4 424.3,174.6 424.8,177.8 425.3,180.9 429.8,213.1 434.3,181.1 434.7,178.1 435.2,175.1 435.8,172.1 436.4,169.1 437.1,166.1 437.8,163.1 438.7,160 439.6,157 440.6,154 441.7,151 442.9,148 444.2,145 445.7,141.9 447.4,138.9 449.2,135.9 451.2,132.9 453.4,129.9 455.8,126.9 458.4,123.9 461.4,120.8 464.6,117.8 468.2,114.8 472.1,111.8 476.5,108.8 481.3,105.8 486.6,102.7 492.4,99.7 498.8,96.7 505.9,93.7 513.7,90.7 522.4,87.7 531.9,84.7 542.3,81.6 553.9,79.5" fill="none" stroke="#a08000" stroke-width="2.8" stroke-linejoin="round" />
<line x1="273" y1="69.5" x2="273" y2="150" stroke="#b03a2e" stroke-width="4.6"/>
<line x1="273" y1="150" x2="273" y2="192" stroke="#008000" stroke-width="4.0"/>
<line x1="276.8" y1="69.5" x2="276.8" y2="192" stroke="#0a6030" stroke-width="2.6"/>
<line x1="279.3" y1="69.5" x2="279.3" y2="196" stroke="#000090" stroke-width="3.6"/>
<line x1="282.4" y1="69.5" x2="282.4" y2="196" stroke="#008080" stroke-width="2.8"/>
<line x1="286" y1="69.5" x2="286" y2="236" stroke="#ff00ff" stroke-width="5.0"/>
<line x1="291.3" y1="69.5" x2="291.3" y2="182" stroke="#2000ff" stroke-width="5.6"/>
<polyline points="282.9,68.4 297.2,71.9 310.2,75.3 321.8,78.7 332.4,82.1 341.9,85.4 350.5,88.8 358.2,92.1 365.2,95.4 371.5,98.8 377.2,102.1 382.3,105.3 387,108.6 391.1,111.9 394.9,115.1 398.3,118.4 401.4,121.6 404.2,124.9 406.7,128.1 408.9,131.3 411,134.6 412.8,137.8 414.5,141 416,144.2 417.3,147.4 418.5,150.6 419.6,153.8 420.6,157 421.5,160.2 422.3,163.4 423.1,166.6 423.7,169.8 424.3,173 424.8,176.2 425.3,179.3 429.8,211.5 434.3,179.5 434.7,176.5 435.2,173.5 435.8,170.5 436.4,167.5 437.1,164.5 437.8,161.5 438.7,158.4 439.6,155.4 440.6,152.4 441.7,149.4 442.9,146.4 444.2,143.4 445.7,140.3 447.4,137.3 449.2,134.3 451.2,131.3 453.4,128.3 455.8,125.3 458.4,122.3 461.4,119.2 464.6,116.2 468.2,113.2 472.1,110.2 476.5,107.2 481.3,104.2 486.6,101.1 492.4,98.1 498.8,95.1 505.9,92.1 513.7,89.1 522.4,86.1 531.9,83.1 542.3,80 553.9,77.9 758.8,76.9" fill="none" stroke="#000080" stroke-width="3.5" stroke-linejoin="round" />
<line x1="548" y1="76.9" x2="758.8" y2="76.9" stroke="#000080" stroke-width="4.0"/>
</g>
<g id="pb">
<rect x="977.9" y="6.3" width="610" height="495.7" fill="none" stroke="#000" stroke-width="3.8"/>
<line x1="1032" y1="494.5" x2="1032" y2="502" stroke="#000" stroke-width="3.4"/>
<text x="1032" y="540" font-size="36" text-anchor="middle" font-family='"Liberation Serif", serif' fill="#000" ><tspan stroke="#000" stroke-width="1.1">-</tspan>1.0</text>
<line x1="1140.75" y1="494.5" x2="1140.75" y2="502" stroke="#000" stroke-width="3.4"/>
<text x="1140.75" y="540" font-size="36" text-anchor="middle" font-family='"Liberation Serif", serif' fill="#000" ><tspan stroke="#000" stroke-width="1.1">-</tspan>0.5</text>
<line x1="1249.5" y1="494.5" x2="1249.5" y2="502" stroke="#000" stroke-width="3.4"/>
<text x="1249.5" y="540" font-size="36" text-anchor="middle" font-family='"Liberation Serif", serif' fill="#000" >0.0</text>
<line x1="1358.25" y1="494.5" x2="1358.25" y2="502" stroke="#000" stroke-width="3.4"/>
<text x="1358.25" y="540" font-size="36" text-anchor="middle" font-family='"Liberation Serif", serif' fill="#000" >0.5</text>
<line x1="1467" y1="494.5" x2="1467" y2="502" stroke="#000" stroke-width="3.4"/>
<text x="1467" y="540" font-size="36" text-anchor="middle" font-family='"Liberation Serif", serif' fill="#000" >1.0</text>
<line x1="1575.75" y1="494.5" x2="1575.75" y2="502" stroke="#000" stroke-width="3.4"/>
<text x="1575.75" y="540" font-size="36" text-anchor="middle" font-family='"Liberation Serif", serif' fill="#000" >1.5</text>
<line x1="977.9" y1="467.75" x2="987.9" y2="467.75" stroke="#000" stroke-width="3.4"/>
<text x="948.07" y="481.95" font-size="36" text-anchor="end" font-family='"Liberation Serif", serif' fill="#000" >10</text>
<text x="949.07" y="459.95" font-size="19" text-anchor="start" font-family='"Liberation Serif", serif' fill="#000" >-8</text>
<line x1="977.9" y1="380.7" x2="987.9" y2="380.7" stroke="#000" stroke-width="3.4"/>
<text x="948.07" y="394.9" font-size="36" text-anchor="end" font-family='"Liberation Serif", serif' fill="#000" >10</text>
<text x="949.07" y="372.9" font-size="19" text-anchor="start" font-family='"Liberation Serif", serif' fill="#000" >-7</text>
<line x1="977.9" y1="293.65" x2="987.9" y2="293.65" stroke="#000" stroke-width="3.4"/>
<text x="948.07" y="307.85" font-size="36" text-anchor="end" font-family='"Liberation Serif", serif' fill="#000" >10</text>
<text x="949.07" y="285.85" font-size="19" text-anchor="start" font-family='"Liberation Serif", serif' fill="#000" >-6</text>
<line x1="977.9" y1="206.6" x2="987.9" y2="206.6" stroke="#000" stroke-width="3.4"/>
<text x="948.07" y="220.8" font-size="36" text-anchor="end" font-family='"Liberation Serif", serif' fill="#000" >10</text>
<text x="949.07" y="198.8" font-size="19" text-anchor="start" font-family='"Liberation Serif", serif' fill="#000" >-5</text>
<line x1="977.9" y1="119.55" x2="987.9" y2="119.55" stroke="#000" stroke-width="3.4"/>
<text x="948.07" y="133.75" font-size="36" text-anchor="end" font-family='"Liberation Serif", serif' fill="#000" >10</text>
<text x="949.07" y="111.75" font-size="19" text-anchor="start" font-family='"Liberation Serif", serif' fill="#000" >-4</text>
<line x1="977.9" y1="32.5" x2="987.9" y2="32.5" stroke="#000" stroke-width="3.4"/>
<text x="948.07" y="46.7" font-size="36" text-anchor="end" font-family='"Liberation Serif", serif' fill="#000" >10</text>
<text x="949.07" y="24.7" font-size="19" text-anchor="start" font-family='"Liberation Serif", serif' fill="#000" >-3</text>
<text x="839" y="43" font-size="47" text-anchor="start" font-family='"Liberation Serif", serif' fill="#000" >(b)</text>
<text x="1283.5" y="597" font-size="41" text-anchor="middle" font-family='"Liberation Serif", serif' fill="#000" textLength="190" lengthAdjust="spacing">voltage (V)</text>
<text transform="translate(878 246.2) rotate(-90)" font-size="41" text-anchor="middle" font-family='"Liberation Serif", serif' fill="#000" textLength="196" lengthAdjust="spacing">Current (A)</text>
</g>
<g id="pb-curves" fill="none" stroke-linejoin="miter" stroke-linecap="butt">
<polygon points="1031,112.9 1035,116.4 1039,120 1043.1,123.5 1047.1,127.1 1051.1,130.7 1055.1,134.8 1059.1,139 1063.2,143.3 1067.2,147.6 1071.2,152 1075.2,156.4 1079.2,160 1083.2,163.7 1087.3,167.3 1091.3,170.5 1095.3,173.6 1099.3,176.7 1103.3,179.9 1107.4,183.4 1111.4,186.8 1115.4,190.2 1119.4,193.6 1123.4,196.9 1127.5,199 1131.5,200.9 1135.5,202.8 1139.5,204.6 1143.5,206.3 1147.5,207.9 1151.6,209.6 1155.6,211.2 1159.6,214.2 1163.6,217.7 1167.6,221.2 1171.7,224.6 1175.7,228.1 1179.7,231.6 1183.7,235.1 1187.7,238.6 1191.8,241.8 1195.8,244.3 1199.8,246.8 1203.8,249.7 1207.8,252.6 1211.8,256.6 1215.9,262.2 1219.9,267.9 1223.9,273.9 1227.9,280 1231.9,287.5 1236,298.1 1240,309.3 1244,331 1244,400.6 1240,376.6 1236,362.2 1231.9,351.4 1227.9,343 1223.9,334.8 1219.9,327 1215.9,321 1211.8,315 1207.8,309.3 1203.8,303.8 1199.8,298.7 1195.8,295.8 1191.8,292.9 1187.7,289.8 1183.7,286.7 1179.7,283.6 1175.7,280.5 1171.7,277.5 1167.6,274.5 1163.6,271.5 1159.6,268.5 1155.6,265.6 1151.6,262.9 1147.5,260.2 1143.5,257.5 1139.5,254.6 1135.5,250.6 1131.5,246.5 1127.5,242.5 1123.4,238.4 1119.4,234 1115.4,229.7 1111.4,225.4 1107.4,221 1103.3,216.1 1099.3,212.2 1095.3,209.6 1091.3,207.1 1087.3,203.7 1083.2,197.9 1079.2,192.1 1075.2,186.2 1071.2,180.3 1067.2,174.3 1063.2,168.8 1059.1,163.8 1055.1,158.8 1051.1,153.9 1047.1,149 1043.1,144.4 1039,139.9 1035,135.4 1031,130.8" fill="#3c2a9a" fill-opacity="0.7" stroke="none"/>
<polygon points="1256,336 1260,320.7 1264,310.3 1268,301.6 1272,294.4 1276,287.6 1280,280.7 1284,276.7 1288,273.2 1292,269.7 1296,266.2 1300,262.7 1304,257.9 1308,254.6 1312,251.7 1316,248.8 1320,245.9 1324,242.2 1328,238.2 1332,234.3 1336,229.2 1340,221.7 1344,219.2 1348,216.6 1352,214.1 1356,210.4 1360,205.5 1364,202.5 1368,201.3 1372,200.1 1376,198.8 1380,197.6 1384,196 1388,194.5 1392,192.9 1396,191.3 1400,189.7 1404,188.7 1408,187.7 1412,186.6 1416,185.6 1420,184.6 1424,183.2 1428,181.8 1432,180.5 1436,179.2 1440,178 1440,190.1 1436,192.2 1432,195.1 1428,198.2 1424,201.2 1420,204.2 1416,207.2 1412,210.2 1408,213.1 1404,216.1 1400,218.8 1396,221.6 1392,224.4 1388,227.2 1384,229.8 1380,232.3 1376,234.7 1372,237.1 1368,239.3 1364,241.3 1360,243.9 1356,246.9 1352,249.6 1348,252 1344,254.5 1340,256.9 1336,260.5 1332,263.6 1328,266.9 1324,270.4 1320,273.9 1316,277.2 1312,280.4 1308,283.7 1304,288.5 1300,299 1296,303.5 1292,307.9 1288,312.4 1284,316.9 1280,321.8 1276,329.5 1272,337.3 1268,346.3 1264,356.3 1260,367.8 1256,386.7" fill="#4a2c9c" fill-opacity="0.6" stroke="none"/>
<polyline points="1250.4,455.2 1250.4,447.8 1252.2,404.9 1254.8,381.9 1257.5,368.6 1260.1,357.5 1262.7,348.3 1265.3,343.8 1267.9,343.8 1267.9,317.9 1270.6,311.8 1273.2,306.6 1275.8,301 1278.4,294.1 1281,285.8 1283.7,282.8 1286.3,280.9 1288.9,278 1291.5,278.4 1294.1,280.8 1296.8,276.2 1299.4,272.2 1302,267.8 1304.6,261.9 1307.3,262.9 1309.9,260.9 1312.5,262.7 1315.1,259 1317.7,256.5 1320.4,257.7 1323,256.2 1325.6,258.7 1328.2,256.2 1330.8,256.2 1330.8,270.8 1333.5,270.8 1336.1,266.2 1338.7,263.6 1341.3,261.1 1343.9,258 1346.6,258.4 1349.2,255.9 1351.8,256 1354.4,255.3 1357,255.1 1359.7,255.2 1362.3,255 1364.9,253.5 1367.5,253.5 1367.5,240 1370.1,236.9" fill="none" stroke="#ff0000" stroke-width="3.3" stroke-linejoin="round" />
<line x1="1370.14" y1="91.6" x2="1370.14" y2="237.94" stroke="#ff0000" stroke-width="3.8"/>
<polyline points="1383.8,93.3 1365.9,93.3 1350.3,93.3 1336.8,93.3 1325.1,96.7 1314.9,101.3 1306.1,105.9 1298.5,110.5 1291.9,115 1286.2,119.6 1281.2,124.2 1276.9,128.8 1273.2,133.4 1270,138 1267.2,142.5 1264.8,147.1 1262.7,151.7 1260.8,156.3 1259.3,160.9 1257.9,165.5 1256.7,170 1255.7,174.6 1254.8,179.2 1254,183.8 1253.3,188.4 1249.3,266.3 1248.7,265.2 1244.7,183.9 1244.1,180 1243.4,176 1242.7,172.1 1241.8,168.2 1240.9,164.2 1239.8,160.3 1238.6,156.3 1237.2,152.4 1235.6,148.4 1233.8,144.5 1231.8,140.5 1229.5,136.6 1226.9,132.6 1224,128.7 1220.7,124.7 1216.9,120.8 1212.6,116.9 1207.8,112.9 1202.3,109 1196.1,105.2 1189,101.3 1181,97.6 1172,93.9 1161.7,90.5 1161.7,114.3 1148.5,113.1 1148.5,142.1 1135.3,141.9 1135.3,235.5 1135.3,244.9 1131.3,243.4 1127.3,236.3 1123.3,235.7 1119.3,232.6 1115.3,225.7 1111.3,222.4 1107.2,218.9 1103.2,212.9 1099.2,209.2 1095.2,203.8 1091.2,202 1087.2,200 1083.2,194.9 1079.2,191.1 1075.1,184.3 1071.1,180.4 1067.1,174.5 1063.1,170.7 1059.1,164.7 1055.1,159.9 1051.1,153.7 1047.1,148.6 1043,144 1039,139.3 1035,135.5 1031,130.9 1031,122.9 1034.2,126.7 1037.4,130.3 1040.6,133.8 1043.8,136.5 1047,138.2 1050.2,140.9 1053.4,145.9 1056.6,151.3 1059.8,154.5 1063,156 1066.2,161.1 1069.4,163.5 1072.6,167.3 1075.8,174 1079,179.7 1082.2,183.8 1085.3,187.4 1088.5,188.6 1091.7,189.2 1094.9,190.6 1098.1,193.9 1101.3,196.9 1104.5,200.6 1107.7,202.7 1110.9,206.6 1114.1,210.5 1117.3,214.7 1120.5,218.3 1123.7,220.4 1126.9,224.5 1130.1,228 1133.3,230.9 1136.5,233.6 1139.7,240.6 1142.9,244.9 1146.1,245.8 1149.3,249.1 1152.5,248.5 1155.7,249.1 1158.9,249.1 1162.1,251.5 1165.3,251.9 1168.5,250.2 1171.7,256.4 1174.9,259.9 1178.1,260.7 1181.3,262.6 1184.5,267.5 1187.7,269.8 1190.9,271.7 1194.1,275.3 1197.2,277.3 1200.4,279.4 1203.6,280.5 1206.8,283 1210,285.1 1213.2,288.1 1216.4,293.6 1219.6,302.1 1222.8,307.2 1226,312.3 1229.2,317.5 1232.4,327.8 1235.6,337.6 1238.8,347.4 1242,360 1245.2,382 1246.9,447.2 1246.9,455.6" fill="none" stroke="#ff0000" stroke-width="3.3" stroke-linejoin="round" />
<polyline points="1250.1,462.5 1250.1,437 1252.2,385.9 1254.8,385.9 1254.8,355.7 1257.4,341.2 1260,330.9 1262.6,328.5 1265.2,325.6 1267.8,323 1270.5,316 1273.1,311.9 1275.7,303.1 1278.3,296.9 1280.9,293.4 1283.5,290.6 1286.1,282.5 1288.7,281.6 1291.3,280.3 1293.9,280.3 1293.9,297.5 1296.5,295.3 1299.1,285.9 1301.7,279.9 1304.3,272.4 1306.9,268.9 1309.6,266.8 1312.2,263.6 1314.8,262.4 1317.4,260.8 1320,259.4 1322.6,256.9 1325.2,253.6 1327.8,250.8 1330.4,247.9 1333,246.6 1335.6,239.8 1338.2,238.3 1340.8,234.9 1343.4,235 1346,230.8 1348.7,227.6 1351.3,227.7 1353.9,223 1356.5,219.3 1359.1,221.3 1361.7,221.2 1364.3,220 1366.9,219.5 1369.5,217.7 1372.1,211 1374.7,208.1 1377.3,204.3 1379.9,204.8 1382.5,201.4 1385.1,199.6 1387.8,196.4 1390.4,197 1393,199.2 1395.6,199.2 1398.2,195.7 1400.8,196.2 1403.4,194.3 1406,190.8 1408.6,193 1411.2,192 1413.8,190.9 1416.4,192.4" fill="none" stroke="#808000" stroke-width="3.3" stroke-linejoin="round" />
<line x1="1416.43" y1="91.6" x2="1416.43" y2="193.44" stroke="#808000" stroke-width="3.8"/>
<polyline points="1383.8,93.3 1365.9,93.3 1350.3,93.3 1336.8,93.3 1325.1,97.4 1314.9,102 1306.1,106.7 1298.5,111.3 1291.9,115.9 1286.2,120.5 1281.2,125.1 1276.9,129.7 1273.2,134.3 1270,138.9 1267.2,143.5 1264.8,148.2 1262.7,152.8 1260.8,157.4 1259.3,162 1257.9,166.6 1256.7,171.2 1255.7,175.8 1254.8,180.4 1254,185 1253.3,189.7 1249.3,266.7 1248.7,265.7 1244.7,185.2 1244.1,181.2 1243.4,177.2 1242.6,173.1 1241.8,169.1 1240.8,165.1 1239.7,161.1 1238.5,157 1237,153 1235.4,149 1233.6,145 1231.5,141 1229.1,136.9 1226.5,132.9 1223.4,128.9 1220,124.9 1216,120.9 1211.6,116.9 1206.6,112.9 1200.8,108.9 1194.3,105 1187,101.1 1178.6,97.3 1169.1,93.6 1158.3,90.2 1158.3,100.1 1145.3,97.6 1145.3,126.1 1139,121.6 1139,231.3 1139,239.5 1135,235.6 1131,231.2 1127,228.1 1123,224.3 1119,220.8 1115,215.4 1111,212.6 1107,205.9 1103,201.1 1099,196.5 1095,194 1091,193.6 1087,189.3 1083,182.8 1079,181.2 1075,176.2 1071,171.5 1067,165 1063,161.7 1059,158.8 1055,155.2 1051,151.8 1047,144.4 1043,139.5 1039,135.5 1035,130.7 1031,126.4 1031,119.5 1034.2,122.6 1037.4,126.6 1040.6,130.2 1043.8,133.8 1047,136.9 1050.2,139.3 1053.4,143.3 1056.6,145.7 1059.8,150.5 1063,153.4 1066.2,157.8 1069.4,161.7 1072.6,165.7 1075.8,168.4 1079,172 1082.2,175.6 1085.3,179.6 1088.5,181.5 1091.7,183.3 1094.9,185.7 1098.1,188.6 1101.3,190 1104.5,193.1 1107.7,196.9 1110.9,201.1 1114.1,202.9 1117.3,208.6 1120.5,209.6 1123.7,213 1126.9,214.6 1130.1,216.6 1133.3,220.3 1136.5,223.8 1139.7,226.7 1142.9,226.4 1146.1,227.1 1149.3,228.8 1152.5,231.4 1155.7,234.1 1158.9,238.1 1162.1,239 1165.3,239.6 1168.5,239.9 1171.7,242.8 1174.9,243.9 1178.1,249.8 1181.3,255.2 1184.5,259.4 1187.7,262.8 1190.9,264.2 1194.1,267.2 1197.2,269.7 1200.4,269.4 1203.6,272.1 1206.8,279.2 1210,285.8 1213.2,291.7 1216.4,293.8 1219.6,296.7 1222.8,301.9 1226,303.2 1229.2,312.3 1232.4,323.1 1235.6,330 1238.8,338.2 1242,350.3 1245.2,367.1 1247.8,440.7" fill="none" stroke="#808000" stroke-width="3.3" stroke-linejoin="round" />
<polyline points="1250,453.9 1250,449.2 1252.2,408.9 1254.8,383.6 1257.4,368.1 1260,355 1262.6,346.4 1265.2,346.4 1265.2,370.8 1267.8,361.2 1270.4,349.1 1273,342 1275.6,333.2 1278.2,327.3 1280.8,320.7 1283.4,319.5 1286,318.1 1288.6,311.1 1291.2,311.1 1293.8,301.2 1296.4,299 1299,293.6 1301.6,289.3 1304.2,279.6 1306.8,276.7 1309.4,276.2 1312,273.3 1314.6,277.3 1317.2,269.8 1319.8,269.8 1319.8,277.6 1322.4,277.6 1322.4,261.9 1325,259.9 1327.6,257.8 1330.2,252.1 1332.8,249.8 1335.4,247.1 1338,244.3 1340.6,245.5 1343.2,246.9 1345.8,247.5 1348.4,242.3 1351,238.6 1353.6,237.9 1356.2,230.8 1358.8,228.8 1361.4,224.6 1364,222 1366.6,221.7 1369.2,220.9 1371.8,221.4 1374.4,224.4 1377,225 1379.6,225.8 1382.2,224.6 1384.8,225.5 1387.4,220.5 1390,220.1 1392.6,222.1 1395.2,220 1397.8,220 1397.8,226.9 1400.4,222.1 1403,221.1 1405.6,219.4 1408.2,218.5" fill="none" stroke="#800000" stroke-width="3.3" stroke-linejoin="round" />
<line x1="1408.24" y1="91.6" x2="1408.24" y2="219.49" stroke="#800000" stroke-width="3.8"/>
<polyline points="1383.8,93.3 1365.9,93.3 1350.3,94.5 1336.8,99.4 1325.1,104.3 1314.9,109.2 1306.1,114.1 1298.5,119 1291.9,123.9 1286.2,128.8 1281.2,133.7 1276.9,138.5 1273.2,143.4 1270,148.3 1267.2,153.2 1264.8,158.1 1262.7,163 1260.8,167.9 1259.3,172.8 1257.9,177.7 1256.7,182.6 1255.7,187.5 1254.8,192.4 1254,197.3 1253.3,202.2 1249.3,271.4 1248.7,270.2 1244.7,197.4 1244,192.5 1243.2,187.5 1242.2,182.6 1241.2,177.6 1239.9,172.7 1238.5,167.7 1236.8,162.8 1234.9,157.8 1232.6,152.8 1230.1,147.9 1227,142.9 1223.6,138 1219.5,133 1214.9,128.1 1209.5,123.2 1203.2,118.2 1195.9,113.3 1187.5,108.5 1177.8,103.7 1166.5,99 1153.4,94.6 1138.2,90.7 1120.7,87.4 1100.3,85.4 1100.3,98.4 1081.3,97.9 1081.3,123.5 1062.9,121 1066,173.1 1066,176.3 1062.1,170.9 1058.2,166.6 1054.3,160.9 1050.4,155.2 1046.6,150.9 1042.7,147 1038.8,143.3 1034.9,137.5 1031,132.6 1031,128.6 1034.2,130.6 1037.4,133.3 1040.6,135.5 1043.8,138.9 1047,144.1 1050.2,146.1 1053.4,150.8 1056.6,154.4 1059.8,158.4 1063,163.9 1066.2,167.9 1069.4,172.6 1072.6,177.7 1075.8,179.7 1079,184.1 1082.2,189.5 1085.3,194.8 1088.5,199.2 1091.7,203.3 1094.9,205.1 1098.1,209.6 1101.3,208.8 1104.5,213.7 1107.7,215.8 1110.9,216.3 1114.1,221.4 1117.3,223.1 1120.5,225.3 1123.7,227.5 1126.9,231.6 1130.1,234.9 1133.3,239.1 1136.5,242.7 1139.7,247 1142.9,245.9 1146.1,247.8 1149.3,252.1 1152.5,252.3 1155.7,251.7 1158.9,253.1 1162.1,254.6 1165.3,252.8 1168.5,256.8 1171.7,261.5 1174.9,265.9 1178.1,267.2 1181.3,269.4 1184.5,274.4 1187.7,275.6 1190.9,279.2 1194.1,281.7 1197.2,283.4 1200.4,284.3 1203.6,286.9 1206.8,293.1 1210,296.4 1213.2,302 1216.4,305.6 1219.6,312 1222.8,317.2 1226,319.6 1229.2,324.8 1232.4,331.5 1235.6,339 1238.8,350.8 1242,362.1 1245.2,386.9 1247,449.6" fill="none" stroke="#800000" stroke-width="3.3" stroke-linejoin="round" />
<polyline points="1250.6,462.1 1252.2,437.2 1254.8,437.2 1254.8,402 1257.4,386.8 1260,372 1262.6,367.9 1265.1,365.8 1267.7,362.4 1270.3,355.7 1272.9,351.9 1275.5,345 1278.1,340.7 1280.7,336.2 1283.3,331 1285.9,330 1288.5,325.9 1291.1,323.7 1293.7,320.2 1296.2,317.5 1298.8,314.4 1301.4,309.5 1304,300.1 1306.6,296 1309.2,293.8 1311.8,290.4 1314.4,288.4 1317,286.1 1319.6,283.3 1322.2,282.8 1324.7,280.6 1327.3,278 1329.9,275.4 1332.5,272.3 1335.1,269 1337.7,269.1 1340.3,268.6 1342.9,265.3 1345.5,260.4 1348.1,259.2 1350.7,259.2 1350.7,227.2 1353.3,227.6 1355.8,226.3 1358.4,226.4 1361,227.4 1363.6,223.5 1366.2,220.6 1368.8,224.7 1371.4,222.5 1374,222.3 1376.6,221.8 1379.2,217.6 1381.8,219.3 1384.3,219.2 1386.9,221.3 1389.5,223.2 1392.1,222.5 1394.7,221.7 1397.3,221.8 1399.9,220.8 1402.5,217.2 1405.1,213.8 1407.7,212.2 1410.3,210.2 1412.8,210.2 1412.8,194.4 1415.4,197.8 1418,198.5 1420.6,198.6 1423.2,197.4 1425.8,197.3 1428.4,197.3 1428.4,204.1 1431,201.4 1433.6,197.6 1436.2,196.5 1438.8,194.1 1441.4,192.4 1443.9,190.5 1446.5,189.4 1449.1,188.1 1451.7,187 1454.3,183.8 1456.9,182.1 1459.5,181.3 1462.1,180.1" fill="none" stroke="#ff0080" stroke-width="3.3" stroke-linejoin="round" />
<line x1="1462.08" y1="91.6" x2="1462.08" y2="181.12" stroke="#ff0080" stroke-width="3.8"/>
<polyline points="1383.8,93.3 1365.9,93.3 1350.3,93.3 1336.8,93.3 1325.1,93.5 1314.9,98 1306.1,102.5 1298.5,106.9 1291.9,111.4 1286.2,115.9 1281.2,120.4 1276.9,124.8 1273.2,129.3 1270,133.8 1267.2,138.2 1264.8,142.7 1262.7,147.2 1260.8,151.6 1259.3,156.1 1257.9,160.6 1256.7,165 1255.7,169.5 1254.8,174 1254,178.4 1253.3,182.9 1249.3,264.3 1248.7,263.4 1244.7,178.6 1244,174.3 1243.3,170 1242.4,165.7 1241.4,161.5 1240.3,157.2 1239,152.9 1237.5,148.6 1235.8,144.4 1233.8,140.1 1231.6,135.8 1229,131.5 1226,127.3 1222.6,123 1218.6,118.7 1214.1,114.5 1208.9,110.2 1203,106 1196.1,101.8 1188.3,97.7 1179.2,93.6 1168.8,89.8 1156.9,86.3 1143.2,83.3 1127.4,81.2 1127.4,115.5 1114.4,115 1114.4,137.4 1101,134 1101,224 1101,218.6 1096.9,216.9 1092.8,213.6 1088.6,210.3 1084.5,205.1 1080.4,200.8 1076.3,192.1 1072.2,187.5 1068.1,180.1 1063.9,174.1 1059.8,170 1055.7,164.8 1051.6,159.5 1047.5,153.4 1043.4,148.3 1039.2,143.5 1035.1,138.5 1031,133.6 1031,134.4 1034.2,137.6 1037.4,141.4 1040.6,145.2 1043.8,149.4 1047,153.6 1050.2,157.7 1053.4,161.8 1056.6,165.9 1059.8,169.9 1063,172.2 1066.2,176.5 1069.4,182.1 1072.6,187.2 1075.8,191.8 1079,194.9 1082.2,198.7 1085.3,205.5 1088.5,210.7 1091.7,212.3 1094.9,214 1098.1,217.3 1101.3,219.5 1104.5,223.1 1107.7,225.8 1110.9,231.3 1114.1,235.1 1117.3,240.2 1120.5,244 1123.7,247.6 1126.9,249.6 1130.1,252.9 1133.3,257.5 1136.5,261.9 1139.7,263.3 1142.9,262.7 1146.1,265 1149.3,265.2 1152.5,268.6 1155.7,270.4 1158.9,276.3 1162.1,276.4 1165.3,282.5 1168.5,285.7 1171.7,286.9 1174.9,289.8 1178.1,291.4 1181.3,292.3 1184.5,292.2 1187.7,296.4 1190.9,298.1 1194.1,299.9 1197.2,304 1200.4,305.2 1203.6,308.1 1206.8,314.5 1210,321.8 1213.2,329.6 1216.4,332.6 1219.6,334.1 1222.8,335.4 1226,343.9 1229.2,353.7 1232.4,360.8 1235.6,371.1 1238.8,378.3 1242,394 1245.2,424.3 1247.4,445.7" fill="none" stroke="#ff0080" stroke-width="3.3" stroke-linejoin="round" />
<polyline points="1249.6,462.5 1249.6,437.3 1252.2,385.1 1254.8,363.2 1257.4,351.8 1260,342.2 1262.6,336.5 1265.2,328.6 1267.8,321.8 1270.3,316 1272.9,315.2 1275.5,315.2 1275.5,317.4 1278.1,305.9 1280.7,303.2 1283.3,300.2 1285.9,297.5 1288.5,289.1 1291.1,285.2 1293.7,285.2 1296.3,288.1 1298.9,288.5 1301.5,282.6 1304.1,275.9 1306.6,273 1309.2,270.4 1311.8,265.8 1314.4,265.8 1317,263.6 1319.6,263.1 1322.2,261.6 1324.8,259.7 1327.4,257.3 1330,250.7 1332.6,250.2 1335.2,248.9 1337.8,240.4 1340.4,236.6 1342.9,232.3 1345.5,231 1348.1,229.2 1350.7,225.5 1353.3,224 1355.9,227.2 1358.5,225.1 1361.1,225.4 1363.7,225.5 1366.3,225.5 1368.9,219.8 1371.5,219.2 1374.1,212.9 1376.7,213.3 1379.2,212 1381.8,211.1 1384.4,210.4 1387,207.9 1389.6,206.7 1392.2,206.3 1394.8,204.5 1397.4,203.9 1400,203.9 1400,203.5 1402.6,203.5 1402.6,194 1405.2,194.1 1407.8,194 1410.4,193.1 1413,194.8 1415.5,190.7" fill="none" stroke="#ff00ff" stroke-width="3.3" stroke-linejoin="round" />
<line x1="1415.55" y1="91.6" x2="1415.55" y2="191.68" stroke="#ff00ff" stroke-width="3.8"/>
<polyline points="1383.8,93.3 1365.9,93.3 1350.3,93.3 1336.8,93.3 1325.1,96.7 1314.9,101.3 1306.1,105.9 1298.5,110.5 1291.9,115.1 1286.2,119.6 1281.2,124.2 1276.9,128.8 1273.2,133.4 1270,138 1267.2,142.6 1264.8,147.2 1262.7,151.7 1260.8,156.3 1259.3,160.9 1257.9,165.5 1256.7,170.1 1255.7,174.7 1254.8,179.2 1254,183.8 1253.3,188.4 1249.3,266.3 1248.7,265.2 1244.7,184 1244.1,180.1 1243.5,176.3 1242.7,172.5 1241.9,168.6 1241,164.8 1240,161 1238.8,157.1 1237.5,153.3 1236,149.5 1234.4,145.6 1232.5,141.8 1230.4,138 1228,134.2 1225.2,130.3 1222.2,126.5 1218.7,122.7 1214.8,118.9 1210.4,115 1205.4,111.2 1199.8,107.5 1193.5,103.7 1186.3,100 1178.2,96.4 1169.1,92.9 1169.1,121.4 1162.9,118.6 1162.9,214.9 1162.9,228.7 1158.9,224.4 1154.9,223.9 1150.9,222.6 1146.9,221.6 1142.9,220.9 1138.9,220.6 1134.9,216.7 1130.9,215.9 1126.9,213.2 1122.9,207.9 1118.9,203.7 1114.9,198.6 1110.9,196.7 1106.9,194.2 1102.9,191.1 1098.9,189.8 1094.9,186.7 1090.9,183.4 1086.9,180.6 1082.9,174.2 1078.9,169.1 1075,164.8 1071,161 1067,155.7 1063,151.4 1059,144.8 1055,140.3 1051,136.2 1047,131.4 1043,128.5 1039,124.4 1035,121.7 1031,116.1 1031,111.7 1034.2,116.2 1037.4,117.2 1040.6,120.7 1043.8,122.8 1047,125.1 1050.2,126.2 1053.4,128.9 1056.6,131.9 1059.8,136.7 1063,140.8 1066.2,145.1 1069.4,149.9 1072.6,152.7 1075.8,154.3 1079,158.9 1082.2,162.2 1085.3,165.3 1088.5,170 1091.7,172.2 1094.9,176.9 1098.1,177.9 1101.3,182.8 1104.5,186.8 1107.7,189 1110.9,189.8 1114.1,192.1 1117.3,194.3 1120.5,195.7 1123.7,198.1 1126.9,197.2 1130.1,198.9 1133.3,202.2 1136.5,202.1 1139.7,201.9 1142.9,204.1 1146.1,205.5 1149.3,205.3 1152.5,204.2 1155.7,203.3 1158.9,207 1162.1,209.4 1165.3,209.5 1168.5,213.1 1171.7,215.1 1174.9,219.1 1178.1,222.6 1181.3,223.1 1184.5,224.7 1187.7,227.6 1190.9,232.6 1194.1,238.2 1197.2,241.3 1200.4,243 1203.6,245.6 1206.8,248.8 1210,251.6 1213.2,259.6 1216.4,261 1219.6,267.6 1222.8,271.9 1226,277.6 1229.2,281.5 1232.4,290.3 1235.6,298.2 1238.8,303.5 1242,317.2 1245.2,338.9 1247.8,424.9 1247.8,455.2" fill="none" stroke="#ff00ff" stroke-width="3.3" stroke-linejoin="round" />
<polyline points="1249.7,466.8 1249.7,429.5 1252.2,370.3 1254.8,349.3 1257.4,337.6 1260,323.7 1262.6,316.8 1265.2,311.6 1267.8,308.9 1270.4,302.2 1273,301.4 1275.6,293.9 1278.2,294 1280.8,292.2 1283.4,286.7 1286,277.1 1288.6,275.5 1291.2,276.2 1293.8,274.2 1296.4,273.2 1299,269.9 1301.6,271.2 1304.2,266 1306.8,262.4 1309.4,260.4 1312.1,259.7 1314.7,258 1317.3,254.4 1319.9,254.4 1319.9,263.7 1322.5,259.8 1325.1,254 1327.7,251.2 1330.3,248 1332.9,245.3 1335.5,244.5 1338.1,238 1340.7,233.5 1343.3,230 1345.9,225.3 1348.5,220.2 1351.1,218.2 1353.7,219.2 1356.3,219 1358.9,215.2 1361.5,215.2 1361.5,226.2 1364.1,220.1 1366.7,222.8 1369.3,218.5 1371.9,221.1 1374.5,217.6 1377.1,215.8 1379.7,211.1 1382.3,209.1 1384.9,209.6 1387.5,206.7 1390.1,204.7 1392.7,204.7 1392.7,186.3 1395.3,188.1 1397.9,187.5 1400.5,185 1403.1,184.4 1405.7,185.1 1408.3,185.8 1410.9,189.3 1413.5,188.1 1416.1,185.5 1418.7,185.3 1421.3,185.1 1423.9,183.5 1426.5,181.6 1429.1,179.6 1431.7,180.6 1434.3,179.5 1437,179.5 1437,173.5 1439.6,173.8" fill="none" stroke="#800040" stroke-width="3.3" stroke-linejoin="round" />
<line x1="1439.55" y1="91.6" x2="1439.55" y2="174.83" stroke="#800040" stroke-width="3.8"/>
<polyline points="1383.8,93.3 1365.9,93.3 1350.3,93.3 1336.8,94.3 1325.1,99 1314.9,103.6 1306.1,108.3 1298.5,113 1291.9,117.6 1286.2,122.3 1281.2,127 1276.9,131.7 1273.2,136.3 1270,141 1267.2,145.7 1264.8,150.3 1262.7,155 1260.8,159.7 1259.3,164.3 1257.9,169 1256.7,173.7 1255.7,178.4 1254.8,183 1254,187.7 1253.3,192.4 1249.3,267.7 1248.7,266.6 1244.7,187.8 1244.1,183.8 1243.4,179.7 1242.6,175.6 1241.8,171.5 1240.8,167.5 1239.7,163.4 1238.4,159.3 1237,155.2 1235.4,151.2 1233.6,147.1 1231.5,143 1229.1,138.9 1226.4,134.9 1223.4,130.8 1219.9,126.7 1216,122.6 1211.5,118.6 1206.4,114.5 1200.7,110.5 1194.2,106.5 1186.8,102.5 1178.4,98.7 1168.8,94.9 1158,91.4 1158,104 1137.6,101.9 1137.6,130.7 1121.7,130.1 1121.7,146.3 1107.3,145.1 1107.3,217.3 1107.3,218 1103.3,211.8 1099.3,207.2 1095.3,204.6 1091.2,202.2 1087.2,201.7 1083.2,195.4 1079.2,191.6 1075.2,185.6 1071.2,180.8 1067.1,174.8 1063.1,170.7 1059.1,167.3 1055.1,162 1051.1,155.2 1047.1,150.7 1043,147.6 1039,144.2 1035,138.2 1031,134.2 1031,124.8 1034.2,128.9 1037.4,131.1 1040.6,134.4 1043.8,137.6 1047,141.6 1050.2,144.4 1053.4,148.2 1056.6,152.4 1059.8,156.6 1063,159.1 1066.2,162.1 1069.4,166.3 1072.6,171.1 1075.8,174.5 1079,178.6 1082.2,184 1085.3,189 1088.5,193.3 1091.7,194.5 1094.9,196.8 1098.1,197.7 1101.3,201.6 1104.5,205.5 1107.7,209.7 1110.9,214.4 1114.1,216 1117.3,220.5 1120.5,221.6 1123.7,224.2 1126.9,227.9 1130.1,231.6 1133.3,233.1 1136.5,236.1 1139.7,239.6 1142.9,243.9 1146.1,247.8 1149.3,250.6 1152.5,250.8 1155.7,253.2 1158.9,255.1 1162.1,256.6 1165.3,260.1 1168.5,261.5 1171.7,264.2 1174.9,261.5 1178.1,263.1 1181.3,266.5 1184.5,268.6 1187.7,270.8 1190.9,272.6 1194.1,271.6 1197.2,271.5 1200.4,271.9 1203.6,275.2 1206.8,281.9 1210,287.6 1213.2,291.6 1216.4,294.9 1219.6,299.4 1222.8,306.1 1226,313.8 1229.2,318.6 1232.4,327.7 1235.6,333.3 1238.8,343.2 1242,354.8 1245.2,377.1 1246.9,446.2 1246.9,447.2" fill="none" stroke="#800040" stroke-width="3.3" stroke-linejoin="round" />
<polyline points="1250.3,442.1 1250.3,427.3 1252.2,367.3 1254.8,345.6 1257.4,334.2 1260,326 1262.6,320 1265.2,311.5 1267.8,305.2 1270.4,301.3 1273,299.5 1275.6,293.6 1278.2,283.6 1280.8,282.4 1283.4,276.1 1286.1,276.7 1288.7,277.8 1291.3,279.2 1293.9,281.4 1296.5,279.2 1299.1,273.3 1301.7,271.1 1304.3,264.2 1306.9,260 1309.5,256.5 1312.1,256.4 1314.7,253.9 1317.3,253.5 1319.9,253.1 1322.5,249.4 1325.1,246 1327.7,240.1 1330.3,236.5 1332.9,233.6 1335.5,227.2 1338.1,222.6 1340.7,218.9 1343.3,217.1 1345.9,213.6 1348.5,211.6 1351.1,211.6 1351.1,199.9 1353.8,199.9 1353.8,198.2 1356.4,195.1 1359,195.1 1359,191 1361.6,188.4 1364.2,188.9 1366.8,190.2 1369.4,194.1 1372,191.6 1374.6,191.5 1377.2,188.5 1379.8,187.7 1382.4,189.4 1385,189.1 1387.6,189 1390.2,188.2 1392.8,186.8 1395.4,185.9 1398,187 1400.6,183.6 1403.2,184 1405.8,184 1408.4,184.8 1411,184.3 1413.6,184.1 1416.2,184 1418.8,185.6 1421.5,184.8 1424.1,183.8 1426.7,182 1429.3,181.8 1431.9,180.2" fill="none" stroke="#800080" stroke-width="3.3" stroke-linejoin="round" />
<line x1="1431.87" y1="91.6" x2="1431.87" y2="181.22" stroke="#800080" stroke-width="3.8"/>
<polyline points="1383.8,93.3 1365.9,93.3 1350.3,93.3 1336.8,93.3 1325.1,97 1314.9,101.6 1306.1,106.2 1298.5,110.8 1291.9,115.3 1286.2,119.9 1281.2,124.5 1276.9,129.1 1273.2,133.7 1270,138.3 1267.2,142.9 1264.8,147.5 1262.7,152.1 1260.8,156.7 1259.3,161.3 1257.9,165.9 1256.7,170.5 1255.7,175.1 1254.8,179.7 1254,184.3 1253.3,188.8 1249.3,266.4 1248.7,265.4 1244.7,184.4 1244.1,180.4 1243.4,176.4 1242.7,172.4 1241.8,168.4 1240.8,164.4 1239.7,160.4 1238.5,156.5 1237.1,152.5 1235.5,148.5 1233.7,144.5 1231.6,140.5 1229.3,136.5 1226.6,132.5 1223.6,128.5 1220.2,124.5 1216.3,120.6 1211.9,116.6 1206.9,112.6 1201.3,108.7 1194.9,104.8 1187.6,100.9 1179.3,97.1 1170,93.5 1159.3,90 1159.3,107.4 1145.6,105 1145.6,137.1 1137.8,135.1 1137.8,216.6 1137.8,227.9 1133.8,227.2 1129.9,225.8 1125.9,220.6 1122,216.3 1118,213.2 1114.1,210.3 1110.1,206.2 1106.1,202.4 1102.2,198.8 1098.2,192.1 1094.3,188.8 1090.3,182.9 1086.4,178.1 1082.4,172.4 1078.5,169.4 1074.5,163.4 1070.6,155.9 1066.6,151.4 1062.6,148.9 1058.7,145.3 1054.7,141.5 1050.8,135.5 1046.8,132.7 1042.9,129.7 1038.9,127.3 1035,124.4 1031,119.8 1031,116.2 1034.2,118.8 1037.4,122.7 1040.6,126.2 1043.8,129.5 1047,131.8 1050.2,134.9 1053.4,138.7 1056.6,142.6 1059.8,147 1063,150 1066.2,155.3 1069.4,158.9 1072.6,161.1 1075.8,165.4 1079,169.2 1082.2,172.4 1085.3,174.2 1088.5,177.3 1091.7,181.3 1094.9,183.8 1098.1,184.7 1101.3,187.3 1104.5,189.6 1107.7,194.6 1110.9,197.1 1114.1,197.6 1117.3,202.3 1120.5,205.2 1123.7,210.8 1126.9,211.7 1130.1,210.1 1133.3,210.7 1136.5,212.7 1139.7,217.7 1142.9,220.6 1146.1,221.5 1149.3,225.1 1152.5,225.3 1155.7,228.1 1158.9,230.1 1162.1,231 1165.3,233.6 1168.5,233.9 1171.7,238.4 1174.9,245.7 1178.1,246.6 1181.3,248.1 1184.5,249.3 1187.7,253 1190.9,254.2 1194.1,257.7 1197.2,263.2 1200.4,264.3 1203.6,264.5 1206.8,268.7 1210,268.7 1213.2,274.2 1216.4,278.1 1219.6,284.1 1222.8,288.1 1226,295.3 1229.2,302.6 1232.4,312.8 1235.6,321.8 1238.8,333 1242,343.4 1245.2,369.3 1248.3,444.8 1248.3,450.2" fill="none" stroke="#800080" stroke-width="3.3" stroke-linejoin="round" />
<polyline points="1250.4,447.6 1252.2,420.9 1254.8,396.1 1257.4,382.5 1260,367 1262.6,358 1265.1,347.6 1267.7,339.3 1270.3,336.8 1272.9,328.6 1275.5,331.1 1278.1,325.8 1280.7,318.8 1283.3,318 1285.9,315.1 1288.5,317.2 1291.1,317.2 1291.1,323.7 1293.7,323.7 1293.7,320.6 1296.2,313.6 1298.8,311.9 1301.4,308.7 1304,299.6 1306.6,296 1309.2,292.6 1311.8,288.3 1314.4,282.7 1317,283.2 1319.6,281.2 1322.2,279.5 1324.7,276.1 1327.3,276.1 1329.9,272.8 1332.5,271.5 1335.1,269.3 1337.7,267.7 1340.3,263.7 1342.9,266.2 1345.5,263.4 1348.1,259.6 1350.7,255.2 1353.2,253.3 1355.8,252 1358.4,248.1 1361,250.1 1363.6,246.5 1366.2,247.7 1368.8,247.7 1368.8,228.3 1371.4,228.9 1374,223.2 1376.6,226.4 1379.2,226.8 1381.8,224.1 1384.3,224.4 1386.9,221.3 1389.5,218.7 1392.1,221.3 1394.7,220 1397.3,220.5 1399.9,220.8 1402.5,221.4 1405.1,221.4 1405.1,209.2 1407.7,205.8 1410.3,204.5 1412.8,205.1 1415.4,204.5 1418,203.2 1420.6,202.9 1423.2,202.3 1425.8,197.9 1428.4,195 1431,195 1431,194.3 1433.6,192.4 1436.2,190.2 1438.8,188.6 1441.4,187.4 1443.9,187.4 1443.9,180.6 1446.5,179.1 1449.1,179.1 1451.7,177.8 1454.3,177.6 1456.9,177.2 1459.5,176 1462.1,175.8 1464.7,175.8 1464.7,171.5 1467.3,168.5" fill="none" stroke="#ff8000" stroke-width="3.3" stroke-linejoin="round" />
<line x1="1467.26" y1="91.6" x2="1467.26" y2="169.46" stroke="#ff8000" stroke-width="3.8"/>
<polyline points="1383.8,93.3 1365.9,93.3 1350.3,93.3 1336.8,93.3 1325.1,93.3 1314.9,95.6 1306.1,100 1298.5,104.4 1291.9,108.7 1286.2,113.1 1281.2,117.5 1276.9,121.9 1273.2,126.3 1270,130.7 1267.2,135.1 1264.8,139.5 1262.7,143.9 1260.8,148.2 1259.3,152.6 1257.9,157 1256.7,161.4 1255.7,165.8 1254.8,170.2 1254,174.6 1253.3,179 1249.3,263 1248.7,262.1 1244.7,174.7 1244,170.5 1243.2,166.2 1242.4,162 1241.4,157.8 1240.3,153.5 1238.9,149.3 1237.4,145.1 1235.7,140.8 1233.7,136.6 1231.4,132.4 1228.8,128.2 1225.7,123.9 1222.3,119.7 1218.3,115.5 1213.6,111.3 1208.3,107.1 1202.2,102.9 1195.2,98.8 1187.2,94.7 1177.9,90.8 1167.2,87.1 1155,83.8 1140.9,81 1124.7,79.3 1124.7,113.8 1118.7,108.4 1118.7,201.3 1118.7,211.6 1114.7,206.5 1110.7,205.5 1106.7,200.9 1102.7,195.6 1098.7,195 1094.8,190.5 1090.8,187.2 1086.8,182.5 1082.8,177.7 1078.8,171.2 1074.8,168.1 1070.8,164.7 1066.9,159.7 1062.9,153.6 1058.9,149.5 1054.9,145 1050.9,141.4 1046.9,136.4 1043,131.2 1039,127.2 1035,122.6 1031,118.7 1031,116.9 1034.2,121 1037.4,123.1 1040.6,127.7 1043.8,131.3 1047,133.6 1050.2,138 1053.4,142.9 1056.6,147.5 1059.8,149.5 1063,152.9 1066.2,156.4 1069.4,159.5 1072.6,161.9 1075.8,165.8 1079,170 1082.2,172.3 1085.3,174.9 1088.5,177.8 1091.7,179.5 1094.9,180.1 1098.1,184.2 1101.3,186.8 1104.5,189.3 1107.7,191 1110.9,195.3 1114.1,197.1 1117.3,200.2 1120.5,202.1 1123.7,203.8 1126.9,201.2 1130.1,203.2 1133.3,206.9 1136.5,207.9 1139.7,209.4 1142.9,211.6 1146.1,214.7 1149.3,212.9 1152.5,213.7 1155.7,218.4 1158.9,223 1162.1,227.6 1165.3,228.3 1168.5,230 1171.7,230.4 1174.9,233.6 1178.1,236.6 1181.3,239.6 1184.5,243.6 1187.7,245.4 1190.9,249.6 1194.1,249.1 1197.2,253.6 1200.4,257.9 1203.6,260.4 1206.8,261.4 1210,262.7 1213.2,268.4 1216.4,274.9 1219.6,279.3 1222.8,281.3 1226,289.5 1229.2,291.3 1232.4,298.5 1235.6,307.1 1238.8,315.7 1242,331.1 1245.2,347.1 1247.8,431.5 1247.8,444.3" fill="none" stroke="#ff8000" stroke-width="3.3" stroke-linejoin="round" />
<polyline points="1250.1,442.4 1250.1,423.3 1252.2,359.7 1254.8,337.7 1257.4,337.7 1257.4,314 1260.1,302.4 1262.7,296.4 1265.3,292.4 1267.9,286.5 1270.5,284.7 1273.1,282.1 1275.7,282.5 1278.3,284 1281,275.9 1283.6,277.7 1286.2,275.8 1288.8,271.1 1291.4,262.9 1294,258.1 1296.6,258.5 1299.2,260.6 1301.9,258 1304.5,257.2 1307.1,252.9 1309.7,248.8 1312.3,245.7 1314.9,243.4 1317.5,243.3 1320.1,241.3 1322.8,242.2 1325.4,236.5 1328,236 1330.6,236.1 1333.2,234.7 1335.8,234.7 1335.8,235.5 1338.4,233.3 1341,226.6 1343.7,225.2 1346.3,221.7 1348.9,220.8 1351.5,219.3 1354.1,216.9 1356.7,212.3 1359.3,212.3 1359.3,239.7 1361.9,234.6 1364.6,230.2 1367.2,230.2 1369.8,220.3 1372.4,217.2 1375,213.3 1377.6,206.2 1380.2,204.8 1382.8,203.7 1385.5,201.1 1388.1,198.4 1390.7,197.4 1393.3,196 1395.9,196.3 1398.5,196.3 1398.5,182.7 1401.1,180.5 1403.8,179.4 1406.4,182.4 1409,181.8 1411.6,182.2 1414.2,183.3 1416.8,182.8 1419.4,182.4 1422,180.6 1424.7,180.8 1427.3,179.8 1429.9,179.1 1432.5,178.8 1435.1,178.5 1437.7,178.2 1440.3,177 1442.9,176.1" fill="none" stroke="#1a0030" stroke-width="3.3" stroke-linejoin="round" />
<line x1="1442.94" y1="91.6" x2="1442.94" y2="177.14" stroke="#1a0030" stroke-width="3.8"/>
<polyline points="1383.8,93.3 1365.9,94 1350.3,99.1 1336.8,104.3 1325.1,109.4 1314.9,114.5 1306.1,119.7 1298.5,124.8 1291.9,129.9 1286.2,135.1 1281.2,140.2 1276.9,145.3 1273.2,150.5 1270,155.6 1267.2,160.7 1264.8,165.9 1262.7,171 1260.8,176.1 1259.3,181.3 1257.9,186.4 1256.7,191.5 1255.7,196.7 1254.8,201.8 1254,206.9 1253.3,212 1249.3,275.4 1248.7,274 1244.7,207.1 1244,202.5 1243.3,197.8 1242.5,193.1 1241.6,188.5 1240.6,183.8 1239.4,179.1 1238,174.5 1236.5,169.8 1234.7,165.2 1232.7,160.5 1230.4,155.8 1227.8,151.2 1224.8,146.5 1221.3,141.9 1217.4,137.2 1213,132.5 1207.9,127.9 1202.1,123.3 1195.4,118.6 1187.9,114 1179.2,109.4 1169.4,104.9 1158.1,100.5 1145.3,96.3 1145.3,115.4 1134.2,113.5 1134.2,148.7 1115.4,146.1 1115.4,207.2 1115.4,214.5 1111.4,209.2 1107.4,205.9 1103.4,203.6 1099.3,201.2 1095.3,197.7 1091.3,192.6 1087.3,189.7 1083.3,182.4 1079.2,176.9 1075.2,171.9 1071.2,166.2 1067.2,160.4 1063.2,156.6 1059.1,152.9 1055.1,146.6 1051.1,142 1047.1,137.3 1043.1,132.6 1039,128.3 1035,125.5 1031,121.3 1031,118.9 1034.2,122.6 1037.4,126 1040.6,128.7 1043.8,132.9 1047,135.8 1050.2,139.5 1053.4,144.1 1056.6,148.1 1059.8,151.2 1063,154.4 1066.2,158 1069.4,161.6 1072.6,164 1075.8,168 1079,169.9 1082.2,172.9 1085.3,174.7 1088.5,178.2 1091.7,181.4 1094.9,183.4 1098.1,188.4 1101.3,189.2 1104.5,192.8 1107.7,195.6 1110.9,199.3 1114.1,203 1117.3,209.5 1120.5,209.5 1123.7,210.9 1126.9,213 1130.1,215.4 1133.3,216.5 1136.5,220 1139.7,225 1142.9,225.5 1146.1,229.4 1149.3,228.9 1152.5,228 1155.7,228.7 1158.9,234.1 1162.1,236 1165.3,240 1168.5,238.1 1171.7,239.7 1174.9,245 1178.1,247.4 1181.3,251.5 1184.5,258.9 1187.7,261.3 1190.9,265.1 1194.1,266.8 1197.2,270 1200.4,273.5 1203.6,275 1206.8,278 1210,281.8 1213.2,289.4 1216.4,296.8 1219.6,299.7 1222.8,304.7 1226,312.3 1229.2,313.2 1232.4,316.5 1235.6,323.4 1238.8,330.9 1242,343 1245.2,363.4 1247.7,440.4 1247.7,445.6" fill="none" stroke="#1a0030" stroke-width="3.3" stroke-linejoin="round" />
<polyline points="1249.5,468 1249.6,455.4 1252.2,419.6 1254.8,394.7 1257.4,381.7 1260,373.2 1262.6,364.1 1265.2,357.3 1267.8,349.8 1270.4,345.7 1273,337.2 1275.6,328.4 1278.2,323.7 1280.8,318.3 1283.4,315.1 1286,316.3 1288.6,311.5 1291.2,308.6 1293.9,306.7 1296.5,302.2 1299.1,297.4 1301.7,293.5 1304.3,293.5 1304.3,288.9 1306.9,286.4 1309.5,287 1312.1,282.5 1314.7,278.5 1317.3,273.6 1319.9,273.6 1319.9,257.1 1322.5,254.1 1325.1,252.5 1327.7,251.3 1330.3,250.9 1332.9,248.9 1335.5,250.8 1338.1,246.7 1340.7,247.4 1343.3,244.7 1345.9,244.7 1345.9,259.8 1348.5,261.9 1351.1,261.6 1353.7,259 1356.3,256 1358.9,256 1358.9,259.2 1361.5,257.7 1364.1,253.9 1366.7,251.5 1369.3,249.1 1371.9,249.2 1374.5,246.4 1377.2,245.6 1379.8,241.8 1382.4,239.8 1385,238.7 1387.6,233.7 1390.2,232.4 1392.8,228.1 1395.4,228.2 1398,223.4 1400.6,220.5 1403.2,218.1 1405.8,213.6 1408.4,209.6 1411,206.8 1413.6,206.5 1416.2,204.7" fill="none" stroke="#300030" stroke-width="3.3" stroke-linejoin="round" />
<line x1="1416.2" y1="91.6" x2="1416.2" y2="205.73" stroke="#300030" stroke-width="3.8"/>
<polyline points="1383.8,93.3 1365.9,93.3 1350.3,97.2 1336.8,102.3 1325.1,107.3 1314.9,112.3 1306.1,117.4 1298.5,122.4 1291.9,127.4 1286.2,132.5 1281.2,137.5 1276.9,142.5 1273.2,147.5 1270,152.6 1267.2,157.6 1264.8,162.6 1262.7,167.7 1260.8,172.7 1259.3,177.7 1257.9,182.8 1256.7,187.8 1255.7,192.8 1254.8,197.9 1254,202.9 1253.3,207.9 1249.3,273.7 1248.7,272.4 1244.7,203.1 1244,198.3 1243.3,193.4 1242.4,188.6 1241.4,183.8 1240.3,179 1239,174.2 1237.5,169.4 1235.8,164.5 1233.8,159.7 1231.5,154.9 1228.9,150.1 1225.9,145.3 1222.4,140.5 1218.5,135.7 1213.9,130.9 1208.7,126.1 1202.6,121.3 1195.7,116.5 1187.8,111.7 1178.6,107.1 1168.1,102.5 1156,98 1142.1,93.8 1126.2,90.1 1126.2,111 1112.9,108.8 1112.9,226.5 1112.9,231.3 1108.8,228.8 1104.8,224.4 1100.7,217.1 1096.6,211 1092.5,206.5 1088.4,202.1 1084.3,195.9 1080.2,189.6 1076.1,183.5 1072,178.6 1067.9,171.9 1063.8,166 1059.7,161 1055.6,156.8 1051.5,151.4 1047.4,146.4 1043.3,143.9 1039.2,139.1 1035.1,133.2 1031,129 1031,129.9 1034.2,133.3 1037.4,135.7 1040.6,139.7 1043.8,144.2 1047,149.7 1050.2,153.9 1053.4,157.6 1056.6,159.7 1059.8,163.3 1063,167.2 1066.2,171.5 1069.4,175.1 1072.6,179.6 1075.8,184.1 1079,187.2 1082.2,190.7 1085.3,196.9 1088.5,202.9 1091.7,207.5 1094.9,209.9 1098.1,211.4 1101.3,213.9 1104.5,218.9 1107.7,221.4 1110.9,227.7 1114.1,234.1 1117.3,237 1120.5,240.5 1123.7,245.5 1126.9,248.3 1130.1,250.5 1133.3,254.7 1136.5,261.1 1139.7,261.7 1142.9,264.4 1146.1,267.1 1149.3,267.3 1152.5,270.8 1155.7,274 1158.9,276.1 1162.1,278.6 1165.3,283.7 1168.5,286.5 1171.7,288 1174.9,288.9 1178.1,291.1 1181.3,293 1184.5,291.7 1187.7,294.2 1190.9,295.6 1194.1,296.8 1197.2,297.4 1200.4,299.9 1203.6,303.4 1206.8,305.3 1210,309.6 1213.2,309.4 1216.4,313.8 1219.6,319.4 1222.8,323.9 1226,328.5 1229.2,331.4 1232.4,340.4 1235.6,351.9 1238.8,364.3 1242,378.4 1245.2,405.2 1247.5,447.8" fill="none" stroke="#300030" stroke-width="3.3" stroke-linejoin="round" />
<polyline points="1250.6,464.5 1250.6,459.6 1252.2,429 1254.8,404.4 1257.4,389.4 1260,372.2 1262.6,372.2 1262.6,377.5 1265.2,361.9 1267.8,354.3 1270.4,348.5 1273.1,344.5 1275.7,337.4 1278.3,333.1 1280.9,329.1 1283.5,324.8 1286.1,322.2 1288.7,325.8 1291.3,322.2 1293.9,320.3 1296.5,315.1 1299.1,314 1301.7,307.6 1304.3,297 1306.9,288.8 1309.5,290.2 1312.1,289.1 1314.8,284.9 1317.4,281.9 1320,277.4 1322.6,275.1 1325.2,270.3 1327.8,269.2 1330.4,268.9 1333,267.2 1335.6,265.1 1338.2,261.1 1340.8,258.6 1343.4,258.6 1343.4,268.3 1346,262.9 1348.6,263.3 1351.2,263.6 1353.8,262.1 1356.5,260.6 1359.1,257.1 1361.7,252.5 1364.3,249.3 1366.9,246.7 1369.5,245.5 1372.1,244.8 1374.7,247 1377.3,241.1 1379.9,238.8 1382.5,235.3 1385.1,232.8 1387.7,232.8 1387.7,229.9 1390.3,229.5 1392.9,227.1 1395.5,225.8 1398.2,225.5 1400.8,224.1 1403.4,223 1406,219.8 1408.6,218.5 1411.2,215 1413.8,213.6 1416.4,213.3 1419,209.3 1421.6,207.1 1424.2,206.6 1426.8,205.4 1429.4,203.1 1432,200.4 1434.6,198.4 1437.2,196.5 1439.8,194.5 1442.5,194.5 1442.5,193.3 1445.1,190.3 1447.7,188.2 1450.3,187.5 1452.9,185.8 1455.5,182.7" fill="none" stroke="#008000" stroke-width="3.3" stroke-linejoin="round" />
<line x1="1455.49" y1="91.6" x2="1455.49" y2="183.73" stroke="#008000" stroke-width="3.8"/>
<polyline points="1383.8,93.3 1365.9,96.1 1350.3,101.4 1336.8,106.6 1325.1,111.9 1314.9,117.1 1306.1,122.4 1298.5,127.6 1291.9,132.9 1286.2,138.2 1281.2,143.4 1276.9,148.7 1273.2,153.9 1270,159.2 1267.2,164.4 1264.8,169.7 1262.7,174.9 1260.8,180.2 1259.3,185.5 1257.9,190.7 1256.7,196 1255.7,201.2 1254.8,206.5 1254,211.7 1253.3,217 1249.3,277.5 1248.7,276 1244.7,212 1244,207 1243.3,202.1 1242.5,197.2 1241.5,192.3 1240.4,187.4 1239.2,182.5 1237.7,177.6 1236.1,172.7 1234.2,167.8 1232.1,162.9 1229.6,158 1226.8,153 1223.5,148.1 1219.8,143.2 1215.6,138.3 1210.7,133.4 1205.1,128.5 1198.7,123.6 1191.4,118.7 1183,113.9 1173.4,109.1 1162.4,104.3 1149.8,99.6 1135.4,95.2 1135.4,126.5 1116.7,125.9 1116.7,140.8 1096.4,138.2 1096.4,215.8 1096.4,217.9 1092.3,214.2 1088.2,213 1084.1,206.6 1080,200 1076,193.8 1071.9,187.4 1067.8,181 1063.7,174.2 1059.6,169.7 1055.5,163.8 1051.4,157.7 1047.3,152.4 1043.3,148.8 1039.2,144.3 1035.1,139.5 1031,134.7 1031,133.2 1034.2,136.9 1037.4,140.2 1040.6,143.3 1043.8,147.5 1047,150.2 1050.2,154.2 1053.4,159.6 1056.6,162.8 1059.8,166.9 1063,170 1066.2,174.5 1069.4,178.7 1072.6,181.7 1075.8,187 1079,192.8 1082.2,198.1 1085.3,204.6 1088.5,211.9 1091.7,213 1094.9,215.7 1098.1,219.1 1101.3,220 1104.5,223.7 1107.7,228.6 1110.9,232.2 1114.1,234.9 1117.3,238.8 1120.5,244 1123.7,247.6 1126.9,249.8 1130.1,253.8 1133.3,255.6 1136.5,258.4 1139.7,260.4 1142.9,260.4 1146.1,262.3 1149.3,262.1 1152.5,262.6 1155.7,265.3 1158.9,264.2 1162.1,268 1165.3,267.3 1168.5,269.7 1171.7,271.6 1174.9,276.9 1178.1,279.4 1181.3,281 1184.5,283.1 1187.7,288 1190.9,292.3 1194.1,294.2 1197.2,294.1 1200.4,297.5 1203.6,304 1206.8,309.2 1210,312.9 1213.2,318.1 1216.4,321.9 1219.6,327.4 1222.8,334.8 1226,343.7 1229.2,351.6 1232.4,356.6 1235.6,365.1 1238.8,376.3 1242,388.5 1245.2,417.6 1248,461.8" fill="none" stroke="#008000" stroke-width="3.3" stroke-linejoin="round" />
<polyline points="1249.2,464.1 1249.6,443 1252.2,397.4 1254.8,373.9 1257.3,361.5 1259.9,349.6 1262.5,346.9 1265.1,337.5 1267.7,324.5 1270.2,312.9 1272.8,312.2 1275.4,307.1 1278,302.1 1280.6,302.1 1280.6,262.6 1283.1,264.9 1285.7,261 1288.3,263.2 1290.9,267.3 1293.5,266.2 1296,266.1 1298.6,269.7 1301.2,268.2 1303.8,264.1 1306.4,261 1308.9,259.3 1311.5,259.5 1314.1,255.6 1316.7,249.7 1319.3,249.5 1321.8,251.9 1324.4,248.4 1327,248.4 1327,249.9 1329.6,249 1332.2,248.7 1334.7,248.7 1334.7,251 1337.3,248.2 1339.9,241.6 1342.5,244.4 1345.1,242.1 1347.6,240.6 1350.2,235.3 1352.8,235.3 1352.8,244.7 1355.4,248.3 1358,241.6 1360.6,240.1 1363.1,238.3 1365.7,234.4 1368.3,232.3 1370.9,227.7 1373.5,220.6 1376,222.3 1378.6,224.1 1381.2,219.7 1383.8,220.9 1386.4,221.9 1388.9,222.9 1391.5,222.5 1394.1,218" fill="none" stroke="#008080" stroke-width="3.3" stroke-linejoin="round" />
<line x1="1394.09" y1="91.6" x2="1394.09" y2="219.01" stroke="#008080" stroke-width="3.8"/>
<polyline points="1383.8,93.3 1365.9,93.3 1350.3,94.4 1336.8,99.3 1325.1,104.2 1314.9,109 1306.1,113.9 1298.5,118.8 1291.9,123.7 1286.2,128.6 1281.2,133.5 1276.9,138.4 1273.2,143.3 1270,148.1 1267.2,153 1264.8,157.9 1262.7,162.8 1260.8,167.7 1259.3,172.6 1257.9,177.5 1256.7,182.4 1255.7,187.3 1254.8,192.1 1254,197 1253.3,201.9 1249.3,271.3 1248.7,270.1 1244.7,197.2 1244,192.3 1243.2,187.4 1242.3,182.5 1241.2,177.6 1240,172.7 1238.6,167.8 1236.9,162.9 1235,158 1232.8,153.1 1230.3,148.2 1227.4,143.3 1224,138.4 1220,133.5 1215.5,128.6 1210.2,123.7 1204.2,118.8 1197.1,113.9 1189,109.1 1179.6,104.4 1168.7,99.8 1156.1,95.4 1141.5,91.3 1124.6,88 1105.1,85.6 1105.1,119.6 1087.2,117.5 1087.2,133.7 1067.1,133.5 1067.1,150 1047,149.6 1066,162.7 1066,166.6 1062.1,162.8 1058.2,157.4 1054.3,152.9 1050.4,147.5 1046.6,145.4 1042.7,142.5 1038.8,139.6 1034.9,135.1 1031,130.1 1031,122.2 1034.2,124.5 1037.4,128.2 1040.6,131.7 1043.8,134.5 1047,137.6 1050.2,140.8 1053.4,143.4 1056.6,146.9 1059.8,150.8 1063,153.9 1066.2,157.7 1069.4,163.8 1072.6,167.2 1075.8,171.7 1079,174.5 1082.2,178.5 1085.3,181.1 1088.5,184.9 1091.7,189 1094.9,190 1098.1,193.5 1101.3,193.8 1104.5,199 1107.7,200.4 1110.9,202.4 1114.1,202.5 1117.3,206.7 1120.5,209.5 1123.7,213.4 1126.9,213.2 1130.1,216.6 1133.3,218.7 1136.5,219.2 1139.7,220.5 1142.9,220.5 1146.1,221.5 1149.3,221.8 1152.5,227.6 1155.7,230.2 1158.9,234 1162.1,236.8 1165.3,241.3 1168.5,244.6 1171.7,250.2 1174.9,251.2 1178.1,256.8 1181.3,260.2 1184.5,262 1187.7,264.3 1190.9,268.1 1194.1,268.1 1197.2,271.7 1200.4,273.9 1203.6,280.2 1206.8,283 1210,282.6 1213.2,285.8 1216.4,288 1219.6,295.3 1222.8,296.4 1226,301.8 1229.2,307.2 1232.4,310.1 1235.6,314.6 1238.8,324.4 1242,337.8 1245.2,364.8 1247.9,439.6 1247.9,459.2" fill="none" stroke="#008080" stroke-width="3.3" stroke-linejoin="round" />
<polyline points="1251,448.1 1251,447.9 1252.2,404.8 1254.8,380.5 1257.4,367.2 1260,356.5 1262.6,350.7 1265.2,342.1 1267.8,342.1 1267.8,336.3 1270.4,333.2 1273,324.1 1275.6,316.3 1278.2,315.9 1280.8,311 1283.4,309.3 1286,307.5 1288.6,308.6 1291.2,307.7 1293.8,307.7 1296.4,299.2 1299,295 1301.6,290.2 1304.2,281 1306.8,277.4 1309.4,278.3 1312,273.5 1314.6,268.9 1317.2,268.9 1317.2,266.7 1319.8,264.5 1322.4,261.9 1325,255.5 1327.6,250.8 1330.2,249.3 1332.8,250.9 1335.4,250.8 1338,249.7 1340.6,248.5 1343.2,243.9 1345.8,246.1 1348.4,243.2 1351,243.2 1351,236.9 1353.6,234.7 1356.2,232.5 1358.8,231.7 1361.4,229.2 1364,229.5 1366.6,228.8 1369.2,227.2 1371.8,222.4 1374.3,220.1 1376.9,217 1379.5,214.6 1382.1,212.2" fill="none" stroke="#2e8b57" stroke-width="3.3" stroke-linejoin="round" />
<line x1="1382.15" y1="91.6" x2="1382.15" y2="213.24" stroke="#2e8b57" stroke-width="3.8"/>
<polyline points="1383.8,93.3 1365.9,95.3 1350.3,100.5 1336.8,105.7 1325.1,110.9 1314.9,116.1 1306.1,121.3 1298.5,126.5 1291.9,131.7 1286.2,136.9 1281.2,142.1 1276.9,147.4 1273.2,152.6 1270,157.8 1267.2,163 1264.8,168.2 1262.7,173.4 1260.8,178.6 1259.3,183.8 1257.9,189 1256.7,194.2 1255.7,199.4 1254.8,204.6 1254,209.8 1253.3,215.1 1249.3,276.6 1248.7,275.2 1244.7,210 1244,205.4 1243.4,200.7 1242.6,196 1241.7,191.4 1240.6,186.7 1239.5,182 1238.1,177.3 1236.6,172.7 1234.9,168 1232.9,163.3 1230.7,158.6 1228.1,154 1225.2,149.3 1221.9,144.6 1218.1,139.9 1213.8,135.3 1208.9,130.6 1203.3,125.9 1196.9,121.3 1189.7,116.6 1181.4,112 1171.9,107.5 1161.2,103 1148.9,98.6 1148.9,132.9 1134.8,129.5 1134.8,265.2 1134.8,260 1130.8,255.5 1126.8,251 1122.8,246.5 1118.8,239 1114.8,235.6 1110.8,232.8 1106.8,225.9 1102.8,219.5 1098.9,214.5 1094.9,210.5 1090.9,207.1 1086.9,204.5 1082.9,198.3 1078.9,193.8 1074.9,190.4 1070.9,185.9 1066.9,178.6 1062.9,174 1058.9,168.9 1054.9,163.8 1051,158.7 1047,153.6 1043,148.7 1039,143.7 1035,138.1 1031,133 1031,134.7 1034.2,138 1037.4,142.2 1040.6,146 1043.8,149.2 1047,153.6 1050.2,157.7 1053.4,161.8 1056.6,165.9 1059.8,169.2 1063,171.6 1066.2,176.7 1069.4,182.3 1072.6,186.6 1075.8,190.7 1079,194.5 1082.2,198.5 1085.3,204.5 1088.5,208.8 1091.7,210.6 1094.9,213.6 1098.1,214.7 1101.3,217 1104.5,220.8 1107.7,225.3 1110.9,226.8 1114.1,230.4 1117.3,235.8 1120.5,238.3 1123.7,244.7 1126.9,246.2 1130.1,249.1 1133.3,251.6 1136.5,256.1 1139.7,260.7 1142.9,264 1146.1,269.6 1149.3,270.8 1152.5,273.1 1155.7,272.5 1158.9,274.3 1162.1,281.2 1165.3,281.4 1168.5,281.5 1171.7,283.5 1174.9,287.9 1178.1,288 1181.3,288.4 1184.5,292.2 1187.7,297.7 1190.9,300.6 1194.1,302.7 1197.2,304 1200.4,305.9 1203.6,311.5 1206.8,318.3 1210,320.2 1213.2,323.3 1216.4,326.7 1219.6,329.8 1222.8,338.5 1226,344.4 1229.2,353.9 1232.4,363.8 1235.6,374.7 1238.8,385.8 1242,398.2 1245.2,427.6 1247,457.4" fill="none" stroke="#2e8b57" stroke-width="3.3" stroke-linejoin="round" />
<polyline points="1250.8,454.6 1250.8,417.9 1252.2,353 1254.8,337 1257.3,325.6 1259.9,318.6 1262.5,313.7 1265.1,308.8 1267.6,307.6 1270.2,306.1 1272.8,300.3 1275.4,296.1 1277.9,292.8 1280.5,284.5 1283.1,284.5 1283.1,260.6 1285.7,261.5 1288.3,261.7 1290.8,255.6 1293.4,252.6 1296,253 1298.6,248.6 1301.1,250.8 1303.7,249.8 1306.3,251.4 1308.9,249 1311.4,248.2 1314,247.5 1316.6,246.2 1319.2,246.1 1321.8,243.4 1324.3,237.4 1326.9,234.3 1329.5,231.6 1332.1,228.9 1334.6,227.3 1337.2,227.3 1337.2,227.5 1339.8,223.7 1342.4,217.6 1344.9,219 1347.5,217.7 1350.1,213.6 1352.7,212.5 1355.2,210.7 1357.8,206.9 1360.4,207.9 1363,208.5 1365.6,204.7 1368.1,197.8 1370.7,195.6 1373.3,193.3 1375.9,194.7 1378.4,191.8 1381,191.9 1383.6,192.9 1386.2,194.8 1388.7,195.1 1391.3,193.7 1393.9,193.7" fill="none" stroke="#000000" stroke-width="3.3" stroke-linejoin="round" />
<line x1="1393.9" y1="91.6" x2="1393.9" y2="194.71" stroke="#000000" stroke-width="3.8"/>
<polyline points="1383.8,93.3 1365.9,97.1 1350.3,102.4 1336.8,107.8 1325.1,113.1 1314.9,118.4 1306.1,123.7 1298.5,129 1291.9,134.4 1286.2,139.7 1281.2,145 1276.9,150.3 1273.2,155.7 1270,161 1267.2,166.3 1264.8,171.6 1262.7,176.9 1260.8,182.3 1259.3,187.6 1257.9,192.9 1256.7,198.2 1255.7,203.5 1254.8,208.9 1254,214.2 1253.3,219.5 1249.3,278.5 1248.7,277 1244.7,214.4 1244,209.2 1243.2,203.9 1242.3,198.7 1241.3,193.5 1240.1,188.2 1238.7,183 1237.2,177.8 1235.3,172.5 1233.2,167.3 1230.8,162.1 1228,156.9 1224.8,151.6 1221,146.4 1216.7,141.2 1211.8,135.9 1206,130.7 1199.4,125.5 1191.8,120.3 1183,115.1 1172.8,109.9 1161.1,104.8 1147.5,99.8 1131.9,95 1113.9,90.4 1113.9,112.6 1105.8,107.4 1105.8,180 1105.8,183.7 1101.9,180.7 1097.9,178.6 1094,174.7 1090.1,172 1086.1,171.6 1082.2,164.8 1078.3,160.9 1074.3,156.8 1070.4,151 1066.4,147.7 1062.5,143.5 1058.6,138 1054.6,133.3 1050.7,129.4 1046.8,125.4 1042.8,123.1 1038.9,118.8 1034.9,114.7 1031,109.8 1031,110.2 1034.2,113.3 1037.4,115.2 1040.6,118.3 1043.8,121.2 1047,124.7 1050.2,127.2 1053.4,129.7 1056.6,133.2 1059.8,136.3 1063,140 1066.2,141.9 1069.4,146.3 1072.6,149.5 1075.8,152.5 1079,154.6 1082.2,157.2 1085.3,160.9 1088.5,162.5 1091.7,165.3 1094.9,167.1 1098.1,169.5 1101.3,172.4 1104.5,174.5 1107.7,176.7 1110.9,180 1114.1,181 1117.3,183.2 1120.5,185.8 1123.7,190.9 1126.9,192.1 1130.1,190.6 1133.3,191.8 1136.5,192.9 1139.7,194.9 1142.9,196.3 1146.1,196.2 1149.3,200.2 1152.5,201.9 1155.7,202.1 1158.9,202.9 1162.1,209.1 1165.3,212.5 1168.5,215.2 1171.7,222.5 1174.9,222.1 1178.1,228.6 1181.3,230.5 1184.5,233.2 1187.7,238.5 1190.9,242.5 1194.1,245.5 1197.2,246 1200.4,248.9 1203.6,252.8 1206.8,255.7 1210,257.1 1213.2,259.9 1216.4,259.9 1219.6,263 1222.8,273.4 1226,276.3 1229.2,279.2 1232.4,282.4 1235.6,288.4 1238.8,297.5 1242,312.6 1245.2,328.4 1248.3,421.4 1248.3,447.8" fill="none" stroke="#000000" stroke-width="3.3" stroke-linejoin="round" />
<polyline points="1249.6,442.6 1249.6,414.4 1252.2,343.2 1254.8,322.9 1257.3,310.3 1259.9,303.1 1262.5,294.9 1265.1,292 1267.7,286.5 1270.2,286.4 1272.8,284.9 1275.4,275.7 1278,270.8 1280.5,268.1 1283.1,267.5 1285.7,264.3 1288.3,261.1 1290.9,259.9 1293.4,254.2 1296,250.6 1298.6,248.6 1301.2,246.7 1303.8,246.7 1303.8,255.7 1306.3,253.4 1308.9,253.4 1311.5,253 1314.1,253.1 1316.6,249.8 1319.2,245.2 1321.8,237.8 1324.4,232.9 1327,227.3 1329.5,227.3 1329.5,224.7 1332.1,223.2 1334.7,220.1 1337.3,215.1 1339.9,208.7 1342.4,206 1345,203.8 1347.6,204.6 1350.2,202.7 1352.7,198.8 1355.3,196.2 1357.9,192.5 1360.5,191.5 1363.1,186.5 1365.6,186.5 1365.6,192.1 1368.2,187.6 1370.8,186.4 1373.4,184.4 1376,183.9 1378.5,183.4 1381.1,186.8 1383.7,186.8 1383.7,182.1 1386.3,183.1 1388.8,180.9 1391.4,181.5 1394,182.5" fill="none" stroke="#8000ff" stroke-width="3.3" stroke-linejoin="round" />
<line x1="1394" y1="91.6" x2="1394" y2="183.5" stroke="#8000ff" stroke-width="3.8"/>
<polyline points="1383.8,93.3 1365.9,93.3 1350.3,93.3 1336.8,95.6 1325.1,100.4 1314.9,105.1 1306.1,109.8 1298.5,114.6 1291.9,119.3 1286.2,124 1281.2,128.7 1276.9,133.5 1273.2,138.2 1270,142.9 1267.2,147.6 1264.8,152.4 1262.7,157.1 1260.8,161.8 1259.3,166.6 1257.9,171.3 1256.7,176 1255.7,180.7 1254.8,185.5 1254,190.2 1253.3,194.9 1249.3,268.6 1248.7,267.5 1244.7,190.3 1244,186 1243.3,181.6 1242.5,177.2 1241.6,172.8 1240.5,168.5 1239.3,164.1 1237.9,159.7 1236.3,155.3 1234.4,151 1232.3,146.6 1229.9,142.2 1227.2,137.8 1224,133.5 1220.5,129.1 1216.3,124.7 1211.6,120.4 1206.3,116 1200.1,111.7 1193.1,107.4 1185.1,103.2 1175.9,99 1165.3,95 1153.3,91.3 1139.6,88 1139.6,109.2 1126.8,104.7 1126.8,135.9 1118.6,133.8 1118.6,150 1105,148.2 1105,190.2 1105,202 1101.1,197.9 1097.2,195 1093.3,193.4 1089.4,190.3 1085.5,186.1 1081.6,181.4 1077.7,175.6 1073.8,171.2 1069.9,167.1 1066.1,162.4 1062.2,156.8 1058.3,154.1 1054.4,147.9 1050.5,142.3 1046.6,140 1042.7,134.3 1038.8,130.7 1034.9,126.2 1031,123.7 1031,117.2 1034.2,121.1 1037.4,125.3 1040.6,126.4 1043.8,130.7 1047,134.9 1050.2,137.7 1053.4,140.4 1056.6,144.1 1059.8,147.6 1063,152.2 1066.2,156.3 1069.4,160.1 1072.6,164.9 1075.8,167 1079,170 1082.2,172.3 1085.3,175.2 1088.5,178.5 1091.7,179.9 1094.9,182 1098.1,182.1 1101.3,185.5 1104.5,187.6 1107.7,190.9 1110.9,190.6 1114.1,194.5 1117.3,199.4 1120.5,202.2 1123.7,204.9 1126.9,207.8 1130.1,209.4 1133.3,211.6 1136.5,214.1 1139.7,215.3 1142.9,215 1146.1,219.4 1149.3,223.2 1152.5,224.5 1155.7,226.2 1158.9,230.2 1162.1,233.8 1165.3,239.6 1168.5,240.7 1171.7,245.8 1174.9,252 1178.1,255.7 1181.3,254.2 1184.5,256.1 1187.7,257.5 1190.9,257.5 1194.1,258.1 1197.2,260.5 1200.4,260.2 1203.6,259.9 1206.8,262 1210,267.6 1213.2,268.6 1216.4,273.2 1219.6,276.5 1222.8,279.7 1226,283.1 1229.2,285.8 1232.4,297.7 1235.6,305.9 1238.8,315.5 1242,330.3 1245.2,351.1 1248,434.2 1248,458.8" fill="none" stroke="#8000ff" stroke-width="3.3" stroke-linejoin="round" />
<polyline points="1250.1,458.3 1250.1,417.5 1252.2,417.5 1252.2,357.6 1254.8,343 1257.4,334.3 1260,321.8 1262.6,307 1265.2,299 1267.8,292.7 1270.4,286.7 1273,280.6 1275.6,279.3 1278.2,273.8 1280.8,264.8 1283.4,265.5 1286.1,260.6 1288.7,259.8 1291.3,254.3 1293.9,253.3 1296.5,250.3 1299.1,248.6 1301.7,246.9 1304.3,245 1306.9,243.7 1309.5,243 1312.1,243.3 1314.7,243.2 1317.3,240.6 1319.9,238.9 1322.5,238.9 1322.5,249.7 1325.1,248.1 1327.7,242.8 1330.3,239.8 1332.9,237.3 1335.5,230.4 1338.1,223.5 1340.7,220.6 1343.3,220.6 1345.9,217.2 1348.5,212.7 1351.1,211.5 1353.7,211.5 1353.7,215.6 1356.3,210.2 1359,208.6 1361.6,201.3 1364.2,198.1 1366.8,200 1369.4,197.3 1372,197.3 1372,226 1374.6,216.8 1377.2,212.2 1379.8,213.1 1382.4,211.7 1385,210.8 1387.6,204.9 1390.2,205.7 1392.8,202.4 1395.4,197.7 1398,197.1 1400.6,192.6 1403.2,192.9 1405.8,189.2 1408.4,187.4 1411,184.8 1413.6,183.6 1416.2,180.1 1418.8,178 1421.4,177.2 1424,178.6 1426.6,179.2 1429.2,178.2 1431.9,178.2 1431.9,181.1" fill="none" stroke="#8000ff" stroke-width="3.3" stroke-linejoin="round" />
<line x1="1431.85" y1="91.6" x2="1431.85" y2="182.12" stroke="#8000ff" stroke-width="3.8"/>
<polyline points="1383.8,93.3 1365.9,93.3 1350.3,93.3 1336.8,93.5 1325.1,98.2 1314.9,102.8 1306.1,107.4 1298.5,112.1 1291.9,116.7 1286.2,121.4 1281.2,126 1276.9,130.6 1273.2,135.3 1270,139.9 1267.2,144.6 1264.8,149.2 1262.7,153.8 1260.8,158.5 1259.3,163.1 1257.9,167.8 1256.7,172.4 1255.7,177 1254.8,181.7 1254,186.3 1253.3,190.9 1249.3,267.2 1248.7,266.1 1244.7,186.5 1244.1,182.4 1243.4,178.4 1242.7,174.4 1241.8,170.4 1240.9,166.4 1239.8,162.4 1238.5,158.4 1237.1,154.4 1235.6,150.4 1233.8,146.4 1231.7,142.4 1229.4,138.3 1226.8,134.3 1223.8,130.3 1220.5,126.3 1216.6,122.3 1212.3,118.3 1207.4,114.4 1201.9,110.4 1195.6,106.4 1188.4,102.6 1180.3,98.7 1171.2,95 1160.8,91.5 1160.8,124.3 1155.1,121.2 1155.1,140.6 1133.7,138.2 1133.7,203.9 1133.7,217.1 1129.8,210.5 1125.8,208.3 1121.9,207.8 1117.9,207.7 1114,202.7 1110,200.2 1106.1,193.4 1102.1,190.5 1098.2,186.8 1094.2,180.9 1090.3,176.7 1086.3,172.8 1082.4,169.5 1078.4,165.4 1074.5,160.3 1070.5,157.1 1066.6,152.9 1062.6,148.2 1058.7,142.1 1054.7,139.1 1050.8,135.8 1046.8,132.8 1042.9,128.9 1038.9,124.4 1035,121.2 1031,117.6 1031,112.1 1034.2,115.7 1037.4,118.2 1040.6,121.2 1043.8,122.9 1047,126.2 1050.2,129.6 1053.4,130.8 1056.6,136.1 1059.8,138.9 1063,141.7 1066.2,144.5 1069.4,148.5 1072.6,152.2 1075.8,157.4 1079,160.7 1082.2,162.5 1085.3,165.4 1088.5,166.2 1091.7,169.1 1094.9,169.6 1098.1,170.5 1101.3,170.6 1104.5,175.7 1107.7,179.8 1110.9,184.5 1114.1,186.6 1117.3,186.6 1120.5,187.7 1123.7,190 1126.9,190.5 1130.1,190.7 1133.3,191.8 1136.5,194.3 1139.7,194.6 1142.9,200.3 1146.1,198.7 1149.3,198.8 1152.5,198.5 1155.7,199.6 1158.9,201.9 1162.1,205.8 1165.3,209.1 1168.5,210.5 1171.7,214.7 1174.9,220.5 1178.1,224.1 1181.3,228.2 1184.5,233.3 1187.7,237.1 1190.9,238.8 1194.1,239.5 1197.2,242.5 1200.4,243 1203.6,245.6 1206.8,250.2 1210,250.8 1213.2,256.3 1216.4,262.7 1219.6,267.3 1222.8,273.4 1226,276.9 1229.2,280.7 1232.4,285.9 1235.6,291.9 1238.8,302.7 1242,315.1 1245.2,341.3 1246.9,429 1246.9,447.9" fill="none" stroke="#8000ff" stroke-width="3.3" stroke-linejoin="round" />
<polyline points="1249.8,467 1249.8,444.5 1252.2,399 1254.8,374 1257.4,358.9 1259.9,344.4 1262.5,336.5 1265.1,336.5 1265.1,362.9 1267.7,358.3 1270.3,354.4 1272.9,351.3 1275.5,340 1278,338.4 1280.6,326 1283.2,320.5 1285.8,319.3 1288.4,318.9 1291,317.9 1293.6,310.6 1296.1,308.1 1298.7,303.2 1301.3,295.8 1303.9,283.7 1306.5,276.8 1309.1,275.6 1311.7,272.2 1314.3,272.2 1316.8,269.2 1319.4,268.1 1322,261.7 1324.6,261.7 1324.6,253.4 1327.2,250.1 1329.8,247.7 1332.4,247.7 1332.4,267.7 1334.9,262.8 1337.5,258.6 1340.1,255.9 1342.7,248.7 1345.3,248.7 1345.3,267.2 1347.9,265.4 1350.5,258.6 1353,257.2 1355.6,254 1358.2,252.9 1360.8,248.2 1363.4,242.8 1366,239.4 1368.6,239.4 1371.1,232.3 1373.7,231.3 1376.3,227.8 1378.9,221.3 1381.5,219.8 1384.1,219.8 1384.1,224.9 1386.7,222.5 1389.2,219.8 1391.8,218.9 1394.4,214 1397,210.5 1399.6,206.3" fill="none" stroke="#0000ff" stroke-width="3.3" stroke-linejoin="round" />
<line x1="1399.59" y1="91.6" x2="1399.59" y2="207.34" stroke="#0000ff" stroke-width="3.8"/>
<polyline points="1383.8,93.3 1365.9,93.3 1350.3,93.3 1336.8,96.4 1325.1,101.2 1314.9,105.9 1306.1,110.7 1298.5,115.4 1291.9,120.2 1286.2,125 1281.2,129.7 1276.9,134.5 1273.2,139.2 1270,144 1267.2,148.8 1264.8,153.5 1262.7,158.3 1260.8,163 1259.3,167.8 1257.9,172.6 1256.7,177.3 1255.7,182.1 1254.8,186.8 1254,191.6 1253.3,196.4 1249.3,269.2 1248.7,268 1244.7,191.8 1244.1,187.6 1243.4,183.5 1242.6,179.4 1241.8,175.2 1240.8,171.1 1239.7,166.9 1238.5,162.8 1237.1,158.7 1235.5,154.5 1233.6,150.4 1231.6,146.3 1229.2,142.1 1226.6,138 1223.6,133.9 1220.1,129.7 1216.2,125.6 1211.8,121.5 1206.8,117.4 1201.2,113.3 1194.7,109.2 1187.4,105.2 1179.2,101.2 1169.8,97.4 1159.1,93.7 1159.1,122.7 1153.9,122.6 1153.9,216.9 1153.9,228.7 1149.9,222.1 1145.9,222.5 1142,222.9 1138,219.3 1134.1,218 1130.1,215.3 1126.1,212.5 1122.2,210.1 1118.2,205.6 1114.2,202.8 1110.3,197.1 1106.3,192 1102.3,187.3 1098.4,180.5 1094.4,176.5 1090.5,173.4 1086.5,172.1 1082.5,169.2 1078.6,163 1074.6,158.5 1070.6,153.6 1066.7,148.9 1062.7,144.8 1058.7,142 1054.8,138.1 1050.8,133.5 1046.9,130.1 1042.9,126 1038.9,121.3 1035,118.6 1031,113.8 1031,112.6 1034.2,114.1 1037.4,117.3 1040.6,120.3 1043.8,124.1 1047,127.1 1050.2,131.5 1053.4,133.3 1056.6,135.9 1059.8,138.5 1063,141.4 1066.2,145.1 1069.4,149.9 1072.6,153.8 1075.8,158.3 1079,161.3 1082.2,163.1 1085.3,167.4 1088.5,170.8 1091.7,173.8 1094.9,178.4 1098.1,181.2 1101.3,184 1104.5,186.8 1107.7,187.7 1110.9,191.7 1114.1,194.6 1117.3,197.3 1120.5,199.8 1123.7,203.4 1126.9,206.3 1130.1,204.4 1133.3,203.7 1136.5,206.1 1139.7,207 1142.9,209 1146.1,209.1 1149.3,210.5 1152.5,210.3 1155.7,209.1 1158.9,210.8 1162.1,216.3 1165.3,219.9 1168.5,220.5 1171.7,224.9 1174.9,226.3 1178.1,228.4 1181.3,230.1 1184.5,233 1187.7,234 1190.9,236.2 1194.1,239.8 1197.2,243 1200.4,244.9 1203.6,247.3 1206.8,253 1210,254.3 1213.2,259.9 1216.4,263.5 1219.6,266.2 1222.8,268 1226,270.7 1229.2,272.1 1232.4,278.2 1235.6,292.1 1238.8,306.7 1242,317.9 1245.2,337.7 1247.7,424.2 1247.7,449.1" fill="none" stroke="#0000ff" stroke-width="3.3" stroke-linejoin="round" />
<polyline points="1250,458.1 1250,445.5 1252.2,402.3 1254.8,381.7 1257.4,372 1260,359 1262.6,348.1 1265.2,348.1 1265.2,314.3 1267.7,315.5 1270.3,311.1 1272.9,312.4 1275.5,305.7 1278.1,305.7 1278.1,319.3 1280.7,316.1 1283.3,316.1 1283.3,320.8 1285.9,317.4 1288.5,314.3 1291.1,306.7 1293.7,300.3 1296.3,293.8 1298.9,290.3 1301.4,287 1304,277.2 1306.6,274.1 1309.2,272.2 1311.8,269.1 1314.4,269.1 1317,267.9 1319.6,266.8 1322.2,266.8 1322.2,272.9 1324.8,266.1 1327.4,264.3 1330,264.3 1330,268.9 1332.6,266.3 1335.1,262.3 1337.7,260.1 1340.3,254.9 1342.9,250.4 1345.5,245.4 1348.1,244.5 1350.7,240.3 1353.3,238.3 1355.9,235.3 1358.5,231.7 1361.1,227.4 1363.7,228.2 1366.3,226.1 1368.8,222.6 1371.4,218.7 1374,218 1376.6,214.9" fill="none" stroke="#000080" stroke-width="3.3" stroke-linejoin="round" />
<line x1="1376.62" y1="91.6" x2="1376.62" y2="215.89" stroke="#000080" stroke-width="3.8"/>
<polyline points="1383.8,93.3 1365.9,93.3 1350.3,94.4 1336.8,99.3 1325.1,104.2 1314.9,109.1 1306.1,114 1298.5,118.9 1291.9,123.8 1286.2,128.7 1281.2,133.5 1276.9,138.4 1273.2,143.3 1270,148.2 1267.2,153.1 1264.8,158 1262.7,162.9 1260.8,167.8 1259.3,172.7 1257.9,177.5 1256.7,182.4 1255.7,187.3 1254.8,192.2 1254,197.1 1253.3,202 1249.3,271.4 1248.7,270.1 1244.7,197.3 1244,192.5 1243.2,187.7 1242.3,182.9 1241.3,178.1 1240.1,173.3 1238.8,168.4 1237.2,163.6 1235.4,158.8 1233.3,154 1230.9,149.2 1228.1,144.4 1224.9,139.6 1221.2,134.8 1216.9,130 1211.9,125.2 1206.3,120.4 1199.7,115.7 1192.1,110.9 1183.4,106.3 1173.3,101.7 1161.7,97.3 1148.3,93.1 1132.8,89.5 1115,86.6 1115,105.5 1106.1,101.7 1106.1,127.3 1090,122.5 1090,206.8 1090,209.4 1086.1,204 1082.1,197.6 1078.2,190.3 1074.3,183.4 1070.3,176.9 1066.4,169.9 1062.5,165.9 1058.5,163.3 1054.6,157.7 1050.7,151.7 1046.7,149.1 1042.8,143.6 1038.9,140 1034.9,135.3 1031,130.7 1031,128 1034.2,131.2 1037.4,134.1 1040.6,137 1043.8,141.3 1047,145.3 1050.2,149.9 1053.4,153 1056.6,156.5 1059.8,160.8 1063,164 1066.2,168.8 1069.4,174.5 1072.6,178.6 1075.8,183.3 1079,187.3 1082.2,190.4 1085.3,195 1088.5,200.2 1091.7,202 1094.9,203.6 1098.1,206.3 1101.3,206.3 1104.5,209.3 1107.7,213.4 1110.9,215.8 1114.1,219.3 1117.3,224.1 1120.5,226.6 1123.7,232.2 1126.9,235.8 1130.1,238.1 1133.3,238.1 1136.5,241.3 1139.7,242.4 1142.9,243.5 1146.1,246.4 1149.3,250.3 1152.5,251.3 1155.7,255.8 1158.9,257.2 1162.1,259.2 1165.3,263.4 1168.5,265.5 1171.7,271.3 1174.9,268.8 1178.1,269.2 1181.3,269.7 1184.5,272.5 1187.7,274.4 1190.9,279.6 1194.1,280.7 1197.2,280.5 1200.4,281.6 1203.6,287.3 1206.8,293.9 1210,298.5 1213.2,300.7 1216.4,304.5 1219.6,312.2 1222.8,315.3 1226,324.1 1229.2,331 1232.4,333.3 1235.6,343.4 1238.8,356.1 1242,365.4 1245.2,391.8 1247.9,452.1 1247.9,464.1" fill="none" stroke="#000080" stroke-width="3.3" stroke-linejoin="round" />
<polyline points="1249.5,463.8 1249.6,451.4 1252.2,413 1254.8,388.1 1257.3,376 1259.9,365.6 1262.5,359.9 1265.1,345.6 1267.7,345.6 1267.7,364.3 1270.3,354.4 1272.8,345.3 1275.4,342.2 1278,342.2 1278,341.6 1280.6,333.5 1283.2,328 1285.7,323.6 1288.3,320.4 1290.9,318.4 1293.5,319.8 1296.1,317.7 1298.7,314.6 1301.2,308.4 1303.8,298.3 1306.4,292.9 1309,289.3 1311.6,285.5 1314.1,285.5 1314.1,274.9 1316.7,272.9 1319.3,269.1 1321.9,269.9 1324.5,267.1 1327.1,265 1329.6,262.8 1332.2,259.2 1334.8,250.8 1337.4,248.3 1340,245.8 1342.5,247.1 1345.1,244.8 1347.7,249.4 1350.3,246.8 1352.9,247 1355.5,242.4 1358,241.3 1360.6,240.6 1363.2,237.3 1365.8,236 1368.4,232.6 1371,231.1 1373.5,226 1376.1,222.1 1378.7,225.1 1381.3,223.9 1383.9,225.3 1386.4,225.2 1389,223.7 1391.6,224.5 1394.2,221 1396.8,218 1399.4,215.2 1401.9,213.5 1404.5,209.9 1407.1,208.6 1409.7,208.6 1409.7,198.8 1412.3,197.5 1414.8,200.6 1417.4,199 1420,195 1422.6,195.3 1425.2,194.8 1427.8,195.1" fill="none" stroke="#000080" stroke-width="3.3" stroke-linejoin="round" />
<line x1="1427.75" y1="91.6" x2="1427.75" y2="196.05" stroke="#000080" stroke-width="3.8"/>
<polyline points="1383.8,93.3 1365.9,93.3 1350.3,94.7 1336.8,99.6 1325.1,104.5 1314.9,109.4 1306.1,114.3 1298.5,119.2 1291.9,124.1 1286.2,129.1 1281.2,134 1276.9,138.9 1273.2,143.8 1270,148.7 1267.2,153.6 1264.8,158.5 1262.7,163.4 1260.8,168.3 1259.3,173.2 1257.9,178.1 1256.7,183 1255.7,187.9 1254.8,192.8 1254,197.7 1253.3,202.6 1249.3,271.6 1248.7,270.3 1244.7,197.9 1244,193 1243.2,188.1 1242.3,183.2 1241.2,178.3 1240,173.4 1238.6,168.5 1237,163.7 1235.1,158.8 1233,153.9 1230.5,149 1227.6,144.1 1224.2,139.2 1220.4,134.3 1215.9,129.4 1210.8,124.6 1204.8,119.7 1197.9,114.9 1189.9,110 1180.7,105.3 1170.1,100.7 1157.8,96.2 1143.5,92.1 1127.1,88.6 1108.1,86.1 1108.1,104.9 1099.4,101.2 1099.4,136 1083.9,131.6 1083.9,150 1062.6,147.7 1066,166.4 1066,170.1 1062.1,167.8 1058.2,163.1 1054.3,159.5 1050.4,154.2 1046.6,147.8 1042.7,143.1 1038.8,138.7 1034.9,134.4 1031,130.2 1031,123.7 1034.2,128 1037.4,131.1 1040.6,135.1 1043.8,137.2 1047,140.9 1050.2,143.8 1053.4,147.6 1056.6,152.2 1059.8,156.3 1063,158.9 1066.2,162.7 1069.4,166.8 1072.6,171.3 1075.8,175.9 1079,178.7 1082.2,180.3 1085.3,183.9 1088.5,187.2 1091.7,190.6 1094.9,193 1098.1,195.4 1101.3,196.6 1104.5,201.2 1107.7,204.9 1110.9,208.5 1114.1,209.3 1117.3,213.9 1120.5,215.7 1123.7,219.6 1126.9,223.6 1130.1,225.3 1133.3,226.1 1136.5,229.8 1139.7,231.4 1142.9,233.1 1146.1,236 1149.3,237.3 1152.5,238.7 1155.7,240.5 1158.9,241.9 1162.1,244.1 1165.3,246.4 1168.5,252.5 1171.7,256.7 1174.9,256 1178.1,260.3 1181.3,264.9 1184.5,272.2 1187.7,274.7 1190.9,278.8 1194.1,281.8 1197.2,286.3 1200.4,288.6 1203.6,293.9 1206.8,296.9 1210,299.5 1213.2,303.3 1216.4,304.5 1219.6,306.9 1222.8,310.7 1226,316 1229.2,316.8 1232.4,320.7 1235.6,327.7 1238.8,332.1 1242,341.8 1245.2,365.9 1247.3,441 1247.3,467.2" fill="none" stroke="#000080" stroke-width="3.3" stroke-linejoin="round" />
<polyline points="1250.4,453.8 1252.2,423.8 1254.8,398.9 1257.4,387.1 1260,387.1 1260,372.9 1262.6,371.4 1265.1,363.7 1267.7,361.3 1270.3,357.3 1272.9,357.3 1272.9,351.9 1275.5,345.6 1278.1,341.4 1280.7,332.9 1283.3,329.7 1285.9,330 1288.5,323.1 1291.1,320 1293.7,318.4 1296.2,317.5 1298.8,311.2 1301.4,305 1304,299.1 1306.6,293.7 1309.2,292 1311.8,292 1311.8,291.6 1314.4,288.4 1317,283.2 1319.6,282.5 1322.2,281.5 1324.8,277.5 1327.3,274.8 1329.9,271 1332.5,268.3 1335.1,269.5 1337.7,266.3 1340.3,264.2 1342.9,259.5 1345.5,255.8 1348.1,258.3 1350.7,256.9 1353.3,258.1 1355.9,258.5 1358.4,254.4 1361,249.5 1363.6,245.3 1366.2,243.9 1368.8,240.9 1371.4,240.4 1374,240.6 1376.6,240 1379.2,240 1379.2,246.1 1381.8,244.3 1384.4,240.7 1387,237.5 1389.5,230.6 1392.1,231.5 1394.7,231.5 1397.3,227.4 1399.9,226 1402.5,223.7 1405.1,223.7 1405.1,212.7 1407.7,212.4 1410.3,211 1412.9,211 1412.9,218.4 1415.5,214 1418.1,211 1420.6,207.1 1423.2,202.9 1425.8,201.8 1428.4,200.7 1431,199.7 1433.6,196.6 1436.2,192.8 1438.8,192.5 1441.4,191.8 1444,188.4 1446.6,186.8 1449.2,185.5 1451.8,184.6 1454.3,183.6 1456.9,182.1 1459.5,181.3 1462.1,180.3 1464.7,174.5 1467.3,169.6" fill="none" stroke="#ff8000" stroke-width="3.3" stroke-linejoin="round" />
<line x1="1467.3" y1="91.6" x2="1467.3" y2="170.55" stroke="#ff8000" stroke-width="3.8"/>
<polyline points="1383.8,93.3 1365.9,93.3 1350.3,93.3 1336.8,93.3 1325.1,93.3 1314.9,94.3 1306.1,98.7 1298.5,103 1291.9,107.4 1286.2,111.7 1281.2,116.1 1276.9,120.4 1273.2,124.8 1270,129.1 1267.2,133.5 1264.8,137.8 1262.7,142.2 1260.8,146.5 1259.3,150.9 1257.9,155.2 1256.7,159.6 1255.7,163.9 1254.8,168.3 1254,172.6 1253.3,177 1249.3,262.3 1248.7,262 1244.7,173.5 1244.1,169.7 1243.4,166 1242.7,162.3 1241.9,158.6 1241,154.8 1239.9,151.1 1238.7,147.4 1237.4,143.7 1235.8,140 1234.1,136.2 1232.2,132.5 1229.9,128.8 1227.4,125.1 1224.6,121.4 1221.4,117.6 1217.8,113.9 1213.7,110.2 1209.1,106.5 1203.9,102.8 1198,99.2 1191.3,95.6 1183.8,92.1 1175.2,88.7 1165.5,85.5 1165.5,114.5 1153,109.3 1153,140.5 1137,139.5 1137,150 1128.9,147.1 1128.9,218.1 1128.9,223.3 1124.8,218.9 1120.8,216.4 1116.7,212.3 1112.6,206.7 1108.5,201.4 1104.4,195.9 1100.4,192.2 1096.3,191.1 1092.2,186.6 1088.1,183.4 1084,179.7 1080,175.6 1075.9,169.6 1071.8,164.8 1067.7,158.6 1063.6,154.6 1059.6,148.8 1055.5,144.9 1051.4,139.4 1047.3,134 1043.2,131.3 1039.2,128.7 1035.1,125.2 1031,121.6 1031,117.5 1034.2,119.4 1037.4,123.5 1040.6,127.3 1043.8,130.9 1047,133.6 1050.2,136.4 1053.4,138.8 1056.6,143.8 1059.8,145.8 1063,151.2 1066.2,154.6 1069.4,158.7 1072.6,162.2 1075.8,165 1079,168.9 1082.2,172.3 1085.3,176.2 1088.5,178.9 1091.7,181 1094.9,182.5 1098.1,182.6 1101.3,184.7 1104.5,186.2 1107.7,189 1110.9,192.3 1114.1,197 1117.3,201.4 1120.5,204.2 1123.7,207.9 1126.9,210.1 1130.1,211.2 1133.3,212.2 1136.5,215.5 1139.7,219.8 1142.9,221.8 1146.1,223.1 1149.3,223.9 1152.5,224.6 1155.7,226.4 1158.9,228.9 1162.1,233.9 1165.3,236 1168.5,236.9 1171.7,240.3 1174.9,241.3 1178.1,239.6 1181.3,243.2 1184.5,250.9 1187.7,252.3 1190.9,260.1 1194.1,260.4 1197.2,263.7 1200.4,267 1203.6,269.3 1206.8,272.9 1210,274.9 1213.2,279.1 1216.4,286.2 1219.6,287.4 1222.8,295.6 1226,301.8 1229.2,307.3 1232.4,314.3 1235.6,320.9 1238.8,328.8 1242,338.7 1245.2,365.2 1247.7,442.5 1247.7,458.5" fill="none" stroke="#ff8000" stroke-width="3.3" stroke-linejoin="round" />
<polyline points="1250.4,441.8 1252.2,419.2 1254.8,393.7 1257.4,386.4 1260,379.7 1262.7,369.3 1265.3,363.2 1267.9,352.9 1270.5,345.1 1273.1,342.1 1275.7,339.3 1278.3,336.9 1280.9,329.5 1283.5,325.5 1286.2,323.1 1288.8,320.7 1291.4,317.3 1294,313.4 1296.6,305.5 1299.2,300.4 1301.8,292.1 1304.4,282.8 1307,282.3 1309.6,278.4 1312.3,279.9 1314.9,280.9 1317.5,276.6 1320.1,273.3 1322.7,268 1325.3,265.7 1327.9,262.2 1330.5,259 1333.1,255.2 1335.8,255.5 1338.4,256.8 1341,255.8 1343.6,255.8 1343.6,231.3 1346.2,228.6 1348.8,229.5 1351.4,229.6 1354,228.4 1356.6,227.9 1359.3,226.3 1361.9,228.3 1364.5,224.3 1367.1,227.3 1369.7,228 1372.3,230.3 1374.9,226.6 1377.5,229.4 1380.1,230.6 1382.8,231.2 1385.4,232.5 1388,227.9 1390.6,226.4 1393.2,227.3 1395.8,222.1 1398.4,218.7 1401,218.4 1403.6,214.6 1406.2,209.9 1408.9,205.4 1411.5,204.4 1414.1,203.4 1416.7,201.3 1419.3,198.3 1421.9,198.3 1421.9,210 1424.5,207.1 1427.1,203.6 1429.7,202.5 1432.4,199.8 1435,198 1437.6,196.1 1440.2,192.7 1442.8,190.5" fill="none" stroke="#ff00ff" stroke-width="3.3" stroke-linejoin="round" />
<line x1="1442.8" y1="91.6" x2="1442.8" y2="191.53" stroke="#ff00ff" stroke-width="3.8"/>
<polyline points="1383.8,93.3 1365.9,93.3 1350.3,93.3 1336.8,93.3 1325.1,96 1314.9,100.6 1306.1,105.1 1298.5,109.7 1291.9,114.2 1286.2,118.8 1281.2,123.3 1276.9,127.9 1273.2,132.5 1270,137 1267.2,141.6 1264.8,146.1 1262.7,150.7 1260.8,155.2 1259.3,159.8 1257.9,164.4 1256.7,168.9 1255.7,173.5 1254.8,178 1254,182.6 1253.3,187.1 1249.3,265.8 1248.7,264.8 1244.7,182.7 1244.1,178.8 1243.4,174.8 1242.6,170.8 1241.8,166.8 1240.8,162.9 1239.7,158.9 1238.5,154.9 1237,150.9 1235.4,147 1233.6,143 1231.5,139 1229.2,135 1226.5,131.1 1223.4,127.1 1220,123.1 1216.1,119.2 1211.6,115.2 1206.6,111.3 1200.9,107.4 1194.4,103.5 1187,99.6 1178.7,95.9 1169.2,92.3 1158.4,88.9 1158.4,122.2 1150.4,117.5 1150.4,133.2 1142.2,131.5 1142.2,202.9 1142.2,211.4 1138.3,210.3 1134.3,204.1 1130.3,203.5 1126.3,203.2 1122.4,198.1 1118.4,192.3 1114.4,188.7 1110.5,185 1106.5,180.6 1102.5,181.1 1098.5,175.5 1094.6,172.1 1090.6,168.7 1086.6,167 1082.6,165.2 1078.7,160.1 1074.7,157.1 1070.7,151.2 1066.8,146.8 1062.8,143.1 1058.8,138.5 1054.8,134.1 1050.9,130.4 1046.9,126.9 1042.9,122.8 1038.9,118.3 1035,114.9 1031,111.8 1031,109 1034.2,112 1037.4,114.6 1040.6,117.2 1043.8,119.7 1047,123.2 1050.2,125 1053.4,127.9 1056.6,131.1 1059.8,135.3 1063,138.9 1066.2,142.3 1069.4,145.5 1072.6,147.5 1075.8,150.4 1079,155.4 1082.2,159.6 1085.3,160.5 1088.5,161.9 1091.7,166.4 1094.9,169.4 1098.1,171.6 1101.3,174.3 1104.5,176.6 1107.7,179.3 1110.9,181.8 1114.1,184.5 1117.3,187.1 1120.5,187.3 1123.7,190.6 1126.9,193.6 1130.1,190.6 1133.3,192.1 1136.5,192.9 1139.7,194.1 1142.9,195.2 1146.1,196.8 1149.3,201.1 1152.5,203.2 1155.7,204 1158.9,204.6 1162.1,207 1165.3,209.7 1168.5,210.7 1171.7,214.1 1174.9,217 1178.1,219 1181.3,221.9 1184.5,224.7 1187.7,227.6 1190.9,230.3 1194.1,232.2 1197.2,234.9 1200.4,236.6 1203.6,238.2 1206.8,239.9 1210,241.8 1213.2,247.5 1216.4,254.6 1219.6,261 1222.8,265.7 1226,268.8 1229.2,273.6 1232.4,282.4 1235.6,289.3 1238.8,299.2 1242,310.3 1245.2,327.1 1248,421 1248,452.8" fill="none" stroke="#ff00ff" stroke-width="3.3" stroke-linejoin="round" />
<polyline points="1250.3,455.3 1252.2,420.5 1254.8,394.5 1257.4,385.8 1260,374 1262.6,367.5 1265.2,360.2 1267.8,351.7 1270.4,342.6 1273,337.1 1275.6,333.8 1278.2,326.3 1280.8,322.5 1283.4,317.6 1286,317.8 1288.6,314.3 1291.2,306.6 1293.8,299.1 1296.4,297.6 1299.1,295 1301.7,291 1304.3,284.6 1306.9,282.9 1309.5,282 1312.1,275.8 1314.7,275.8 1314.7,258.8 1317.3,260.3 1319.9,261.3 1322.5,261 1325.1,260.1 1327.7,256.7 1330.3,257.5 1332.9,258.4 1335.5,255.5 1338.1,253.6 1340.7,248.3 1343.3,243.6 1345.9,240.1 1348.5,243.9 1351.1,242.6 1353.7,241.2 1356.3,244.5 1358.9,240.8 1361.5,235.3 1364.1,231.7 1366.7,234.1 1369.3,232.1 1371.9,231.9 1374.5,231.9 1374.5,209.6 1377.1,209.6 1377.1,185.7 1379.7,185.7 1379.7,191.3 1382.3,196.1 1384.9,199.3 1387.5,202.4 1390.1,202 1392.8,202 1392.8,212.8 1395.4,211.9 1398,211.7 1400.6,213.7 1403.2,211.8 1405.8,210 1408.4,211.2 1411,205.5 1413.6,205.4 1416.2,201.5 1418.8,200.7 1421.4,200.9 1424,199 1426.6,197.4 1429.2,196.6 1431.8,194.1 1434.4,192.1 1437,192.4 1439.6,190.8" fill="none" stroke="#800040" stroke-width="3.3" stroke-linejoin="round" />
<line x1="1439.6" y1="91.6" x2="1439.6" y2="191.77" stroke="#800040" stroke-width="3.8"/>
<polyline points="1383.8,93.3 1365.9,93.3 1350.3,93.3 1336.8,94.3 1325.1,99 1314.9,103.7 1306.1,108.4 1298.5,113 1291.9,117.7 1286.2,122.4 1281.2,127.1 1276.9,131.7 1273.2,136.4 1270,141.1 1267.2,145.7 1264.8,150.4 1262.7,155.1 1260.8,159.8 1259.3,164.4 1257.9,169.1 1256.7,173.8 1255.7,178.5 1254.8,183.1 1254,187.8 1253.3,192.5 1249.3,267.7 1248.7,266.6 1244.7,188 1244.1,183.9 1243.4,179.8 1242.6,175.7 1241.8,171.6 1240.8,167.5 1239.7,163.4 1238.4,159.3 1237,155.2 1235.3,151.1 1233.5,147 1231.4,143 1229,138.9 1226.3,134.8 1223.2,130.7 1219.7,126.6 1215.8,122.5 1211.3,118.5 1206.2,114.4 1200.4,110.3 1193.8,106.3 1186.3,102.4 1177.8,98.5 1168.1,94.7 1157.2,91.2 1157.2,113.6 1135.7,108.8 1135.7,147.9 1119.2,144.1 1119.2,150 1103.4,147 1103.4,210.6 1103.4,216.5 1099.4,213 1095.4,212.1 1091.4,208.4 1087.3,207 1083.3,198.9 1079.3,194 1075.3,185.6 1071.2,178.4 1067.2,175.1 1063.2,167.8 1059.2,162.3 1055.1,154.4 1051.1,148.7 1047.1,143.4 1043.1,138 1039,134.8 1035,130.8 1031,126.6 1031,126 1034.2,129.3 1037.4,132.6 1040.6,137 1043.8,141.3 1047,146.1 1050.2,150.8 1053.4,155.1 1056.6,159.4 1059.8,162.9 1063,164.8 1066.2,169.9 1069.4,175.3 1072.6,180.2 1075.8,185.1 1079,190.3 1082.2,195.6 1085.3,200.9 1088.5,202.5 1091.7,204.9 1094.9,207.3 1098.1,212 1101.3,214 1104.5,216 1107.7,219.6 1110.9,222.4 1114.1,224.8 1117.3,225.3 1120.5,230 1123.7,234.1 1126.9,236.7 1130.1,238.4 1133.3,241.4 1136.5,246.3 1139.7,247.6 1142.9,249.7 1146.1,251.4 1149.3,254.6 1152.5,255.7 1155.7,256 1158.9,256.5 1162.1,259.4 1165.3,263 1168.5,265.2 1171.7,265.8 1174.9,265.1 1178.1,265.6 1181.3,268.2 1184.5,270.6 1187.7,274.1 1190.9,273 1194.1,278.5 1197.2,284.7 1200.4,289.4 1203.6,296.6 1206.8,302.5 1210,304.5 1213.2,308.6 1216.4,311.1 1219.6,317.2 1222.8,322.6 1226,331.2 1229.2,337.6 1232.4,343.2 1235.6,346.9 1238.8,359.9 1242,376.3 1245.2,403.9 1246.9,444.7" fill="none" stroke="#800040" stroke-width="3.3" stroke-linejoin="round" />
<polyline points="1250.7,462.2 1250.7,425.2 1252.2,365.3 1254.8,345.7 1257.4,337.9 1260,326.4 1262.6,320.4 1265.2,314.2 1267.8,306.3 1270.4,303.4 1273,298.6 1275.6,296.1 1278.2,286.9 1280.8,283.6 1283.4,284.5 1286,279.9 1288.6,279.9 1288.6,283.8 1291.2,281.2 1293.8,276.9 1296.4,275.4 1299,268.4 1301.6,266 1304.2,260.9 1306.8,256.8 1309.4,255.7 1312,254.8 1314.6,250.8 1317.2,248.6 1319.8,247 1322.4,242.2 1325,239.9 1327.6,237.6 1330.2,232.4 1332.8,231.2 1335.4,227.6 1338,221.6 1340.6,222.7 1343.2,221.1 1345.8,218.8 1348.4,217.6 1351,217.6 1351,200.6 1353.6,201.8 1356.2,198 1358.8,193.7 1361.4,193.4 1364,191.3 1366.6,191.2 1369.2,189.8 1371.8,195.5 1374.4,189.6 1377,187.6 1379.6,184.2 1382.2,186 1384.8,186.9 1387.4,186 1390,189.4 1392.6,189.4 1392.6,182.9 1395.2,184.1 1397.8,184.8 1400.4,184 1403,184.5 1405.6,185.8 1408.2,183.7 1410.8,184.4 1413.4,185.4 1416,183.7" fill="none" stroke="#800080" stroke-width="3.3" stroke-linejoin="round" />
<line x1="1416" y1="91.6" x2="1416" y2="184.7" stroke="#800080" stroke-width="3.8"/>
<polyline points="1383.8,93.3 1365.9,93.3 1350.3,93.3 1336.8,93.3 1325.1,97.6 1314.9,102.2 1306.1,106.8 1298.5,111.5 1291.9,116.1 1286.2,120.7 1281.2,125.3 1276.9,129.9 1273.2,134.5 1270,139.2 1267.2,143.8 1264.8,148.4 1262.7,153 1260.8,157.6 1259.3,162.3 1257.9,166.9 1256.7,171.5 1255.7,176.1 1254.8,180.7 1254,185.3 1253.3,190 1249.3,266.8 1248.7,265.8 1244.7,185.5 1244,181.3 1243.3,177.1 1242.5,172.9 1241.6,168.7 1240.6,164.5 1239.4,160.3 1238,156.1 1236.5,151.9 1234.7,147.7 1232.7,143.5 1230.4,139.3 1227.8,135 1224.8,130.8 1221.4,126.6 1217.4,122.5 1213,118.3 1207.9,114.1 1202.1,109.9 1195.5,105.8 1187.9,101.7 1179.3,97.7 1169.5,93.9 1158.2,90.3 1145.4,87.1 1145.4,105.7 1130.2,104.6 1130.2,116.9 1111.8,111.8 1111.8,187.1 1111.8,196.3 1107.8,190.8 1103.7,189.7 1099.7,186.7 1095.7,183.8 1091.6,180.7 1087.6,176.8 1083.5,173.5 1079.5,171.2 1075.5,166.3 1071.4,163.2 1067.4,157.5 1063.3,153.7 1059.3,150.4 1055.2,146.8 1051.2,142.7 1047.2,139.2 1043.1,134.5 1039.1,129.7 1035,124.9 1031,120.4 1031,112.3 1034.2,114.6 1037.4,118.2 1040.6,121.8 1043.8,124.2 1047,127.1 1050.2,131.1 1053.4,134.3 1056.6,138.6 1059.8,142.6 1063,147.8 1066.2,152 1069.4,155.8 1072.6,158.7 1075.8,159.7 1079,161.5 1082.2,164.3 1085.3,167.7 1088.5,170.2 1091.7,172.7 1094.9,175.7 1098.1,178.7 1101.3,179.6 1104.5,182.6 1107.7,185.9 1110.9,189.3 1114.1,191.5 1117.3,193.9 1120.5,198.1 1123.7,200.6 1126.9,201.6 1130.1,203.7 1133.3,203.5 1136.5,206.9 1139.7,206.5 1142.9,206.9 1146.1,207.1 1149.3,205 1152.5,206.1 1155.7,205.9 1158.9,206.1 1162.1,211.5 1165.3,218.3 1168.5,219.5 1171.7,220.8 1174.9,223.3 1178.1,228.3 1181.3,228.7 1184.5,231.9 1187.7,235.2 1190.9,237 1194.1,236.9 1197.2,239 1200.4,243.1 1203.6,244.7 1206.8,247.6 1210,250.3 1213.2,257 1216.4,259.8 1219.6,265.5 1222.8,272.6 1226,278.1 1229.2,284.5 1232.4,290.9 1235.6,295.8 1238.8,302.3 1242,316.1 1245.2,340.6 1248,426 1248,452.9" fill="none" stroke="#800080" stroke-width="3.3" stroke-linejoin="round" />
<polyline points="1249.9,459.5 1249.9,421.7 1252.2,356.6 1254.8,335.7 1257.3,322.2 1259.9,308.9 1262.5,307.6 1265.1,298.7 1267.6,297.9 1270.2,295 1272.8,288 1275.4,286 1278,280.6 1280.5,281.5 1283.1,281.4 1285.7,272.6 1288.3,267.7 1290.9,268 1293.4,266.1 1296,266.1 1296,272.4 1298.6,274.2 1301.2,268.5 1303.8,264.3 1306.3,262.7 1308.9,258.7 1311.5,257.8 1314.1,254.9 1316.6,256.8 1319.2,253.6 1321.8,251.4 1324.4,249.3 1327,241.5 1329.5,241.5 1329.5,238.5 1332.1,235 1334.7,234.6 1337.3,234 1339.8,231.8 1342.4,226.9 1345,224.7 1347.6,224.1 1350.2,217.8 1352.7,217.8 1352.7,208 1355.3,206.7 1357.9,207.8 1360.5,204.4 1363.1,201.9 1365.6,196.4 1368.2,196.4 1368.2,185.5 1370.8,184.9 1373.4,184.9 1373.4,184.4 1376,187.9 1378.5,190.4 1381.1,188.3 1383.7,188.3 1383.7,182.1 1386.3,183 1388.8,183 1391.4,182.8 1394,183.2" fill="none" stroke="#808000" stroke-width="3.3" stroke-linejoin="round" />
<line x1="1394" y1="91.6" x2="1394" y2="184.23" stroke="#808000" stroke-width="3.8"/>
<polyline points="1383.8,93.3 1365.9,93.3 1350.3,93.3 1336.8,93.3 1325.1,96.5 1314.9,101.1 1306.1,105.7 1298.5,110.2 1291.9,114.8 1286.2,119.4 1281.2,124 1276.9,128.5 1273.2,133.1 1270,137.7 1267.2,142.3 1264.8,146.8 1262.7,151.4 1260.8,156 1259.3,160.6 1257.9,165.1 1256.7,169.7 1255.7,174.3 1254.8,178.9 1254,183.5 1253.3,188 1249.3,266.1 1248.7,265.1 1244.7,183.6 1244,179.3 1243.3,175.1 1242.5,170.8 1241.5,166.5 1240.4,162.2 1239.2,158 1237.8,153.7 1236.1,149.4 1234.3,145.2 1232.2,140.9 1229.7,136.6 1226.9,132.3 1223.7,128.1 1220,123.8 1215.8,119.5 1211,115.3 1205.5,111.1 1199.2,106.8 1192,102.7 1183.7,98.6 1174.3,94.6 1163.4,90.8 1151,87.4 1136.8,84.6 1136.8,96.4 1129.3,94.4 1129.3,116.1 1113.7,114.4 1113.7,209.9 1113.7,213.7 1109.8,210 1105.9,206.8 1101.9,203.6 1098,202.4 1094,197.5 1090.1,194.4 1086.2,190.8 1082.2,183.7 1078.3,178.1 1074.3,173.3 1070.4,168.8 1066.5,163.3 1062.5,160.3 1058.6,155.5 1054.6,151.5 1050.7,146.2 1046.8,141.9 1042.8,138.7 1038.9,135.2 1034.9,130.3 1031,126.2 1031,119.9 1034.2,123.6 1037.4,127.2 1040.6,129.7 1043.8,132.2 1047,136.1 1050.2,140.6 1053.4,144.6 1056.6,149 1059.8,154 1063,157.2 1066.2,160 1069.4,162.8 1072.6,166.9 1075.8,172.5 1079,174.2 1082.2,177.3 1085.3,180.7 1088.5,180.5 1091.7,182.8 1094.9,185.2 1098.1,186.8 1101.3,188 1104.5,191.6 1107.7,193.8 1110.9,197.4 1114.1,199.1 1117.3,202.5 1120.5,206.7 1123.7,208.7 1126.9,213.4 1130.1,216.9 1133.3,219.8 1136.5,220.6 1139.7,220.1 1142.9,223.5 1146.1,225.6 1149.3,228.1 1152.5,226.9 1155.7,229.1 1158.9,231.6 1162.1,236.9 1165.3,236 1168.5,237.2 1171.7,239.1 1174.9,244.6 1178.1,250 1181.3,250.6 1184.5,252.4 1187.7,254.1 1190.9,255.7 1194.1,259.3 1197.2,261 1200.4,263.4 1203.6,265.3 1206.8,267.9 1210,267.7 1213.2,273.5 1216.4,279.3 1219.6,282.9 1222.8,289.4 1226,293.8 1229.2,299.8 1232.4,302.2 1235.6,312.7 1238.8,321.1 1242,332.9 1245.2,356.8 1247.8,437.7 1247.8,462.7" fill="none" stroke="#808000" stroke-width="3.3" stroke-linejoin="round" />
<polyline points="1250.1,465.5 1250.1,464.5 1252.2,436.8 1254.8,407.1 1257.4,389.8 1260,371.3 1262.6,368.6 1265.2,364.3 1267.8,359.4 1270.4,353.7 1273,344.4 1275.6,342.3 1278.1,340.6 1280.7,333.6 1283.3,332.5 1285.9,329.9 1288.5,320.9 1291.1,316.5 1293.7,312.4 1296.3,312.9 1298.9,309.4 1301.5,306.3 1304.1,299.2 1306.7,294.1 1309.3,291.7 1311.9,288.6 1314.5,287.7 1317.1,286.4 1319.7,284.9 1322.3,280.8 1324.9,278.1 1327.5,277 1330,274.4 1332.6,272.4 1335.2,273 1337.8,271.5 1340.4,268.4 1343,263 1345.6,263 1348.2,261.8 1350.8,261.3 1353.4,261.3 1353.4,258.4 1356,254.7 1358.6,248.4 1361.2,246.1 1363.8,252.6 1366.4,254.4 1369,253.3 1371.6,250.9 1374.2,249.7 1376.8,247.9 1379.4,246 1382,242.6 1384.5,237.9 1387.1,236.2 1389.7,233.4 1392.3,233.4 1392.3,222.2 1394.9,220 1397.5,214.8 1400.1,211.9 1402.7,210.2 1405.3,210.3 1407.9,210.2 1410.5,208.7 1413.1,208.4 1415.7,208 1418.3,206.1 1420.9,204.1 1423.5,200.2 1426.1,198.4 1428.7,196.3 1431.3,195 1433.9,193.2 1436.4,192.3 1439,191.5 1441.6,189 1444.2,186.6 1446.8,185.6 1449.4,183.3 1452,183.9 1454.6,181.5 1457.2,181.5 1459.8,180.3 1462.4,178.8" fill="none" stroke="#ff0080" stroke-width="3.3" stroke-linejoin="round" />
<line x1="1462.4" y1="91.6" x2="1462.4" y2="179.8" stroke="#ff0080" stroke-width="3.8"/>
<polyline points="1383.8,93.3 1365.9,93.3 1350.3,93.3 1336.8,93.3 1325.1,94.5 1314.9,99 1306.1,103.5 1298.5,108 1291.9,112.5 1286.2,117 1281.2,121.5 1276.9,126 1273.2,130.6 1270,135.1 1267.2,139.6 1264.8,144.1 1262.7,148.6 1260.8,153.1 1259.3,157.6 1257.9,162.1 1256.7,166.6 1255.7,171.1 1254.8,175.6 1254,180.1 1253.3,184.6 1249.3,264.9 1248.7,263.9 1244.7,180.2 1244.1,176.5 1243.5,172.7 1242.8,169 1242,165.3 1241.1,161.5 1240,157.8 1238.9,154 1237.6,150.3 1236.1,146.6 1234.5,142.8 1232.6,139.1 1230.5,135.3 1228.2,131.6 1225.5,127.9 1222.5,124.1 1219.1,120.4 1215.3,116.7 1211,112.9 1206.1,109.2 1200.6,105.5 1194.4,101.9 1187.4,98.3 1179.6,94.8 1170.7,91.4 1170.7,125.7 1151.4,125.4 1151.4,139 1141.1,134 1141.1,268.1 1141.1,264.6 1137.2,262.7 1133.2,258.3 1129.3,253.8 1125.4,249.4 1121.4,245 1117.5,240.3 1113.6,236.2 1109.6,231.7 1105.7,226.1 1101.8,220.1 1097.8,216.3 1093.9,211.7 1090,211.2 1086,208.6 1082.1,200.5 1078.2,193.3 1074.3,186.7 1070.3,182 1066.4,177.1 1062.5,172.6 1058.5,168 1054.6,162.9 1050.7,158.3 1046.7,151.9 1042.8,148.1 1038.9,142.7 1034.9,138 1031,133.2 1031,134.7 1034.2,138.5 1037.4,142.2 1040.6,146 1043.8,149.2 1047,153.3 1050.2,157.1 1053.4,161.4 1056.6,165.9 1059.8,168.9 1063,173.8 1066.2,177.2 1069.4,180.5 1072.6,184.6 1075.8,187.5 1079,192.5 1082.2,196.7 1085.3,202.6 1088.5,208.4 1091.7,213.6 1094.9,213.8 1098.1,212.3 1101.3,215.6 1104.5,222.8 1107.7,227.1 1110.9,231.2 1114.1,235.6 1117.3,240.4 1120.5,244 1123.7,247.6 1126.9,251.2 1130.1,252.5 1133.3,255.6 1136.5,260.7 1139.7,264.8 1142.9,268 1146.1,268.7 1149.3,272.1 1152.5,273.4 1155.7,272.9 1158.9,272.2 1162.1,275.2 1165.3,276.1 1168.5,282.9 1171.7,286.5 1174.9,290.6 1178.1,292.8 1181.3,294 1184.5,293.3 1187.7,295.9 1190.9,297.4 1194.1,300.6 1197.2,305.2 1200.4,304.1 1203.6,308.9 1206.8,318.2 1210,321.5 1213.2,321.3 1216.4,327.7 1219.6,334.6 1222.8,345.5 1226,352.4 1229.2,358.4 1232.4,363.8 1235.6,374.1 1238.8,382.5 1242,393.6 1245.2,423.7 1246.8,453.8" fill="none" stroke="#ff0080" stroke-width="3.3" stroke-linejoin="round" />
<polyline points="1250.5,448.9 1252.2,434.7 1254.8,405.9 1257.4,391.1 1260,377.7 1262.6,368.6 1265.2,362.1 1267.8,354.7 1270.4,350.7 1273,347 1275.6,347 1275.6,346.5 1278.2,336.9 1280.8,336.9 1280.8,321.4 1283.4,319.4 1286,319.4 1286,322.2 1288.6,325.2 1291.2,321.2 1293.8,314.5 1296.4,309.9 1299,309.9 1299,305.1 1301.6,305.1 1301.6,308.9 1304.2,298.1 1306.8,291.1 1309.4,287.9 1312,285.9 1314.6,284.8 1317.2,284.1 1319.8,283.2 1322.4,282.6 1325,280.4 1327.6,276.3 1330.2,276.1 1332.8,273.4 1335.4,272.9 1338,272.9 1338,271.5 1340.6,270 1343.2,268.4 1345.8,264.8 1348.4,264.5 1351,263.8 1353.6,261.8 1356.2,260.7 1358.8,259.2 1361.4,256.9 1364,254.7 1366.6,254.7 1366.6,221.6 1369.2,220.9 1371.8,226 1374.4,227.2 1377,227.5 1379.6,226.9 1382.2,226 1384.8,228.8 1387.4,226.3 1390,225.7 1392.6,223 1395.2,220.3 1397.8,219.3 1400.4,217.5 1403,217.5 1405.6,215.6 1408.2,211.9 1410.8,210 1413.4,209.5 1416,206.8 1418.6,204.2 1421.2,201.9 1423.8,202 1426.4,200.5 1429,198.5 1431.6,196.6 1434.2,194.4 1436.8,192.8 1439.4,192.1 1442,191.1 1444.6,190.5 1447.2,188.2 1449.8,188 1452.4,186.6 1455,184.6" fill="none" stroke="#008000" stroke-width="3.3" stroke-linejoin="round" />
<line x1="1455" y1="91.6" x2="1455" y2="185.58" stroke="#008000" stroke-width="4.4"/>
<polyline points="1383.8,93.3 1365.9,94.1 1350.3,99.3 1336.8,104.4 1325.1,109.5 1314.9,114.7 1306.1,119.8 1298.5,125 1291.9,130.1 1286.2,135.2 1281.2,140.4 1276.9,145.5 1273.2,150.7 1270,155.8 1267.2,160.9 1264.8,166.1 1262.7,171.2 1260.8,176.4 1259.3,181.5 1257.9,186.6 1256.7,191.8 1255.7,196.9 1254.8,202 1254,207.2 1253.3,212.3 1249.3,275.5 1248.7,274.1 1244.7,207.4 1244,202.3 1243.2,197.1 1242.3,192 1241.2,186.9 1240,181.7 1238.6,176.6 1237,171.4 1235.1,166.3 1232.9,161.2 1230.4,156 1227.5,150.9 1224.1,145.8 1220.2,140.6 1215.7,135.5 1210.5,130.4 1204.5,125.3 1197.5,120.2 1189.5,115.1 1180.2,110 1169.4,105.1 1156.9,100.2 1142.5,95.6 1125.9,91.4 1106.6,87.8 1106.6,110.8 1098.7,109.9 1098.7,136.7 1093.4,133 1093.4,150 1080.6,145.3 1080.6,201.4 1080.6,200.9 1076.5,194.6 1072.3,187.8 1068.2,178.7 1064.1,172 1059.9,166.6 1055.8,162.7 1051.7,157 1047.5,152.2 1043.4,147 1039.3,143.5 1035.1,139.5 1031,133.3 1031,134.7 1034.2,138.5 1037.4,140.6 1040.6,144.9 1043.8,148.5 1047,152.5 1050.2,155.5 1053.4,159.6 1056.6,164.7 1059.8,169.2 1063,173.3 1066.2,178.1 1069.4,180.7 1072.6,184.7 1075.8,192 1079,196.8 1082.2,202.2 1085.3,206.9 1088.5,213 1091.7,215.1 1094.9,217 1098.1,219.1 1101.3,219.4 1104.5,223.4 1107.7,229.3 1110.9,233.2 1114.1,236.6 1117.3,239.1 1120.5,243.8 1123.7,245.1 1126.9,247.2 1130.1,249.4 1133.3,252.7 1136.5,255.4 1139.7,261 1142.9,263.3 1146.1,266 1149.3,270.3 1152.5,272.4 1155.7,276.5 1158.9,279 1162.1,280.3 1165.3,282.5 1168.5,285 1171.7,288.9 1174.9,289.4 1178.1,290.8 1181.3,295.9 1184.5,296.7 1187.7,297.5 1190.9,301 1194.1,300.6 1197.2,303.3 1200.4,303.8 1203.6,309.6 1206.8,312.6 1210,316.7 1213.2,317.9 1216.4,323.5 1219.6,331 1222.8,338.8 1226,344.8 1229.2,353.6 1232.4,360.5 1235.6,366.6 1238.8,377.2 1242,389.4 1245.2,418.8 1247.8,447.6" fill="none" stroke="#008000" stroke-width="3.3" stroke-linejoin="round" />
<polyline points="1249.9,442.6 1252.2,411.6 1254.8,388.5 1257.5,374.1 1260.1,359 1262.7,354.5 1265.3,342.7 1268,340.1 1270.6,334 1273.2,330.3 1275.8,322.6 1278.5,317.9 1281.1,316 1283.7,315.2 1286.3,312.6 1289,310.8 1291.6,302.1 1294.2,301.9 1296.8,298.9 1299.5,295.7 1302.1,291.7 1304.7,285.1 1307.3,283.8 1310,281.1 1312.6,275.6 1315.2,275.1 1317.8,274.8 1320.4,268.7 1323.1,265.5 1325.7,259.1 1328.3,255.9 1330.9,256.4 1333.6,252.6 1336.2,250.7 1338.8,248.8 1341.4,247.8 1344.1,244.8 1346.7,244.8 1346.7,252.4 1349.3,247.1 1351.9,244.7 1354.6,245 1357.2,243.1 1359.8,237.2 1362.4,234.4 1365.1,232.6 1367.7,233.1 1370.3,233.1 1370.3,252.5" fill="none" stroke="#ff0000" stroke-width="3.3" stroke-linejoin="round" />
<line x1="1370.3" y1="91.6" x2="1370.3" y2="253.47" stroke="#ff0000" stroke-width="4.0"/>
<polyline points="1383.8,93.3 1365.9,93.3 1350.3,93.3 1336.8,93.3 1325.1,97.2 1314.9,101.8 1306.1,106.4 1298.5,111 1291.9,115.6 1286.2,120.2 1281.2,124.8 1276.9,129.4 1273.2,134 1270,138.6 1267.2,143.2 1264.8,147.8 1262.7,152.4 1260.8,157 1259.3,161.6 1257.9,166.2 1256.7,170.8 1255.7,175.4 1254.8,180 1254,184.6 1253.3,189.2 1249.3,266.6 1248.7,265.5 1244.7,184.7 1244,180.3 1243.3,175.9 1242.4,171.5 1241.4,167.1 1240.3,162.7 1239,158.2 1237.5,153.8 1235.7,149.4 1233.8,145 1231.5,140.6 1228.9,136.2 1225.9,131.7 1222.4,127.3 1218.4,122.9 1213.8,118.5 1208.6,114.1 1202.6,109.8 1195.6,105.4 1187.6,101.1 1178.5,97 1167.9,92.9 1155.8,89.2 1141.9,86 1125.9,83.6 1125.9,94.3 1107.6,90.5 1107.6,106.4 1098.5,101.9 1098.5,205.5 1098.5,213.6 1094.6,211 1090.6,209.6 1086.6,206.4 1082.6,198.4 1078.7,192.6 1074.7,187.2 1070.7,183.8 1066.7,178.1 1062.8,173.3 1058.8,168 1054.8,161.8 1050.9,156.2 1046.9,150.8 1042.9,148.1 1038.9,143 1035,137.8 1031,133.9 1031,127.7 1034.2,129.8 1037.4,133.1 1040.6,135.7 1043.8,140.2 1047,143.7 1050.2,146.5 1053.4,151.2 1056.6,155.2 1059.8,158.5 1063,163.4 1066.2,167 1069.4,169.3 1072.6,174.3 1075.8,178.3 1079,182.3 1082.2,184.8 1085.3,190 1088.5,196 1091.7,197.5 1094.9,199.2 1098.1,201.6 1101.3,204.1 1104.5,205.9 1107.7,208.5 1110.9,212.5 1114.1,216 1117.3,218 1120.5,221.1 1123.7,226.1 1126.9,229.4 1130.1,229.8 1133.3,227.9 1136.5,229.8 1139.7,232.6 1142.9,233.2 1146.1,236.4 1149.3,238.3 1152.5,240.5 1155.7,243.7 1158.9,244.9 1162.1,247.6 1165.3,253.1 1168.5,257.8 1171.7,258.3 1174.9,260.7 1178.1,263.7 1181.3,267.8 1184.5,270.4 1187.7,272.6 1190.9,276.2 1194.1,278.8 1197.2,281.7 1200.4,285.2 1203.6,288.5 1206.8,296.9 1210,300.7 1213.2,305.6 1216.4,309 1219.6,314.2 1222.8,319.9 1226,323.4 1229.2,328.4 1232.4,334.8 1235.6,342 1238.8,352.1 1242,359.2 1245.2,381.2 1248.2,449.1 1248.2,461.9" fill="none" stroke="#ff0000" stroke-width="3.3" stroke-linejoin="round" />
<polyline points="1250.5,461.4 1250.5,446.7 1252.2,401.5 1254.8,401.5 1254.8,366.5 1257.4,350.6 1260,337.1 1262.6,327.5 1265.2,320.8 1267.8,316.5 1270.4,316.5 1270.4,288.6 1273,285.6 1275.6,287.9 1278.2,278.6 1280.8,274.8 1283.4,278.4 1286,276 1288.6,279.3 1291.2,276.4 1293.8,275.5 1296.4,274.7 1299,274.8 1301.6,274.8 1301.6,249.9 1304.2,250.2 1306.8,249.9 1309.4,245.1 1312,246.2 1314.6,245.2 1317.2,248.1 1319.8,246.1 1322.4,245.1 1325,243.4 1327.6,242 1330.2,242.1 1332.8,239.9 1335.4,241.2 1338,242.3 1340.6,239.7 1343.2,236 1345.8,233.1 1348.4,232.1 1351,228.5 1353.6,227.3 1356.2,223.2 1358.8,219.8 1361.4,219.6 1364,217 1366.6,217 1366.6,238.4 1369.2,236.1 1371.8,228.8 1374.4,226.6 1377,221.5 1379.6,219.9 1382.2,219.2 1384.8,218.2 1387.4,217.3 1390,220.7 1392.6,219.1 1395.2,219 1397.8,220.2 1400.4,216.2 1403,212.9 1405.6,209.4 1408.2,206.9 1410.8,208.8 1413.4,206.9 1416,204.2" fill="none" stroke="#300030" stroke-width="3.3" stroke-linejoin="round" />
<line x1="1416" y1="91.6" x2="1416" y2="205.18" stroke="#300030" stroke-width="5.6"/>
<polyline points="1383.8,93.3 1365.9,93.3 1350.3,97 1336.8,102 1325.1,107.1 1314.9,112.1 1306.1,117.1 1298.5,122.1 1291.9,127.1 1286.2,132.2 1281.2,137.2 1276.9,142.2 1273.2,147.2 1270,152.2 1267.2,157.3 1264.8,162.3 1262.7,167.3 1260.8,172.3 1259.3,177.3 1257.9,182.4 1256.7,187.4 1255.7,192.4 1254.8,197.4 1254,202.4 1253.3,207.5 1249.3,273.5 1248.7,272.2 1244.7,202.6 1244,197.7 1243.2,192.7 1242.3,187.7 1241.3,182.8 1240.1,177.8 1238.7,172.8 1237.1,167.9 1235.2,162.9 1233.1,157.9 1230.7,153 1227.8,148 1224.5,143 1220.8,138.1 1216.4,133.1 1211.3,128.1 1205.5,123.2 1198.8,118.3 1191,113.4 1182,108.5 1171.7,103.7 1159.7,99.1 1145.9,94.7 1129.9,90.8 1111.5,87.5 1111.5,115.3 1091.4,112.8 1091.4,148.8 1086.2,147 1086.2,150 1070.9,145.2 1070.9,169.8 1070.9,176.6 1066.9,170.4 1063,165.5 1059,161.2 1055,157.5 1051,152.6 1047,147.3 1043,141.9 1039,137.1 1035,132.1 1031,127.9 1031,122.8 1034.2,127.5 1037.4,131 1040.6,133.4 1043.8,136.4 1047,139.4 1050.2,142 1053.4,144.8 1056.6,148 1059.8,153.8 1063,156.8 1066.2,161.8 1069.4,166 1072.6,169.9 1075.8,174.6 1079,178.8 1082.2,181.1 1085.3,183 1088.5,186.2 1091.7,187.3 1094.9,189 1098.1,193.2 1101.3,196.5 1104.5,199.4 1107.7,203.4 1110.9,205.2 1114.1,208.8 1117.3,210.6 1120.5,215.7 1123.7,220.2 1126.9,223.8 1130.1,226.7 1133.3,229 1136.5,230.7 1139.7,231.7 1142.9,234.3 1146.1,232.3 1149.3,233.3 1152.5,235.6 1155.7,235.6 1158.9,244.1 1162.1,244.3 1165.3,248.2 1168.5,249.6 1171.7,248.7 1174.9,252.9 1178.1,253.7 1181.3,254.9 1184.5,254.5 1187.7,258 1190.9,260.1 1194.1,258.9 1197.2,260 1200.4,264.1 1203.6,264.7 1206.8,270.8 1210,277.7 1213.2,283.5 1216.4,287 1219.6,294.8 1222.8,301 1226,306.7 1229.2,313.7 1232.4,318.6 1235.6,327.5 1238.8,338.1 1242,351.6 1245.2,372.4 1248.3,442.6 1248.3,448.7" fill="none" stroke="#300030" stroke-width="3.3" stroke-linejoin="round" />
<polyline points="1250,461.2 1250,426.8 1252.2,366.3 1254.8,345.1 1257.4,337.1 1260,335.3 1262.7,328.6 1265.3,322.9 1267.9,312.8 1270.5,310.5 1273.1,302.1 1275.7,295.8 1278.3,285.5 1280.9,285.5 1283.5,281.7 1286.2,274.5 1288.8,272.9 1291.4,271.4 1294,268.8 1296.6,264.4 1299.2,261.6 1301.8,257.2 1304.4,257.9 1307,254.5 1309.6,251 1312.3,251 1314.9,252.6 1317.5,248.7 1320.1,248.5 1322.7,244.6 1325.3,241.4 1327.9,238.4 1330.5,236.6 1333.1,232.2 1335.8,227.5 1338.4,220.3 1341,220.6 1343.6,216.4 1346.2,212.3 1348.8,212.3 1348.8,210.7 1351.4,210.7 1351.4,210.2 1354,210.6 1356.6,210.6 1356.6,232.5 1359.3,229.9 1361.9,224.2 1364.5,221.2 1367.1,225.2 1369.7,222.5 1372.3,219.3 1374.9,218.4 1377.5,217.5 1380.1,215.3 1382.8,212.1 1385.4,209 1388,208 1390.6,206 1393.2,201.9 1395.8,199.1 1398.4,196.8 1401,195.1 1403.6,191.6 1406.2,191.6 1406.2,207.1 1408.9,205.3 1411.5,202.6 1414.1,198.7 1416.7,198.7 1416.7,193.7 1419.3,194.2 1421.9,191.4 1424.5,190.8 1427.1,189.5 1429.7,188.2 1432.4,187.7 1435,187.7 1435,177.6 1437.6,178 1440.2,177.4 1442.8,176.1" fill="none" stroke="#000000" stroke-width="3.3" stroke-linejoin="round" />
<line x1="1442.8" y1="91.6" x2="1442.8" y2="177.09" stroke="#000000" stroke-width="3.8"/>
<polyline points="1383.8,93.3 1365.9,96.3 1350.3,101.6 1336.8,106.8 1325.1,112.1 1314.9,117.4 1306.1,122.6 1298.5,127.9 1291.9,133.2 1286.2,138.5 1281.2,143.7 1276.9,149 1273.2,154.3 1270,159.5 1267.2,164.8 1264.8,170.1 1262.7,175.3 1260.8,180.6 1259.3,185.9 1257.9,191.1 1256.7,196.4 1255.7,201.7 1254.8,207 1254,212.2 1253.3,217.5 1249.3,277.7 1248.7,276.2 1244.7,212.4 1244,207.1 1243.2,201.8 1242.2,196.5 1241.2,191.2 1239.9,185.9 1238.5,180.5 1236.8,175.2 1234.9,169.9 1232.7,164.6 1230.1,159.3 1227.1,153.9 1223.6,148.6 1219.6,143.3 1215,138 1209.6,132.7 1203.4,127.4 1196.1,122.1 1187.8,116.8 1178.1,111.6 1166.9,106.4 1153.9,101.3 1138.8,96.3 1121.4,91.7 1101.2,87.6 1101.2,115.5 1094.4,113.2 1094.4,144.6 1083.7,141 1083.7,163.9 1083.7,168.1 1079.7,164.4 1075.6,161.5 1071.6,156.8 1067.5,149.9 1063.5,146.3 1059.4,141.8 1055.3,135.6 1051.3,131.1 1047.2,128.1 1043.2,123.9 1039.1,119.9 1035.1,118 1031,114 1031,109 1034.2,112.4 1037.4,116.1 1040.6,118.4 1043.8,122.1 1047,124.1 1050.2,126.8 1053.4,130.9 1056.6,133.9 1059.8,136.6 1063,139.9 1066.2,142.4 1069.4,145.3 1072.6,147.9 1075.8,150.4 1079,153.4 1082.2,155.5 1085.3,158 1088.5,160.5 1091.7,164.7 1094.9,167.6 1098.1,168.6 1101.3,171.6 1104.5,173.9 1107.7,175.7 1110.9,178.2 1114.1,181.6 1117.3,186.1 1120.5,189.6 1123.7,191.8 1126.9,194.5 1130.1,199.4 1133.3,198.8 1136.5,202.2 1139.7,203.5 1142.9,206 1146.1,209.3 1149.3,213.2 1152.5,215.3 1155.7,215.7 1158.9,215.8 1162.1,216.4 1165.3,214.8 1168.5,215.4 1171.7,222 1174.9,223.6 1178.1,224.6 1181.3,228.3 1184.5,235.5 1187.7,237.6 1190.9,240.8 1194.1,239.7 1197.2,243 1200.4,242.3 1203.6,245.3 1206.8,246.2 1210,248.1 1213.2,253.7 1216.4,259.4 1219.6,264.1 1222.8,269.6 1226,273.3 1229.2,275 1232.4,283.4 1235.6,288 1238.8,295.4 1242,310.9 1245.2,327.8 1247,422.2 1247,440.8" fill="none" stroke="#000000" stroke-width="3.3" stroke-linejoin="round" />
<polyline points="1249.5,461.7 1249.6,429.7 1252.2,372.4 1254.8,349 1257.3,334.2 1259.9,325.7 1262.5,318.7 1265.1,318.5 1267.6,313.8 1270.2,309.1 1272.8,307.1 1275.4,303 1278,303 1278,285.1 1280.5,284.5 1283.1,283.5 1285.7,283.5 1285.7,279.8 1288.3,276.1 1290.9,273.5 1293.4,270.1 1296,263 1298.6,261.2 1301.2,264.6 1303.8,260.6 1306.3,258 1308.9,257.9 1311.5,257.8 1314.1,255.9 1316.6,251.3 1319.2,248 1321.8,246.6 1324.4,241.6 1327,241.2 1329.5,241 1332.1,240.5 1334.7,240.7 1337.3,238.4 1339.8,233.7 1342.4,232.3 1345,231.5 1347.6,233 1350.2,234.1 1352.7,232 1355.3,230 1357.9,225.2 1360.5,224.9 1363.1,219.4 1365.6,214.3 1368.2,213.2 1370.8,210.2 1373.4,209.3 1376,208.7 1378.5,208.6 1381.1,207 1383.7,208 1386.3,204.3 1388.8,204.9 1391.4,208.2 1394,209.7" fill="none" stroke="#008080" stroke-width="3.3" stroke-linejoin="round" />
<line x1="1394" y1="91.6" x2="1394" y2="210.73" stroke="#008080" stroke-width="3.8"/>
<polyline points="1383.8,93.3 1365.9,93.3 1350.3,94.3 1336.8,99.2 1325.1,104 1314.9,108.9 1306.1,113.8 1298.5,118.7 1291.9,123.6 1286.2,128.4 1281.2,133.3 1276.9,138.2 1273.2,143.1 1270,148 1267.2,152.9 1264.8,157.7 1262.7,162.6 1260.8,167.5 1259.3,172.4 1257.9,177.3 1256.7,182.2 1255.7,187 1254.8,191.9 1254,196.8 1253.3,201.7 1249.3,271.2 1248.7,270 1244.7,197 1244,192.3 1243.3,187.7 1242.4,183.1 1241.4,178.4 1240.3,173.8 1239,169.2 1237.6,164.5 1235.9,159.9 1233.9,155.2 1231.7,150.6 1229.2,146 1226.2,141.3 1222.8,136.7 1219,132.1 1214.5,127.5 1209.4,122.8 1203.6,118.2 1196.9,113.6 1189.1,109.1 1180.3,104.6 1170.1,100.2 1158.4,96 1145,92.1 1129.7,88.8 1129.7,105.7 1123.4,100.5 1123.4,126.9 1110.8,125.3 1110.8,150 1093.8,148.3 1093.8,198.6 1093.8,204.3 1089.9,200.2 1085.9,195.9 1082,191.6 1078.1,186.6 1074.2,181.6 1070.2,176.9 1066.3,169.2 1062.4,162 1058.5,156.7 1054.5,152.4 1050.6,149.3 1046.7,145.5 1042.8,142 1038.8,136.5 1034.9,132 1031,128.1 1031,124.1 1034.2,127.7 1037.4,130.3 1040.6,133.4 1043.8,138.4 1047,141.5 1050.2,143.6 1053.4,145.3 1056.6,147.5 1059.8,151.2 1063,155.4 1066.2,159.1 1069.4,163.3 1072.6,165.8 1075.8,168.8 1079,172.2 1082.2,176.8 1085.3,182.6 1088.5,187 1091.7,188.7 1094.9,192.4 1098.1,197 1101.3,198.7 1104.5,203.5 1107.7,208.9 1110.9,208.2 1114.1,209.6 1117.3,211.7 1120.5,217 1123.7,220.5 1126.9,223.4 1130.1,226.7 1133.3,231 1136.5,232.9 1139.7,236 1142.9,237.1 1146.1,236.9 1149.3,237.2 1152.5,241.4 1155.7,241.1 1158.9,246.4 1162.1,248.9 1165.3,252.7 1168.5,256.9 1171.7,259 1174.9,263.2 1178.1,266 1181.3,268.1 1184.5,272.8 1187.7,275.1 1190.9,278.8 1194.1,280.7 1197.2,283.4 1200.4,287.3 1203.6,289.7 1206.8,291.2 1210,294.7 1213.2,299.9 1216.4,302 1219.6,309.2 1222.8,312.9 1226,317.1 1229.2,319.3 1232.4,327.5 1235.6,331.3 1238.8,341.1 1242,355.7 1245.2,375.3 1247.4,443.4 1247.4,461.6" fill="none" stroke="#008080" stroke-width="3.3" stroke-linejoin="round" />
<polyline points="1251.2,450.7 1252.2,423.8 1254.8,398.4 1257.4,388.3 1260,371.1 1262.6,362.8 1265.2,362.8 1265.2,336.9 1267.9,332.2 1270.5,330 1273.1,324.3 1275.7,322.3 1278.3,317.7 1280.9,316.3 1283.5,316.3 1283.5,300.1 1286.1,299.4 1288.7,295.5 1291.3,288.4 1293.9,285.6 1296.5,289.6 1299.1,291.8 1301.8,288.4 1304.4,281.4 1307,278.3 1309.6,280.5 1312.2,275.1 1314.8,269 1317.4,264.1 1320,263 1322.6,258.1 1325.2,258.1 1325.2,235.9 1327.8,236.5 1330.4,236.9 1333.1,239.7 1335.7,242.4 1338.3,239.2 1340.9,236.5 1343.5,239.6 1346.1,241 1348.7,239.1 1351.3,240.3 1353.9,235.1 1356.5,236.7 1359.1,238.1 1361.7,235.4 1364.3,235.8 1367,238.4 1369.6,238 1372.2,232.6 1374.8,233.3 1377.4,237.5 1380,234.8 1382.6,234.8 1382.6,221.2" fill="none" stroke="#2e8b57" stroke-width="3.3" stroke-linejoin="round" />
<line x1="1382.6" y1="91.6" x2="1382.6" y2="222.23" stroke="#2e8b57" stroke-width="6.4"/>
<polyline points="1383.8,93.3 1365.9,93.3 1350.3,98.2 1336.8,103.3 1325.1,108.3 1314.9,113.4 1306.1,118.5 1298.5,123.6 1291.9,128.7 1286.2,133.7 1281.2,138.8 1276.9,143.9 1273.2,149 1270,154.1 1267.2,159.1 1264.8,164.2 1262.7,169.3 1260.8,174.4 1259.3,179.5 1257.9,184.5 1256.7,189.6 1255.7,194.7 1254.8,199.8 1254,204.9 1253.3,209.9 1249.3,274.5 1248.7,273.2 1244.7,205.1 1244,200.5 1243.3,195.9 1242.6,191.4 1241.7,186.8 1240.6,182.2 1239.5,177.7 1238.1,173.1 1236.6,168.5 1234.9,164 1232.9,159.4 1230.7,154.8 1228.1,150.3 1225.2,145.7 1221.9,141.1 1218.1,136.6 1213.8,132 1208.8,127.4 1203.2,122.9 1196.8,118.4 1189.5,113.8 1181.2,109.4 1171.8,105 1161,100.7 1148.7,96.5 1148.7,107.4 1139.4,105.2 1139.4,267.4 1139.4,263.9 1135.4,256.4 1131.4,252.7 1127.4,251.7 1123.4,244.8 1119.3,238.3 1115.3,235.5 1111.3,229.9 1107.3,225.9 1103.3,218.8 1099.3,213.8 1095.3,211.9 1091.2,211.8 1087.2,207.3 1083.2,201.3 1079.2,197 1075.2,192.6 1071.2,183.9 1067.1,178.1 1063.1,170.7 1059.1,166.8 1055.1,163.3 1051.1,158.4 1047.1,152.4 1043,145.7 1039,141.3 1035,137.3 1031,132.2 1031,134.7 1034.2,136.9 1037.4,140.4 1040.6,143.2 1043.8,147 1047,150.6 1050.2,154.3 1053.4,158.4 1056.6,162.4 1059.8,165.5 1063,169.8 1066.2,172.8 1069.4,177.9 1072.6,182.7 1075.8,187.9 1079,193 1082.2,197.7 1085.3,202.8 1088.5,208.2 1091.7,210.8 1094.9,212.3 1098.1,212.8 1101.3,216 1104.5,220.1 1107.7,223.9 1110.9,226.7 1114.1,230 1117.3,231.9 1120.5,236.4 1123.7,237.5 1126.9,238.7 1130.1,242.2 1133.3,247.9 1136.5,250.5 1139.7,252.3 1142.9,253.7 1146.1,255.9 1149.3,256.7 1152.5,256.6 1155.7,258.5 1158.9,258.9 1162.1,263.6 1165.3,268.7 1168.5,272.6 1171.7,278.9 1174.9,282 1178.1,283.4 1181.3,284.7 1184.5,288.9 1187.7,293.3 1190.9,300.4 1194.1,304.7 1197.2,304.7 1200.4,307.3 1203.6,313.8 1206.8,317.7 1210,323.7 1213.2,327.1 1216.4,331.2 1219.6,335 1222.8,339.4 1226,346.6 1229.2,353.9 1232.4,362.9 1235.6,374.7 1238.8,382.9 1242,395.2 1245.2,424.9 1248.1,466.6 1248.1,467.7" fill="none" stroke="#2e8b57" stroke-width="3.3" stroke-linejoin="round" />
<polyline points="1250.5,465.2 1250.5,444.5 1252.2,400 1254.8,378.3 1257.4,363.9 1260,354 1262.7,345.3 1265.3,338.6 1267.9,333.4 1270.5,333.4 1270.5,337.9 1273.1,328.1 1275.7,328.7 1278.3,320.9 1280.9,314.3 1283.5,306.4 1286.2,300.5 1288.8,302.7 1291.4,300.7 1294,293.1 1296.6,291.5 1299.2,292.7 1301.8,290.9 1304.4,286 1307,284.7 1309.6,277.4 1312.3,272.8 1314.9,270.2 1317.5,270.5 1320.1,267.2 1322.7,266.4 1325.3,263.1 1327.9,262.4 1330.5,258.2 1333.1,255.5 1335.8,253.6 1338.4,250.3 1341,247.5 1343.6,241.9 1346.2,239.4 1348.8,237.9 1351.4,237.9 1351.4,227.2 1354,227 1356.6,225.9 1359.3,218.7 1361.9,215.3 1364.5,216.8 1367.1,215.3 1369.7,215.1 1372.3,215.5 1374.9,214.5 1377.5,216 1380.1,216.3 1382.8,216.3 1385.4,212.4 1388,212.5 1390.6,207.8 1393.2,204.7 1395.8,203.8 1398.4,202 1401,203.4 1403.6,201.4 1406.2,202.2 1408.9,201.4 1411.5,201.4 1411.5,179.6 1414.1,181.5 1416.7,182.3 1419.3,183.5 1421.9,182.4 1424.5,183.1 1427.1,183.6 1429.7,185.8 1432.4,183.8 1435,182.7 1437.6,181.6 1440.2,181.5 1442.8,180.4" fill="none" stroke="#1a0030" stroke-width="3.3" stroke-linejoin="round" />
<line x1="1442.8" y1="91.6" x2="1442.8" y2="181.39" stroke="#1a0030" stroke-width="4.0"/>
<polyline points="1383.8,93.3 1365.9,96.5 1350.3,101.7 1336.8,107 1325.1,112.3 1314.9,117.6 1306.1,122.8 1298.5,128.1 1291.9,133.4 1286.2,138.7 1281.2,144 1276.9,149.2 1273.2,154.5 1270,159.8 1267.2,165.1 1264.8,170.4 1262.7,175.6 1260.8,180.9 1259.3,186.2 1257.9,191.5 1256.7,196.7 1255.7,202 1254.8,207.3 1254,212.6 1253.3,217.9 1249.3,277.8 1248.7,276.3 1244.7,212.8 1244,207.6 1243.2,202.3 1242.3,197.1 1241.2,191.9 1240,186.6 1238.7,181.4 1237,176.1 1235.2,170.9 1233,165.7 1230.6,160.4 1227.7,155.2 1224.4,150 1220.6,144.7 1216.2,139.5 1211.1,134.3 1205.2,129 1198.3,123.8 1190.5,118.6 1181.4,113.4 1170.9,108.3 1158.7,103.2 1144.7,98.3 1128.5,93.6 1109.8,89.2 1109.8,114.4 1090.7,111.1 1090.7,147.8 1080.7,146.2 1080.7,150 1074.5,149.3 1074.5,168.9 1074.5,171.8 1070.6,165.7 1066.6,160.8 1062.7,156.9 1058.7,152.2 1054.8,147.1 1050.8,142.1 1046.8,139.4 1042.9,136 1038.9,131.9 1035,126.6 1031,121.8 1031,119.1 1034.2,122 1037.4,123.6 1040.6,126.5 1043.8,130.8 1047,134.7 1050.2,138.8 1053.4,142 1056.6,146 1059.8,149 1063,153.1 1066.2,158.2 1069.4,161.7 1072.6,164.4 1075.8,170.1 1079,175.3 1082.2,178.2 1085.3,182.7 1088.5,187.9 1091.7,190.2 1094.9,193.2 1098.1,194.9 1101.3,195.4 1104.5,198.7 1107.7,200.5 1110.9,202.1 1114.1,206.7 1117.3,209.9 1120.5,212.4 1123.7,215.6 1126.9,217.6 1130.1,220.7 1133.3,220.3 1136.5,226.3 1139.7,228.5 1142.9,230 1146.1,231.3 1149.3,233.8 1152.5,236.8 1155.7,236.1 1158.9,241.1 1162.1,242 1165.3,244 1168.5,245.3 1171.7,247.4 1174.9,246.6 1178.1,249.2 1181.3,250.9 1184.5,252.7 1187.7,257.9 1190.9,258.6 1194.1,257.3 1197.2,258.8 1200.4,263.3 1203.6,268.2 1206.8,273.9 1210,278.4 1213.2,280 1216.4,283.2 1219.6,284.8 1222.8,291 1226,295.7 1229.2,299.4 1232.4,306.7 1235.6,316.8 1238.8,324.8 1242,336.5 1245.2,360.2 1248,436.6 1248,453.2" fill="none" stroke="#1a0030" stroke-width="3.3" stroke-linejoin="round" />
<polyline points="1251.1,457.4 1251.1,446 1252.2,401.7 1254.8,401.7 1254.8,366.1 1257.4,349.1 1260,333.5 1262.6,324.1 1265.2,314.5 1267.8,311.8 1270.5,307.5 1273.1,304.4 1275.7,302.2 1278.3,301.2 1280.9,299.3 1283.5,294.9 1286.1,292.5 1288.7,285.9 1291.3,280.3 1293.9,273.9 1296.5,275.2 1299.1,277 1301.7,274.6 1304.3,271.9 1306.9,269.7 1309.6,268.6 1312.2,269 1314.8,267.1 1317.4,267.1 1317.4,263.3 1320,257.3 1322.6,257.4 1325.2,259.2 1327.8,256.7 1330.4,258.6 1333,255.5 1335.6,252.4 1338.2,251 1340.8,246.6 1343.4,243.5 1346,239.4 1348.6,238.9 1351.3,235.4 1353.9,235.4 1353.9,216.1 1356.5,215.6 1359.1,216.1 1361.7,213.9 1364.3,208 1366.9,210.2 1369.5,213.3 1372.1,214.4 1374.7,216.8 1377.3,218.3 1379.9,215.2 1382.5,213.1 1385.1,213 1387.7,215.1 1390.4,214.5 1393,213.8 1395.6,212.6 1398.2,212 1400.8,211.3 1403.4,208.6 1406,207.1 1408.6,203.8" fill="none" stroke="#800000" stroke-width="3.3" stroke-linejoin="round" />
<line x1="1408.6" y1="91.6" x2="1408.6" y2="204.81" stroke="#800000" stroke-width="3.8"/>
<polyline points="1383.8,93.3 1365.9,93.3 1350.3,93.3 1336.8,97.3 1325.1,102.1 1314.9,106.9 1306.1,111.7 1298.5,116.5 1291.9,121.3 1286.2,126.1 1281.2,130.9 1276.9,135.7 1273.2,140.5 1270,145.3 1267.2,150.1 1264.8,154.9 1262.7,159.7 1260.8,164.5 1259.3,169.3 1257.9,174.1 1256.7,178.9 1255.7,183.7 1254.8,188.5 1254,193.3 1253.3,198.1 1249.3,269.8 1248.7,268.6 1244.7,193.4 1244,188.8 1243.2,184.2 1242.4,179.6 1241.4,175 1240.3,170.4 1238.9,165.8 1237.4,161.1 1235.7,156.5 1233.7,151.9 1231.4,147.3 1228.8,142.7 1225.8,138.1 1222.3,133.5 1218.3,128.9 1213.7,124.3 1208.4,119.7 1202.3,115.1 1195.3,110.6 1187.3,106.1 1178.1,101.7 1167.4,97.4 1155.2,93.3 1141.2,89.7 1125,86.7 1125,109.6 1104.3,105 1104.3,211 1104.3,216.1 1100.2,210.7 1096.1,209.4 1092.1,206.3 1088,203.1 1083.9,198.5 1079.9,191.7 1075.8,186 1071.7,180.6 1067.6,173.9 1063.6,167.6 1059.5,163.3 1055.4,157.1 1051.4,153 1047.3,147.1 1043.2,142.6 1039.1,139.7 1035.1,135.4 1031,130.4 1031,126.1 1034.2,129 1037.4,132.6 1040.6,137.7 1043.8,141.4 1047,145.6 1050.2,148.4 1053.4,152 1056.6,155.3 1059.8,158.5 1063,161.7 1066.2,166 1069.4,170 1072.6,174.2 1075.8,177.3 1079,181.5 1082.2,185.6 1085.3,188.3 1088.5,193.4 1091.7,195.9 1094.9,197.4 1098.1,199.7 1101.3,201.2 1104.5,203.4 1107.7,207 1110.9,210.5 1114.1,214.5 1117.3,218.1 1120.5,222.2 1123.7,225.9 1126.9,229.8 1130.1,232 1133.3,235.7 1136.5,239.9 1139.7,242.1 1142.9,243.3 1146.1,247 1149.3,245.9 1152.5,247 1155.7,246.2 1158.9,248.1 1162.1,251.6 1165.3,251.4 1168.5,253.5 1171.7,253.4 1174.9,257.5 1178.1,257.9 1181.3,259.4 1184.5,262.6 1187.7,266.8 1190.9,268.2 1194.1,270.7 1197.2,270.7 1200.4,272.5 1203.6,274.4 1206.8,276.1 1210,280.6 1213.2,282.1 1216.4,288.2 1219.6,293.2 1222.8,302.3 1226,309.1 1229.2,317.4 1232.4,324.7 1235.6,335.1 1238.8,346.4 1242,360.9 1245.2,384.7 1248.4,446.9 1248.6,464" fill="none" stroke="#800000" stroke-width="3.3" stroke-linejoin="round" />
<polyline points="1250.7,450.7 1250.7,419.8 1252.2,353.4 1254.8,332.5 1257.5,320.5 1260.1,312.7 1262.7,311.7 1265.3,305.9 1267.9,299 1270.5,291.3 1273.2,286.4 1275.8,286.5 1278.4,277.9 1281,271.9 1283.6,271.5 1286.3,268.5 1288.9,270.8 1291.5,267 1294.1,262 1296.7,258.1 1299.3,257.8 1302,254.2 1304.6,250.1 1307.2,247.5 1309.8,247.7 1312.4,247.9 1315.1,247 1317.7,243.7 1320.3,240.7 1322.9,239.1 1325.5,235 1328.1,234.3 1330.8,229.1 1333.4,225.2 1336,224.5 1338.6,224.5 1338.6,227.8 1341.2,218.8 1343.9,217.2 1346.5,217.2 1346.5,223.9 1349.1,223 1351.7,217.7 1354.3,212.2 1356.9,212.7 1359.6,208.2 1362.2,205.6 1364.8,199.6 1367.4,195.7 1370,190.6 1372.7,193.1 1375.3,194.9 1377.9,193.9 1380.5,189 1383.1,183.8 1385.7,182.1 1388.4,180.9 1391,180.9 1391,180.1 1393.6,180.2" fill="none" stroke="#8000ff" stroke-width="3.3" stroke-linejoin="round" />
<line x1="1393.6" y1="91.6" x2="1393.6" y2="181.25" stroke="#8000ff" stroke-width="5.8"/>
<polyline points="1383.8,93.3 1365.9,93.3 1350.3,93.3 1336.8,94.2 1325.1,98.8 1314.9,103.5 1306.1,108.2 1298.5,112.8 1291.9,117.5 1286.2,122.2 1281.2,126.8 1276.9,131.5 1273.2,136.2 1270,140.8 1267.2,145.5 1264.8,150.1 1262.7,154.8 1260.8,159.5 1259.3,164.1 1257.9,168.8 1256.7,173.5 1255.7,178.1 1254.8,182.8 1254,187.5 1253.3,192.1 1249.3,267.6 1248.7,266.5 1244.7,187.6 1244.1,183.6 1243.4,179.6 1242.7,175.5 1241.8,171.5 1240.9,167.5 1239.8,163.4 1238.5,159.4 1237.1,155.4 1235.5,151.3 1233.7,147.3 1231.7,143.3 1229.4,139.2 1226.8,135.2 1223.8,131.2 1220.4,127.1 1216.6,123.1 1212.3,119.1 1207.4,115.1 1201.8,111.1 1195.5,107.1 1188.3,103.2 1180.2,99.4 1171,95.6 1160.6,92.1 1160.6,127 1149.3,124.8 1149.3,150 1133,144.8 1133,150 1122.9,147.7 1122.9,205.7 1122.9,215.2 1118.9,212.2 1114.9,206.4 1110.9,203.6 1106.9,198.9 1102.9,197.7 1098.9,192.5 1094.9,190.9 1090.9,187.6 1086.9,186.3 1082.9,183.1 1079,175 1075,168.8 1071,163.7 1067,157.6 1063,152.2 1059,147 1055,142.8 1051,138.3 1047,134.7 1043,130.3 1039,126.3 1035,121.5 1031,117.1 1031,114.6 1034.2,116.6 1037.4,120.1 1040.6,123.6 1043.8,126.2 1047,129.4 1050.2,132.7 1053.4,137.5 1056.6,141.2 1059.8,141.8 1063,146 1066.2,150.1 1069.4,155.3 1072.6,157.9 1075.8,162.6 1079,165 1082.2,168.1 1085.3,168.9 1088.5,170.9 1091.7,175.3 1094.9,178.6 1098.1,180.1 1101.3,182 1104.5,185.5 1107.7,186.1 1110.9,187 1114.1,188.7 1117.3,193.2 1120.5,196.7 1123.7,198.9 1126.9,200.5 1130.1,204 1133.3,209.7 1136.5,208.6 1139.7,207.8 1142.9,207.7 1146.1,210.8 1149.3,212.6 1152.5,212.4 1155.7,214.9 1158.9,219.5 1162.1,221.1 1165.3,224.7 1168.5,225.3 1171.7,228.3 1174.9,229.8 1178.1,232.4 1181.3,235.3 1184.5,236.7 1187.7,239 1190.9,242.2 1194.1,242.3 1197.2,244.6 1200.4,245.4 1203.6,247.5 1206.8,252.3 1210,254.8 1213.2,261.6 1216.4,269.5 1219.6,270.4 1222.8,271.4 1226,279.7 1229.2,284.9 1232.4,289.5 1235.6,294.4 1238.8,303.5 1242,318.2 1245.2,339.2 1247.3,426.3 1247.3,447.3" fill="none" stroke="#8000ff" stroke-width="3.3" stroke-linejoin="round" />
<polyline points="1249.4,448 1249.6,423.6 1252.2,358.5 1254.8,336.6 1257.4,321.4 1260,309 1262.6,306.1 1265.2,301.4 1267.8,290.1 1270.4,287.7 1273,280.6 1275.6,280.9 1278.2,274.6 1280.8,273.2 1283.4,269 1286,268.3 1288.6,268.5 1291.2,264.9 1293.8,266.8 1296.3,268.3 1298.9,266.8 1301.5,268.3 1304.1,264.2 1306.7,264.1 1309.3,263.3 1311.9,265.1 1314.5,261.7 1317.1,260.3 1319.7,256.5 1322.3,254 1324.9,250.6 1327.5,246.4 1330.1,242.5 1332.7,242.5 1332.7,256.3 1335.3,252.9 1337.9,249.2 1340.5,249.2 1340.5,243.2 1343.1,241.6 1345.7,237.6 1348.3,237.7 1350.9,232.4 1353.5,229 1356.1,223.9 1358.7,220.8 1361.3,216.3 1363.9,215.8 1366.5,213.1 1369.1,213.1 1369.1,185.3 1371.7,185.8 1374.3,184.2 1376.9,186.3 1379.5,185.5 1382.1,189.7 1384.7,189.7 1384.7,183.3 1387.2,181.1 1389.8,180.4 1392.4,179.7 1395,179.3 1397.6,178.3 1400.2,180.1 1402.8,178.7 1405.4,182.6 1408,183.2 1410.6,183.2 1410.6,176.9 1413.2,179.6 1415.8,179.6 1415.8,193.1 1418.4,192.7 1421,190.1 1423.6,188.1 1426.2,185.3 1428.8,185.5 1431.4,184.2" fill="none" stroke="#8000ff" stroke-width="3.3" stroke-linejoin="round" />
<line x1="1431.4" y1="91.6" x2="1431.4" y2="185.16" stroke="#8000ff" stroke-width="3.8"/>
<polyline points="1383.8,93.3 1365.9,93.3 1350.3,93.3 1336.8,94.5 1325.1,99.2 1314.9,103.9 1306.1,108.6 1298.5,113.2 1291.9,117.9 1286.2,122.6 1281.2,127.3 1276.9,132 1273.2,136.6 1270,141.3 1267.2,146 1264.8,150.7 1262.7,155.4 1260.8,160 1259.3,164.7 1257.9,169.4 1256.7,174.1 1255.7,178.7 1254.8,183.4 1254,188.1 1253.3,192.8 1249.3,267.9 1248.7,266.8 1244.7,188.3 1244,183.8 1243.3,179.4 1242.4,174.9 1241.5,170.5 1240.3,166 1239.1,161.6 1237.6,157.2 1235.9,152.7 1234,148.3 1231.7,143.8 1229.2,139.4 1226.3,134.9 1222.9,130.5 1219,126.1 1214.6,121.6 1209.5,117.2 1203.7,112.8 1197,108.4 1189.3,104.1 1180.5,99.9 1170.4,95.7 1158.8,91.9 1145.5,88.4 1130.2,85.5 1130.2,101 1118.3,99.9 1118.3,188.6 1118.3,196.4 1114.4,192.7 1110.4,187.8 1106.4,185.2 1102.5,180.8 1098.5,180.1 1094.5,178.3 1090.6,176.1 1086.6,174.3 1082.6,169.5 1078.6,165.2 1074.7,161.8 1070.7,157 1066.7,152.1 1062.8,146.7 1058.8,144.1 1054.8,142.1 1050.9,138.5 1046.9,133.8 1042.9,130.6 1038.9,125.8 1035,122.9 1031,118.4 1031,110.1 1034.2,113.3 1037.4,117.5 1040.6,120.1 1043.8,121.9 1047,124.3 1050.2,128.5 1053.4,132.4 1056.6,135.7 1059.8,138.4 1063,141.5 1066.2,144.7 1069.4,148.3 1072.6,150 1075.8,152.6 1079,153.6 1082.2,155.5 1085.3,158 1088.5,161.6 1091.7,165.2 1094.9,167.6 1098.1,172.5 1101.3,173.3 1104.5,175.2 1107.7,177.8 1110.9,182 1114.1,186.2 1117.3,188.2 1120.5,190.1 1123.7,193.4 1126.9,195.6 1130.1,196 1133.3,195.6 1136.5,196.8 1139.7,197.8 1142.9,202.2 1146.1,204.2 1149.3,204 1152.5,202.1 1155.7,202.9 1158.9,202.9 1162.1,205.1 1165.3,207.6 1168.5,211.1 1171.7,213.8 1174.9,216.2 1178.1,219.8 1181.3,221.9 1184.5,224.7 1187.7,227.6 1190.9,232 1194.1,232.7 1197.2,236.3 1200.4,238.4 1203.6,241.6 1206.8,245.6 1210,244.9 1213.2,250.1 1216.4,252.6 1219.6,258.3 1222.8,263.2 1226,267.4 1229.2,275.4 1232.4,278.6 1235.6,288.4 1238.8,292 1242,304.8 1245.2,323.7 1247.6,420 1247.6,447.9" fill="none" stroke="#8000ff" stroke-width="3.3" stroke-linejoin="round" />
<polyline points="1251.1,441.4 1252.2,394.7 1254.8,373.5 1257.3,360.4 1259.9,352.6 1262.5,350.4 1265.1,340.4 1267.7,327.3 1270.3,323.7 1272.8,314.9 1275.4,311.2 1278,309.2 1280.6,305.7 1283.2,302.9 1285.8,305.4 1288.3,301.5 1290.9,297.2 1293.5,297 1296.1,292.5 1298.7,292.8 1301.3,290.1 1303.8,281.3 1306.4,280.8 1309,281.8 1311.6,278.5 1314.2,277.9 1316.8,274.3 1319.3,271.1 1321.9,267 1324.5,262.4 1327.1,260.4 1329.7,254.6 1332.2,254.2 1334.8,254.9 1337.4,248.8 1340,242.1 1342.6,240.9 1345.2,240.9 1345.2,263.4 1347.7,260.1 1350.3,257.2 1352.9,251 1355.5,249.3 1358.1,244.5 1360.7,240.6 1363.2,237.8 1365.8,237.8 1365.8,221.2 1368.4,219.5 1371,218 1373.6,218.2 1376.2,222 1378.7,220.2 1381.3,218 1383.9,217.4 1386.5,214.7 1389.1,214.6 1391.7,213.4 1394.2,209.7 1396.8,205.9 1399.4,204" fill="none" stroke="#0000ff" stroke-width="3.3" stroke-linejoin="round" />
<line x1="1399.4" y1="91.6" x2="1399.4" y2="204.97" stroke="#0000ff" stroke-width="6.4"/>
<polyline points="1383.8,93.3 1365.9,93.3 1350.3,94.1 1336.8,99 1325.1,103.9 1314.9,108.7 1306.1,113.6 1298.5,118.5 1291.9,123.4 1286.2,128.2 1281.2,133.1 1276.9,138 1273.2,142.9 1270,147.7 1267.2,152.6 1264.8,157.5 1262.7,162.3 1260.8,167.2 1259.3,172.1 1257.9,177 1256.7,181.8 1255.7,186.7 1254.8,191.6 1254,196.5 1253.3,201.3 1249.3,271.1 1248.7,269.9 1244.7,196.6 1244,191.7 1243.2,186.8 1242.2,181.8 1241.2,176.9 1239.9,171.9 1238.5,167 1236.8,162.1 1234.9,157.1 1232.6,152.2 1230,147.2 1227,142.3 1223.5,137.4 1219.5,132.4 1214.8,127.5 1209.4,122.6 1203.1,117.7 1195.8,112.8 1187.4,107.9 1177.6,103.2 1166.3,98.6 1153.1,94.2 1137.9,90.3 1120.3,87.1 1099.9,85.2 1099.9,111.9 1078,107.7 1078,129.4 1058.4,129.3 1058.4,150 1040.9,145 1066,158.7 1066,161.2 1062.1,156.4 1058.2,152.1 1054.3,146.6 1050.4,139.1 1046.6,135.5 1042.7,131.7 1038.8,127.1 1034.9,124.7 1031,122 1031,117.6 1034.2,120.5 1037.4,124.7 1040.6,128.3 1043.8,131.3 1047,134 1050.2,136.9 1053.4,137.5 1056.6,141.6 1059.8,145.2 1063,148.3 1066.2,152.9 1069.4,157.9 1072.6,160.8 1075.8,164.2 1079,167.5 1082.2,171.7 1085.3,176.3 1088.5,178.2 1091.7,183.3 1094.9,184.3 1098.1,186.5 1101.3,189.3 1104.5,195 1107.7,197.8 1110.9,200.7 1114.1,202.5 1117.3,204 1120.5,205.2 1123.7,209.6 1126.9,212 1130.1,216.7 1133.3,214.4 1136.5,214.8 1139.7,216.8 1142.9,218.9 1146.1,219.4 1149.3,221.4 1152.5,221.9 1155.7,221.4 1158.9,228.6 1162.1,230.8 1165.3,236.3 1168.5,238.1 1171.7,239.3 1174.9,240.8 1178.1,243.1 1181.3,242 1184.5,246.6 1187.7,250.2 1190.9,253.7 1194.1,256.4 1197.2,254.5 1200.4,254.6 1203.6,256.4 1206.8,259.4 1210,263.8 1213.2,267.7 1216.4,274.1 1219.6,277.9 1222.8,284 1226,295.1 1229.2,302.6 1232.4,308.4 1235.6,313.5 1238.8,321.2 1242,337.8 1245.2,361.1 1248.3,437.9 1248.3,453" fill="none" stroke="#0000ff" stroke-width="3.3" stroke-linejoin="round" />
<polyline points="1250.7,465.9 1250.7,435.3 1252.2,383 1254.8,363 1257.4,352.2 1260,342.3 1262.6,337.7 1265.2,328.5 1267.8,322.8 1270.4,318.5 1273,311.9 1275.6,303.5 1278.2,302.9 1280.8,300.5 1283.4,298.3 1286,300.8 1288.6,295.8 1291.2,292.7 1293.8,288.2 1296.4,284.2 1299,281 1301.6,273.4 1304.2,267.1 1306.8,264.2 1309.4,258.9 1312,258.9 1312,264.4 1314.5,264.1 1317.1,264.1 1319.7,262.5 1322.3,260.1 1324.9,255.8 1327.5,252.8 1330.1,252.6 1332.7,251.2 1335.3,246.3 1337.9,247.1 1340.5,244.9 1343.1,242.1 1345.7,240.8 1348.3,239 1350.9,232.8 1353.5,231.5 1356.1,225.9 1358.7,225.9 1358.7,219.5 1361.3,216.6 1363.9,217.7 1366.5,216.2 1369.1,214.4 1371.7,215.6 1374.3,215.5 1376.9,217.7" fill="none" stroke="#000080" stroke-width="3.3" stroke-linejoin="round" />
<line x1="1376.9" y1="91.6" x2="1376.9" y2="218.71" stroke="#000080" stroke-width="4.0"/>
<polyline points="1383.8,93.3 1365.9,93.3 1350.3,95.6 1336.8,100.6 1325.1,105.5 1314.9,110.5 1306.1,115.4 1298.5,120.4 1291.9,125.3 1286.2,130.3 1281.2,135.2 1276.9,140.2 1273.2,145.1 1270,150.1 1267.2,155 1264.8,160 1262.7,164.9 1260.8,169.9 1259.3,174.8 1257.9,179.8 1256.7,184.7 1255.7,189.7 1254.8,194.6 1254,199.6 1253.3,204.5 1249.3,272.4 1248.7,271.1 1244.7,199.8 1244,194.9 1243.2,190 1242.3,185.1 1241.3,180.2 1240.1,175.3 1238.7,170.4 1237.1,165.5 1235.3,160.6 1233.1,155.7 1230.7,150.8 1227.9,146 1224.6,141.1 1220.8,136.2 1216.5,131.3 1211.5,126.4 1205.7,121.5 1199,116.7 1191.2,111.9 1182.3,107.1 1172,102.4 1160.1,97.9 1146.4,93.7 1130.5,89.9 1112.2,87 1112.2,99.9 1100,99.7 1100,196.4 1100,202.3 1096,198.9 1091.9,196.7 1087.8,195.2 1083.8,189.9 1079.7,183.5 1075.7,179 1071.6,172.6 1067.5,168.2 1063.5,162.8 1059.4,158.7 1055.4,152.4 1051.3,147.7 1047.2,143.1 1043.2,138.1 1039.1,134.1 1035.1,129.5 1031,126 1031,119.8 1034.2,123.4 1037.4,126.6 1040.6,129.6 1043.8,133.3 1047,136.2 1050.2,138 1053.4,141.9 1056.6,145.6 1059.8,149.4 1063,154.2 1066.2,158.2 1069.4,162.6 1072.6,167.1 1075.8,168.5 1079,173.3 1082.2,178 1085.3,182.9 1088.5,185.7 1091.7,190.5 1094.9,191.5 1098.1,191.3 1101.3,193.7 1104.5,197.7 1107.7,199.1 1110.9,203.4 1114.1,206.6 1117.3,208 1120.5,209.7 1123.7,214.1 1126.9,213.7 1130.1,213.3 1133.3,212.8 1136.5,215.2 1139.7,218.8 1142.9,221.7 1146.1,224.8 1149.3,224.9 1152.5,226.2 1155.7,228.6 1158.9,228.3 1162.1,229 1165.3,231.8 1168.5,240.1 1171.7,241.3 1174.9,243.9 1178.1,246.6 1181.3,249.9 1184.5,251 1187.7,253.7 1190.9,256.7 1194.1,259.7 1197.2,260.7 1200.4,264.1 1203.6,269.1 1206.8,275.4 1210,276.1 1213.2,277 1216.4,282.8 1219.6,290.4 1222.8,295.3 1226,297.8 1229.2,301.8 1232.4,308.4 1235.6,314.7 1238.8,325.3 1242,340.7 1245.2,366.8 1248,440 1248,452.4" fill="none" stroke="#000080" stroke-width="3.3" stroke-linejoin="round" />
<polyline points="1249.3,447.3 1249.6,447.3 1252.2,405.2 1254.8,379.1 1257.4,369.1 1260.1,353.6 1262.7,349.4 1265.3,343.4 1267.9,343 1270.5,333.8 1273.1,323.8 1275.7,323.8 1275.7,346.2 1278.4,340.9 1281,335.9 1283.6,327.1 1286.2,322.7 1288.8,318.4 1291.4,313.1 1294,311 1296.7,300 1299.3,298.5 1301.9,291.3 1304.5,281.6 1307.1,275.7 1309.7,274.1 1312.4,274.5 1315,269.9 1317.6,267.1 1320.2,267.4 1322.8,267.5 1325.4,265.8 1328,265.8 1328,277.9 1330.7,272.7 1333.3,271.2 1335.9,269.1 1338.5,269.5 1341.1,267.2 1343.7,268.1 1346.3,265.5 1349,259.7 1351.6,260.4 1354.2,259 1356.8,254.5 1359.4,253.8 1362,248.6 1364.6,248.6 1364.6,238.8 1367.3,241.4 1369.9,246.7 1372.5,243.8 1375.1,242.1 1377.7,232.4 1380.3,230.3 1383,231.5 1385.6,229.4 1388.2,226.4 1390.8,226.4 1390.8,211.2 1393.4,209.9 1396,212.5 1398.6,208.7 1401.3,211.1 1403.9,211.1 1403.9,214 1406.5,210.8 1409.1,210.8 1409.1,217.9 1411.7,217.2 1414.3,213.1 1416.9,210.1 1419.6,207.3 1422.2,205.3 1424.8,203.7 1427.4,200.8" fill="none" stroke="#000080" stroke-width="3.3" stroke-linejoin="round" />
<line x1="1427.4" y1="91.6" x2="1427.4" y2="201.84" stroke="#000080" stroke-width="4.0"/>
<polyline points="1383.8,93.3 1365.9,93.3 1350.3,96.2 1336.8,101.2 1325.1,106.2 1314.9,111.2 1306.1,116.1 1298.5,121.1 1291.9,126.1 1286.2,131.1 1281.2,136.1 1276.9,141 1273.2,146 1270,151 1267.2,156 1264.8,160.9 1262.7,165.9 1260.8,170.9 1259.3,175.9 1257.9,180.9 1256.7,185.8 1255.7,190.8 1254.8,195.8 1254,200.8 1253.3,205.8 1249.3,272.8 1248.7,271.5 1244.7,201 1244,196.3 1243.3,191.7 1242.5,187.1 1241.5,182.4 1240.4,177.8 1239.2,173.1 1237.8,168.5 1236.1,163.9 1234.3,159.2 1232.2,154.6 1229.7,150 1226.9,145.3 1223.7,140.7 1220,136 1215.8,131.4 1211,126.8 1205.5,122.2 1199.2,117.6 1192,113 1183.7,108.5 1174.3,104 1163.4,99.6 1151,95.5 1136.8,91.7 1136.8,123.2 1121.9,120.3 1121.9,138.9 1101.9,133 1101.9,150 1086.6,149.9 1086.6,201.5 1086.6,203.9 1082.6,198.4 1078.6,191.5 1074.7,186.2 1070.7,180.9 1066.7,173.7 1062.8,169.7 1058.8,164.1 1054.8,159.5 1050.9,156.3 1046.9,150.5 1042.9,144.5 1038.9,139.8 1035,134.9 1031,131.1 1031,127.2 1034.2,129.9 1037.4,133 1040.6,137.6 1043.8,141.4 1047,144.5 1050.2,149.1 1053.4,153.2 1056.6,158.2 1059.8,161.2 1063,167 1066.2,170.2 1069.4,175.3 1072.6,179.2 1075.8,184.8 1079,187.3 1082.2,192 1085.3,195.5 1088.5,200.7 1091.7,204.3 1094.9,206.2 1098.1,207.4 1101.3,207 1104.5,208.5 1107.7,212.6 1110.9,214.7 1114.1,219.5 1117.3,222.3 1120.5,224.3 1123.7,229.1 1126.9,229.3 1130.1,230.9 1133.3,231.1 1136.5,236.2 1139.7,237.4 1142.9,239 1146.1,241.5 1149.3,240.2 1152.5,243.5 1155.7,248 1158.9,252.3 1162.1,255.5 1165.3,254.7 1168.5,258 1171.7,258.6 1174.9,262 1178.1,265.9 1181.3,264.1 1184.5,267.7 1187.7,269.3 1190.9,272.5 1194.1,275.1 1197.2,276 1200.4,280.2 1203.6,283.6 1206.8,287.4 1210,294.1 1213.2,303.8 1216.4,307.7 1219.6,312.4 1222.8,315.7 1226,324.4 1229.2,331.4 1232.4,336.7 1235.6,339.9 1238.8,351.3 1242,362.3 1245.2,387.4 1247.6,445.6" fill="none" stroke="#000080" stroke-width="3.3" stroke-linejoin="round" />
<polyline points="1030.4,94 1036,99 1040,97 1045,104 1050.7,107 1058,115 1064,118 1075,128 1086,139 1100,150 1112,160 1124,167.3 1130,176 1137,178 1148.5,188.5 1156,192 1160,199 1172.9,204.8 1180,213 1186,221 1196,232 1206,242" fill="none" stroke="#000000" stroke-width="3.2" stroke-linejoin="round" />
<polyline points="1030.4,94 1036,99 1040,97 1045,104 1050.7,107 1058,115 1064,118" fill="none" stroke="#000000" stroke-width="6.0" stroke-linejoin="round" />
<polyline points="1089.8,90 1089.8,213 1090,217 1094,219.6 1098.1,221 1102.1,223.4 1106.1,227.9 1110.1,234.8 1114.2,238.7 1118.2,244.1 1122.2,247.5 1126.2,253.2 1130.3,256.2 1134.3,262.4 1138.3,266.7 1142.3,269.4 1146.4,272.7 1150.4,276 1154.4,277.5 1158.4,281.4 1162.5,285.1 1166.5,286.4 1170.5,290.9 1174.5,293.5 1178.6,296.9 1182.6,298.4 1186.6,300.7 1190.6,305.9 1194.7,308.9 1198.7,310.9 1202.7,314.6 1206.7,320.9 1210.8,328.3 1214.8,333.3 1218.8,341.4 1222.8,347.9 1226.9,355.3 1230.9,365.3 1234.9,373.7 1238.9,390.5 1243,408.5 1247,457.6 1249,469 1251,451.8 1255,411.3 1259,391.6 1262.9,377.8 1266.9,364.6 1270.9,355.4 1274.9,348.1 1278.9,339.2 1282.8,333.9 1286.8,327.6 1290.8,325.2 1294.8,319.4 1298.8,313.5 1302.8,305.5 1306.7,295.9 1310.7,292.2 1314.7,289.7 1318.7,285.3 1322.7,282.1 1326.6,280.7 1330.6,276.8 1334.6,272.4 1338.6,272.3 1342.6,267.6 1346.5,266.2 1350.5,265.5 1354.5,262.3 1358.5,259 1362.5,256.8 1366.5,254.5 1370.4,251.4 1374.4,251.2 1378.4,245.6 1382.4,243.9 1386.4,242.1 1390.3,237.9 1394.3,236.5 1398.3,231.1 1402.3,230.1 1406.3,226.3 1410.2,222.1 1414.2,219.2 1418.2,214.2 1422.2,211.8 1426.2,208.1 1430.2,203.7 1434.1,200 1438.1,197.9 1442.1,194.6 1446.1,191.2 1450.1,190.8 1454,186.9 1458,185.2 1462,183.7 1462.4,178 1462.4,92.6" fill="none" stroke="#ff0080" stroke-width="2.7" stroke-linejoin="round" />
<polyline points="1089.8,92 1091,88 1098,86 1110,84 1116,81" fill="none" stroke="#ff0080" stroke-width="2.7" stroke-linejoin="round" />
<polyline points="1143.6,128 1143.6,190" fill="none" stroke="#e0207a" stroke-width="2.6" stroke-linejoin="round" />
<polyline points="1148,118 1152,117 1153,127 1160,128 1161,138 1166,140 1170,132 1171,118 1168,112" fill="none" stroke="#ff0080" stroke-width="2.6" stroke-linejoin="round" />
<polyline points="1068.6,100 1078.4,100 1078.4,121 1068.6,121 1068.6,100" fill="none" stroke="#0000ff" stroke-width="3.0" stroke-linejoin="round" />
<polyline points="1143,76 1146,74.5 1152,75 1155,79 1162,80 1167,84" fill="none" stroke="#0000ff" stroke-width="3.0" stroke-linejoin="round" />
<line x1="1096.3" y1="90" x2="1096.3" y2="200" stroke="#008000" stroke-width="3.0"/>
<line x1="1107.8" y1="120" x2="1107.8" y2="190" stroke="#800000" stroke-width="2.8"/>
<line x1="1134.6" y1="120" x2="1134.6" y2="186" stroke="#800000" stroke-width="2.8"/>
<line x1="1117" y1="130" x2="1117" y2="200" stroke="#000080" stroke-width="2.8"/>
<line x1="1331.5" y1="232" x2="1331.5" y2="246" stroke="#008000" stroke-width="5.5"/>
<polyline points="1262,290.8 1265.5,287.9 1269,275 1272.5,273.9 1276.1,263.2 1279.6,258.7 1283.1,261 1286.6,251.9 1290.1,252.6 1293.6,248.3 1297.1,245.5 1300.6,243 1304.2,238.1 1307.7,240.8 1311.2,232.4 1314.7,231.1 1318.2,227 1321.7,226.2 1325.2,223.7 1328.8,224.1 1332.3,216.3 1335.8,209.1 1339.3,202.6 1342.8,205.1 1346.3,195.4 1349.8,197.6 1353.4,193.4 1356.9,191.3 1360.4,183.9 1363.9,184.1 1367.4,181.8 1370.9,182.2 1374.4,183.4 1377.9,180.1 1381.5,175.7 1385,174 1388.5,180 1392,175.3 1396,160 1400,156" fill="none" stroke="#8000ff" stroke-width="2.6" stroke-linejoin="round" />
<polyline points="1334,212 1336,204 1340,203 1342,210 1348,206 1352,196 1358,190 1362,180 1366,182 1368,194" fill="none" stroke="#8000c0" stroke-width="2.6" stroke-linejoin="round" />
<polyline points="1118.5,79.1 1135.7,80.4 1150.7,82.9 1163.7,86.1 1175,89.8 1184.7,93.7 1193.2,97.8 1200.6,102 1207,106.2 1212.6,110.5 1217.4,114.7 1221.5,119 1225.2,123.3 1228.3,127.6 1231.1,131.9 1233.4,136.2 1235.5,140.5 1237.3,144.8 1238.8,149 1240.2,153.3 1241.3,157.6 1242.3,161.9 1243.2,166.2 1244,170.5 1244.7,174.8 1248.7,262.1 1253.3,176.3 1254,172 1254.8,167.6 1255.7,163.3 1256.7,159 1257.9,154.6 1259.3,150.3 1260.8,145.9 1262.7,141.6 1264.8,137.3 1267.2,132.9 1270,128.6 1273.2,124.3 1276.9,119.9 1281.2,115.6 1286.2,111.3 1291.9,106.9 1298.5,102.6 1306.1,98.3 1314.9,93.9 1325.1,93.3 1336.8,93.3 1350.3,93.3 1365.9,93.3 1383.8,93.3" fill="none" stroke="#ff8000" stroke-width="3.2" stroke-linejoin="round" />
<polyline points="1127.2,81.6 1143,83.7 1156.7,86.8 1168.7,90.3 1179.1,94.1 1188.2,98.2 1196.1,102.3 1202.9,106.5 1208.9,110.8 1214.1,115.1 1218.6,119.3 1222.6,123.6 1226,127.9 1229,132.2 1231.6,136.5 1233.8,140.8 1235.8,145.1 1237.5,149.4 1239,153.7 1240.3,158 1241.4,162.3 1242.4,166.6 1243.3,170.9 1244,175.2 1244.7,179.5 1248.7,263.7 1253.3,181 1254,176.5 1254.8,172.1 1255.7,167.7 1256.7,163.3 1257.9,158.8 1259.3,154.4 1260.8,150 1262.7,145.5 1264.8,141.1 1267.2,136.7 1270,132.3 1273.2,127.8 1276.9,123.4 1281.2,119 1286.2,114.5 1291.9,110.1 1298.5,105.7 1306.1,101.3 1314.9,96.8 1325.1,93.3 1336.8,93.3 1350.3,93.3 1365.9,93.3 1383.8,93.3" fill="none" stroke="#ff0080" stroke-width="3.2" stroke-linejoin="round" />
<polyline points="1140.2,85.5 1153.9,88.5 1165.8,92 1176.3,95.8 1185.4,99.8 1193.4,103.9 1200.4,108.1 1206.5,112.3 1211.8,116.5 1216.5,120.7 1220.6,124.9 1224.1,129.2 1227.2,133.4 1230,137.7 1232.4,141.9 1234.5,146.2 1236.3,150.4 1237.9,154.7 1239.3,158.9 1240.5,163.1 1241.6,167.4 1242.5,171.6 1243.3,175.9 1244,180.1 1244.7,184.4 1248.7,265.4 1253.3,185.9 1254,181.3 1254.8,176.8 1255.7,172.3 1256.7,167.7 1257.9,163.2 1259.3,158.7 1260.8,154.1 1262.7,149.6 1264.8,145.1 1267.2,140.6 1270,136 1273.2,131.5 1276.9,127 1281.2,122.4 1286.2,117.9 1291.9,113.4 1298.5,108.9 1306.1,104.3 1314.9,99.8 1325.1,95.3 1336.8,93.3 1350.3,93.3 1365.9,93.3 1383.8,93.3" fill="none" stroke="#ff00ff" stroke-width="3.2" stroke-linejoin="round" />
<polyline points="1135.9,87 1150.3,90.1 1162.8,93.7 1173.7,97.7 1183.3,101.8 1191.6,106 1198.9,110.4 1205.3,114.7 1210.8,119.1 1215.7,123.5 1219.9,127.8 1223.6,132.2 1226.8,136.6 1229.6,141 1232.1,145.4 1234.2,149.8 1236.1,154.2 1237.7,158.6 1239.2,163 1240.4,167.4 1241.5,171.8 1242.5,176.2 1243.3,180.6 1244,185 1244.7,189.4 1248.7,267.2 1253.3,190.9 1254,186.3 1254.8,181.7 1255.7,177 1256.7,172.4 1257.9,167.7 1259.3,163.1 1260.8,158.5 1262.7,153.8 1264.8,149.2 1267.2,144.5 1270,139.9 1273.2,135.3 1276.9,130.6 1281.2,126 1286.2,121.3 1291.9,116.7 1298.5,112.1 1306.1,107.4 1314.9,102.8 1325.1,98.2 1336.8,93.5 1350.3,93.3 1365.9,93.3 1383.8,93.3" fill="none" stroke="#800080" stroke-width="3.2" stroke-linejoin="round" />
<polyline points="1096.8,87 1117.7,91.6 1135.8,96.6 1151.4,101.8 1164.8,107.1 1176.4,112.5 1186.4,117.9 1195,123.3 1202.5,128.7 1208.9,134.2 1214.4,139.6 1219.2,145.1 1223.3,150.5 1226.8,156 1229.9,161.5 1232.5,166.9 1234.8,172.4 1236.7,177.8 1238.4,183.3 1239.9,188.7 1241.1,194.2 1242.2,199.6 1243.1,205.1 1244,210.6 1244.7,216 1248.7,277.7 1253.3,217.5 1254,212.2 1254.8,207 1255.7,201.7 1256.7,196.4 1257.9,191.1 1259.3,185.9 1260.8,180.6 1262.7,175.3 1264.8,170.1 1267.2,164.8 1270,159.5 1273.2,154.3 1276.9,149 1281.2,143.7 1286.2,138.5 1291.9,133.2 1298.5,127.9 1306.1,122.6 1314.9,117.4 1325.1,112.1 1336.8,106.8 1350.3,101.6 1365.9,96.3 1383.8,93.3" fill="none" stroke="#000000" stroke-width="3.2" stroke-linejoin="round" />
<polyline points="1096.8,86.7 1117.7,90.3 1135.8,94.6 1151.4,99.3 1164.8,104.3 1176.4,109.4 1186.4,114.6 1195,119.9 1202.5,125.1 1208.9,130.4 1214.4,135.7 1219.2,141 1223.3,146.3 1226.8,151.6 1229.9,156.9 1232.5,162.2 1234.8,167.5 1236.7,172.7 1238.4,178 1239.9,183.3 1241.1,188.6 1242.2,193.9 1243.1,199.2 1244,204.5 1244.7,209.8 1248.7,275.1 1253.3,211.3 1254,206.2 1254.8,201.1 1255.7,196 1256.7,190.8 1257.9,185.7 1259.3,180.6 1260.8,175.5 1262.7,170.4 1264.8,165.3 1267.2,160.2 1270,155 1273.2,149.9 1276.9,144.8 1281.2,139.7 1286.2,134.6 1291.9,129.5 1298.5,124.4 1306.1,119.2 1314.9,114.1 1325.1,109 1336.8,103.9 1350.3,98.8 1365.9,93.7 1383.8,93.3" fill="none" stroke="#008000" stroke-width="3.2" stroke-linejoin="round" />
<polyline points="1129.4,88.1 1144.8,91.4 1158.2,95.2 1169.9,99.3 1180.1,103.7 1189,108.1 1196.8,112.6 1203.5,117.2 1209.4,121.7 1214.5,126.3 1218.9,130.9 1222.8,135.5 1226.2,140.1 1229.1,144.7 1231.7,149.3 1233.9,153.9 1235.9,158.5 1237.6,163.1 1239,167.8 1240.3,172.4 1241.4,177 1242.4,181.6 1243.3,186.2 1244,190.8 1244.7,195.4 1248.7,269.4 1253.3,196.9 1254,192.1 1254.8,187.3 1255.7,182.5 1256.7,177.8 1257.9,173 1259.3,168.2 1260.8,163.5 1262.7,158.7 1264.8,153.9 1267.2,149.2 1270,144.4 1273.2,139.6 1276.9,134.8 1281.2,130.1 1286.2,125.3 1291.9,120.5 1298.5,115.8 1306.1,111 1314.9,106.2 1325.1,101.4 1336.8,96.7 1350.3,93.3 1365.9,93.3 1383.8,93.3" fill="none" stroke="#0000c0" stroke-width="3.2" stroke-linejoin="round" />
<polyline points="1118.5,88.5 1135.7,92 1150.7,96 1163.7,100.4 1175,105 1184.7,109.8 1193.2,114.6 1200.6,119.4 1207,124.3 1212.6,129.1 1217.4,134 1221.5,138.9 1225.2,143.8 1228.3,148.7 1231.1,153.5 1233.4,158.4 1235.5,163.3 1237.3,168.2 1238.8,173.1 1240.2,178 1241.3,182.9 1242.3,187.8 1243.2,192.6 1244,197.5 1244.7,202.4 1248.7,272.1 1253.3,203.9 1254,199 1254.8,194 1255.7,189.1 1256.7,184.2 1257.9,179.2 1259.3,174.3 1260.8,169.4 1262.7,164.4 1264.8,159.5 1267.2,154.6 1270,149.6 1273.2,144.7 1276.9,139.8 1281.2,134.8 1286.2,129.9 1291.9,124.9 1298.5,120 1306.1,115.1 1314.9,110.1 1325.1,105.2 1336.8,100.3 1350.3,95.3 1365.9,93.3 1383.8,93.3" fill="none" stroke="#000080" stroke-width="3.2" stroke-linejoin="round" />
<line x1="1318" y1="92.6" x2="1577" y2="92.6" stroke="#000080" stroke-width="4.0"/>
</g>
<g id="pc">
<rect x="171.8" y="635.2" width="604.2" height="491.3" fill="none" stroke="#000" stroke-width="3.8"/>
<line x1="215" y1="1117.2" x2="215" y2="1126.5" stroke="#000" stroke-width="3.4"/>
<text x="215" y="1162.8" font-size="34" text-anchor="middle" font-family='"Liberation Serif", serif' fill="#000" ><tspan stroke="#000" stroke-width="1.1">-</tspan>1.5</text>
<line x1="289.75" y1="1117.2" x2="289.75" y2="1126.5" stroke="#000" stroke-width="3.4"/>
<text x="289.75" y="1162.8" font-size="34" text-anchor="middle" font-family='"Liberation Serif", serif' fill="#000" ><tspan stroke="#000" stroke-width="1.1">-</tspan>1.0</text>
<line x1="364.5" y1="1117.2" x2="364.5" y2="1126.5" stroke="#000" stroke-width="3.4"/>
<text x="364.5" y="1162.8" font-size="34" text-anchor="middle" font-family='"Liberation Serif", serif' fill="#000" ><tspan stroke="#000" stroke-width="1.1">-</tspan>0.5</text>
<line x1="439.25" y1="1117.2" x2="439.25" y2="1126.5" stroke="#000" stroke-width="3.4"/>
<text x="439.25" y="1162.8" font-size="34" text-anchor="middle" font-family='"Liberation Serif", serif' fill="#000" >0.0</text>
<line x1="514" y1="1117.2" x2="514" y2="1126.5" stroke="#000" stroke-width="3.4"/>
<text x="514" y="1162.8" font-size="34" text-anchor="middle" font-family='"Liberation Serif", serif' fill="#000" >0.5</text>
<line x1="588.75" y1="1117.2" x2="588.75" y2="1126.5" stroke="#000" stroke-width="3.4"/>
<text x="588.75" y="1162.8" font-size="34" text-anchor="middle" font-family='"Liberation Serif", serif' fill="#000" >1.0</text>
<line x1="663.5" y1="1117.2" x2="663.5" y2="1126.5" stroke="#000" stroke-width="3.4"/>
<text x="663.5" y="1162.8" font-size="34" text-anchor="middle" font-family='"Liberation Serif", serif' fill="#000" >1.5</text>
<line x1="738.25" y1="1117.2" x2="738.25" y2="1126.5" stroke="#000" stroke-width="3.4"/>
<text x="738.25" y="1162.8" font-size="34" text-anchor="middle" font-family='"Liberation Serif", serif' fill="#000" >2.0</text>
<text x="132.47" y="1138.52" font-size="34" text-anchor="end" font-family='"Liberation Serif", serif' fill="#000" >10</text>
<text x="133.47" y="1116.52" font-size="19" text-anchor="start" font-family='"Liberation Serif", serif' fill="#000" >-10</text>
<line x1="171.8" y1="1060.26" x2="181.8" y2="1060.26" stroke="#000" stroke-width="3.4"/>
<text x="141.97" y="1073.06" font-size="34" text-anchor="end" font-family='"Liberation Serif", serif' fill="#000" >10</text>
<text x="142.97" y="1051.06" font-size="19" text-anchor="start" font-family='"Liberation Serif", serif' fill="#000" >-9</text>
<line x1="171.8" y1="994.8" x2="181.8" y2="994.8" stroke="#000" stroke-width="3.4"/>
<text x="141.97" y="1007.6" font-size="34" text-anchor="end" font-family='"Liberation Serif", serif' fill="#000" >10</text>
<text x="142.97" y="985.6" font-size="19" text-anchor="start" font-family='"Liberation Serif", serif' fill="#000" >-8</text>
<line x1="171.8" y1="929.34" x2="181.8" y2="929.34" stroke="#000" stroke-width="3.4"/>
<text x="141.97" y="942.14" font-size="34" text-anchor="end" font-family='"Liberation Serif", serif' fill="#000" >10</text>
<text x="142.97" y="920.14" font-size="19" text-anchor="start" font-family='"Liberation Serif", serif' fill="#000" >-7</text>
<line x1="171.8" y1="863.88" x2="181.8" y2="863.88" stroke="#000" stroke-width="3.4"/>
<text x="141.97" y="876.68" font-size="34" text-anchor="end" font-family='"Liberation Serif", serif' fill="#000" >10</text>
<text x="142.97" y="854.68" font-size="19" text-anchor="start" font-family='"Liberation Serif", serif' fill="#000" >-6</text>
<line x1="171.8" y1="798.42" x2="181.8" y2="798.42" stroke="#000" stroke-width="3.4"/>
<text x="141.97" y="811.22" font-size="34" text-anchor="end" font-family='"Liberation Serif", serif' fill="#000" >10</text>
<text x="142.97" y="789.22" font-size="19" text-anchor="start" font-family='"Liberation Serif", serif' fill="#000" >-5</text>
<line x1="171.8" y1="732.96" x2="181.8" y2="732.96" stroke="#000" stroke-width="3.4"/>
<text x="141.97" y="745.76" font-size="34" text-anchor="end" font-family='"Liberation Serif", serif' fill="#000" >10</text>
<text x="142.97" y="723.76" font-size="19" text-anchor="start" font-family='"Liberation Serif", serif' fill="#000" >-4</text>
<line x1="171.8" y1="667.5" x2="181.8" y2="667.5" stroke="#000" stroke-width="3.4"/>
<text x="141.97" y="680.3" font-size="34" text-anchor="end" font-family='"Liberation Serif", serif' fill="#000" >10</text>
<text x="142.97" y="658.3" font-size="19" text-anchor="start" font-family='"Liberation Serif", serif' fill="#000" >-3</text>
<text x="46" y="670" font-size="47" text-anchor="start" font-family='"Liberation Serif", serif' fill="#000" >(c)</text>
<text x="473.3" y="1218.8" font-size="41" text-anchor="middle" font-family='"Liberation Serif", serif' fill="#000" textLength="198.5" lengthAdjust="spacing">Voltage (V)</text>
<text transform="translate(89 898.8) rotate(-90)" font-size="41" text-anchor="middle" font-family='"Liberation Serif", serif' fill="#000" textLength="195" lengthAdjust="spacing">Current (A)</text>
<g id="pc-curves" fill="none" stroke-linejoin="round" stroke-linecap="butt">
<polyline points="440.2,1088 441.5,1050.6 442.5,1031 444,1020.3 446,1006.7 448,995.5 451,985.6 454,976.6 458,968 462,961.7 466,956.9 470,951.8 474.1,946 478.1,939.9 482.2,935.5 486.2,932.2 490.2,927.2 494.3,921 498.3,917.6 502.3,913.6 506.4,908.1 510.4,902.8 514.5,899.8 518.5,895.5 522.5,894.8 526.6,891.8 530.6,888.3 534.6,884.3 538.7,884 542.7,880.7 546.8,878.2 550.8,875.3 554.8,873.4 558.9,871.5 562.9,869.3 566.9,867.7 571,865.3 575,862 579.1,860.3 583.1,857.6 587.1,857.2 591.2,854 595.2,851.5 599.2,849.5 603.3,845.2 607.3,843.1 611.4,837.9 615.4,835.3 615.4,778.5 710.5,778.5 460.4,778.5 455.7,782 450,790 444.4,822 441.5,850 440.1,888 439.5,888 438.7,857.4 436.2,832.9 431.3,808.5 424.8,787.3 415,769.4 405.3,758 397.1,751.5 392.2,753.1 385.7,749 380,751.5 377.6,762.9 379,906 378.3,918.3 374.1,914.9 370,911.5 365.9,908.1 361.8,904.7 357.6,901.3 353.5,897.9 349.4,894.5 349.4,896.7 353.5,900.2 357.6,902 361.8,905.7 365.9,909.6 370,912.1 374.1,916.4 378.3,920.3 382.4,923.1 386.5,929.8 390.6,933.6 394.8,940 398.9,945.1 403,950.9 407.1,956.1 411.3,962.3 415.4,968.6 419.5,972.6 423.6,982.8 427.8,991.8 431.9,1004.4 436,1021.2 437.5,1035.7 438.6,1046.1 439.3,1052.4 439.5,1088" fill="none" stroke="#000000" stroke-width="3.6" stroke-linejoin="round" />
<polyline points="440.2,1076 441.5,1050.6 442.5,1031 444,1018 446,1005.2 448,994.3 451,983.8 454,977.3 458,968.4 462,962.4 466,955.5 470.1,951.1 474.2,945.7 478.2,940.1 482.3,936 486.4,929.7 490.5,927 494.6,922.6 498.7,916.2 502.7,912.6 506.8,908.3 510.9,902.7 515,900.1 519.1,895.8 523.1,892 527.2,890.9 531.3,887.6 535.4,884.7 539.5,883.5 543.6,880.1 547.6,878.1 551.7,876.2 555.8,872.5 559.9,871.4 564,868.4 568,866.1 572.1,864.8 576.2,862.4 580.3,860.6 584.4,856.5 588.5,856 592.5,853.1 596.6,849.7 600.7,847.5 600.7,746 710.5,746 492.7,746 476.4,754.2 463.2,765.4 455.7,776.7 450,784.2 444.4,821.8 441.5,836.5 440.1,876 439.5,876 438.2,834.4 434.6,810 428.1,785.5 419.9,769.2 410.2,756.2 395.5,744.8 379.2,736.7 356,731 349,729.5 343.5,729.5 342.5,871.7 342.4,877.5 338.3,874.1 334.2,870.9 330.1,867.9 326.1,864.8 322,861.7 322,862.5 326.1,866.5 330.1,869.3 334.2,872.7 338.3,876 342.4,878.7 346.4,881.4 350.5,885.8 354.6,888 358.6,892.6 362.7,894.9 366.8,898.2 370.9,902 374.9,905.5 379,910.3 383.1,914.8 387.1,922.2 391.2,928.1 395.3,932.4 399.4,937.7 403.4,944 407.5,948.3 411.6,952.5 415.6,960.4 419.7,966.4 423.8,974.7 427.9,982.6 431.9,996.8 436,1016.6 437.5,1030.4 438.6,1042.3 439.3,1050.6 439.5,1076" fill="none" stroke="#ff0000" stroke-width="3.6" stroke-linejoin="round" />
<polyline points="440.2,1073 441.5,1054.5 442.5,1049 444,1037.1 446,1023.7 448,1012.5 451,1000.9 454,992.4 458,981.2 462,973.2 466,967.5 470.1,962.5 474.1,956.4 478.2,951.5 482.3,945.8 486.4,941.8 490.4,936.3 494.5,933 498.6,929.4 502.6,923.9 506.7,920.6 510.8,916.2 514.8,914.2 518.9,910.5 523,906.8 527.1,903.6 531.1,899.4 535.2,898.4 539.3,894.9 543.3,892.8 547.4,890.6 551.5,887.8 555.6,883.8 559.6,882.2 563.7,880.8 567.8,876.5 571.8,873.9 575.9,872.2 580,869.7 584.1,867.6 588.1,866.2 592.2,864.6 596.3,861.3 600.3,859.4 604.4,857.9 608.5,857 612.5,854.5 616.6,852 620.7,851.3 624.8,847.3 628.8,845.7 632.9,841.9 632.9,731.8 710.5,731.8 520.1,731.8 513.9,733.9 495.1,743.3 476.4,752.7 463.2,763.9 455.7,775.2 450,782.7 444.4,820.3 441.5,835 440.1,864 439.5,864 438.2,833.7 434.6,809.3 428.1,784.8 419.9,768.5 410.2,755.5 395.5,744.1 379.2,736 355,727 355,881.5 352,890.6 348,887.3 344,884 340,880.6 336,877.2 332,873.8 328,870.4 324,867 320,863.6 316,860.3 312,857 308,853.6 304,850.3 300,847.3 300,849.6 304,851.3 308,855.6 312,858.1 316,861.4 320,865.5 324,868.8 328,872.6 332,874.4 336,879.6 340,882.6 344,885.1 348,889.9 352,893.2 356,894.5 360,899.8 364,902 368,906.2 372,908.2 376,911.8 380,915.4 384,921.6 388,926.7 392,931.8 396,936.5 400,942.9 404,947.7 408,953.7 412,957.3 416,963.1 420,969 424,977.9 428,988.5 432,1001.3 436,1019.7 437.5,1032.8 438.6,1044.1 439.3,1051.4 439.5,1073" fill="none" stroke="#0000ff" stroke-width="3.6" stroke-linejoin="round" />
<polyline points="440.2,1060 441.5,1050 442.5,1028.2 444,1015.4 446,1001.5 448,990.4 451,982.4 454,975.4 458,967.8 462,961.3 466,953.1 470.1,946 474.1,941.5 478.2,940.3 482.2,934.2 486.3,927.6 490.3,921.3 494.4,918.4 498.4,914.6 502.5,910.7 506.5,902.2 510.6,899.5 514.6,897.2 518.7,894 522.7,889.1 526.8,885.9 530.9,882.6 534.9,882.5 539,880.2 543,876.3 547.1,873.1 551.1,875 555.2,871.9 559.2,866.3 563.3,864.6 567.3,866.6 571.4,862.9 575.4,861.3 579.5,856 583.5,856.9 587.6,854.2 591.6,852.2 595.7,851 595.7,722.2 710.5,722.2 541.7,722.2 525.2,730.1 513.9,733.9 495.1,743.3 476.4,752.7 463.2,763.9 455.7,775.2 450,782.7 444.4,820.3 441.5,835 440.1,858 439.5,858 438.2,832.9 434.6,808.5 428.1,784 419.9,767.7 410.2,754.7 395.5,743.3 379.2,735.2 354.8,725.4 330.3,717.2 302.5,711.5 302.5,848 300,844.3 296,841.7 292,839.1 288,836.5 284,833.8 280,831.2 276,828.6 276,829.3 280,831.7 284,835.5 288,838.7 292,840.9 296,843.4 300,845.1 304,847.8 308,848.5 312,851.1 316,853.3 320,854 324,856.9 328,858.8 332,862.6 336,864.6 340,867 344,870.2 348,872.4 352,877.5 356,880.2 360,884.1 364,887.8 368,891 372,893 376,897.2 380,902.6 384,907.6 388,914.1 392,920.5 396,925.1 400,930.1 404,935.5 408,940.8 412,944.6 416,951.2 420,958.7 424,966.6 428,976 432,988.4 436,1013.2 437.5,1025.6 438.6,1038.8 439.3,1049.1 439.5,1060" fill="none" stroke="#008080" stroke-width="3.6" stroke-linejoin="round" />
<polyline points="440.2,1064 441.5,1056 442.5,1056 444,1044.8 446,1031.9 448,1019.7 451,1007.9 454,997.6 458,987.1 462,979.5 466,972.4 470.1,964.8 474.1,958.6 478.2,954 482.3,950.3 486.3,945.4 490.4,942.8 494.5,938.5 498.5,934.7 502.6,929.9 506.7,927 510.7,920.9 514.8,917.4 518.8,916.4 522.9,911 527,909.3 531,906.7 535.1,903.5 539.2,899.9 543.2,896.9 547.3,894.9 551.4,892.4 555.4,888.1 559.5,886 563.6,883.7 567.6,880.7 571.7,879.9 575.8,877.5 579.8,874 583.9,871.9 588,870.6 592,867.8 596.1,866 600.2,864.8 604.2,862.4 608.3,859.3 612.3,856.8 616.4,854.9 620.5,855.3 624.5,852.3 628.6,848.9 632.7,845 636.7,840.7 640.8,838.8 644.9,835.8 648.9,832 653,829.7 653,693.9 710.5,693.9 615.4,693.9 589,698.2 560.9,703.8 532.7,710.4 504.5,720.7 482,732 467,745.1 453.8,767.7 448.2,782.7 443,812 440.1,841 439.5,841 439.5,821.5 437.9,800.3 434.6,780.8 429.7,764.5 421.6,749.8 410.2,736.8 395.5,726.2 379.2,718.1 364.6,713.2 346.6,709.1 327.1,705 307.5,701 288,696.9 268.4,693.6 248.9,689.6 230.1,688.2 230.1,766 227.7,770 227.7,799 221,794 214.7,783.2 219,791 224.4,800.3 250,814.8 276,832.9 302,850.4 341,885.4 380.3,917.7 400,944.5 420.1,970.4 430.2,994.5 436.2,1020.6 439.2,1050.7 439.5,1064" fill="none" stroke="#ff00ff" stroke-width="3.6" stroke-linejoin="round" />
<line x1="592.5" y1="793" x2="592.5" y2="833" stroke="#008080" stroke-width="5.4"/>
<line x1="527" y1="731.8" x2="710.5" y2="731.8" stroke="#14148c" stroke-width="3.6"/>
<line x1="544" y1="722.2" x2="710.5" y2="722.2" stroke="#008080" stroke-width="3.6"/>
<line x1="653" y1="694" x2="653" y2="829.7" stroke="#ff00ff" stroke-width="3.6"/>
</g>
<line x1="540.3" y1="921.4" x2="599.3" y2="921.4" stroke="#000000" stroke-width="3.8"/>
<text x="605" y="931.5" font-size="35" text-anchor="start" font-family='"Liberation Serif", serif' fill="#000" textLength="140.5" lengthAdjust="spacingAndGlyphs">Icc=20μA</text>
<line x1="540.3" y1="967.5" x2="599.3" y2="967.5" stroke="#ff0000" stroke-width="3.8"/>
<text x="605" y="975" font-size="35" text-anchor="start" font-family='"Liberation Serif", serif' fill="#000" textLength="140.5" lengthAdjust="spacingAndGlyphs">Icc=60μA</text>
<line x1="540.3" y1="1011.9" x2="599.3" y2="1011.9" stroke="#0000ff" stroke-width="3.8"/>
<text x="605" y="1020" font-size="35" text-anchor="start" font-family='"Liberation Serif", serif' fill="#000" textLength="157.5" lengthAdjust="spacingAndGlyphs">Icc=100μA</text>
<line x1="540.3" y1="1056" x2="599.3" y2="1056" stroke="#008080" stroke-width="3.8"/>
<text x="605" y="1063.6" font-size="35" text-anchor="start" font-family='"Liberation Serif", serif' fill="#000" textLength="157.5" lengthAdjust="spacingAndGlyphs">Icc=140μA</text>
<line x1="540.3" y1="1100.3" x2="599.3" y2="1100.3" stroke="#ff00ff" stroke-width="3.8"/>
<text x="605" y="1108.6" font-size="35" text-anchor="start" font-family='"Liberation Serif", serif' fill="#000" textLength="157.5" lengthAdjust="spacingAndGlyphs">Icc=400μA</text>
</g>
<g id="pd">
<rect x="962.4" y="635.2" width="617.5" height="503.8" fill="none" stroke="#000" stroke-width="3.8"/>
<line x1="987" y1="1131.5" x2="987" y2="1139" stroke="#000" stroke-width="3.4"/>
<text transform="translate(987 1176.5) scale(1 1.13)" font-size="35.5" text-anchor="middle" font-family='"Liberation Sans", sans-serif' fill="#000" >0</text>
<line x1="1089.75" y1="1131.5" x2="1089.75" y2="1139" stroke="#000" stroke-width="3.4"/>
<text transform="translate(1089.75 1176.5) scale(1 1.13)" font-size="35.5" text-anchor="middle" font-family='"Liberation Sans", sans-serif' fill="#000" >20</text>
<line x1="1192.5" y1="1131.5" x2="1192.5" y2="1139" stroke="#000" stroke-width="3.4"/>
<text transform="translate(1192.5 1176.5) scale(1 1.13)" font-size="35.5" text-anchor="middle" font-family='"Liberation Sans", sans-serif' fill="#000" >40</text>
<line x1="1295.25" y1="1131.5" x2="1295.25" y2="1139" stroke="#000" stroke-width="3.4"/>
<text transform="translate(1295.25 1176.5) scale(1 1.13)" font-size="35.5" text-anchor="middle" font-family='"Liberation Sans", sans-serif' fill="#000" >60</text>
<line x1="1398" y1="1131.5" x2="1398" y2="1139" stroke="#000" stroke-width="3.4"/>
<text transform="translate(1398 1176.5) scale(1 1.13)" font-size="35.5" text-anchor="middle" font-family='"Liberation Sans", sans-serif' fill="#000" >80</text>
<line x1="1500.75" y1="1131.5" x2="1500.75" y2="1139" stroke="#000" stroke-width="3.4"/>
<text transform="translate(1500.75 1176.5) scale(1 1.13)" font-size="35.5" text-anchor="middle" font-family='"Liberation Sans", sans-serif' fill="#000" >100</text>
<text transform="translate(937.9 1153.35) scale(1 1.13)" font-size="34" text-anchor="end" font-family='"Liberation Sans", sans-serif' fill="#000" >10</text>
<text transform="translate(938.9 1133.85) scale(1 1.13)" font-size="19" text-anchor="start" font-family='"Liberation Sans", sans-serif' fill="#000" >3</text>
<line x1="962.4" y1="1021.95" x2="973.9" y2="1021.95" stroke="#000" stroke-width="3.4"/>
<text transform="translate(937.9 1036.45) scale(1 1.13)" font-size="34" text-anchor="end" font-family='"Liberation Sans", sans-serif' fill="#000" >10</text>
<text transform="translate(938.9 1016.95) scale(1 1.13)" font-size="19" text-anchor="start" font-family='"Liberation Sans", sans-serif' fill="#000" >4</text>
<line x1="962.4" y1="905.05" x2="973.9" y2="905.05" stroke="#000" stroke-width="3.4"/>
<text transform="translate(937.9 919.55) scale(1 1.13)" font-size="34" text-anchor="end" font-family='"Liberation Sans", sans-serif' fill="#000" >10</text>
<text transform="translate(938.9 900.05) scale(1 1.13)" font-size="19" text-anchor="start" font-family='"Liberation Sans", sans-serif' fill="#000" >5</text>
<line x1="962.4" y1="788.15" x2="973.9" y2="788.15" stroke="#000" stroke-width="3.4"/>
<text transform="translate(937.9 802.65) scale(1 1.13)" font-size="34" text-anchor="end" font-family='"Liberation Sans", sans-serif' fill="#000" >10</text>
<text transform="translate(938.9 783.15) scale(1 1.13)" font-size="19" text-anchor="start" font-family='"Liberation Sans", sans-serif' fill="#000" >6</text>
<line x1="962.4" y1="671.25" x2="973.9" y2="671.25" stroke="#000" stroke-width="3.4"/>
<text transform="translate(937.9 685.75) scale(1 1.13)" font-size="34" text-anchor="end" font-family='"Liberation Sans", sans-serif' fill="#000" >10</text>
<text transform="translate(938.9 666.25) scale(1 1.13)" font-size="19" text-anchor="start" font-family='"Liberation Sans", sans-serif' fill="#000" >7</text>
<text x="836" y="669" font-size="47" text-anchor="start" font-family='"Liberation Serif", serif' fill="#000" >(d)</text>
<text x="1270" y="1227.5" font-size="41" text-anchor="middle" font-family='"Liberation Serif", serif' fill="#000" >Cycles (#)</text>
<text transform="translate(871 903) rotate(-90)" font-size="41" text-anchor="middle" font-family='"Liberation Serif", serif' fill="#000" textLength="241" lengthAdjust="spacing">Resistance(Ω)</text>
</g>
<g id="pd-data">
<rect x="992.67" y="689.5" width="10" height="10" fill="#000"/>
<rect x="1002.95" y="691.5" width="10" height="10" fill="#000"/>
<rect x="1013.23" y="697.8" width="10" height="10" fill="#000"/>
<rect x="1023.5" y="687.3" width="10" height="10" fill="#000"/>
<rect x="1033.78" y="685.3" width="10" height="10" fill="#000"/>
<rect x="1044.05" y="683.6" width="10" height="10" fill="#000"/>
<rect x="1054.33" y="685.3" width="10" height="10" fill="#000"/>
<rect x="1064.6" y="681.4" width="10" height="10" fill="#000"/>
<rect x="1074.88" y="683.6" width="10" height="10" fill="#000"/>
<rect x="1085.15" y="671.3" width="10" height="10" fill="#000"/>
<rect x="1095.42" y="709.8" width="10" height="10" fill="#000"/>
<rect x="1105.7" y="709.8" width="10" height="10" fill="#000"/>
<rect x="1115.97" y="683.6" width="10" height="10" fill="#000"/>
<rect x="1126.25" y="713.8" width="10" height="10" fill="#000"/>
<rect x="1136.53" y="713.8" width="10" height="10" fill="#000"/>
<rect x="1146.8" y="707.9" width="10" height="10" fill="#000"/>
<rect x="1157.08" y="713.8" width="10" height="10" fill="#000"/>
<rect x="1167.35" y="717.7" width="10" height="10" fill="#000"/>
<rect x="1177.62" y="693.6" width="10" height="10" fill="#000"/>
<rect x="1187.9" y="695.4" width="10" height="10" fill="#000"/>
<rect x="1198.17" y="687.3" width="10" height="10" fill="#000"/>
<rect x="1208.45" y="667.1" width="10" height="10" fill="#000"/>
<rect x="1218.72" y="701.7" width="10" height="10" fill="#000"/>
<rect x="1229" y="679.4" width="10" height="10" fill="#000"/>
<rect x="1239.28" y="675.5" width="10" height="10" fill="#000"/>
<rect x="1250.55" y="687.7" width="10" height="10" fill="#000"/>
<rect x="1260.83" y="746" width="10" height="10" fill="#000"/>
<rect x="1271.1" y="677.2" width="10" height="10" fill="#000"/>
<rect x="1281.38" y="699.6" width="10" height="10" fill="#000"/>
<rect x="1291.65" y="673.5" width="10" height="10" fill="#000"/>
<rect x="1301.92" y="701.7" width="10" height="10" fill="#000"/>
<rect x="1312.2" y="778.4" width="10" height="10" fill="#000"/>
<rect x="1322.47" y="721.9" width="10" height="10" fill="#000"/>
<rect x="1332.75" y="707.6" width="10" height="10" fill="#000"/>
<rect x="1343.03" y="693.6" width="10" height="10" fill="#000"/>
<rect x="1353.3" y="697.8" width="10" height="10" fill="#000"/>
<rect x="1363.58" y="685.3" width="10" height="10" fill="#000"/>
<rect x="1373.85" y="691.5" width="10" height="10" fill="#000"/>
<rect x="1384.12" y="719.7" width="10" height="10" fill="#000"/>
<rect x="1394.4" y="729.8" width="10" height="10" fill="#000"/>
<rect x="1404.67" y="685.6" width="10" height="10" fill="#000"/>
<rect x="1414.95" y="681.4" width="10" height="10" fill="#000"/>
<rect x="1425.22" y="727.8" width="10" height="10" fill="#000"/>
<rect x="1435.5" y="731.7" width="10" height="10" fill="#000"/>
<rect x="1445.78" y="702.8" width="10" height="10" fill="#000"/>
<rect x="1456.05" y="721.9" width="10" height="10" fill="#000"/>
<rect x="1466.33" y="721.9" width="10" height="10" fill="#000"/>
<rect x="1476.6" y="681.6" width="10" height="10" fill="#000"/>
<rect x="1486.88" y="686.8" width="10" height="10" fill="#000"/>
<rect x="1497.15" y="690.5" width="10" height="10" fill="#000"/>
<polygon points="997.67,1004.38 1004.29,1011 997.67,1017.62 991.06,1011" fill="#ff0000"/>
<polygon points="1007.95,1013.49 1014.56,1020.1 1007.95,1026.71 1001.33,1020.1" fill="#ff0000"/>
<polygon points="1018.23,1001.38 1024.84,1008 1018.23,1014.62 1011.61,1008" fill="#ff0000"/>
<polygon points="1028.5,996.28 1035.12,1002.9 1028.5,1009.51 1021.88,1002.9" fill="#ff0000"/>
<polygon points="1038.78,1005.59 1045.39,1012.2 1038.78,1018.82 1032.16,1012.2" fill="#ff0000"/>
<polygon points="1049.05,1005.59 1055.66,1012.2 1049.05,1018.82 1042.43,1012.2" fill="#ff0000"/>
<polygon points="1059.33,1006.38 1065.94,1013 1059.33,1019.62 1052.71,1013" fill="#ff0000"/>
<polygon points="1069.6,991.18 1076.21,997.8 1069.6,1004.41 1062.98,997.8" fill="#ff0000"/>
<polygon points="1079.88,1011.49 1086.49,1018.1 1079.88,1024.71 1073.26,1018.1" fill="#ff0000"/>
<polygon points="1090.15,1013.49 1096.77,1020.1 1090.15,1026.71 1083.54,1020.1" fill="#ff0000"/>
<polygon points="1100.42,1038.15 1108.12,1051.9 1092.72,1051.9" fill="#0000ff"/>
<polygon points="1110.7,1032.25 1118.4,1046 1103,1046" fill="#0000ff"/>
<polygon points="1120.97,1029.75 1128.67,1043.5 1113.27,1043.5" fill="#0000ff"/>
<polygon points="1131.25,1029.75 1138.95,1043.5 1123.55,1043.5" fill="#0000ff"/>
<polygon points="1141.53,1029.75 1149.23,1043.5 1133.83,1043.5" fill="#0000ff"/>
<polygon points="1151.8,1033.05 1159.5,1046.8 1144.1,1046.8" fill="#0000ff"/>
<polygon points="1162.08,1029.75 1169.78,1043.5 1154.38,1043.5" fill="#0000ff"/>
<polygon points="1172.35,1029.75 1180.05,1043.5 1164.65,1043.5" fill="#0000ff"/>
<polygon points="1182.62,1032.25 1190.33,1046 1174.92,1046" fill="#0000ff"/>
<polygon points="1192.9,1028.05 1200.6,1041.8 1185.2,1041.8" fill="#0000ff"/>
<polygon points="1203.17,1063.95 1210.88,1050.2 1195.47,1050.2" fill="#008080"/>
<polygon points="1213.45,1064.95 1221.15,1051.2 1205.75,1051.2" fill="#008080"/>
<polygon points="1223.72,1065.95 1231.42,1052.2 1216.02,1052.2" fill="#008080"/>
<polygon points="1234,1065.95 1241.7,1052.2 1226.3,1052.2" fill="#008080"/>
<polygon points="1244.28,1064.95 1251.98,1051.2 1236.58,1051.2" fill="#008080"/>
<polygon points="1254.55,1062.95 1262.25,1049.2 1246.85,1049.2" fill="#008080"/>
<polygon points="1264.83,1061.95 1272.53,1048.2 1257.12,1048.2" fill="#008080"/>
<polygon points="1275.1,1057.95 1282.8,1044.2 1267.4,1044.2" fill="#008080"/>
<polygon points="1285.38,1061.95 1293.08,1048.2 1277.67,1048.2" fill="#008080"/>
<polygon points="1295.65,1061.95 1303.35,1048.2 1287.95,1048.2" fill="#008080"/>
<polygon points="1298.97,1061.6 1312.72,1053.9 1312.72,1069.3" fill="#ff00ff"/>
<polygon points="1309.25,1061.6 1323,1053.9 1323,1069.3" fill="#ff00ff"/>
<polygon points="1319.52,1061.6 1333.27,1053.9 1333.27,1069.3" fill="#ff00ff"/>
<polygon points="1329.8,1061.6 1343.55,1053.9 1343.55,1069.3" fill="#ff00ff"/>
<polygon points="1340.08,1061.6 1353.83,1053.9 1353.83,1069.3" fill="#ff00ff"/>
<polygon points="1350.35,1061.6 1364.1,1053.9 1364.1,1069.3" fill="#ff00ff"/>
<polygon points="1360.62,1061.6 1374.38,1053.9 1374.38,1069.3" fill="#ff00ff"/>
<polygon points="1370.9,1061.6 1384.65,1053.9 1384.65,1069.3" fill="#ff00ff"/>
<polygon points="1381.17,1061.6 1394.92,1053.9 1394.92,1069.3" fill="#ff00ff"/>
<polygon points="1391.45,1061.6 1405.2,1053.9 1405.2,1069.3" fill="#ff00ff"/>
<polygon points="1417.12,1080.5 1403.38,1072.8 1403.38,1088.2" fill="#808000"/>
<polygon points="1427.4,1085 1413.65,1077.3 1413.65,1092.7" fill="#808000"/>
<polygon points="1437.67,1094 1423.92,1086.3 1423.92,1101.7" fill="#808000"/>
<polygon points="1447.95,1081.8 1434.2,1074.1 1434.2,1089.5" fill="#808000"/>
<polygon points="1458.23,1100 1444.48,1092.3 1444.48,1107.7" fill="#808000"/>
<polygon points="1468.5,1105 1454.75,1097.3 1454.75,1112.7" fill="#808000"/>
<polygon points="1478.78,1101.5 1465.03,1093.8 1465.03,1109.2" fill="#808000"/>
<polygon points="1489.05,1084.5 1475.3,1076.8 1475.3,1092.2" fill="#808000"/>
<polygon points="1499.33,1084 1485.58,1076.3 1485.58,1091.7" fill="#808000"/>
<polygon points="1509.6,1079.5 1495.85,1071.8 1495.85,1087.2" fill="#808000"/>
<polygon points="1362,819.7 1368.3,826 1362,832.3 1355.7,826" fill="#ff0000"/>
<text x="1404" y="835.5" font-size="35" text-anchor="start" font-family='"Liberation Serif", serif' fill="#ff0000" textLength="143.5" lengthAdjust="spacingAndGlyphs">Icc=20μA</text>
<polygon points="1362,866 1369,878.5 1355,878.5" fill="#0000ff"/>
<text x="1404" y="882.5" font-size="35" text-anchor="start" font-family='"Liberation Serif", serif' fill="#0000ff" textLength="143.5" lengthAdjust="spacingAndGlyphs">Icc=60μA</text>
<polygon points="1362,926.5 1369,914 1355,914" fill="#008080"/>
<text x="1404" y="929" font-size="35" text-anchor="start" font-family='"Liberation Serif", serif' fill="#008080" textLength="160" lengthAdjust="spacingAndGlyphs">Icc=100μA</text>
<polygon points="1355,964.8 1367.5,957.8 1367.5,971.8" fill="#ff00ff"/>
<text x="1404" y="974.3" font-size="35" text-anchor="start" font-family='"Liberation Serif", serif' fill="#ff00ff" textLength="160" lengthAdjust="spacingAndGlyphs">Icc=140μA</text>
<polygon points="1369,1010.3 1356.5,1003.3 1356.5,1017.3" fill="#808000"/>
<text x="1404" y="1019.8" font-size="35" text-anchor="start" font-family='"Liberation Serif", serif' fill="#808000" textLength="160" lengthAdjust="spacingAndGlyphs">Icc=400μA</text>
</g>
<g id="annot">
<text x="215" y="60" font-size="37" text-anchor="start" font-family='"Liberation Serif", serif' fill="#000" >3</text>
<path d="M283 50.5 L275.27 50.41 L267.68 51.12 L260.23 52.65 L252.92 54.98 L245.75 58.12 L238.72 62.08 L231.83 66.84 L225.08 72.42 L218.47 78.81 L212 86" fill="none" stroke="#000" stroke-width="2.3" stroke-linejoin="round"/>
<polygon points="210.66,87.49 218.61,71.77 225.45,77.92" fill="#000"/>
<text x="692" y="52.5" font-size="37" text-anchor="start" font-family='"Liberation Serif", serif' fill="#000" >2</text>
<path d="M738 68.5 L676 68.5 L664 68.5" fill="none" stroke="#000" stroke-width="2.3" stroke-linejoin="round"/>
<polygon points="662,68.5 680,63.9 680,73.1" fill="#000"/>
<text x="290.5" y="364.5" font-size="37" text-anchor="start" font-family='"Liberation Serif", serif' fill="#000" >4</text>
<path d="M295 290 L340 340 L350.5 352" fill="none" stroke="#000" stroke-width="2.3" stroke-linejoin="round"/>
<polygon points="351.82,353.51 336.5,342.99 343.43,336.93" fill="#000"/>
<text x="575" y="372" font-size="37" text-anchor="start" font-family='"Liberation Serif", serif' fill="#000" >1</text>
<path d="M534.5 372 L537.55 363.23 L541.3 354.92 L545.75 347.07 L550.9 339.68 L556.75 332.75 L563.3 326.28 L570.55 320.27 L578.5 314.72 L587.15 309.63 L596.5 305" fill="none" stroke="#000" stroke-width="2.3" stroke-linejoin="round"/>
<polygon points="598.29,304.11 585.1,315.78 581.02,307.53" fill="#000"/>
<text x="1054" y="67.5" font-size="37" text-anchor="start" font-family='"Liberation Serif", serif' fill="#000" >3</text>
<path d="M1135 47.5 L1126.6 48.68 L1118.6 50.42 L1111 52.72 L1103.8 55.58 L1097 59 L1090.6 62.98 L1084.6 67.52 L1079 72.62 L1073.8 78.28 L1069 84.5" fill="none" stroke="#000" stroke-width="2.3" stroke-linejoin="round"/>
<polygon points="1067.78,86.08 1074.52,69.81 1081.81,75.44" fill="#000"/>
<text x="1479" y="63.8" font-size="37" text-anchor="start" font-family='"Liberation Serif", serif' fill="#000" >2</text>
<path d="M1526 79.5 L1464 79.5 L1452 79.5" fill="none" stroke="#000" stroke-width="2.3" stroke-linejoin="round"/>
<polygon points="1450,79.5 1468,74.9 1468,84.1" fill="#000"/>
<text x="1094" y="332" font-size="37" text-anchor="start" font-family='"Liberation Serif", serif' fill="#000" >4</text>
<path d="M1092.5 265 L1150 305 L1160 312" fill="none" stroke="#000" stroke-width="2.3" stroke-linejoin="round"/>
<polygon points="1161.64,313.15 1144.25,306.59 1149.53,299.06" fill="#000"/>
<text x="1361" y="336.3" font-size="37" text-anchor="start" font-family='"Liberation Serif", serif' fill="#000" >1</text>
<path d="M1322 335.5 L1324.97 327 L1328.68 318.88 L1333.13 311.15 L1338.32 303.82 L1344.25 296.88 L1350.92 290.32 L1358.33 284.16 L1366.48 278.38 L1375.37 273 L1385 268" fill="none" stroke="#000" stroke-width="2.3" stroke-linejoin="round"/>
<polygon points="1386.78,267.08 1373.8,278.99 1369.57,270.82" fill="#000"/>
<line x1="605" y1="386.8" x2="676.5" y2="386.8" stroke="#000000" stroke-width="3.8"/>
<text x="684.2" y="397" font-size="29" text-anchor="start" font-family='"Liberation Serif", serif' fill="#000" textLength="32.5" lengthAdjust="spacingAndGlyphs">1st</text>
<line x1="605" y1="425.8" x2="676.5" y2="425.8" stroke="#b03030" stroke-width="3.8"/>
<text x="684.2" y="436" font-size="29" text-anchor="start" font-family='"Liberation Serif", serif' fill="#000" textLength="50" lengthAdjust="spacingAndGlyphs">50th</text>
<line x1="605" y1="464" x2="676.5" y2="464" stroke="#0000c8" stroke-width="3.8"/>
<text x="684.2" y="474.2" font-size="29" text-anchor="start" font-family='"Liberation Serif", serif' fill="#000" textLength="66" lengthAdjust="spacingAndGlyphs">100th</text>
<line x1="1411" y1="365" x2="1482.5" y2="365" stroke="#000000" stroke-width="3.8"/>
<text x="1488.2" y="375.2" font-size="29" text-anchor="start" font-family='"Liberation Serif", serif' fill="#000" textLength="35" lengthAdjust="spacingAndGlyphs">1st</text>
<line x1="1411" y1="403.5" x2="1482.5" y2="403.5" stroke="#ff0000" stroke-width="3.8"/>
<text x="1488.2" y="413.7" font-size="29" text-anchor="start" font-family='"Liberation Serif", serif' fill="#000" textLength="52.5" lengthAdjust="spacingAndGlyphs">50th</text>
<line x1="1411" y1="441.8" x2="1482.5" y2="441.8" stroke="#000080" stroke-width="3.8"/>
<text x="1488.2" y="452" font-size="29" text-anchor="start" font-family='"Liberation Serif", serif' fill="#000" textLength="66" lengthAdjust="spacingAndGlyphs">100th</text>
</g>
</g>
</svg>
</body></html>
